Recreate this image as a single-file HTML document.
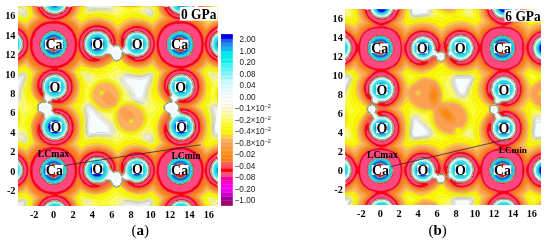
<!DOCTYPE html>
<html><head><meta charset="utf-8"><style>
html,body{margin:0;padding:0;background:#fff;}
svg{display:block;}
.al{font-family:"Liberation Serif",serif;font-weight:bold;font-size:14.6px;text-anchor:middle;fill:#000;}
.tk{font-family:"Liberation Serif",serif;font-weight:bold;font-size:10.3px;fill:#000;}
.cl{font-family:"Liberation Sans",sans-serif;font-size:8.8px;fill:#1a1a1a;}
.sup{font-size:6px;}
.ti{font-family:"Liberation Serif",serif;font-weight:bold;font-size:15.3px;fill:#000;}
.lc{font-family:"Liberation Serif",serif;font-weight:bold;font-size:9.8px;fill:#000;}
.pl{font-family:"Liberation Serif",serif;font-size:15px;fill:#000;}
</style></head><body>
<svg width="550" height="241" viewBox="0 0 550 241" xmlns="http://www.w3.org/2000/svg">
<rect width="550" height="241" fill="#fff"/>
<clipPath id="ca"><rect x="18" y="6.8" width="199.5" height="199.3"/></clipPath><g clip-path="url(#ca)"><rect x="18" y="6.8" width="199.5" height="199.3" fill="#fc4880"/><path fill="#fc0010" stroke="#707070" stroke-width="0.35" stroke-opacity="0.18" d="M15.3 210l24 0 .2-2.3 1.3-2.9 3.2-4.1 6-3.5 3.5-.4 5.8.4 4.6 2.2 4.7 4.8 2.3 5.8 94.8 0 1.2-4.6 3.5-4.7 3.4-2.3 5.9-1.6 6.2.5 3.1 1.1 3.2 2.3 3.7 4.7 1.4 4.6 24.1 0 0-54.3-4.7 1.5-3.6 3-2.6 3.5-1.5 5.8.2 3.5 2.4 5.7 2.8 3.3 4.8 3.7-1.4 0-4.7-2.3-3.4-3.5-2.3-4.6-.6-4.6.7-5.9 2.3-4.6 5-4.6 1.9-1.1 4.7-1.3 0-123.6-4.7 1.5-3.7 3.1-2.5 3.4-1.5 5.8.2 3.5 2.4 5.8 2.8 3.2 4.8 3.7-1.4 0-4.5-2.2-3.6-3.6-2.3-4.6-.6-4.6.7-5.9 2.3-4.6 5-4.6 1.9-1.1 4.7-1.3 0-24.2-23 0-2.4 7-3 3.4-2.9 2.3-2.5 1.2-5.3 1.2-6.1-.9-3.5-1.5-4.6-4.3-2.3-5.5 1.2.4.4 1.3 2 2.4 3.3 3.1 4.7 2.1 6.9.2 5.8-2.6 3-2.8 2.4-4.7.4-2.3-124.2 0-.8 3.8-3.5 5.7-4.6 3.5-6.9 2.1-2.4 0-4.6-1.1-4.2-2.4-4.1-4.6-1.1-2.4.1-2.4.3 1.3 4.1 4.6 3.7 2.9 3.5 1.3 4.6.3 2.3-.2 3.5-1.3 3.5-2.8 2.9-3.7 1.4-4.6-55.3 0 0 25.4 5.6 2.4 3.7 3.4 2.3 4.4 1 4.9-.8 5.8-2.5 4.8-3.4 3.3-5.9 2.4 0 94.7 5.6 2.4 3.7 3.4 2.3 4.4 1 4.9-.8 5.8-2.4 4.6-3.5 3.5-5.9 2.4 0 24.2zM48 191.5l-5.9-2.3-6-5.6-2.3-4.3-1.2-3.9 0-9.5 3.4-8 2.4-2.7 4-3.1 6.2-2.3 10 0 6.4 2.3 4.2 3.5 2.8 3.5 2.5 6.9.3 5.8-.4 4.6-2.4 5.9-2.6 3.4-4.3 3.5-5.8 2.3-4.7.4-5.7-.3zM174.7 191.5l-7.8-3.5-3.4-3.3-2.4-3.6-2.3-8.1.1-4.7 1.1-5.2 1.1-2.9 2.3-3.4 3.6-3.5 2-1.2 6-2.3 10.5 0 3.5 1.1 5.7 3.5 2.4 2.4 2.3 3.9 1.2 3 .9 5.8-.9 8.1-3.5 7-5.6 4.6-5.8 2.3-4.8.4-5.8-.4zM91.5 185.7l-3.3-1.2-2.9-2.3-2.9-3.4-1.2-2.4-1.1-4.4 0-3.7 1.2-4.6 1.1-2.3 2.9-3.5 5.2-3.5 3.5-1.1 4.6-.2 5.8 1.5 4.7 3.2 3.4 4.8 1.2 3.7 0 4.4-1.2-1.2-.7-3.5-1.8-3.4-4.6-4.7-3.3-1.8-5.8-.5-3.4.4-2.4 1-4.2 3.2-2.4 3.5-1.2 3.5.2 6.9 2.1 4.6 5.5 5.5 1.3.3.8 1.2-.9 0zM135.2 185.7l-.9-1.2 4.9-.3 3.4-1.3 3.5-2.4 3.2-4.1 1-2.3.4-4.6-.2-2.3-1.3-3.5-5.4-5.5-4.6-1.4-7 .4-3.5 2-5.7 6-.1-1.5 2.5-4.6 4.4-3.5 4.7-1.4 5.8.1 5.8 2.4 4.7 4.7 2.3 5.7 0 6.1-2.2 5.5-4.5 4.7-4.8 2.3-5.9 0zM53.4 144l-4.5-1-2.4-1.1-3.2-2.5-3.8-5.8.1-2.4.3 1.3 4.3 4.8 3.5 2.7 3.5 1.3 6.9.1 3.5-1.3 3.7-3 2.7-3.5 1.3-3.4-.1-7-2.1-4.6-3.3-3.5-5.7-3.1-2.5-.3-1.3-1.2 5 0 4.6 2 3.5 2.6 3.5 5.7 1 7.1-.9 4.6-1.3 2.8-2.1 3-2.5 2.3-4.2 2.3-5.1 1.2-2.3 0zM180.2 144l-5.1-1.1-3.9-2.3-3.3-3.5-2.1-5.2 1.2.4 1.4 2.5 4.3 4.3 4.7 2.1 2.3.4 5.8-.4 5.8-3.3 1.8-2 2.4-4.6.5-4.6-.5-4.6-1.1-2.3-3.1-3.9-3.5-2.6-2.3-1.1-3.5-.5-1.2-1.2 4.9 0 5.5 2.3 3.7 3.5 2.2 3.4 1.1 3.5.2 5.8-1.3 4.8-1.1 2.1-3 3.5-5.3 3.5-6.8 1.2zM60.4 101.2l-.2-1.1 4.4-3.5 2.4-3.5 1.4-4.6-.1-4.6-1.3-3.5-5.4-5.5-2.3-1.1-4.7-.7-4.6.7-2.3 1.2-5.2 5.4-1.5 3.5-.2 4.3-1.2.9-.3-6.4 1.5-4 1-1.7 3.6-3.6 4.6-2.3 8.1-.2 4.1 1.4 5.2 4.3 2.4 3.8 1.1 3.4.1 3.6-.1 2.3-1.2 3.5-3.2 4.6-3.3 2.3zM186.6 100.1l1.2-.4 3.5-3.3 2.8-4.4.8-5.8-.4-3.5-1-2.3-3.4-4.2-3.5-2.1-4.6-1-5.8.9-3.5 2.1-2.9 3.2-2.5 5.7-.4 4.7-1.1-1.1-.2-2.4.2-3.6 1.1-3.3 3.5-4.7 3.4-2.3 4.7-1.4 7.5.3 3 1.1 3.2 2.3 3.7 4.7 1.2 3.2.4 3.7-.4 4.9-1.2 2.9-2.3 3.2-3.4 2.9-3.6.9zM48.1 65.4l-5.9-2.3-3.1-2.3-3-3.3-2.3-4.3-1.2-3.9 0-9.5 3.4-8 4.6-4.6 4.2-2.3 3.7-1.2 10.2 0 6.4 2.4 4.6 3.9 2.3 3 2.5 6.9.3 5.8-.5 4.7-2.3 5.8-3.8 4.6-3.1 2.3-5.8 2.3-4.7.4-5.7-.3zM174.8 65.4l-3.6-1.2-4.3-2.3-3.4-3.3-2.4-3.6-2.3-8.1.1-4.7 1.1-5.2 1.1-2.8 2.3-3.5 3.6-3.5 2.3-1.3 5.7-2.2 10.5 0 3.5 1.1 5.7 3.5 2.4 2.4 2.3 3.9 1.2 3 .9 5.8-.9 8.1-3.5 7-5.6 4.6-5.8 2.3-4.8.4-5.8-.4zM91.6 59.6l-3.4-1.2-2.9-2.3-2.9-3.4-1.2-2.4-1.1-4.4 0-3.7 1.2-4.6 1.1-2.3 2.9-3.5 5.2-3.5 3.4-1.1 4.7-.2 5.6 1.4 3.7 2.2 3.5 4 2.3 5.6 0 4.4-1.2-1.2-.7-3.5-1.8-3.4-4.6-4.7-3.3-1.8-5.8-.5-3.4.4-2.4 1-2.3 1.4-2.3 2.3-2 3-1.2 3.5.2 6.9 2.1 4.7 5.5 5.4 1.3.3.8 1.2-.9 0zM135.3 59.6l-1-1.2 4.9-.3 3.4-1.3 3.5-2.4 3.2-4.1 1-2.3.4-4.6-.2-2.3-1.3-3.5-5.4-5.5-3.5-1.3-3.4-.2-4.7.5-2.3 1.1-6.9 6.9-.1-1.5 1.2-2.7 2.3-3.1 3.4-2.3 4.7-1.4 7 .3 4.6 2.2 4.7 4.7 2.3 5.7 0 6.1-2.2 5.6-4.5 4.6-4.8 2.3-5.9.1zM41.9 210l26.4 0-1.3-3.5-4.2-4.6-3.5-2-4.7-.7-4.6.7-3.5 2.1-4 4.5-1.5 3.5zM168.1 210l26.6 0-1.3-3.5-3.3-4.2-3.5-2.1-4.6-1-4.6.5-4.7 2.5-2.9 3.2-2.1 4.6zM50 184.2l7 .1 1-.9 1.3 0 1.1-1.2 1.2-.1 3.3-3.4.2-1.1 1.1-1.2 0-1.2 1-1.1 0-6.9-1-1.1 0-1.2-1.4-2.3-3.2-3.2-5.8-2.6-4.6 0-1.2 1.1-2.3.1-4.1 3.4-2.7 3.5-.1 2.3-1.1 1.1 0 4.7 1.1 1.1 0 2.3 3.4 4.4 3.5 2.5 1.4.1zM177.4 184.5l5.8 0 1.1-1.1 2.3-.5 5.7-5.3.1-1.3 1.1-1 .1-8.1-1.4-3.5-4.4-4.6-1.2 0-1.1-1.2-1.3 0-1-.9-5.8-.1-1.1 1-2.4.5-5.8 5.3 0 1.2-1.1 1.1 0 3.6-.6 1.1.6 1.1 0 3.5 1.1 1.1 0 1.2 5.8 5.6 2.3.2zM15.3 183.2l3.5-2.2 3.2-3.4 2-4.6.2-3.5-1.1-4.6-1.2-2.3-3.1-3.3-4.7-2.3 0 26.4zM50 58.1l7 .1 1-.9 1.3 0 1.1-1.2 1.2-.1 3.3-3.3.2-1.2 1.1-1.2 0-1.2 1-1.1 0-6.9-1-1.1 0-1.2-1.4-2.3-3.2-3.2-5.8-2.6-4.6 0-1.4 1.1-2.1.1-4.2 3.4-.4 1.2-2.2 2.3-.1 2.3-1.1 1.1 0 4.7 1.1 1.1 0 2.3 2.3 2.4.2 1.1.9.9 3.5 2.6 1.4 0zM177.4 58.4l5.8 0 1.1-1.1 1.2 0 2.3-1.2 4.5-4.6.1-1.2 1-1.1.2-8.1-1.4-3.5-4.4-4.6-1.2 0-1.1-1.1-1.3-.1-1-.9-5.8-.1-1.1 1-2.4.5-5.8 5.3 0 1.2-1.1 1.1 0 3.6-.6 1.1.6 1.1 0 3.5 1.1 1.1 0 1.2 5.8 5.6 2.3.2zM15.3 57.1l3.5-2.2 3.2-3.4 1.9-4.6.3-3.5-1.1-4.6-1.2-2.3-3.1-3.3-4.7-2.3 0 26.4z"/><path fill="#fc0010" stroke="#707070" stroke-width="0.35" stroke-opacity="0.18" d="M15.3 210l22.9 0 1.9-5.8 3-3.8 3.4-2.6 3.5-1.4 3.5-.6 3.5.1 3.4.8 4.7 2.5 4.4 5 2.2 5.8 93.1 0 1.9-5.8 3.7-4.5 5.8-3.2 4.7-.7 6.9 1.2 4.6 2.8 3.7 4.4 2.1 5.8 23.2 0 0-23.2-3.5-.3-3.5-1.4-4.9-4-2.6-4.7-1.2-5.7 1.2-7 2.9-4.9 5.8-4.7 5.8-1.8 0-91.6-3.5-.3-3.5-1.4-4.9-4-2.6-4.7-1.2-5.7 1.2-7 2.9-4.9 1.9-2 3.9-2.7 5.8-1.8 0-23.3-22.1 0-1.7 5.8-4 5.4-4.6 3.1-5.8 1.6-3.5 0-3.7-.8-3.3-1.4-2.9-2.1-3.6-4.6-1.2-3.5-.1-3.5-92.2 0-1.7 5.8-3.6 5-4.6 3.3-3.5 1.3-3.5.5-6.4-.8-2.9-1.2-3.2-2.3-3.6-4.6-1.3-3.9-.2-3.1-24.1 0 0 24.5 4.7 1.7 4.6 3.9 2.9 4.6 1.3 5.8-.2 3.5-1 3.4-3 5-4.6 3.7-4.7 1.5 0 93 4.7 1.7 4.6 3.9 2.9 4.6 1.3 5.8-.2 3.5-1 3.4-2.7 4.7-4.9 4-4.7 1.5 0 23.4zM48.2 192.6l-5.1-1.6-3.5-2.1-3.4-3.2-3-4.6-1.5-4.7-.6-4.6.9-8.1 1.3-3.5 2.8-4.4 3.5-3.3 3.5-2.1 3.4-1.3 7-1 8.1 1.3 4.6 2.2 3.5 2.7 4.2 5.9 2.2 8.1 0 4.7-1.2 5.7-2.2 4.7-1.7 2.3-5.9 4.8-3.5 1.5-5.8 1.2-6.9-.4zM174.8 192.6l-3.2-.8-5-2.6-3.1-2.7-3.1-4.3-2.4-6.9-.3-5.8.9-5.8 1.3-3.5 2.4-3.9 3.5-3.5 3.5-2.2 3.4-1.4 5.8-1 4.7.1 4.6 1 3.5 1.4 3.9 2.6 4.7 5.8 1.5 3.5 1.1 4.6.2 4.6-.9 5.8-1.8 4.6-2.4 3.5-2.9 2.8-3.4 2.2-8.1 2.4-3.5.2-4.6-.6zM89.1 185.7l-3.9-2.3-2.3-2.3-3-5.8-.7-3.5.2-4.6 2.1-5.8 4.4-5.3 3.5-2.2 4.6-1.5 7 .1 5.8 2.3 3.6 3.1 2.5 3.5 1.7 5.8-.1 3.5-.8.6-1.9-1.8-.5-2.3-2.2-4.7-3.5-3.5-3.5-2.1-4.6-.7-4.6.6-4.7 2.7-3.4 4.2-1.1 2.3-.5 4.7.4 3.4 1.7 3.5 4.1 4.6 7.2 3.5-1.4 1.1-5.8-1zM132.8 185.7l-1.7-1-.6-1.3 6.4.3 3.4-.6 4.7-2.4 2.9-3.1 1.3-2.3.9-3.5 0-3.5-1-3.4-1.8-2.8-2.3-2.3-4.7-2.4-3.4-.6-4.7 1.1-3.5 2-3.4 3.8-2.3 4.9-1.2.4-.3-3 .5-2.3 2.4-4.6 4.3-3.8 5.8-2 7 .3 5.8 2.9 4.4 4.9 2.2 5.8-.2 6.9-1.2 3.5-2.2 3.5-5.3 4.2-5.8 1.5-5.8-.8zM49.3 144l-5.1-2.6-3.1-3.1-2.6-5.8-.4-2.3.3-2.5 1.2.6 3.2 6.5 4.9 4.3 3.5 1.4 3.4.4 3.5-.3 3.5-1.4 3.5-2.9 2.5-3.8.9-2.3 0-7-2.3-4.6-3.4-3.4-4.7-2.3-3.5-.7-1.6-1.7.5-.7 3.5-.3 5.8 1.3 4.6 3.2 2.8 3.4 1.2 2.4 1.1 3.4.4 3.5-.3 3.5-1.1 3.4-3.7 5.8-5 3.7-5.8 1.7-7-.5zM175.9 144l-4.3-2-3.9-3.7-2.4-4.7-.4-4.6.9-1.6 2.1 5.1 2.5 3.5 2.3 2.1 4.7 2.4 3.5.4 4.6-.5 4.6-2.6 2.3-2.4 2.3-4.1.7-3.4-.7-5.8-3-4.7-2.7-2.4-3.5-1.8-4.6-1.4-1.3-1.3.1-.6 3.5-.4 4.6.7 5.8 3.4 3.2 3.8 1.2 2.4 1.1 3.4.3 3.1-.9 6.2-3.1 5.8-2.3 2.3-4.1 2.7-5.8 1.6-3.5 0-3.5-.8zM184.3 102.4l-1.1-.2-.9-1 5.5-2.6 3.5-3.1 2.3-3.5 1-3.5 0-3.5-1-3.4-2.3-3.4-2.3-2.2-3.5-1.7-3.5-.8-3.5.3-3.4 1.4-4.6 4.1-1.8 3.4-.8 4.7.2 5.9-1.1-.4-2-4.4.2-6.9 2.9-5.6 4.6-4 5.8-2.1 7 .3 5.8 2.6 4.1 4.2 2.6 5.7.2 7-2.2 5.8-1.7 2.3-3 2.5-3.5 1.6zM55.7 101.2l3.6-1.5 3.5-2.3 2.8-3.1 1.8-3.5.6-3.4-.6-4.7-1.9-3.4-2.7-2.9-2.4-1.6-3.4-1.2-3.5-.1-4.6 1.5-2.4 1.6-3.4 3.8-1.1 2.3-.7 4.7 0 5.7-.5.1-1.2-1.5-1.5-5.5.9-5.8 3.8-5.8 3.7-2.9 3.5-1.4 3.5-.6 3.5.1 3.4.8 4.7 2.5 2.8 2.7 2.3 3.5 1.6 5.7-.1 4.7-.8 2.7-3.2 5.4-2.6 2.2-3.5 1.8-4.6.6-1.2-1zM48.3 66.5l-5.2-1.6-3.1-1.8-2.7-2.3-2.8-3.5-1.9-3.9-1.3-5.4-.2-4.6.9-5.8 1.9-4.6 2.2-3.3 3.5-3.3 3.5-2.1 3.4-1.3 7-1 8.1 1.3 4.6 2.2 3.5 2.7 2.9 3.6 1.8 3.5 1.3 4.6.5 4.7-1.3 8.1-3.9 6.9-5.9 4.8-3.5 1.5-5.8 1.2-6.9-.4zM174.9 66.5l-3.3-.8-5-2.6-3.1-2.7-3.1-4.3-2.4-6.9-.3-5.8.9-5.8 1.9-4.6 2.3-3.5 3-2.8 3.5-2.2 4.6-1.7 5.8-.8 8.1 1.2 3.5 1.4 3.9 2.6 4.7 5.8 1.5 3.5 1.1 4.6.2 4.6-1 6-1.7 4.4-2.4 3.5-2.9 2.8-3.4 2.2-8.1 2.4-3.5.2-4.6-.6zM89.1 59.6l-3.9-2.3-2.3-2.3-3-5.8-.7-3.5.2-4.6 2.1-5.8 4.4-5.3 5.8-3.1 4.6-.8 3.5.1 7 2.5 3.6 3.1 2.5 3.5 1.7 5.8-.1 3.5-.8.6-1.9-1.8-.5-2.3-2.2-4.7-4.7-4.5-2.3-1.1-4.6-.7-4.6.6-4.7 2.7-3.4 4.2-1.1 2.3-.5 4.7.4 3.4 1.7 3.5 4.1 4.6 7.2 3.5-1.4 1.1-5.8-1zM132.8 59.6l-1.7-1-.6-1.3 6.4.3 3.4-.6 3.5-1.6 3.2-2.7 2.2-3.5.7-2.3.3-3.5-.6-3.5-1.9-3.4-2.7-2.8-2.4-1.6-4.6-1.3-4.6.6-4.7 2.4-3.4 3.8-2.3 4.9-1.2.4-.3-3 .8-3.4 3.1-4.7 4.5-3.2 3.5-1.2 3.5-.4 5.7.9 2.4 1 4 2.9 3.4 4.7 1.3 3.4.4 3.5-.7 5.8-3.1 5.8-5.3 4.2-5.8 1.5-5.8-.8zM43.1 210l24.4 0-1.3-3.5-3.4-4-2.4-1.6-4.6-1.3-3.5.2-3.4 1.3-2.4 1.6-3.4 3.8-1.2 3.5zM169.3 210l24.9 0-1.3-3.5-3.9-4.4-3.5-1.7-3.5-.8-4.6.7-3.5 1.7-3.4 3.4-2.2 4.6zM220.2 184.6l1.2.6 0-28.8-4.7 1.6-2.6 2.2-2.7 3.5-1.6 4.6.1 4.7 1.2 3.4 3.3 4.5 5.7 3.6zM50 183.6l1.2.9 4.6 0 1.8-1.1 1.7-.1 4.5-3.4 2.4-3.5 0-1.5 1.1-1.9 0-4.7-1.1-1.8 0-1.6-3.4-4.4-3.5-2.5-2.4-.1-1.1-1.1-4.6.1-1.2 1.1-2.3.2-5.7 5.5-.9 1.2-.3 2.5-.9.9-.2 3.5.2 1.2.9.9.2 2.5 2.7 3.5 4 3.4 2.1.1zM50 176.4l-2.3-2.7 0-5.5 1.1-1 .1-1.2 2.1-1.1 6 0 2.3 2.3 0 6.9-2.3 2.3zM177.4 184.4l5.8-.1 1.1-1 1.2 0 1.1-1.1 1.2 0 4.3-4.6 1.4-3.5 0-6.9-2.3-4.6-3.4-3.4-1.2-.1-1.1-1.1-1.7-.1-1.8-1.1-3.5 0-2 1.1-1.4.1-1.2 1.1-1.2 0-4.5 4.6 0 1.2-1.2 1.1 0 9.3 1.2 1.1 0 1.2 4.5 4.6 3.6 1.2zM177.4 176.4l-3.5-3.4 0-4.7 3.5-3.4 5.8 0 2.3 2.3.1 1.1 1 1.1 0 2.6-1.1 2.1-2.3 2.3zM15.3 182.5l3.5-2.1 3.3-4 1.1-2.3.3-4.6-.5-3.5-1.9-3.4-3.5-3.5-3.5-1.5 0 25.3zM220.2 58.5l1.2.6 0-28.8-4.7 1.6-2.3 1.9-3 3.8-1.6 4.6.1 4.7 1.2 3.4 3.3 4.5 5.7 3.6zM50 57.4l1.2 1 4.6 0 1.8-1.1 1.7-.1 4.5-3.4 2.4-3.5 0-1.5 1.1-1.9 0-4.7-1.1-1.8 0-1.6-2.5-3.5-4.4-3.4-2.3-.1-1.2-1-4.6 0-1.2 1.1-2.3.1-5.7 5.6-.9 1.2-.3 2.5-.9.9-.2 3.5.2 1.2.9.9.2 2.5 2.8 3.5 3.9 3.4 2.2.1zM50 50.3l-2.3-2.9 0-5.3 1-1 .2-1.2 1.9-1.1 6.2 0 2.3 2.3 0 6.9-2.3 2.3zM177.4 58.3l5.8-.1 1.1-1 1.2 0 1.1-1.1 1.2 0 4.3-4.6 1.4-3.5 0-6.9-2.3-4.6-3.4-3.4-5.8-2.3-3.5-.1-2 1.1-1.4.1-1.2 1.1-1.2.1-4.5 4.5 0 1.2-1.2 1.1 0 9.3 1.2 1.1 0 1.2 4.5 4.6 3.6 1.2zM177.4 50.3l-3.5-3.4 0-4.7 3.5-3.4 5.8 0 2.3 2.3.1 1.1 1 1.1 0 2.6-1.1 2.1-2.3 2.3zM15.3 56.4l3.5-2.1 3.3-4 1.1-2.3.3-4.6-.5-3.5-1.9-3.4-3.5-3.5-3.5-1.5 0 25.3zM52.3 14.5l5.8 0 3.5-1.4 4.7-4.4 1.8-3.5.5-2.3-28.8 0 2.1 4.4 2.3 2.9 3.5 2.7 4.4 1.6zM179.7 14.7l5.8-.4 4.6-2.6 3.5-4.2 1.6-4.6-28.9 0 1.6 3.5 2.5 3.5 2.3 2.1 4.7 2.4 1.3.1z"/><path fill="#fc5060" stroke="#707070" stroke-width="0.35" stroke-opacity="0.18" d="M15.3 210l22 0 1.1-4.5 4.3-5.9 3.8-2.7 6.7-2-9-2.2-6.1-3.5-3.4-3.5-2.2-3.5-2.2-6.7-.3-3.7.3-6 1.2-4.2 1.1-2.7 3.5-4.8 2.3-2.2 5.8-3.2 4.7-1.3 3.4-.3 7 .5 3.5 1 4.6 2.3 5.8 5.7 2.4 4.8 1.3 4.6.2 7-.4 3.4-2.4 6.4-3.4 4.7-3.5 3-4.6 2.3-6.5 2.1 5.3 1.3 3.5 1.9 2.3 2 3.5 4.8 1.6 5.1 91.4 0 .7-3.5 1.2-2.5 3.5-4.5 5.5-3.4 4.9-1.2-5.2-1.1-6.5-2.3-3.4-2.3-3.3-3.5-3.6-6.9-1.3-7 1.3-9.2 2.1-4.7 4.9-5.8 6.9-3.7 6.9-1.3 5.8.2 4.7 1.2 6.5 3.6 5.1 5.8 2.3 5.4.6 3.9.3 3.5-.9 7.4-3.5 7.1-2.3 2.8-4.8 3.5-9.4 3.4 5 1.2 5.6 3.5 3.6 4.5 2 5.9 22.3 0 0-22.3-5.8-1-5.2-3.3-4.1-5.9-1.9-6.8 1.6-7 2.6-4.9 4.7-4.4 4.7-2.3 3.4-.6 0-89.9-5.4-.8-2.6-1.2-3-2.3-4.1-5.9-1.9-6.8 1.6-7 2.6-4.9 3.1-3.2 3.5-2.3 6.2-1.8 0-22.5-21.3 0-1.5 5.8-1.5 2.7-2.7 3.1-5.1 3.5-6.1 1.6-7-.6-2.8-1-4.1-2.8-4.1-5.3-1.1-3.5-.2-3.5-90.3 0-1.6 5.8-2.1 3.5-2.5 2.7-4.6 3.1-3.5 1.2-4.7.5-3.4-.3-4.4-1.4-4.9-3.4-3.5-5.2-.9-3-.2-3.5-23.2 0 0 23.7 4.7 1.6 4.8 3.6 3.3 4.9 1.1 3.2.4 3.5-.4 4.7-1.1 3.4-2.1 3.5-5.3 4.6-5.4 1.9 0 91.2 4.7 1.6 4.8 3.6 3.3 4.9 1.1 3.2.4 3.5-.7 5.8-2.9 5.8-5.3 4.6-5.4 1.9 0 22.4zM89.3 186.8l-5.5-3.4-4-5.8-1.3-4.6-.1-4.7 1.7-6.2 2.3-3.7 2.8-2.8 6.2-3.5 6.1-.8 5.6.8 2.5 1.1 4.6 3.2 3.5 4.6 1.2 2.7.7 4.6-.2 2.4-1.7 1.1-2.3-2.3-1.2-4.6-1.1-1.2-.2-1.1-3.3-3.5-3.5-1.9-1.1-.4-8.1 0-1.2 1.1-1.2.1-5.6 5.7-.1 1.3-.9 1-.1 8.1 1 1.2 0 1.1 2.6 3.5 4.3 3.3 8.8 2.5-1.2 1.1-3 .8-4.6-.1-2.3-.6zM133.5 186.8l-4.8-2.8-1.4-1.8.1-1.1 7.1 2.2 4.7 0 3.4-1.2 3.5-2.8 3.4-5.2 0-8.1-1.1-1.4 0-.9-4.6-4.6-2.3-1.1-3.5-1.1-5.8 1.1-2.3 1.2-4.3 4.5-1.2 2.3-1.4 7-1.2 0-1-3.5.2-5.8 3.1-5.8 4.6-3.6 5.8-1.9 3.5-.2 3.5.6 5.8 2.6 4.7 4.8 2.5 5.8.4 3.5-.3 4.6-2.4 5.8-3 3.5-3.1 2.3-2.3 1.1-4.6 1-4.7-.5zM49.9 145.2l-5.7-2.7-4.3-4.2-2.4-5.8-.2-3.5 1-4.6 1.3-.3 1.3 6.1 1 2.3 1.4 2.3 3.2 3.3 5.8 2.4 5.8 0 4.7-2.3 3.4-3.4 2.3-4.6-.1-7-1-1.1-.1-1.2-1.1-1.1-.3-1.2-2-2.2-3.5-2.4-1.3 0-2.1-1.1-2.4-.1-2.2-2.3 1.1-1.7 1.1-.2 7 .7 5.8 3.4 3.8 4.7 2.2 5.8.3 3.5-.5 4.8-1.2 3.3-2.1 3.5-4.8 4.5-2.3 1.3-4.7 1.4-3.5.3-4.6-.6zM176.5 145.2l-5.2-2.3-3.2-2.7-2.3-3-1.9-5.9 0-3.4.7-2.8 1.2-1.5 2.7 8.9 2.6 3.4 4 3.5 1.2 0 2.2 1.1 5.8 0 3.5-1.2 5.7-5.7.1-1.1 1.1-1.2-.1-9.2-1-1.1-.2-1.2-4.4-4.6-4.7-2.1-2.3-.3-2.5-2.3.2-1.5 2.3-.5 6.1.8 5.9 3.5 3.1 3.4 1.3 2.4 1.3 3.5.6 4.6-.8 5.8-2.4 5-2.7 3.1-2.9 2.3-6 2.5-8.1 0zM52.7 102.4l-1-1.2 8.7-2.4 5.8-5.7 1.1-2.3 0-8.1-1.1-1.4 0-.9-5.8-5.5-4.6-1.3-3.5.2-2.3.9-2.3 1.2-4.5 4.5-.1 1.2-.9 1.1-.4 4.7.2 3.4 1.2 3.5-.1 2.4-2.3-1.8-2-2.9-1.5-4.6.1-4.7 1-3.3 2.2-3.6 3.6-3.6 4.1-2.2 4.8-1.1-11.2-3.3-3.8-2.5-3.4-3.5-3.2-5.8-1.2-4.4-.3-6 .3-3.7 2.3-6.9 2.2-3.3 3.6-3.7 3.5-2.2 6.4-2.2 7.5-.4 3.5.5 5.8 2 3.4 2.2 3.9 3.8 3.2 5.8 1.3 4.6.3 4.7-.5 5.7-1 3.5-2.5 4.9-5.8 5.7-4.6 2.3-6.3 2.2 5.1 1.2 3.5 1.9 4.6 4.7 2.3 4.9.7 4.6-.4 4.6-1.2 3.5-3.7 5-4.6 3-3.5.9-5.8-.5zM179.3 102.4l-1.1-1.2 8.4-2.3 4.6-3.4 2.3-3.5.1-1.8.9-1.7 0-3.5-.9-1.6-.1-1.8-2.4-3.5-4.5-3.4-4.6-1.1-5.8 1.1-3.5 2.3-3.4 4.6-1.1 3.4.1 4.7 1.4 4.6-.4 2.4-1.4-1.2-2.5-3.5-1.3-3.5-.3-3.5.8-4.6 2.6-4.6 3.2-3.3 4.4-2.5 4.8-1.1-9.2-2.4-5.8-3.4-2.4-2.3-2.4-3.5-2.1-4.6-1.3-9.3 2.2-9.2 2.8-4.7 3.2-3.4 3.6-2.4 3.4-1.4 4.6-1.1 5.8-.2 3.6.4 3.9 1.2 4.1 2 3.5 2.7 3.5 4.5 1.2 2.4 1.2 3.4.8 7-.9 7.4-2.3 5.3-2.4 3.4-5.8 4.6-9.3 3.6 4.8 1.1 3.4 1.8 3.3 2.8 2.5 3.4 1.1 2.4 1.2 5.8-1.2 6.9-1.1 2.4-2.4 3.1-4.6 3.4-5.8 1.3-4.6-.7zM89.4 60.8l-5.6-3.5-4-5.8-1.3-4.6-.1-4.7 1.7-6.2 3.8-5.3 3.2-2.6 3.4-1.7 4.7-1.1 3.4-.1 4.7.9 2.6 1.1 4.3 3.1 3.5 4.6 1.7 5 0 4.7-1.7 1.1-2.3-2.3-1.2-4.6-1.1-1.2-.1-1.1-3.4-3.5-3.5-2-8.1-.3-3.5 1.2-5.6 5.7-.1 1.3-.9 1-.1 8.1 1 1.2 0 1.1 2.6 3.5 4.3 3.3 8.8 2.5-1.3 1.2-2.9.7-4.6-.1zM133.5 60.8l-4.8-2.9-1.4-1.8.1-1.1 8.3 2.3 3.5-.1 2.2-1.1 1.2 0 4-3.4 2.9-4.7 0-8.1-1.1-1.4 0-.9-4.6-4.6-2.3-1.1-3.5-1.1-5.8 1.1-2.3 1.2-4.4 4.5-1.1 2.3-1.4 7-1.2 0-1-3.5.2-5.8 3.1-5.8 4.6-3.6 5.8-1.9 3.5-.2 3.5.6 6.1 2.8 2.5 2.3 2.6 3.5 2 5.8-.1 6.9-2.4 5.8-3 3.5-3.1 2.3-2.5 1.2-4.4.9-4.7-.5zM43.1 210l24.2 0 0-1.2-1.1-1.4 0-.9-5.8-5.5-2.3-.4-1.1-.8-3.5-.1-5.8 2.2-4.5 4.6-1.2 3.5zM169.3 210l24.5 0-.3-2.3-3.4-4.5-3.5-2.4-4.6-1.1-5.8 1.1-1.2 1.1-1.1.2-3.3 3.3-2.1 4.6zM51.2 184.4l4.6 0 1.4-1 2.1-.1 1.1-1.2 2.4-1.2 3.3-4.5.1-1.7 1.1-1.7 0-4.7-1.1-1.4-.1-2-3.3-4.2-1.2-.4-2.3-2.3-2.3 0-1.2-1.1-4.6.1-1.2 1-2.3.3-1.2.9-4.5 4.5-1.2 2.3 0 1.7-1.1 1.8 0 2.3 1.1 1.9.3 2.7 6.6 6.8 2.3.2zM52.3 177.6l-1.1-1.1-1.2 0-2.3-2.3-.9-3.5.9-3.6 2.3-2.3 4.1-1.1 1.7 1.1 1.2 0 2.3 2.3 0 1.2 1.2 1.2 0 2.3-1.1 1.2-.1 1.2-2.3 2.3-1.2 0-1.1 1.1zM177.4 184.4l5.8-.2.8-.8 1.5-.1 1.1-1.1 1.2-.1 3.4-3.4 2.3-4.6 0-6.9-2.3-4.6-3.4-3.4-1.2 0-1.1-1.2-2.1-.1-1.4-1-3.5 0-1.7 1-1.7.1-1.1 1.1-1.3.1-4.5 4.5 0 1.2-1.1 1.1 0 9.3 1.1 1.1 0 1.2 4.5 4.5 3.6 1.3zM179 177.6l-1.6-1.1-1.2-.1-2.3-3 0-5.2 1-1 .1-1.2 1.2-1 4.7-1.3 1.1 1.1 1.6.1 1.9 1.4 0 .9 1.2 1.1 0 4.7-1.2 1.1 0 1.2-1.5 1.1-2.7 1.2-1.6 0zM220.2 183.8l1.2.5 0-27.5-2.3.3-3.5 2-3.4 3.5-2.3 5.7.1 4.7 1 1.2 0 1.1 1.2 2.3 4.5 4.6 2.6 1.2zM14.8 182.2l1.6-.3 1.2-.9 4.4-4.6 1.3-3.4 0-5.8-3.4-5.8-2.3-2.2-3.5-1.3 0 24.6zM51.2 58.3l4.6 0 1.3-1 2.2-.1 1.1-1.2 2.4-1.2 3.3-4.5.1-1.7 1.1-1.7 0-4.7-1.1-1.4-.1-2-3.3-4.2-1.2-.4-2.3-2.2-2.3-.1-1.2-1.1-4.6 0-1.2 1.1-2.3.3-1.2.9-4.5 4.5-1.2 2.3 0 1.7-1.1 1.8 0 2.3 1.1 1.9.3 2.7 6.6 6.9 2.4.1zM52.3 51.5l-1.1-1.1-1.2 0-2.3-2.3-.9-3.5.9-3.5 2.3-2.4 4.3-1.1 1.5 1.1 1.2 0 2.3 2.4 0 1.1 1.2 1.2 0 2.3-1.2 1.2 0 1.2-2.3 2.3-1.2 0-1.1 1.1zM177.4 58.2l5.8-.1.8-.8 1.5-.1 1.1-1.1 1.2-.1 3.4-3.3 2.3-4.7 0-6.9-2.3-4.6-3.4-3.4-1.2 0-1.1-1.2-2-.1-1.5-1-3.5 0-5.8 2.3-4.5 4.5 0 1.2-1.1 1.1 0 9.3 1.1 1.1 0 1.2 4.5 4.5 3.7 1.3zM179.1 51.5l-1.7-1.1-1.2 0-2.3-3.1 0-5.3 2.3-3.2 4.7-1.2 1.1 1.1 1.7.1 1.8 1.4 0 .9 1.2 1.1 0 4.7-1.2 1.1 0 1.2-1.5 1.1-2.8 1.2-1.5 0zM220.2 57.7l1.2.5 0-27.5-2.3.2-1.2 1-1.2.2-3.4 3.2-2.3 3.5 0 1.2-1.1 2.2.2 4.7 2.1 4.6 4.5 4.6 2.7 1.2zM14.7 56.1l1.7-.3 3.5-3.1 2.1-2.4 1.3-3.4 0-5.8-1.6-3.5-4.1-4.5-1.2-.2-1.1-1-1.2 0 0 24.5zM50 13.4l1.2.9 6.9.1 4.7-2.3 3.4-3.4 1.3-3.5 1-1.1 0-1.2-27.9 0 1.3 3.5 2.4 3.5 2.2 2.1 2.4 1.3 1 0zM177.4 14.2l6.9.2 2.1-1.1 1.4-.1 5.7-5.7.1-1.1 1.1-1.2 0-2.3-27.5 0 1.4 3.5 2.5 3.5 4 3.4 1.2 0z"/><path fill="#fc6840" stroke="#707070" stroke-width="0.35" stroke-opacity="0.18" d="M15.3 210l21.3 0 .7-3.5 3.3-5.8 5.9-4.7 3.1-1.1-6.5-1.9-3.5-1.8-5.8-5.5-3.4-7-1.2-8-.6 4.6-2.9 5.8-4.6 4.5-2.3 1.3-4.7 1.4 0 21.7zM43.1 210l24.2 0-1.2-3.5-4.5-4.5-5.8-2.3-2.3.1-5.8 2.2-4.4 4.5-1.3 3.5zM73.2 209.6l0 .4 89.9 0 1.5-5.3 2.6-4 4.4-3.7 4.5-2.1-8-2.6-5.8-4.3-4-5.8-2.9-8.3-2.3 6-2.9 3.5-2.9 2.4-4.9 2.2-3.2.5-5.9-.5-4.6-2.6-3.7-4.3 4.6 0 4.9 2.2 4.7-.1 1.8-1 1.6-.1 3.5-3.1 3.4-4.9 0-8.1-2.2-3.4-3.5-3.4-2.3-1.2-4.6-1.1-2.3 1-2.4.2-1.1 1-1.2.1-3.4 3.4-2.3 4.6-.4 4.6-2 2.5-1.2-1.3-.7-2.3-.4-4.7 2.1-5.8 3.9-4.6 3.2-2.1 3.5-1.4 5.8-.5 5.8 1.2 4.9 2.8 4.4 5 2.3 6.1 3.6-8.8 3.3-4.5 2.3-2.1 5.8-3.2 3.5-1.1 4.6-.6-3.4-.8-5-2.7-4.3-4.3-2.4-5-.5-4.6.5-3.5 2.1-4.6 3.8-5.4 0 2-1.8 2.3-.4 3.4.2 4.7 2 5.7 5.8 5.7 1.4.1 2 1.1 5.8 0 1.8-1.1 1.7-.2 1.2-1 4.5-4.6 0-1.1 1.1-1.2-.2-9.2-2.1-3.5-3.3-3.4-1.2 0-1.2-1.1-1.5-.1-4.2-1.9-1.5-1.6.3-2.5 3.5-.3 3.4.4 3.5 1.2 3.5 2.2 3.5 3.5 1.5 2.4 2.1 5.8 0 7-2.5 6.9-2.8 3.5-3 2.5-4.6 2.4-3.7.9 6 1.7 6.6 4 4.7 5.8 2 4.7.6 2.8 4.6-7.7 3.5-3.3 4-2.3 5.3-1.4 0-88.1-4.7-.6-4.6-2.3-4.6-4.7-2.3-4.6-1.2-.5-2 6.2-3.8 5.6-4.6 3.7-6.9 3.5 2.3.8 4.2 2.6 4.7 5.8 1.5 3.7.6 4.4-.2 3.5-.9 3.4-3 5.2-4.6 4-2.9 1.3-6.4.5-5.4-1.7.7-1.2 2.3-1.1 3.6-.1 2-1.1 1.4-.1 4.5-3.3 2.3-3.5 1.2-5.8-1-2.2-.2-2.4-3.3-4.4-3.5-2.4-2.3-.2-2.3-1-5.8 1.2-3.5 2.3-2 2.2-2.5 5.7 0 3.5 2.2 5.6-.1 1.4-1 1.1 0 1.4-4.7-4.9-1.1-3.1-.4-2.6.4-5.8 2-4.6 2.6-3.4 4.6-3.4 3.3-1.3-7.9-2.7-5.8-4.3-4-5.8-2.9-8.3-2.3 6-2.9 3.5-2.9 2.4-5.8 2.4-5.8.2-4.9-1.5-3.2-2.5-2.6-3.3 4.6 0 4.9 2.2 4.7 0 1.7-1.1 1.7-.1 3.7-3.3 3.2-4.7 0-8.1-1.1-1.1-.1-1.2-3.3-3.4-3.5-2.2-4.6-1.2-7 2.3-4.1 4.5-1.6 3.5-.4 4.6-.8 1.4-1.2 1.1-1.2-1.3-1.2-5.8 1.2-5.1 3.5-5.3 5-3.5 3.1-1.2 3.5-.5 4.6.2 4.8 1.5 3.6 2.3 3.2 3.3 2.2 3.7 1.3 4.1 3.6-8.8 3.3-4.5 2.3-2.1 5.8-3.2 3.5-1.1 4.8-.6-3.6-.7-3.2-1.6-4.4-3.5-3.2-4.6-.9-2.4-.5-4.6-88.6 0-2.1 7-3.4 4.6-4.6 3.5-6.9 2.3 8.9 3 5.1 3.9 4.2 6 2.3 7.8.8-3.4 3.3-5.8 5.2-4.6 5.7-2.3 7-.3 7 2.3 5.8 4.9 2.3 3.8 1.1 3.2.3 5.8-1.4.1-1.2 1.1-2.4-2.4-.1-1.2-1-1.1-.1-2.3-2.3-3.5-2.2-2.2-4.6-2.3-8.1 0-1.2 1.1-1.2.1-4.6 4.6-.9 1-1.3 3.5 0 5.8 1.2 3.4 3.3 3.9 3.5 2.5 4.6 1.5 8.1-.3 3.4-2.9.9 1.1-5.4 3.8-4.3 2-3.8.7-4.7-.5-3.2-1.3-4.9-3.9-2.3-3.1-1.7-3.5-.6-2.9-1.8 7.6-3.6 5.8-5 4.4-7.3 3.7 5 2.2 4.8 4.7 2 3.5 1.5 5.7-.2 5-2.3 6.2-3.2 3.9-5.8 3.5-6.1.5-5.8-1.7 2.3-2.3 4.7-.2 1.5-1 1.9-.2 5.7-5.6.1-1.1 1-1.2 0-8.1-1-1.1-.1-1.2-5.7-5.3-5.8-1.5-6.9 2.3-4.4 4.5-1.3 3.5.1 6.9 1.8 3.5-.8 1.2 0 2.7-3.2-2.7-1.5-2-1.5-3.8-.4-3.5.5-4.6 1.3-3.5 2.3-3.5 2.3-2.3 3.6-2.4 3-1-5.3-1.5-4.6-2.3-4.8-4.3-2.2-3.1-2.2-5-1.2-8.1-.6 4.6-2.9 5.8-4.6 4.5-2.3 1.3-4.7 1.4 0 89.7 5.8 2.2 4.7 3.8 3.4 5.8 1.2 6.7.4-4.4 1.2-4.6 2.3-4.6 2.8-3.5 3.7-3.1 4.6-2.3 7.8-1.5-3.1-.6-5.4-2.9-3.9-3.8-2.4-4.3-1.1-6 1.1-4.4 2.3-4.6 1.3-1.5.9.3-.7 1.2-.4 3.4.2 5.8 1.1 1.9.1 1.6 4.5 5.5 4.7 2.3 6.9.1 1.1-1 3.6-1.3 3.3-3.3.1-1.2 1.1-1.1 0-1.2 1.1-1.1 0-5.8-1.1-2.3 0-1.2-3.4-4.4-3.5-2.4-2.3-.1-1.1-1-2.4-.1-2.3-2.4 1.1-1.2.1-1.4 6.9.3 4.7 2 4.6 3.8 3.5 5.8 1.1 4.6 0 4.7-1.1 4.7-2.3 4.4-5.8 5.4-3.5 1.7-4.2 1.1 8.8 3 5.1 3.9 4.2 6 2.3 7.8 1.3-4.5 3.3-5.3 4.8-4 2.2-1.2 4.6-1.3 7 .1 5.8 2.1 4.6 3.6 3.5 5.1 1.3 4.3.1 4.7-1.4 0-1.2 1.2-2.4-2.4-.1-1.2-1-1.1-.1-2.3-2.3-3.5-2.2-2.2-4.6-2.3-8.1 0-1.2 1.1-1.2 0-5.5 5.7-1.3 3.5.2 6.9.9 1 .1 1.3 5.6 5.8 5.8 2.2 8.1-.4 3.4-2.9.9 1.1-5.4 3.8-4.3 2-3.8.7-4.7-.5-4.6-2.2-3.5-3-2.3-3.1-1.7-3.5-.6-2.9-1.8 7.6-2.8 4.8-2.3 2.7-3.5 2.7-7.4 3.6 5.1 2.3 3.8 3.5 2 2.7 2.1 5.4zM41.6 117.4l1.5-2.5 0 1.8-1.2 1.7zM169.3 210l24.3 0-.2-2.3-3.3-4.4-3.5-2.4-2.3-.2-2.3-1-5.8 1.2-2.3 1.3-3.2 3.2-2 4.6zM200.5 210l20.9 0 0-21.3-4.7-.6-4.6-2.3-4.6-4.7-2.3-4.6-1.2-.5-2 6.2-3.8 5.6-4.6 3.7-6.9 3.4 4.6 2.2 4.2 3.6 2.4 3.5 1.9 5.8zM51.2 184.4l4.6 0 1.1-1 2.4-.2 2.5-2.1 1-.2 3.3-4.5.1-2 1-1.4 0-4.7-1-1.1-.1-2.3-3.3-4-3.5-2.8-2.3-.1-1.2-1-4.6.1-.9.8-2.6.5-1.2.8-4.5 4.5-1.1 2.3-.1 1.9-1 1.6 0 2.3 2.2 5.8 5.7 5.6 2.4.2zM52.3 177.6l-1.1-1.1-1.2 0-2.4-2.4-1.1-4 1.1-1.8 0-1.1 2.4-2.4 1.2 0 1.1-1.1 2.4 0 1.1 1.1 1.2 0 2.3 2.3.1 1.2 1.1 1.2 0 2.3-1 1.2-.2 1.2-2.3 2.3-1.2 0-1.1 1.1zM177.4 184.3l4.6.1 3.5-1.2 1.1-1.1 1.2 0 3.3-3.4 2.4-4.6 0-6.9-1.1-1.2-1.3-3.4-3.3-3.3-1.2-.1-1.1-1.1-2.4-.2-1.1-1-3.5 0-1.4 1-2 .2-1.2 1.1-1.2 0-4.4 4.5-.1 1.2-1.1 1.1 0 9.3 1.1 1.1.1 1.2 4.4 4.5 3.7 1.3zM178.5 177.6l-1.1-1.1-1.2 0-2.3-2.6-.1-5.6 2.4-3.5 1.2 0 1.8-1.1 1.7 0 1.1 1.1 2.1.1 1.4 1.1.1 1.2 1.1 1.1 0 4.7-2.4 3.5-1.1 0-1.2 1.1zM221.4 183.7l0-26.8-1.2 0-3.5 1.6-3.4 3-2.2 3.4-1.2 4.6.3 3.5.8.9 1.2 3.7 4.5 4.5 1.2.1 1.2 1.1 1.7.1zM15.3 182.1l2.3-1.1 4.3-4.6 1.3-3.4.1-4.7-2.4-5.7-3.3-3.4-3.5-1.2 0 24.2zM51.2 58.3l4.6 0 1.1-1 2.4-.2 2.3-2.1 1.2-.2 3.3-4.5.1-2 1-1.4 0-4.7-1-1.1-.1-2.3-3.3-4.1-1.3-.5-2.2-2.2-2.3-.1-1.2-1-4.6 0-1.2 1-2.3.4-1.2.8-4.5 4.5-1.1 2.3-.1 1.9-1 1.6 0 2.3 2.2 5.8 5.7 5.6 2.4.2zM52.3 51.5l-1.1-1.1-1.2 0-2.4-2.4-1.1-4 1.1-1.8 0-1.1 2.4-2.4 1.2 0 1.1-1.1 2.4 0 1.1 1.1 1.2 0 2.3 2.3.1 1.2 1.1 1.2 0 2.3-1.1 1.2-.1 1.2-2.3 2.3-1.2 0-1.2 1.2zM177.4 58.2l4.6.1 1.8-1 1.7-.1 1.1-1.2 1.2 0 3.3-3.3 2.4-4.7 0-6.9-1.1-1.2-1.3-3.4-3.3-3.3-1.2-.1-1.1-1.1-2.3-.2-1.2-1-3.5 0-1.5 1-1.9.2-1.2 1.1-1.2 0-4.4 4.5-.1 1.2-1.1 1.1 0 9.3 1.1 1.1.1 1.2 4.4 4.5 1.2.1 1.2 1.1 1.4.1zM178.5 51.5l-1.1-1.1-1.2 0-2.3-2.6-.1-5.6 2.4-3.5 1.2 0 1.6-1.1 1.9 0 1.1 1.1 2.2.1 1.3 1.1.1 1.2 1.1 1.1 0 4.7-2.4 3.5-1.1 0-1.3 1.1zM221.4 57.5l0-26.7-1.2 0-3.5 1.5-4.4 4.2-2.3 5.7-.1 3.5 2.3 5.8 1.1 1.2 3.4 3.3 1.2.1 1.2 1.1 1.8.1zM15.3 56l2.3-1.1 4.3-4.6 1.3-3.4.1-4.7-2.4-5.7-3.3-3.4-3.5-1.2 0 24.2zM29.2 44.3l.4-4.4 1.2-4.6 2.3-4.6 2.8-3.5 3.7-3.1 4.6-2.3 7.8-1.5-3.1-.6-3.6-1.7-4.5-3.5-2.4-3.2-1.2-2.6-1.1-5.8-22 0 0 22.9 5.8 2.2 4.7 3.8 3.4 5.8 1.2 5.8zM204 39.3l4.6-7.7 3.5-3.3 4.6-2.5 4.7-1.2 0-21.7-20.5 0-1.5 5.8-4 5.8-4.5 3.5-6.9 2.3 6.1 1.7 3.4 1.7 3.6 2.7 4.3 5.4 2.5 7zM51.2 14.2l6.9.1 1.1-1 3.6-1.2 3.3-3.4.1-1.2 1.1-1.1 0-1.2 1.1-1.1 0-1.2-27.6 0 1.1 1.9.1 1.6 2.4 3.5 2.1 2 3.6 1.4zM177.4 14l6.9.4 1.7-1.1 1.8-.2 5.7-5.6 0-1.1 1.1-1.2.1-2.3-26.9 0 .4 2.3 2.2 3.5 4.7 4.5 1.5.1z"/><path fill="#fc7c20" stroke="#707070" stroke-width="0.35" stroke-opacity="0.18" d="M15.3 210l20.6 0 1.2-4.6 1.9-3.5 7.2-7-4.3-1.4-6.2-4.3-3.7-4.7-2.2-4.6-.6-2.6-1.2.8-3.5 5.3-2.6 2.3-4.3 2.3-3.5.9 0 21.1zM43.1 210l24.1 0 0-1.2-1.1-1.1-.1-1.2-4.4-4.5-4.6-1.9-2.4-.3-4.6 1.1-1.1 1-1.2.2-4.3 4.4-1.3 3.5zM74.3 210l88.3 0 1.1-4.6 2.7-4.7 6.4-5.8-4.7-1.6-5.8-4.1-4.4-5.8-2.5-7.3-.3 1.5-2 3.3-3.5 3.9-4.6 2.9-4.7 1.3-6.9-.4-3.5-1.5-3.5-2.7-2.4-3.3 5.9-.1 1.2.9 2.3.3 1.1 1 4.7 0 1.4-1 2-.2 5.7-5.6.1-1.2 1-1.1 0-8.1-1.1-1.1 0-1.2-4.5-4.5-1.2-.1-1.1-1-2.3-.1-2.3-1-2.4 1-2.3.1-1.1 1.1-1.2.1-3.3 3.3-2.4 4.6 0 4.6-2.4 2.8-2.7-3.9-.2-4.7 2-5.8 3.2-4.2 6.3-3.9 6.5-1.2 5.7.8 5.8 3 4.7 4.8 2.3 4.9 2.6-6.5 4.3-5.7 5.8-4.1 5.1-1.7-.3-1.2-4.8-3.1-3.2-3.8-1.7-3.5-1-4.6.1-3.8 1.2-3.5 5.8-8.8 0 4.5-1.1 2.3-.7 5.8.7 4.6 1.1 1.1.1 1.2 5.7 5.6 3.4 1.2 5.8 0 4.7-2.3 4.4-4.5.1-1.1 1.1-1.2-.3-9.2-2-3.5-3.3-3.3-8.1-3.1-1.6-1.7.4-3.1 3.5-.3 3.4.4 3.5 1.2 3.1 1.8 4.6 4.6 2.1 3.5 1.2 3.5.4 6.9-.7 3.5-2 4.6-2.5 3.5-2.7 2.4-4.6 2.9-1.8.5 5.2 1.8 4.7 3.1 3.9 4.3 3 6.3 1.2.5 3.4-5.6 3.5-3.1 5.8-2.9 3.5-.7 0-86.7-4.7-.8-4.6-2.2-4.5-4.3-2.4-4.2-.9.8-2.6 5.8-3.6 4.6-4.5 3.3-5.2 2.5 1.7.5 4 2.9 4.5 5.8 1.8 5.8-.2 6.9-2.3 5.8-4.3 4.8-4.6 2.6-4.7 1-3.4-.2-4.7-2.5 2.9-2.2 4.1-.1 1.4-1.1 2-.1 4.4-3.3 2.4-3.5 1.1-5.8-1-2.3-.1-2.3-3.3-4.3-3.5-2.5-2.3-.1-2.3-1-5.8 1.1-3.5 2.3-3.3 4.5-.1 1.7-1 1.7 0 3.5 2.2 5.8 0 1.2-1.1 1.1-.1 2.4-3.5-3.1-2.7-5.1-.6-3.4.2-4.7 1.5-4.6 2.2-3.5 6.5-5.7-4.8-1.7-5.8-4.1-4.4-5.8-2.5-7.3-.3 1.5-2 3.3-3.5 3.9-4.6 2.9-4.7 1.3-6.9-.4-3.5-1.5-3.5-2.7-2.4-3.3 5.9-.1 1.2.9 2.3.3 1.1 1 4.7 0 1.2-1 2.2-.2 5.7-5.6.1-1.2 1-1.1 0-8.1-1.1-1.1 0-1.2-4.5-4.4-1.2-.2-1.1-1-4.6-1.1-2.4 1-2.3.1-1.1 1.1-1.2.1-3.3 3.3-2.4 4.6 0 4.6-1.2 1.6-1.2 1.2-2.3-2.8-.6-5.8 1.4-4.6 1.3-2.3 2.5-3.1 2.3-1.8 5.8-2.7 4.7-.6 3.4.3 6 2.1 5.6 4.6 3 4.7.5 1.8 2.6-6.5 4.3-5.7 5.8-4.1 5-1.7-.2-1.2-4.8-3.1-3.2-3.8-2.1-4.7-.7-4.6-87.2 0-1 4.6-3 5.6-4.7 4.4-3.4 2.1-2.2.7 4.5 1.4 5.8 3.8 4.3 5.2 2.6 6.4 4.6-6.8 3.7-3.1 3.3-1.8 4.6-1.3 4.6-.2 7 1.7 5.6 3.9 3.7 4.8 1.7 4.5.3 5.8-2 .1-1.2 1.1-2.5-2.4-.1-1.2-.9-1-.1-2.4-2.3-3.5-2.2-2.1-1.2-.2-3.4-2.2-8.1.1-1.2 1.1-1.2 0-3.4 3.4-2 2.2-1.3 3.5 0 5.8 1.1 3.4 5.6 5.7 2.4 1.2 4.6.9 5.5-.8 3.9-2.3 2 0 1.2 1.1-8.8 5.8-3.2 1.2-4.1.2-3.5-.6-4.6-2.1-3.5-2.8-3.4-5.1-1.2-.6-2.3 5.8-3.5 4.7-4.6 3.6-5.5 2.7 5.5 3.3 4 4.8 2.2 5.7.4 5.8-.8 3.9-2.3 4.9-3.5 3.8-5.8 3.2-5.8.7-3.5-.8-2.8-1.8 2.8-2.4 4.7-.2 1-.9 2.4-.4 5.7-5.4 0-1.1 1.1-1.2 0-8.1-1.1-1.1-.1-1.2-4.4-4.5-4.6-1.9-3.5-.3-5.8 2.3-4.3 4.4-1.4 4.6 0 4.7 1.2 3.4 1.1 1.2-1.1 1.2-.1 3.8-3.5-3-2.7-4.3-1-4.6 0-3.5 1.2-4.6 1.9-3.5 3.1-3.5 4.2-3.4-4.4-1.5-6.2-4.3-3.7-4.7-2.2-4.6-.6-2.6-1.2.8-3.5 5.3-2.6 2.3-4.3 2.3-3.5.9 0 88.5 4.7 1.5 4.6 3.1 2.8 3.2 3 5 2.2-6.2 4.4-5.8 6.1-4.2 4.7-1.5-.3-1.2-4.4-2.8-3.6-4.1-1.7-3.5-.9-3.5.4-6.5 2.3-4.6 4.4-6.2.3 4.1-1.5 2.8-.8 3.5.1 4.6 1 1.3.1 2.2 3.4 4.4 3.5 2.4 1.4.1.9.8 6.9.2 1.2-1.1 1.1 0 1.2-1.1 1.2-.1 3.3-3.3 1.2-3.5 1.1-1.1 0-5.8-1.2-3.5-3.3-4.3-1.2-.3-2.3-2.2-2.4-.1-1-1-2.4-.1-2.4-2.4 1.1-1.2.2-2 4.6-.1 7 2.3 4.6 3.7 1.6 1.9 2.5 4.7 1.2 5.7-.2 4.7-.9 3.4-3 5.6-4.7 4.4-3.4 2.1-2.2.7 4.5 1.4 5.8 3.8 4.9 6.3 2 5.3 4.6-6.8 3.7-3.1 5.6-2.6 4.6-.7 5.8.5 4.3 1.6 5 3.7 4 5.6 1.4 4.6.1 4.7-2 .1-1.2 1.1-2.5-2.4-.1-1.2-.9-1-.1-2.4-2.3-3.5-2.2-2.2-1.2-.1-3.4-2.2-8.1.1-1.2 1-1.2.1-5.4 5.6-1.3 3.5.2 6.9.8.9.1 1.4 5.6 5.7 2.4 1.2 2.3.1 2.3.9 5.8-1 3.6-2.2 1.8 0 1.4 1.1-8.8 5.8-3.2 1.2-4.1.2-3.5-.6-4.6-2.1-3.5-2.8-3.4-5.1-1.2-.6-2.3 5.8-3.5 4.7-4.6 3.6-5.6 2.6 4.4 2.5 3.5 3.3 2.8 4.7 1.3 4.6zM169.3 210l24.2 0-.1-2.3-2.1-2.3-.4-1.2-4.3-3.3-5.7-1.1-2.4 1-2.3.1-3.5 2.3-3.3 4.5-.5 2.3zM200.5 210l20.9 0 0-20.5-4.7-.8-4.6-2.2-4.5-4.3-2.4-4.2-.9.7-2.6 5.9-3.6 4.6-4.5 3.3-5.2 2.4 1.7.6 3.5 2.5 3.5 3.7 2.3 4.4 1 3.9zM51.2 184.3l4.6 0 1.2-1 2.3-.1 2.3-2.1 1.2-.3 3.2-4.4.2-2.3 1-1.1 0-4.7-1-1.1-.2-2.3-2.9-3.5-3.8-3.3-2.3 0-1.2-1.1-4.6.2-4.7 2.1-4.4 4.4-1.2 2.3-.1 2.1-1 1.4 0 2.3 1 1.5.1 2 1.2 2.3 5.6 5.6 2.4.2zM52.2 177.6l-1-1.1-1.2 0-2.4-2.4 0-1.1-1.1-1.2 0-2.3 1.1-1.2 0-1.1 2.4-2.4 1.2 0 1.1-1.1 2.4 0 1.1 1.1 1.2 0 2.4 2.4 0 1.1 1.1 1.2 0 2.3-1.1 2.3-2.4 2.4-1.2.1-1.2 1.1-2.3 0zM177.4 184.3l4.6 0 5.8-2.3 3.3-3.3 2.3-4.6 0-6.9-1-1.1-1.3-3.5-3.3-3.3-1.2-.1-1.1-1.1-2.3-.1-1.2-1-3.5 0-1.1.9-2.3.2-1.2 1.1-1.2.1-4.4 4.4 0 1.2-1.1 1.1 0 9.3 1.1 1.1 0 1.2 4.4 4.4 3.7 1.4zM178.5 177.6l-1.1-1.1-1.2 0-2.3-2.4-.1-5.8 2.4-3.5 1.2 0 1.3-1.1 2.2-.1 1.1 1.1 2.3.2 1.2 1.1.1 1.2 1.1 1.1 0 4.7-1.1 1.1 0 1.2-1.3 1.2-1.1 0-1.2 1.1zM219.1 183.2l2.3.1 0-26.4-1.2 0-4.6 2.3-2.2 2.2-2.3 3.5-.1 2.1-.9 1.3-.1 3.5 2.3 5.8 4.4 4.5 1.3.1zM15.3 182.1l2.3-1.2 3.3-3.3 2.3-4.6 0-5.8-1-1.1-1.3-3.5-3.3-3.3-1.2-.1-1.1-1.1-1.2 0 0 24zM51.2 58.2l4.6.1 1.2-1.1 2.3-.1 2.3-2.2 1.2-.2 3.2-4.4.2-2.3 1-1.1 0-4.7-1-1.1-.2-2.3-2.8-3.5-3.9-3.2-2.3-.1-1.2-1.1-4.6 0-1.2 1.1-2.3.4-1.2.8-4.4 4.4-1.2 2.3-.1 2.1-1 1.4 0 2.3 1 1.5.1 2 1.2 2.3 5.6 5.6 2.5.2zM52.2 51.5l-1-1-1.2-.1-2.4-2.4 0-1.1-1.1-1.2 0-2.3 1.1-1.2 0-1.1 2.4-2.4 1.2 0 1.1-1.1 2.4 0 1.1 1.1 1.2 0 2.4 2.4 0 1.1 1.1 1.2 0 2.3-1.1 1.2 0 1.1-2.4 2.4-1.2.1-1.2 1.1-2.3 0zM177.4 58.1l4.6.2 1.7-1 1.8-.2 1.1-1.1 1.2-.1 3.3-3.2 1.3-3.5 1-1.2 0-6.9-1-1.1-1.3-3.5-3.3-3.3-1.2-.1-1.1-1.1-2.3-.1-1.2-1-3.5 0-1.3.9-2.1.2-1.2 1.1-1.2.1-4.4 4.4 0 1.2-1.1 1.1 0 9.3 1.1 1.1 0 1.2 4.4 4.5 3.8 1.3zM178.5 51.5l-1.1-1-1.2-.1-2.3-2.4 0-6.5 2.3-2.8 1.2 0 1.1-1.1 2.4-.1 1.1 1.1 2.4.2 1.1 1.1.1 1.2 1.1 1.1 0 4.7-1.1 1.1 0 1.2-1.3 1.2-1.1.1-1.2 1-3.5.1zM219.1 57.2l2.3.1 0-26.5-1.2 0-4.6 2.4-2.2 2.1-2.3 3.5-.1 2.1-.9 1.3-.1 3.5 2.3 5.8 4.4 4.5 1.3.1zM15.3 56l2.3-1.2 4.2-4.5.4-1.9 1-1.5 0-5.8-3.4-5.8-2.2-2.1-1.2-.1-1.1-1.1-1.2 0 0 24.1zM29.2 38l2.2-6.2 3.3-4.6 4.9-4.1 2.3-1.3 4.7-1.5-.3-1.2-4.4-2.8-3.6-4.1-1.7-3.5-1.1-5.8-21.4 0 0 22.3 4.7 1.5 4.3 2.8 2.6 2.8 3.4 5.3zM204 35.8l1.2.5 2.5-4.5 4.4-4.2 5.8-2.9 3.5-.7 0-21.1-19.9 0-1.5 5.8-2.9 4.8-5.1 4.5-4.8 2.3 5.2 1.8 4.7 3.1 3.9 4.3 2.9 5.8zM51.2 14.1l6.9.2 1.2-1.1 1.1 0 1.2-1.1 1.2-.1 3.3-3.3 0-1.2 2.3-3.4 0-1.2-27.5 0 1 1.3.1 2.2 2.5 3.5 4.4 3.3 1.4.1zM177.4 13.8l1.1.5 5.8 0 1.2-1 2.3-.4 5.6-5.4.1-1.1 1.1-1.2 0-2.3-26.4 0 0 2.3 1.1 1.1.1 1.2 5.7 5.6 1.7.2z"/><path fill="#fc8810" stroke="#707070" stroke-width="0.35" stroke-opacity="0.18" d="M15.3 210l20 0 2.2-7 2.1-3 4.3-3.9-5.5-2.9-4.8-4-3.3-4.6-2.3-5-.6 1.5-2 2.3-4.3 3.6-3.5 1.7-3.5.9 0 20.4zM43.1 210l24.1 0-1.2-3.5-4.4-4.4-5.8-2.3-2.3.1-5.8 2.2-4.2 4.4-1.4 3.5zM74.3 209.3l.2.7 87.4 0 .7-3.5 2-4.3 2.4-3.1 3.6-3-4.8-2.4-4.5-3.4-3.6-4.4-2.3-4.7-1.2-1-2.3 3.2-3.5 3.1-3.4 1.9-5.8 1.4-3.5-.1-5.8-1.9-3.1-2.1-2.7-2.9-1.1-1.5 0-1.6 2.3 1.2 5 .2 3.1 1.1 1.1 1 4.7-.1 1.1-.9 2.3-.2 5.6-5.6.1-1.1 1.1-1.2-.1-8.1-2-3.3-3.5-3.4-1.2-.1-1.1-1.1-2.3-.1-2.3-1-7 2.3-3.3 3.3-1.2 2.3-.1 1.1-1 1.2-.1 4.6-2.4 3.1-3.3-4.2-.2-1.6-.3 1.6-3.1.2-1.2 1.1-2.5-2.5-1.1-2.3-.1-2.3-2.3-3.5-2.1-2.1-1.2-.1-3.4-2.2-8.1 0-1.2 1.1-1.2.1-5.3 5.5-.4 2-1 1.5 0 5.8 1.2 3.4 5.5 5.6 1.2.2 1.2 1 4.6.9 4.6-.8 3.7-2.2 2.1-.2 1.2.1 1.1.9 0 1.5-6.9 4.7-2.7 1.1-3.1.7-4.6 0-4.7-1.2-2.3-1.2-3.5-2.7-3.4-4.4-2.8 5.3-2.7 3.5-3.8 3.4-4.2 2.3 0 1.2 4.2 3.6 2.4 3.3 2.2 5.8zM169.3 210l24.2 0-.2-2.3-3.2-4.1-3.5-2.6-2.3-.1-2.3-1.1-5.8 1.2-3.5 2.3-3.2 4.4-.4 2.3zM201.7 210l19.7 0 0-19.9-5.1-.9-3-1.3-3.3-2.2-4.8-5-2.3 4.9-2.8 3.6-3 2.8-5 2.9 0 1.2 4.1 3.5 2.5 3.4 2.4 7zM51.2 184.3l4.6 0 1.2-1 2.3-.2 2.3-2.1 1.2-.2 3.2-4.4.2-2.3 1-1.1 0-4.7-1.1-1.1-.1-2.3-6.7-6.7-2.3-.1-1.2-1-3.5-.1-5.8 2.3-4.4 4.4-1.1 2.3-.2 2.3-1 1.2 0 2.3 1 1.3.2 2.2 1.1 2.3 5.6 5.5 2.5.3zM52.2 177.6l-1-1-1.2 0-2.3-2.3-.1-1.3-1.1-1.1 0-2.5 1.1-1.1.1-1.3 2.3-2.3 1.2 0 1.1-1.1 2.3 0 1.2 1.1 1.2 0 2.3 2.3.2 1.3 1.1 1.2 0 2.3-1.3 2.5-2.3 2.3-1.2 0-1.2 1.1-2.3 0zM177.4 184.2l4.6.1 5.8-2.3 3.3-3.3 1.3-3.5 1-1.1 0-6.9-1.1-1.2-1.3-3.4-3.2-3.2-1.2-.1-1.1-1.2-2.3-.1-1.2-1-3.5 0-1.1 1-2.3.1-1 1-1.4.2-4.3 4.4-.1 1.2-1.1 1.1 0 9.3 1.1 1.1.1 1.2 4.3 4.4 3.8 1.4zM178.4 177.6l-1-1-1.2 0-2.3-2.4 0-6.5 2.3-2.9 1.2-.1 1.1-1 2.4-.1 1.1 1.1 2.3.1 1.3 1.2 0 1.2 1.2 1.1 0 4.7-1.2 1.1 0 1.2-1.3 1.2-1.1.1-1.2 1.1-3.5 0zM219.1 183.2l2.3.1 0-26.3-1.2 0-5.6 3.2-3.4 4.7-.2 2.4-.9 1-.1 3.5 2.3 5.8 4.4 4.4 1.3.2zM15.3 182l2.3-1.1 4.1-4.5 1.4-3.4.1-4.7-2.4-5.7-3.2-3.3-3.5-1.2 0 24zM118.3 167l1.3-5.6 2-3.5 3.7-3.7 4.6-2.6 4.6-1.2 3.5-.1 7 1.6 5.6 3.7 3.6 4.6 1.2 0 2.2-4.6 3.8-4.6 4.4-3.3 5.5-2.5-3.2-2.3-4-4.6-1.6-3.5-1-4.6.3-4.7 1.6-4.6 4.7-6.9 1.2-.1.3 3.5.7 1.2-2.1 3.5-.4 4.6.5 4.6 1.1 1.2.1 1.1 5.6 5.6 1.9.2 1.5.9 5.8 0 4.7-2.2 4.4-4.5 0-1.1 1.1-1.2 0-8.1-2.3-4.6-3.2-3.3-1.2 0-1.2-1.1-2.3-.2-1.1-1-1.8-.2-2.2-2.3.5-3.9 5.8-.1 5.8 2.1 5.8 4.5 2.9 4.3 2.1 7 .2 2.3-.8 5.8-2.1 4.9-2.3 3.2-5.8 4.6.5 1.2 5.3 3 3 2.7 2.8 3.7 2.3 4.7 3.4-4.6 3.5-3 4.6-2.4 4.7-1.1 0-85.4-5.1-.9-3-1.3-3.3-2.2-4.8-5-2.3 4.9-2.8 3.6-3 2.8-5.1 3 .1 1.1 2.9 2.3 3 3.5 2.6 5.8.7 4.6-.2 3.5-1.7 5.5-3.4 4.9-4.6 3.5-5.9 1.9-5.8-.3-3.6-2.8 1.1-1.2 1.5-1.1 4.5-.2 1.1-1 2.3-.2 3.5-2.4 3.2-4.3 1.2-5.8-.9-1.8-.3-2.8-3.2-4.2-1.2-.4-2.3-2.1-2.3-.1-3.4-1.1-2.4 1-2.3.2-4.4 3.2-2.3 3.5-1.2 4.6 0 2.3 1 1.7.1 1.8 1.1 1.1 0 2.4-1 1.1-.1 1.2 1 1.3 0 1.8-3.8-3.1-2.6-3.5-1.8-4.6-.4-4.7.8-4.6 2-4.3 2.4-3.1 3.6-3-4.8-2.4-4.6-3.5-3.5-4.3-2.4-4.8-1.1-.9-3.5 4.4-4.6 3.3-6.9 1.9-3.5-.1-5.8-1.9-3.5-2.5-3.4-4 0-1.6 2.3 1.2 5 .2 3.2 1.1 1 1 4.7-.1 1.1-.9 2.3-.2 3.5-3.3 2.1-2.3.1-1.1 1.1-1.2-.1-8.1-1-1.1-.1-1.2-4.4-4.4-6.9-2.2-2.4 1-2.3.1-1.1 1-1.2.1-3.3 3.3-1.2 2.3-.1 1.1-1 1.2-.1 4.6-2.4 3.1-3.3-4.2-.2-1.6-.3 1.6-3.1.2-1.2 1.1-2.5-2.5-1.1-2.3-.1-2.3-2.3-3.5-2.1-2.1-1.2-.1-3.4-2.2-8.1 0-1.2 1.1-1.2.1-5.3 5.5-.4 2-1 1.5 0 5.8 1.2 3.4 5.5 5.6 1.2.2 1.2 1 4.6.8 4.6-.7 3.7-2.2 2.1-.2 1.6.2.7.7 0 1.6-4.9 3.5-4.7 2.3-3.1.7-4.6 0-4.7-1.2-3.2-1.8-3.9-3.5-2.1-3-2.8 5.3-2.7 3.5-3.8 3.4-4.3 2.4.1 1.1 5.4 5.1 2.8 5.3 1 7-.4 3.4-1.6 4.7-3 4.3-4.6 3.7-4.7 1.7-4.6.4-2.3-.3-3.5-2.8-1-.1 1-.1 2.3-2.4 4.7-.2 1.1-.9 2.3-.4 5.6-5.3.1-1.1 1-1.2 0-8.1-1-1.1-.1-1.2-2.2-2.3-2.2-2.1-2.3-1.2-4.7-1.1-6.9 2.3-3.3 3.3-2.3 4.6 0 5.8 1.2 3.4 1 1.2-1 1.2-.1 1.1 0 2.3 1.1 1.2-.1 1.1-4.2-3.4-1.9-2.3-1.8-3.5-1.1-4.6.2-4.7 1.5-4.6 2.7-4.2 4.3-3.9-5.5-2.9-4.7-4-3.4-4.6-2.3-5-.6 1.5-2 2.3-4.1 3.5-3.7 1.8-3.5.9 0 87.1 4.7 1.5 3.4 2 3.5 3.3 2.3 3.5 5.7-8.8 4.7-3.9 6.2-3-3.1-2.3-3.1-3.3-2.3-4.4-1-3.9 0-4.6 1-4.1 5.4-8.6 1.6-.1.2 4.7-2.4 5.8 0 4.6 1.1 1.2.1 2.3 3.3 4.3 3.5 2.4 1.5.2.8.7 6.9.2 3.5-2.2 1.2-.1 3.2-3.2.1-1.2 1.1-1.1 0-1.2 1.1-1.1 0-5.8-1.1-2.3 0-1.2-2.6-3.5-4.2-3.2-2.3-.1-1.1-1-2.4-.1-2.4-2.5 1.1-1.2.2-2.7 4.6-.2 4.7 1.3 4.9 2.8 3.2 3.1 3.1 5 1.6 6.9-.2 4.7-1.3 4.6-3.2 5.4-2.7 2.7-3.5 2.3.6 1.2 4.4 2.4 3.8 3.3 2 2.5 2.4 4.5 1.1 1 1.3-2.2 3.3-3.5 2.3-1.8 4.6-2.2 5.8-1.1 5.4.5 5.1 1.8 4.6 3.2 3.5 4.3 3.1 6.9zM51.2 58.2l4.6 0 1.2-1 2.3-.1 2.3-2.2 1.2-.2 3.2-4.4.2-2.3 1-1.1 0-4.7-1.1-1.1-.1-2.3-3-3.5-3.7-3.2-2.3-.1-1.2-1-4.6 0-1.2 1-1.1 0-2.4 1.2-4.4 4.4-1.1 2.3-.2 2.3-1 1.2 0 2.3 1 1.3.2 2.2 1.1 2.3 5.6 5.5 2.5.3zM52.2 51.5l-1-1-1.2 0-2.3-2.3-.1-1.3-1.1-1.1 0-2.4 1.1-1.2 0-1.1 2.4-2.5 1.2 0 1.1-1.1 2.3 0 1.2 1.1 1.2 0 2.3 2.3.2 1.3 1.1 1.2 0 2.3-1.1 1.2-.2 1.3-2.3 2.3-1.2 0-1.2 1.1-2.3 0zM177.4 58l4.6.2 5.8-2.3 3.3-3.2 1.3-3.6 1-1.1 0-6.9-1.1-1.2-1.3-3.4-3.2-3.2-1.2-.1-1.1-1.1-2.3-.2-1.2-1-3.5 0-1.1.9-2.3.2-1.2 1.2-1.2 0-4.3 4.4-.1 1.2-1.1 1.1 0 9.3 1.1 1.1.1 1.2 4.3 4.4 3.9 1.4zM178.5 51.5l-1.1-1-1.2 0-2.3-2.4 0-6.8 2.3-2.6 1.2-.1 1.1-1 2.4-.1 1.1 1.1 2.3.1 1.3 1.2 0 1.2 1.2 1.1 0 4.7-1.2 1.1 0 1.2-1.3 1.2-1.1.1-1.2 1.1-3.5 0zM219.1 57.1l2.3.1 0-26.3-1.2 0-4.6 2.3-3.2 3.3-.1 1.1-1.1 1.2-.2 2.4-.9 1-.1 3.5 2.3 5.8 4.4 4.4 1.3.2zM15.3 55.9l2.3-1.1 4.1-4.5.5-2.2.9-1.2.1-4.7-2.4-5.7-3.2-3.3-3.5-1.2 0 24zM118.3 40.9l1.3-5.6 4-5.8 5.1-3.5 4.7-1.5 6.9-.1 4.7 1.4 5.6 3.7 3.6 4.6 1.2 0 2.2-4.6 3.8-4.6 4.4-3.3 5.5-2.5-3.2-2.3-4-4.6-1.8-4.2-.8-5.1-86 0-.6 3.5-2.6 5.8-3.8 4.3-3.8 2.6.6 1.2 4.4 2.4 3.5 3 5.8 8.3 1.3-2.2 3.3-3.5 2.3-1.8 4.6-2.2 4.7-1 3.4-.1 5.8 1.3 4.7 2.4 3.1 2.6 2.7 3.5 3.2 6.9zM28 34.8l.8-.6 3-5.8 3.2-3.6 3.4-2.7 6.2-3-3.1-2.3-3.9-4.6-2-4.7-.6-4.6-20.9 0 0 21.6 4.7 1.5 3.4 2 3 2.7 2.5 3.5zM205.2 34.4l3.4-4.6 3.5-3 4.6-2.4 4.7-1.1 0-20.4-19.3 0-.6 3.5-2.6 5.8-4.2 4.6-3.4 2.3.6 1.2 4.2 2.3 3.3 2.7 3.5 4.4 2.1 4.5zM51.2 14l6.9.2 3.5-2.2 1.2-.1 3.2-3.2.1-1.2 1.1-1.1 0-1.2 1.1-1.1 0-1.2-27.4 0 1.1 1.2.1 2.3 2.5 3.5 4.3 3.2 1.5.2zM177.4 13.5l1.1.8 5.8 0 1.1-1 2.4-.5 5.6-5.3 0-1.1 1.1-1.2.1-2.3-26.4 0 .1 2.3 1.1 1.2.1 1.1 5.6 5.5 2 .3z"/><path fill="#fc9020" stroke="#707070" stroke-width="0.35" stroke-opacity="0.18" d="M15.3 210l19.3 0 .3-2.3 2.4-5.8 4.1-4.6-.6-1.3-3.9-2.2-4.3-3.7-4.6-7.2-1.1-.2-5.8 5.2-7 2.5 0 19.6zM43.1 210l24 0 0-1.2-1.1-1.1-.1-1.2-4.3-4.4-2.3-1.1-4.7-1.1-4.6 1.1-1.1 1.1-1.2.1-4.1 4.3-1.4 3.5zM75.5 210l85.6 0 2.2-7 1.3-2.2 3.3-3.5-.3-1.2-4.1-2.2-3.5-3-3.5-4.3-2.3-4.5-3.5 3.6-3.4 2.4-2.2 1.1-5.9 1.3-4.2-.2-4-1.1-4.6-2.9-3.4-3.8 0-3 2.3 1.4 4.6 0 3.5 1.2 1.1 1 4.7 0 1.1-1 2.3-.2 4.7-4.5 2-3.3 0-8.1-1.1-1.1-.1-1.2-4.3-4.3-1.2-.2-1.1-1-2.3-.1-2.3-1-2.4 1-2.3.1-1.1 1.1-1.2.1-3.2 3.2-1.2 2.3-.1 1.1-1 1.2-.1 4.6-2.5 3.4-.2-1.1-3.3-3.4-3.4.2-1.2 1.2-2.6-2.6-.9-1.9-.3-2.7-4.3-5.5-1.2-.2-3.4-2.2-8.1.1-1.2 1-1.2.1-5.2 5.5-.5 2.3-.9 1.2-.1 2.3.1 3.5.9 1.6.2 1.8 5.5 5.6 1.3.2 1.1.9 4.6.8 1.1-.5 3.5-.1 3.5-2.3 2.3-.1 2.3.5 1.2 2.2-4.6 3.4-4.2 2.2-2.8 1-5.8.5-6.4-1.5-4-2.4-3.5-3.4-1.1.1-4.6 6.8-2.4 2.3-5.3 3.5 2.8 2.3 3.4 4.6 2.3 7zM170.4 210l23 0-.1-2.3-2.7-3.5-4-3.2-5.7-1.1-2.4 1-2.3.1-3.5 2.3-3.1 4.4-.3 2.3zM201.7 209.4l.1.6 19.6 0 0-19.3-4.7-.6-4.6-2-3.2-2.4-2.6-3-3.4 5.4-2 2.2-3.9 3.5-3.6 2.3 3.7 3.4 2.4 3.5 2.1 5.8zM51.2 184.2l4.6.1 1.2-1.1 2.3-.1 2.3-2.1 1.2-.3.8-.8.2-1.2 2.2-2.3.1-2.3 1-1.1 0-4.7-1-1.1-.1-2.3-6.7-6.7-2.3-.1-1.2-1-3.5-.1-5.8 2.3-4.3 4.4-.2 1.2-1 1.1-.2 2.4-.9 1.1 0 2.3.9 1.2.2 2.3 1.2 2.3 5.5 5.5 2.5.3zM52.2 177.6l-1-1-1.2 0-2.5-2.5 0-1.1-1.1-1.2.1-2.4 1-1.1 0-1.1 2.5-2.5 1.2 0 1.1-1.1 2.3 0 1.2 1.1 1.2 0 2.3 2.3.2 1.3 1.1 1.2 0 2.3-1.3 2.5-2.3 2.3-1.2.1-1.2 1-2.3 0zM177.4 184.2l4.6.1 2.3-1.2 1.2 0 1.1-1.1 1.2-.1 3.2-3.2 2.3-4.6 0-6.9-2.2-3.5-.1-1.1-3.2-3.2-1.2-.1-1.1-1.1-2.3-.1-1.2-1-3.5-.1-1.1 1-2.3.2-1.2 1.1-1.2 0-4.3 4.4 0 1.2-1.1 1.1 0 9.3 1.1 1.1 0 1.2 4.3 4.4 3.9 1.4zM178.4 177.6l-1-1-1.2 0-2.4-2.5-.1-5.8 2.5-3.6 1.2 0 1.1-1 2.4-.1 1.1 1 2.3.2 1.3 1.2.1 1.2 1.1 1.1 0 4.7-2.5 3.6-1.1 0-1.2 1.1-3.5 0zM219.1 183.1l2.3.1 0-26.2-1.2 0-4.6 2.4-2.1 2-2.3 3.5-.1 2.3-.9 1.1-.1 3.5 2.3 5.8 4.3 4.4 1.4.2zM15.3 182l2.3-1.2 3.2-3.2 2.3-4.6 0-5.8-1.1-1.2 0-1.1-1.1-1.2-.1-1.1-3.2-3.2-1.2-.1-1.1-1.1-1.2 0 0 23.8zM118.3 162.6l2.3-4.6 4.6-4.7 4.4-2.3 4.9-1.3 6 .1 6.5 2.3 4.6 3.5 2.6 3.2 2.3-4 3.5-4.3 3.5-3 4.3-2.3.5-1.2-2.5-2.2-3.1-4.7-1.6-4.6-.3-3.5.3-3.5 1.2-3.9 4.7-7.7 2.3-.1.4 3.6.8 1.2-2.3 3.5.2 9.2 1 1.2.1 1.1 5.6 5.5 2.1.3 1.3.9 5.8 0 1.2-1 3.5-1.3 3.2-3.2 2.3-3.5 0-8.1-.5-1.1-1.8-3.5-3.2-3.2-8.1-2.9-1.8-2 .6-4.6-3.7-3.5 2.5-2.4 4.7-.2 1.1-1 2.3-.1 2.3-2.1 1.2-.4 3.2-4.2 1.1-5.8-1-2.3-.1-2.3-2.6-3.5-4.1-3.2-2.3-.1-2.3-1-5.8 1.1-4.3 3.2-2.3 3.5-.3 2.3-.9 1.1 0 3.5.9 1.4.2 2.1 1 1.1.1 2.4-1.1 1.1 0 1.2 1 1.1 0 1.2 1.2 1.1-2.4-.1-3.7-3.3-2.1-2.9-1.4-2.9-1.1-5.8 1.3-7.1 2.3-4.4 3.3-3.5-.3-1.2-4.1-2.2-3.5-3-3.5-4.3-2.3-4.5-3.5 3.6-3.4 2.4-2.3 1.1-5.8 1.3-3.5-.1-4.7-1.2-4.6-2.9-3.4-3.8 0-3 2.3 1.4 4.6 0 3.5 1.2 1.1 1 4.7 0 1.1-1 2.3-.2 3.4-3.1 2.2-2.4.1-1.1 1-1.2 0-8.1-1.1-1.1-.1-1.2-3.1-3.2-3.5-2.3-2.3-.1-2.3-1-2.4 1-2.3.1-1.1 1.1-1.2.1-3.2 3.2-1.2 2.3-1.1 2.3-.1 4.6-2.5 3.4-.2-1.1-3.3-3.4-3.4.2-1.2 1.2-2.6-2.6-.9-1.9-.3-2.7-4.3-5.5-1.2-.2-3.4-2.1-8.1 0-1.2 1.1-1.2 0-5.2 5.5-.5 2.2-.9 1.3-.1 2.3.1 3.5.9 1.6.2 1.8 5.5 5.6 1.3.2 1.1 1 4.6.6 4.6-.5 3.5-2.3 2.3-.1 2.2.2 1.3 2.5-4.4 3.3-4.4 2.3-2.8 1-5.8.5-6.4-1.5-3.9-2.3-3.6-3.5-1.1.1-4.6 6.8-7.7 5.8 3 2.5 3.5 5 2 6.4 0 5.8-2 6.3-2.8 4.1-4 3.5-5.5 2.3 6.5 3.4 4.6 4.5 3.6 7.1.7 7-.8 5.1-2.3 5.3-2.3 2.9-4.6 4 6.9 4.6 2.3 2.5 3.5 5.6 4.6-4.5 4.6-2.8 5.8-1.8 5.8-.1 4.7 1.1 4.6 2.3 4 3.5 1.9 2.3 2.2 4.3zM28 158.5l2.3-4.3 2.3-2.9 4.4-3.8 4.2-2.3.6-1.2-3.4-3.2-2.3-3.6-1.3-3.6-.5-3.4.8-7 2.1-4.6 3.6-5.1 2.3.3.6 4.8-1.6 2.3-.2 2.4-.9 1.1 0 4.6 1 1.2.2 2.3 2.4 3.4 4.3 3.2 3.4 1.2 5.8 0 1.2-1.1 1.1 0 1.2-1.1 1.2-.1 3.1-3.2.1-1.2 2.2-3.4.1-5.8-1.2-3.5-2.6-3.5-4.1-3.1-2.3-.2-1.1-.9-2.4-.1-2.5-2.6 1.1-1.2.3-3.4-3.5-3.3-1.2-.2 1.2-.2 2.3-2.3 3.5 0 4.6-1.6 5.5-5.2.1-1.1 1.1-1.2.1-2.3-.1-5.8-1.1-1.1-.1-1.2-4.3-4.3-5.8-2.3-2.3.1-5.8 2.2-4.1 4.3-1.4 3.5-.1 5.8 1 1.7.2 1.7 1.1 1.2-1.1 1.2-.1 3.4 1.2 1.2.2 1.1-1.7 0-3.3-2.8-2.4-2.9-2.1-4.7-.6-4.6.4-4.6 1.2-3.5 2.3-3.8 2.9-3.1-.4-1.2-6.9-4.6-3.7-4.3-2.3-4.3-1.1-.2-5.8 5.2-7 2.5 0 85.6 6.3 2.2 7 5.8zM205.2 157.2l1.1.4 3.5-3.8 4.2-2.8 2.6-1.2 4.8-1.1 0-84.1-4.7-.6-4.6-2-3.2-2.4-2.6-3-3.4 5.4-2 2.2-3.9 3.5-3.6 2.3 4.6 4.6 3.3 7 .6 6.9-1.3 5.8-1.2 2.5-3.5 4.5-4.6 3.2-3.8 1.4 6.1 3.2 3.5 3 2.4 3 2.3 4.7 1.1 4.6 0 4.8-1.2 4.9-3.6 6.5-5.3 4.6 6.9 4.6 3.2 3.5 2 3.5zM51.2 58.1l4.6.1 1.2-1.1 2.3-.1 2.3-2.1 1.2-.3 3.2-4.3.1-2.3 1-1.1 0-4.7-1-1.1-.1-2.3-6.7-6.7-2.3-.1-1.2-1-4.6 0-1.2 1.1-3.5 1.1-4.3 4.4-1.2 2.3-.2 2.4-.9 1.1 0 2.3.9 1.2.2 2.3 1.2 2.3 5.5 5.5 2.6.3zM52.2 51.5l-1-1-1.2 0-2.5-2.5 0-1.1-1.1-1.2.1-2.4 1-1.1 0-1.1 2.5-2.5 1.2 0 1.1-1.1 2.3 0 1.2 1.1 1.2 0 2.3 2.3.2 1.3 1.1 1.2 0 2.3-1.3 2.5-2.3 2.3-1.2.1-1.2 1.1-2.3-.1zM177.4 57.9l4.6.3 1.3-.9 2.2-.3 1.1-1.1 1.2 0 3.2-3.2 1.3-3.5 1-1.2 0-6.9-2.2-3.5-.1-1.1-3.2-3.2-1.2-.1-1.1-1.1-2.3-.1-1.2-1-3.5 0-1.1.9-2.3.2-1.2 1.1-1.2.1-4.3 4.3 0 1.2-1.1 1.1 0 9.3 1.1 1.1 0 1.2 4.3 4.4 4 1.4zM178.4 51.5l-1-1-1.2 0-2.4-2.5-.1-5.8.2-1.1 2.3-2.5 1.2 0 1.1-1.1 2.4 0 1.1 1 2.3.2 1.3 1.2.1 1.2 1.1 1.1 0 4.7-2.5 3.6-1.1 0-1.2 1.1-3.5 0zM219.1 57l2.3.1 0-26.2-1.2.1-4.6 2.3-2.1 2-2.3 3.5-.1 2.3-.9 1.1-.1 3.5 2.3 5.8 4.3 4.4 1.4.2zM15.3 55.9l2.3-1.2 3.2-3.2 2.3-4.6 0-5.8-.9-1-1.4-3.6-3.2-3.2-1.2-.1-1.1-1.1-1.2 0 0 23.8zM118.3 36.5l2.3-4.7 3.5-3.7 5.4-3.2 3.9-1.2 7.1 0 4.5 1.3 5.7 3.7 3.5 4 2.3-4 3.5-4.3 3.5-3 4.2-2.3.7-1.1-2.6-2.3-2.5-3.5-2.2-5.8-.3-3.5-84.6 0-.7 4-2.3 5.3-2.3 2.9-4.6 4 6.9 4.6 2.3 2.5 3.5 5.6 4.7-4.6 6.3-3.5 4-1 5.8-.1 4.7 1.1 4.6 2.3 4 3.5 1.9 2.3 2.2 4.3zM28 32.4l2.3-4.3 2.3-2.9 4.4-3.8 4.1-2.3.7-1.1-3.4-3.3-2.3-3.6-1.3-3.6-.5-4.6-20.2 0 0 20.9 3.9 1.1 4.2 2.2 5.2 4.7zM205.2 31.1l1.1.4 3.5-3.8 4.2-2.8 2.6-1.2 4.8-1.1 0-19.7-18.5 0-1.2 5.1-2 4.2-2.6 3.5-4.3 3.4 6.9 4.6 3.2 3.5 2 3.5zM51.2 13.9l6.9.2 3.5-2.1 1.2-.1 3.1-3.2.1-1.2 1.1-1.1 1.2-3.5-27.3 0 1 1.2.2 2.3 2.5 3.5 4.2 3.2 1.7.2zM178.5 14.2l5.8 0 1.2-1 3.5-1.3 4.3-4.4.1-1.1 1.1-1.2 0-2.3-26.2 0 .1 2.3 1 1.2.1 1.1 5.6 5.4 2.3.4z"/><path fill="#fc9838" stroke="#707070" stroke-width="0.35" stroke-opacity="0.18" d="M15.3 210l18.7 0 .6-3.5 1.4-3.5 4.4-5.7-7.8-6.1-5.7-7.5-5.8 4.9-7 2.4 0 19zM43.1 210l24 0-1.2-3.5-4.3-4.3-2.3-1.2-4.7-1.1-6.9 2.3-4 4.3-1.5 3.5zM76.6 210l83.9 0 1.1-4.6 1.6-3.5 3.8-4.7-7.5-5.7-3-3.5-2.3-4.1-1.1.2-3.5 3.2-3.5 2.1-3.5 1.2-4.6.6-3.5-.3-5.1-1.7-3-1.9-3.8-3.9.4-4.2 2.3 1.6 4.6 0 2.3 1.2 1.2 0 1.1 1 4.7 0 1.1-.9 2.3-.2 5.5-5.5.1-1.1 1-1.2 0-8.1-1-1.1-.1-1.2-4.3-4.3-6.9-2.2-2.4 1-2.3.1-1.1 1-1.2.1-3.1 3.2-2.4 4.6-.1 4.6-2.6 3.5-.2-1.2-3.2-3.3-3.4.2-1.2 1.1-1.5-1.4-2.2-3.5-.1-2.3-4.3-5.5-1.2-.1-3.4-2.2-8.1 0-1.2 1.1-1.2.1-4.3 4.3-2.3 4.6 0 5.8 1.2 3.4 5.4 5.5 1.2.2 1.2 1 4.6.6 4.6-.5 3.5-2.3 2.3-.1 2.3.3.2 1.1 1.1 1.2-.1 1.1-8.1 5.2-4.7 1.5-3.4.3-4.7-.6-4.4-1.7-3.7-2.6-2.3-2.4-.5.3-5.3 7-6.3 4.6 4.2 4.6 1.4 2.3 2.2 7zM170.4 210l22.9 0 0-1.2-.1-1.1-2.7-3.5-3.9-3.1-2.3-.1-3.4-1.1-2.4 1-2.3.2-3.5 2.3-3.1 4.3-.2 2.3zM202.9 210l18.5 0 0-18.5-4.7-.7-4-1.6-2.9-1.9-3.5-3.4-3.4 5.4-2 2.2-6.3 4.6 4.8 5.6 2.2 4.8.8 3.5zM51.2 184.2l4.6 0 1.2-1 2.3-.1 2.3-2.2 1.2-.2 1-2 2.1-2.3.2-2.3 1-1.1 0-4.7-1-1.1-.2-2.3-6.6-6.6-2.3-.1-1.2-1-3.5-.1-5.8 2.3-4.3 4.3-.2 1.2-1 1.1-.2 2.5-.9 1 0 2.3.9 1.1.2 2.4 1.2 2.3 5.5 5.4 2.6.4zM52.1 177.6l-.9-.9-1.2-.1-2.5-2.5 0-1.1-1.1-1.2 0-2.3 1.1-1.2 0-1.1 2.5-2.5 1.2 0 1.1-1.1 2.3-.1 1.2 1.1 1.2.1 2.5 2.5 0 1.1 1.1 1.2 0 2.3-1.3 2.6-2.3 2.2-1.2.1-1.2 1.1-2.3 0zM177.4 184.1l4.6.1 5.8-2.3 3.2-3.2 1.3-3.4 1-1.2 0-6.9-2.2-3.5-.1-1.1-3.2-3.1-1.2-.1-1.1-1.2-2.3-.1-1.2-1-3.5 0-1.1.9-2.3.2-1.2 1.1-1.2.1-4.2 4.3-.1 1.2-1.1 1.1 0 9.3 1.1 1.1.1 1.2 4.2 4.3 3.9 1.5zM178.4 177.6l-1-1-1.2 0-2.4-2.5-.1-5.8 2.5-3.6 1.2 0 1.1-1.1 2.4-.1 1.1 1.1 2.3.1 1.3 1.3.1 1.2 1.1 1.1 0 4.7-1.1 1.1 0 1.2-1.4 1.3-1.1 0-1.2 1.1-3.5 0zM219.1 183.1l2.3.1 0-26.1-1.2 0-4.6 2.3-2 2-2.3 3.5-.2 2.3-1 2.3.1 2.3 2.2 5.8 4.3 4.3 1.5.3zM15.3 181.9l3.2-2 2.9-3.5 1.6-3.4.1-4.7-1.2-3.4-2-3.2-2.3-2.2-3.5-1.3 0 23.8zM117.2 160.6l1.1.3 3.5-5.3 4.1-3.5 2.8-1.5 5.8-1.5 5.8.1 4.7 1.3 4.9 2.8 4.3 4.2 2.3-4.1 3.1-3.6 7.8-5.8-2.8-2.7-2.3-3.5-1.6-4.2-.6-4.6.5-4.6 1.2-3.5 5.2-8 1.1.9 1.4.2 0 2.3 1.1 2.3-2.3 3.5.1 9.2 1.1 1.2.1 1.1 4.3 4.4 1.2 1 2.3.4 1.1.8 5.8 0 1.2-.9 2.3-.6 3.5-3 3.1-4.4 0-8.1-2.3-4.6-3.1-3.1-1.2-.1-1.2-1.1-2.3-.2-1.1-1-2.1-.3-2.1-2.3.6-4.6-3.6-3.5 2.5-2.4 4.7-.2 1.1-1 2.3-.2 3.5-2.5 3.1-4.1.1-2.3 1.1-2.3 0-1.2-1.1-2.3-.1-2.3-2.6-3.5-4-3.1-2.3-.1-2.3-1-5.8 1.1-4.3 3.1-2.3 3.5-.2 2.3-.9 1.1-.1 3.5.9 1.2.2 2.3 1.1 1.1.1 1.2 0 1.2-1.1 1.1-.1 1.2 1.1 1.1 0 1.2 1.2 1.1-3.7-.1-3.5-3.3-2.3-3.6-1.6-4.5-.3-3.5.5-4.6 1.4-4 2.3-3.9 2.4-2.6-7.5-5.7-3-3.5-2.3-4.1-1.1.2-2.9 2.8-4.1 2.5-3.5 1.2-4.6.6-3.5-.3-5.8-2.1-2.3-1.5-3.7-3.9.3-4.2 2.3 1.6 4.6 0 3.7 1.4.9.9 3.5 0 1.2-.1 1.1-.9 2.3-.2 3.3-3.1 2.2-2.4.1-1.1 1-1.2.1-6.9-1.2-3.5-3.1-3.2-3.5-2.2-4.6-1.1-2.4 1-2.3.1-1.1 1-1.2.1-3.1 3.2-1.3 2.3-.1 1.1-1 1.2-.1 4.6-2.5 3.5-.3-1.2-3.2-3.3-3.4.2-1.2 1.1-2.6-2.6-1.1-2.3-.1-2.3-4.3-5.5-1.2-.1-3.4-2.2-8.1 0-1.2 1.1-1.2.1-4.3 4.3-2.3 4.6 0 5.8 1.2 3.4 5.4 5.5 1.2.2 1.2 1 4.6.5 4.6-.4 3.5-2.3 2.3-.1 2.4.3.1 1.1 1.1 1.2-.1 1.1-8.1 5.2-4.7 1.5-3.4.3-4.7-.6-4.3-1.7-3.5-2.3-2.6-2.7-5.8 7.3-6.3 4.6 4.2 4.6 2.4 4.7 1.2 4.6 0 5.8-1.2 4.6-2.6 4.8-4.5 4.5-4.4 2.3 6.6 4.6 3.9 4.6 2.5 5.8.9 7-.8 4.6-1.7 4.6-2.2 3.5-4.5 4.6 5.4 3.6 3.1 3.3 2.7 4.1 1.1-.1 4.2-4 5.1-2.7 4.6-1.2 5.8-.1 5.8 1.5 4.5 2.5 3.9 3.5 3 4.6zM26.9 156.8l1.1-.1 2.9-4.6 2.9-3.1 7-4.9-3.3-3.5-2.1-3.5-1.5-4.6-.4-3.5.3-3.5 1.4-4.6 5.2-8.1 1.5 1 1.4.2 0 3.4.7 1.2-1.7 2.3-.3 2.3-.9 1.2-.1 4.6 1.1 1.2.1 2.3 2.5 3.4 4.2 3.2 3.4 1.1 5.8 0 3.5-2.2 1.2-.1 3.1-3.1.1-1.2 1.1-1.1 0-1.2 1.1-1.1 0-5.8-1.2-3.5-2.7-3.5-3.9-3.1-2.3-.1-1.1-.9-2.4-.2-2.6-2.6 1.2-1.2.2-3.4-3.4-3.2-1.3-.3 1.3-.3 2.3-2.3 3.5 0 5.8-2.3 4.3-4.4 1.2-3.4-.1-7-1-1.1-.1-1.2-4.3-4.3-5.8-2.2-2.3 0-5.8 2.2-4 4.3-1.5 3.5 0 5.8 1.2 3.4 1 1.2-1 1.2-.1 3.4 1.7 2.3-3.3 0-3.7-3.4-1.9-2.8-1.7-4.2-.6-4.6.5-4.6 1.2-3.5 1.9-3.5 3-3.4-7.8-6.1-5.7-7.5-5.8 4.9-7 2.4 0 84.4 4.7 1.3 2.3 1.2 4.8 3.8zM206.3 156.5l3.1-3.2 3.9-2.7 4.6-1.8 3.5-.7 0-82.7-3.5-.4-4.6-1.6-3.5-2.2-3.5-3.4-4.6 6.7-3.5 3.2-3.6 2.3 4.8 5.6 2.2 4.8.8 3.5.1 4.6-1.3 5.8-1.7 3.5-2.4 3.1-3 2.7-4.4 2.3 5.3 3.4 3.6 3.5 2.3 3.5 2 5.1.6 6.5-1.4 6.9-2.4 4.6-5.3 5.8 6.4 4.6 4.4 5.8zM51.2 58.1l4.6 0 1.2-1 2.3-.1 2.3-2.2 1.2-.2 3.1-4.3.2-2.3 1-1.1 0-4.7-1-1.1-.2-2.3-6.6-6.6-2.3-.1-1.2-1-4.6 0-1.2 1-1.1 0-2.4 1.2-4.3 4.3-.2 1.2-1 1.1-.2 2.5-.9 1 0 2.3.9 1.1.2 2.4 1.2 2.3 5.5 5.4 2.6.4zM52.1 51.5l-.9-.9-1.2-.1-2.5-2.5 0-1.1-1.1-1.2 0-2.3 1.1-1.2 0-1.1 2.5-2.5 1.2 0 1.1-1.1 2.3 0 1.2 1.1 1.2 0 2.5 2.5 0 1.1 1.1 1.2 0 2.3-1 1.2-.3 1.4-2.3 2.2-1.2.1-1.2 1.1-2.3 0zM177.4 57.9l4.6.2 5.8-2.3 3.2-3.1 1.3-3.5 1-1.2 0-6.9-2.2-3.5-.1-1.1-3.2-3.1-1.2-.1-1.1-1.2-2.3-.1-1.2-1-3.5 0-1.1.9-2.3.2-1.2 1.1-1.2.1-4.2 4.3-.1 1.2-1.1 1.1 0 9.3 1.1 1.1.1 1.2 4.2 4.3 4.1 1.5zM178.4 51.5l-1-.9-1.2-.1-2.4-2.5.1-7 2.3-2.4 1.2 0 1.1-1.1 2.4-.1 1.1 1.1 2.3.1 1.4 1.3 0 1.2 1.1 1.1 0 4.7-1.1 1.1 0 1.2-1.4 1.3-1.1.1-1.2 1-3.5.1zM219.1 57l2.3.1 0-26.1-1.2 0-4.6 2.3-2 2-2.3 3.5-.2 2.3-1 2.3.1 2.3 2.2 5.8 4.3 4.3 1.5.3zM15.3 55.8l2.3-1.1 3.8-4.4 1.6-3.4.1-4.7-1.2-3.4-2-3.2-2.3-2.2-3.5-1.3 0 23.8zM117.2 34.5l1.1.3 3.5-5.3 4.6-3.8 2.3-1.2 5.8-1.5 5.8.1 4.7 1.3 4.9 2.8 4.3 4.2 2.3-4.1 3.1-3.6 7.8-5.7-2.8-2.8-2.3-3.5-1.6-4.2-.6-4.6-83.2 0-2.4 8.1-2.5 3.8-4.2 4.3 6.5 4.6 4.7 6.4 1.1-.1 4.7-4.3 4.6-2.4 4.6-1.2 5.8-.1 5.8 1.5 3.5 1.8 4.9 4.2 3 4.7zM26.9 30.6l1.1 0 2.3-3.8 3.5-3.9 7-5-3.3-3.4-2.1-3.5-1.5-4.6-.4-3.5-19.4 0 0 20.3 4.7 1.3 2.3 1.2 4.8 3.8zM206.3 30.4l3.1-3.2 3.9-2.7 4.6-1.8 3.5-.7 0-19.1-18 0-.5 3.3-1.8 4.8-2.3 3.5-4.4 4.6 3.8 2.3 2.6 2.3 4.4 5.8zM51.2 13.7l1.1.5 4.7 0 3.4-1.2 1.2-1.1 1.2-.1 3.1-3.1.1-1.2 1.1-1.1 0-1.2 1.1-1.1 0-1.2-27.2 0 1.1 1.2.1 2.3 2.6 3.5 4.1 3.1 1.8.3zM178.5 14.1l5.8 0 4.7-2.2 4.2-4.4.1-1.1 1.1-1.2.1-2.3-26.2 0 .1 2.3 1.1 1.2.1 1.1 5.5 5.4 2.4.4z"/><path fill="#fca050" stroke="#707070" stroke-width="0.35" stroke-opacity="0.18" d="M15.3 210l17.9 0 2.1-7 4.2-5.7-4.5-3-3.5-3.2-4.6-6.5-4.7 4.1-4.6 2.2-3.5.7 0 18.4zM43.1 210l23.9 0 0-1.2-1.1-1.1-.1-1.2-4.2-4.2-2.3-1.2-4.7-1.1-4.6 1.1-1.1 1.1-1.2.1-3.1 3.1-2.3 4.6zM76.6 210l83.3 0 .6-3.5 1.4-3.5 4.2-5.7-7.7-5.8-4.2-6-1.1-.4-3.5 3-3.5 2-5.8 1.6-3.4.2-4.7-.8-3.5-1.4-4.6-3.4-2.3-2.6 1-1.5.2-3.2 2.3 1.7 4.6.1 3.5 1.2 1.1 1 4.7 0 1.1-1 2.3-.2 4.7-4.5 1.9-3.2 0-8.1-1.1-1.1-.1-1.2-4.2-4.2-1.2-.2-1.1-1-2.3-.1-2.3-1-2.4 1-2.3.1-1.1 1.1-1.2.1-3.1 3.1-1.2 2.3-.1 1.1-1 1.2-.1 4.6-2.6 3.6-.3-1.3-3.2-3.3-3.4.2-1.2 1.2-2.7-2.7-1.1-2.3-.1-2.3-4.2-5.4-1.2-.2-3.4-2.1-8.1 0-1.2 1.1-1.2 0-3.4 3.4-1.6 2-.6 2.3-.9 1.2 0 5.8.8 1.3.3 2.1 5.4 5.5 1.2.1 1.2 1 4.6.5 4.6-.4 3.5-2.2 4.6.1 1.3 2.4-.1 2.2-8.1 5.1-5.8 1.5-3.5 0-4.6-.9-3.5-1.5-5.8-4.5-4.8 6.2-5.9 4.6 5.5 8.1 1.5 5.8zM170.4 210l22.9 0-.1-2.3-2.8-3.5-3.8-3.1-5.7-1.1-2.4 1-2.3.1-3.5 2.3-3 4.3-.3 2.3zM202.9 209.3l.1.7 18.4 0 0-17.8-7-1.4-3-1.6-5.1-4-4.4 6.3-5.9 4.6 4.9 6.9 1.9 5.8zM51.2 184.1l4.6.1 1.2-1 2.3-.2 2.3-2.1 1.2-.3.9-1.9 2.2-2.3.2-2.3.9-1.1 0-4.7-1-1.1-.1-2.3-6.6-6.6-2.3-.1-1.2-1-3.5-.1-5.8 2.3-4.3 4.3-.1 1.2-1 1.1-.2 2.3-.9 1.2 0 2.3.8 1 .3 2.5 1.1 2.3 5.5 5.4 2.6.4zM52.1 177.6l-.9-.9-1.2 0-2.3-2.3-.2-1.4-1.1-1.2 0-2.3 1.1-1.2.2-1.4 2.3-2.3 1.2 0 1.1-1.1 2.3 0 1.2 1.1 1.2 0 2.3 2.3.3 1.4 1.1 1.2 0 2.3-1.4 2.6-2.3 2.3-1.2 0-1.2 1.1-2.3 0zM177.4 184.1l4.6.1 1.2-.8 2.3-.3 1.1-1.2 1.2 0 3.1-3.2 2.4-4.6 0-6.9-1.1-1.2-1.3-3.4-3.1-3.1-1.2-.1-1.1-1.1-2.3-.2-1.2-.9-3.5-.1-1.1 1-2.3.1-1.2 1.2-1.2 0-4.1 4.3-.2 1.2-1 1.1-.1 9.3 1.1 1.1.1 1.2 4.2 4.3 4 1.5zM178.3 177.6l-.9-.9-1.2 0-2.5-2.6.2-6.9 2.3-2.5 1.2-.1 1.1-1 2.4-.1 1.1 1 2.3.2 1.4 1.3 0 1.2 1.2 1.1 0 4.7-1.1 1.1-.1 1.2-1.4 1.3-1.1.1-1.2 1.1-3.5 0zM219.1 183l2.3.1 0-26-3.5 1.2-3.5 2.3-3 4.3-.2 2.3-1 2.3 0 2.3 2.3 5.8 4.2 4.2 1.5.4zM15.3 181.9l2.3-1.2 3.1-3.1 2.3-4.6 0-5.8-1.1-1.2 0-1.1-1.1-1.2-.1-1.1-3.1-3.1-1.2-.1-1.1-1.1-1.2 0 0 23.6zM117.2 159.2l1.1.2 2.3-3.5 4.7-4.2 4.6-2.2 4.6-1.1 4.7 0 4.6.9 4.6 2.2 5.8 4.4 4.3-6.1 7.9-5.8-3.2-3.4-1.4-2.3-1.8-4.9-.6-4.4 1-6.9 2.2-4.7 3.3-4.6 1.1-.1 1.1 1.1 1.2-.1.3 2.6 1 2.3-1.1 1.2-1.2 3.4.2 8.1 1 1.2.1 1.1 5.5 5.4 2.3.3 1.1.9 5.8 0 1.2-1 3.5-1.3 4.2-4.3.1-1.1 1-1.2.1-8.1-2.3-4.6-3.1-3.1-1.2-.1-1.2-1.1-2.3-.1-1.1-1-2.3-.4-2-2.3.6-4.6-3.6-3.5 2.6-2.5 4.7-.2 1.1-1 2.3-.1 3.5-2.6 3.1-4 1.1-5.8-1-2.3-.1-2.3-3.1-3.8-3.5-2.7-2.3-.2-2.3-1-5.8 1.1-4.2 3.1-2.3 3.5-.3 2.3-.9 1.1 0 3.5.9 1.2.2 2.3 1.1 1.1 0 2.4-1.1 1.1 0 1.2 2.2 3.4-4.8.1-4.9-5.8-1.5-3.5-.9-4.6 1.2-8.1 2.3-4.7 2.8-3.4-7.6-5.8-4.2-6-1.1-.4-4.7 3.8-4.6 2.1-6.9.9-4.7-.8-3.5-1.4-4-2.8-2.9-3.2 1-1.5.2-3.3 2.3 1.8 4.6.1 3.5 1.2 1.1 1 4.7 0 1.1-1 2.3-.2 2.1-1.9 3.4-3.5.1-1.1 1-1.2.1-2.3-.1-5.8-1.1-1.1-.1-1.2-3-3.1-3.5-2.3-2.3-.1-2.3-1-2.4 1-2.3.1-1.1 1.1-1.2.1-3.1 3.1-1.2 2.3-.1 1.1-1 1.2-.1 4.6-2.6 3.6-.3-1.3-3.2-3.2-3.4.1-1.2 1.2-2.7-2.7-1.1-2.3-.1-2.3-4.2-5.4-1.2-.2-3.4-2.1-8.1 0-1.2 1.1-1.2 0-4.2 4.3-2.3 4.6 0 5.8.8 1.3.3 2.1 5.4 5.5 1.2.1 1.2 1 4.5.4 4.7-.3 3.5-2.2 4.6 0 1.3 2.5-.1 2.2-8.1 5.1-5.8 1.5-3.5 0-4.6-.9-3.5-1.5-5.8-4.5-4.6 5.9-6.1 4.9 4.3 5.8 2.4 5.8.5 4.6-.3 4.6-1.4 4.7-2.9 4.6-2 2.3-5.2 3.5 6.1 4.8 4.2 5.6 2.1 5.8.4 5.8-.4 3.4-1.4 4.6-1.9 3.5-4.1 4.6-.5 1.2 4.8 3.5 3.2 3.4 1.7 2.7 1.1.2 5.8-4.7 4.6-2 7-1 5.8.8 3.5 1.2 3.4 2 4.7 4.4 2.2 3.4zM26.9 155.8l1.1-.7 4.6-6 7.2-5.1-3.2-3.4-2-3.5-1.2-3.5-.6-4.6.4-4.6 1.1-3.5 2.4-4.6 2.6-3.5 1.5-.1 1.1 1 1.2 0 .3 3.7.9 1.2-1.9 2.3-.3 2.3-.9 1.2-.1 4.6 1 1.2.2 2.3 3.1 4 3.5 2.5 3.4 1.2 4.7 0 5.8-2.3 3-3.1.1-1.2 1.1-1.1 1.2-3.5 0-4.6-1.2-2.3 0-1.2-3.1-3.8-3.5-2.7-2.3-.1-1.1-.9-2.4-.2-2.6-2.7 1.1-1.2.2-3.4-3.3-3.2-1.3-.3 1.3-.3 2.3-2.3 3.5-.1 5.8-2.3 4.2-4.3.1-1.1 1.1-1.2.1-2.3-.1-5.8-1.1-1.1-.1-1.2-4.2-4.2-5.8-2.3-2.3.1-5.8 2.2-3.9 4.2-1.5 3.5 0 5.8 1.2 3.4 1 1.2-1.1 1.2-.1 3.4 2.1 2.3-4.6.4-2.4-2.1-2.9-4-1.5-3.5-.9-4.6.1-3.5 1.1-4.6 2.3-4.7 2.9-3.4-6.9-5-5.7-7.7-4.7 4.1-4.6 2.2-3.5.7 0 83.2 5.8 1.7 3.5 2.1 3.3 3.1zM206.3 155.6l2.3-2.5 3.5-2.6 5.8-2.5 3.5-.5 0-81.4-7-1.4-3-1.6-5.1-4-4.4 6.3-5.9 4.6 3.5 4.6 2.4 4.7 1.3 5.7 0 3.5-.9 4.6-2 4.7-3.7 4.6-5.2 3.5 5.7 4.4 3.2 3.7 3.2 6.9.7 5.8-.6 5.8-2.4 5.8-5.4 6.9 4.9 3.5 4.7 5.8zM51.2 58l4.6.1 1.2-1 2.3-.2 2.3-2.1 1.2-.3 3.1-4.2.1-2.3 1-1.1 0-4.7-1-1.1-.1-2.3-6.6-6.6-2.3-.1-1.2-1-4.6.1-4.7 2.1-4.3 4.3-1.1 2.3-.2 2.3-.9 1.2 0 2.3.9 1.2.2 2.3 1.1 2.3 5.5 5.4 2.7.4zM52.1 51.5l-.9-.9-1.2 0-2.3-2.3-.2-1.4-1.1-1.2 0-2.3 1.1-1.2 0-1.1 2.5-2.6 1.2 0 1.1-1.1 2.3 0 1.2 1.1 1.2 0 2.3 2.3.3 1.4 1.1 1.2 0 2.3-1.4 2.6-2.3 2.3-1.2 0-1.2 1.1-2.3 0zM177.4 57.8l4.6.3 1.2-.9 2.3-.2 1.1-1.2 1.2 0 3.1-3.1.2-1.2 2.2-3.5 0-6.9-1.1-1.2-1.3-3.4-3.1-3.1-1.2-.1-1.1-1.1-2.3-.1-1.2-1-3.5-.1-1.1 1-2.3.2-1.2 1.1-1.2 0-4.2 4.3-.1 1.2-1 1.1 0 9.3 1 1.1.1 1.2 4.2 4.3 4.2 1.5zM178.3 51.5l-.9-.9-1.2 0-2.5-2.6.1-6.9 2.4-2.5 1.2-.1 1.1-1 2.4-.1 1.1 1 2.3.2 1.4 1.3 0 1.2 1.2 1.1 0 4.7-1.1 1.1-.1 1.2-1.4 1.3-1.1.1-1.2 1.1-3.5 0zM219.1 56.9l2.3.1 0-26-3.5 1.2-3.5 2.3-3 4.3-.2 2.3-1 2.3 0 2.3 2.3 5.8 4.2 4.3 1.5.3zM15.3 55.8l2.3-1.2 3.1-3.1 2.3-4.6 0-5.8-1.1-1.2 0-1.1-1.1-1.2-.1-1.1-3.1-3.1-1.2-.1-1.1-1.1-1.2 0 0 23.6zM117.2 33.1l1.1.2 2.3-3.5 4.7-4.2 4.6-2.2 4.6-1.1 4.7 0 4.6.9 4.6 2.2 5.8 4.4 4.3-6.1 5-4.1 2.9-1.6-2.9-3.2-2.8-4.9-1.3-7-81.9 0-1.7 7-2.6 4.4-3.9 4.8 4.8 3.5 4.9 6.1 1.1.2 5.8-4.7 4.6-2 7-1 5.8.8 3.5 1.2 3.4 2 4.7 4.4 2.2 3.4zM26.9 29.7l1.1-.7 4.6-6 7.2-5-3.2-3.5-2-3.5-1.2-3.5-.6-4.6-18.7 0 0 19.7 5.8 1.7 3.5 2.1 3.3 3.1zM206.3 29.5l2.3-2.5 3.5-2.6 5.8-2.5 3.5-.5 0-18.5-17.4 0-.4 3.5-1.2 3.5-3 4.9-3.5 4.3 6 4.6 3.5 4.7zM51.2 13.6l1.1.5 5.8-.1 3.5-2.1 1.2-.1 3-3.1.1-1.2 1.1-1.1 1.2-3.5-27.1 0 1 1.2.2 2.3 2.6 3.5 4 3 1.9.4zM178.5 14.1l5.8 0 1.2-1 3.5-1.3 4.2-4.3.1-1.1 1-1.2.1-2.3-26 0 .1 2.3 1.1 1.2 0 1.1 5.5 5.3 2.4.5z"/><path fill="#fcb060" stroke="#707070" stroke-width="0.35" stroke-opacity="0.18" d="M15.3 210l17.2 0 1.3-5.8 3.3-5.8-.1-1.1-6.9-5.8-3.2-4.4-1.2.1-2.3 2-4.6 2.3-4.7 1.2 0 17.3zM43.1 210l23.9 0-1.2-3.5-3.4-3.5-3.1-1.8-3.5-1.1-5.8 1.1-1.1 1-1.2.1-3 3.1-2.4 4.6zM77.8 210l81.2 0 1-4.7 3.6-6.9-.1-.8-7-6.1-3.4-4.8-3.3 2.5-4.8 2.4-4.7 1.1-4.6 0-4.9-1.2-4.4-2.2-4.6-4.2-.1-1.7 1-1.2.2-3.5 2.4 2 4.6 0 2.3 1.2 1.2 0 1.1 1 4.7 0 1.1-.9 2.3-.2 5.4-5.4.1-1.1 1-1.2 0-8.1-1-1.1-.1-1.2-4.2-4.2-6.9-2.2-2.4 1-2.3.1-1.1 1-1.2.1-3 3.1-2.4 4.6 0 4.6-2.7 3.7-.4-1.4-3.1-3.2-3.4.2-1.2 1.1-1.2-1.1-2.3-3.1-.4-3.1-4.2-5.4-1.2-.1-3.4-2.2-8.1 0-1.2 1.1-1.2.1-4.2 4.2-2.3 4.6 0 5.8.8 1.2.4 2.2 5.3 5.4 1.2.2 1.2 1 9.2.1 3.5-2.3 4.6.1.3 1.3 1.1 1.2-.1 1.1 1.1 1.2-2.4 2.3-6.3 3.5-4.1 1.2-3.5.3-4.6-.3-4.6-1.2-7-4.1-1.1 1.8-7.7 8.1 4 5.7 1.4 3.5.6 3.5zM170.4 210l22.8 0 0-1.2-.1-1.1-2.9-3.5-3.6-3-5.7-1.1-2.4 1-2.3.1-3.5 2.3-3 4.2-.2 2.3zM204 209.8l17.4.2 0-17-3.5-.3-3.9-1.2-4.4-2.3-2.1-1.9-1.1.7-8 8.1-.3 1.2 3.8 5.7 1.9 5.8zM51.2 184.1l4.6 0 1.2-1 2.3-.1 2.3-2.2 1.2-.2.9-1.9 2.1-2.3.2-2.3 1-1.1 0-4.7-1-1.1-.2-2.3-6.5-6.5-2.3-.2-1.2-.9-3.5-.1-5.8 2.2-4.2 4.3-.2 1.2-1 1.1-.3 2.6-.8.9 0 2.3.9 1.2.2 2.3 1.2 2.3 5.4 5.3 2.7.5zM52 177.6l-.8-.9-1.2 0-2.6-2.6 0-1.1-1.1-1.2.1-2.3 1-1.2 0-1.1 2.6-2.6 1.2 0 1.1-1.1 2.3 0 1.2 1.1 1.2 0 2.3 2.3.3 1.4 1.1 1.2 0 2.3-1.4 2.6-2.3 2.3-1.2.1-1.2 1-2.3 0zM177.4 184l4.6.1 5.8-2.3 3.1-3.1 1.3-3.4 1-1.2 0-6.9-2.2-3.5-.1-1.1-3.1-3.1-1.2-.1-1.1-1.1-2.3-.1-1.2-1-3.5 0-1.1.9-2.3.2-1.2 1.1-1.2.1-4.1 4.2-.1 1.2-1.1 1.1 0 9.3 1.1 1.1 0 1.2 4.2 4.2 4 1.6zM178.3 177.6l-.9-.9-1.2 0-2.5-2.6-.1-5.8.3-1.2 2.3-2.5 1.2 0 1.1-1.1 2.4 0 1.1 1 2.3.2 1.4 1.3.1 1.2 1.1 1.1 0 4.7-2.6 3.7-1.1 0-1.2 1.1-3.5 0zM219.1 183l2.3.1 0-25.9-1.2 0-4.6 2.3-1.9 1.9-2.3 3.5-1.1 4.6 0 2.3 2.3 5.8 4.1 4.2 1.6.4zM15.3 181.8l3.5-2.3 1.8-1.9 1.2-2.3 1.1-2.3 0-5.8-3-5.4-2.3-2.2-3.5-1.3 0 23.6zM117.2 157.1l1.1.4 4.6-5.4 3.5-2.3 6.8-2.3 7.3 0 4.5 1.2 4.6 2.3 3.5 2.9.9-.6 2.5-3.4 7-5.9.4-1.1-1.8-2.3-2.1-4.3-1.2-5-.1-5.8 1.3-5.1 1.4-3 2.1-3.4 2.3-2.4 2.3 2.1 1.5.3.1 2.3 1 2.3-2.3 3.5-.1 4.6.2 4.6 1.9 3.1 4.7 4.5 2.3.4 1.1.8 5.8 0 1.2-1 3.5-1.3 4.1-4.2.1-1.1 1.1-1.2 0-8.1-2.3-4.6-3-3-1.2-.1-1.2-1.1-2.3-.2-1.1-.9-2.4-.5-.4-1.1-1.6-1.2.7-4.6-3.7-3.5 2.7-2.6 4.7-.1 1.1-1 2.3-.2 3.5-2.6 3-3.9.1-2.3 1.1-2.3 0-1.2-1.1-2.3-.1-2.3-2.8-3.5-3.7-3-2.3-.1-2.3-1-5.8 1.1-4.1 3-2.4 3.5-.2 2.3-.9 1.1 0 3.5.8 1.2.3 2.3 1 1.1.1 2.4-1.1 1.1 0 1.2 2.2 3.4-5.1 1.2-3.3-3.3-2.4-3.6-1.1-2.3-1.1-4.7-.1-3.5 1.2-5.8 3.6-6.9-.1-.8-7-6.1-3.4-4.8-3.3 2.5-4.8 2.4-4.7 1.1-4.6 0-4.9-1.2-4.4-2.2-4.6-4.2-.1-1.7 1-1.2.3-3.5 2.3 2 4.6 0 5.8 2.3 3.5-.1 1.1-1 2.3-.1 3.2-3 2.2-2.4.1-1.1 1-1.2.1-6.9-1.2-3.5-3-3.1-3.5-2.2-4.6-1.1-2.4 1-2.3.1-1.1 1.1-1.2.1-3 3-2.4 4.6 0 4.6-2.7 3.7-.4-1.4-3.1-3.2-3.4.2-1.2 1.1-1.2-1.1-2.3-3.1-.4-3.1-4.2-5.4-1.2-.1-3.4-2.2-8.1 0-1.2 1.1-1.2.1-4.2 4.2-2.3 4.6 0 5.8.8 1.2.4 2.2 5.3 5.4 1.2.2 1.2 1 9.2.1 3.5-2.3 4.6.1.3 1.3 1.1 1.2-.1 1.1 1.1 1.2-2.4 2.3-6.4 3.5-4 1.2-3.5.3-4.6-.3-4.5-1.2-7.1-4.1-1.1 1.8-7 6.9-.6 1.2 2.6 3.4 2.7 5.8.9 5.8-.3 3.5-.6 3.4-2.4 5.8-4.2 4.7-3.2 2.3 5.3 4.6 3.4 4.6 2.3 5.8.5 7-.5 4.6-1.6 4.6-1.9 3.5-3.1 3.4 8.8 9.5 4.5-3.7 4.9-2.3 5.7-1.2 4.6.1 8.1 2.3 5 3.4 4.1 4.7zM124.1 119.8l-2.3-3-1.2-2.4-.1-1.6.1-2.4 1-1.1 2.5-.9 3.7.9 3.3 2.3 2.3 2.6 1.3 3.2-3.6.3-4.7 3.1zM109.1 104.7l-2.2-1.1-2.5-2.2-1.2-1.3-.8-2.3 2.7-3.5.5-2 1.2-1.6 1 .1 4.7 3.5 2.4 3.4.4 2.4-.4 3.6-1.2 1zM26.9 154.1l3.4-4.5 6.8-5.6.1-1.1-2.4-3.5-2.2-5.7-.5-7 .4-3.5 1.3-3.7 2.3-4.4 2.3-2.8 2.4.3 1.1 1.1 1.5.3 0 3.4.9 1.2-1.8 2.3-.4 2.3-.8 1.2-.1 4.6 1 1.2.1 2.3 2.6 3.4 4 3.1 3.4 1.1 5.8 0 3.5-2.2 1.2-.1 3-3 .1-1.2 1.1-1.1 0-1.2 1.1-1.1 0-5.8-1.2-3.5-2.8-3.5-3.7-3-2.3-.1-1.1-.8-2.4-.3-2.7-2.7 1.2-1.2.2-3.4-3.3-3.1-1.4-.4 1.4-.4 2.3-2.3 3.5 0 5.8-2.3 4.2-4.3 1.2-3.4-.1-7-1-1.1-.1-1.2-4.2-4.2-5.8-2.2-2.3 0-5.8 2.2-3.8 4.2-1.6 3.5 0 5.8.8 1.1.4 2.3 1.1 1.2-1.1 1.2-.1 3.4 2.1 2.3-3.6.2-1.6 1-5.1-5.8-1.3-2.3-1.4-4.6.1-7.4 1.2-4.2 3.3-5.8-.1-1.1-3.2-2.2-3.7-3.6-3.2-4.4-1.2.1-2.3 2-4.6 2.3-4.7 1.2 0 80.9 7 2.3 5 3.5zM206.3 153.2l7-4.5 8.1-2.4 0-79.4-3.5-.3-3.9-1.2-4.2-2.2-2.3-2-9.3 9.4-.1.6 2.5 3.4 2.3 4.6 1.2 4.7-.1 5.9-1.1 4.8-2.1 4.3-3.7 4.4-3.5 2.6 7.1 6.9 2.2 3.5 1.5 4.6.8 6-1.3 7.9-2.1 4.6-3.8 4.6.6 1.2 4.3 3.5 2.6 3.4zM51.2 58l4.6 0 1.2-1 2.3-.1 2.3-2.2 1.2-.2 3-4.2.2-2.3 1-1.1 0-4.7-1-1.1-.2-2.3-6.5-6.5-2.3-.1-1.2-1-4.6 0-1.2 1-1.1 0-2.4 1.2-4.2 4.2-.2 1.2-1 1.1-.3 2.6-.8.9 0 2.3.9 1.2.2 2.3 1.2 2.3 5.4 5.3 2.7.5zM52.1 51.5l-.9-.9-1.2 0-2.6-2.6 0-1.1-1.1-1.2 0-2.3 1.1-1.2 0-1.1 2.6-2.6 1.2 0 1.1-1.1 2.3 0 1.2 1.1 1.2 0 2.3 2.3.3 1.4 1.1 1.2 0 2.3-1.4 2.6-2.3 2.3-1.2.1-1.2 1.1-2.3-.1zM177.4 57.7l4.6.4 1.2-.9 2.3-.3 1.1-1.1 1.2-.1 3.1-3 1.3-3.5 1-1.2 0-6.9-2.2-3.5-.1-1.1-3.1-3-1.2-.2-1.1-1.1-2.3-.1-1.2-1-3.5 0-1.1.9-2.3.2-1.2 1.1-1.2.1-4.1 4.2-.1 1.2-1.1 1.1 0 9.3 1.1 1.1.1 1.2 4.1 4.3 4.2 1.5zM178.3 51.5l-.9-.9-1.2 0-2.5-2.6.1-6.9 2.4-2.6 1.2 0 1.1-1.1 2.4 0 1.1 1 2.3.2 1.4 1.3.1 1.2 1.1 1.1 0 4.7-2.6 3.7-1.1 0-1.2 1.1-3.5 0zM219.1 56.9l2.3.1 0-25.9-1.2 0-4.6 2.3-1.9 1.9-2.3 3.5-.2 2.3-.8 1.1-.1 3.5 2.3 5.8 4.1 4.2 1.6.4zM15.3 55.7l3.5-2.3 1.8-1.9 1.2-2.3 1.1-2.3 0-5.8-3.4-5.8-1.9-1.8-3.5-1.3 0 23.6zM117.2 31l1.1.4 2.3-3.2 5.8-4.5 6.7-2.3 7.4 0 4.5 1.2 4.6 2.3 3.5 2.9.9-.6 4.9-5.8 4.6-3.4.4-1.2-1.8-2.3-2.1-4.3-1.3-7.3-80.4 0-.4 3.5-1.6 4.6-1.9 3.5-3.1 3.5 4.8 4.6 4 4.8 4.5-3.7 4.8-2.3 5.8-1.2 4.7.1 8 2.3 5.8 4.2 3.3 3.9zM26.9 28l3.4-4.5 3.5-3.3 3.3-2.2.1-1.2-3.5-5.8-1.1-3.4-.5-4.7-18 0 0 18.5 7 2.3 5 3.5zM206.3 27.1l6.9-4.5 8.2-2.3 0-17.4-16.4 0-2 8.1-1.2 2.3-3.8 4.7.6 1.1 4.3 3.5 2.6 3.5zM51.2 13.5l2.3.6 4.6-.2 3.5-2.1 1.2-.1 3-3 .1-1.2 1.1-1.1 0-1.2 1.1-1.1 0-1.2-26.9 0 1 1.2.1 2.3 2.7 3.5 3.9 3 2.1.4zM178.5 14l5.8 0 1.2-1 3.5-1.3 4.1-4.2.1-1.1 1.1-1.2.1-2.3-26 0 .1 2.3 1.9 3.1 4.7 4.4 2.5.6z"/><path fill="#fcd040" stroke="#707070" stroke-width="0.35" stroke-opacity="0.27" d="M15.3 210l16.4 0 1.3-5.8 2.7-5.8-5.4-4.6-4.6-5-5.8 3.2-5.8 1.5 0 16.5zM43.1 210l23.8 0 0-1.2-1.1-1.1-.1-1.2-4.1-4.1-2.3-1.2-4.7-1.1-4.6 1.1-1.1 1.1-1.2.1-3 3-2.3 4.6zM79 210l23.1 0 3.5-.5 3.5.5 49.1 0 1.4-5.8 2.8-5.8-5.9-4.9-4.1-4.3-6.3 3-3.5 1-6.9.3-8.1-2.7-3.5-2.4-2.7-2.7.2-2.3 1-1.2.4-3.6 2.3 2 5.8.4 3.4 1.9 4.7 0 1.1-1 2.3-.2 4.7-4.6 1.8-3 0-8.1-1.1-1.1-.1-1.2-4.1-4.1-1.2-.2-1.1-1-2.3-.1-2.3-1-2.4 1-2.3.1-1.1 1.1-1.2.1-3 3-1.2 2.3-.1 1.1-1 1.2-.1 4.6-2.7 3.8-.5-1.5-3-3.1-3.4.2-1.2 1.1-2.8-2.8-1.1-2.3-.1-2.3-4.1-5.3-1.2-.1-3.4-2.2-8.1 0-1.2 1.1-1.2 0-4.1 4.2-2.3 4.6 0 5.8 1.2 3.4 5.2 5.4 1.2.1 1.2 1 9.2.1 3.5-2.3 4.6.1.4 1.4 1.1 1.2-.1 1.1 1.1 1.2-.2 1.1-3.4 2.7-4.7 2.5-3.4 1.2-4.7.5-4.6-.3-4.6-1.1-5.8-3.3-.4.2-8.1 8.1 3.5 5.7 2.1 7zM170.4 210l22.8 0-.1-2.3-3-3.5-3.5-2.9-5.7-1.2-2.4 1-2.3.1-3.5 2.4-2.9 4.1-.3 2.3zM205.2 210l16.2 0 0-16.3-4.7-.5-3.4-1.1-5.8-3-5.9 5.8-2.3 2.4 4.1 6.9 1.6 5.8zM51.2 184.1l4.6 0 1.2-1 2.3-.2 2.3-2.1 1.2-.3 3-4.1.2-2.3 1-1.1-.1-4.7-1-1.1-.1-2.3-6.5-6.5-2.3-.1-1.2-1-3.5-.1-5.8 2.3-4.2 4.2-.2 1.2-1 1.1-.1 2.3-.9 1.2 0 2.3 2.2 5.8 5.4 5.3 2.7.5zM52 177.6l-.8-.8-1.2-.1-2.6-2.6 0-1.1-1.1-1.2 0-2.3 1.1-1.2 0-1.1 2.6-2.6 1.2-.1 1.1-1 2.3-.1 1.2 1.1 1.2.1 2.6 2.6.1 1.1 1 1.2 0 2.3-1.4 2.7-2.3 2.2-1.2.1-1.2 1.1-2.3 0zM177.4 184l4.6.1 5.8-2.3 3.1-3.1 1.3-3.4 1-1.2 0-6.9-1.1-1.2-1.3-3.4-3-3-1.2-.1-1.1-1.2-2.3-.1-1.2-1-3.5 0-1.1 1-2.3.1-1.2 1.1-1.2.1-4 4.2-.2 1.2-1 1.1-.1 9.3 1.1 1.1.1 1.2 4.1 4.2 4.1 1.6zM178.3 177.6l-.9-.9-1.2 0-2.5-2.6.1-6.9 2.4-2.6 1.2 0 1.1-1.1 2.4-.1 1.1 1.1 2.3.1 1.5 1.4 0 1.2 1.1 1.1 0 4.7-1.1 1.1 0 1.2-1.5 1.4-1.1 0-1.2 1.1-3.5.1zM219.1 182.9l2.3.1 0-25.8-3.5 1.2-3.5 2.3-2.9 4.2-.2 2.3-1 2.3 0 2.3.9 1.2.3 2.3 1 1.1.1 1.2 4.1 4.1 1.6.5zM15.3 181.8l1.1-1 1.2-.2 3-3 1.3-3.5 1-1.1 0-5.8-1.1-1.2-1.2-3.4-3-3-1.2-.1-1.1-1.1-1.2 0 0 23.4zM118.3 155.7l3.5-4.1 4.6-3.2 3.5-1.5 4.6-.9 9.3 1.2 4.6 1.9 4.7 2.8 3.9-4.4 5.4-4.6-2.9-5.8-1.3-5.8-.2-4.6.4-3.5 1.2-3.4 2.4-4.7 2.6-3.4 1.2-.2 2.3 2.1 1.6.4 0 2.3 1.1 2.3-2.3 3.5-.1 5.8.2 3.4 1.8 3 4.7 4.5 2.3.4 1.1.9 5.8 0 1.2-1 3.5-1.3 4.1-4.2 0-1.1 1.1-1.2.1-8.1-2.4-4.6-2.9-3-8.3-2.8-1-1.8-1-.5.7-4.6-3.6-3.5 2.7-2.6 4.7-.2 1.1-1 2.3-.2 3.5-2.6 3-3.8 1.1-5.8-1-2.3-.1-2.3-3-3.6-3.5-2.8-2.3-.2-2.3-1-5.8 1.2-4.1 2.9-2.3 3.5-.3 2.3-.9 1.1 0 3.5.9 1.2.2 2.3 1.1 1.1.1 2.4-1.1 1.1-.1 1.2 1.1 1.1 0 1.2 1.2 1.1-6.1 1.2-5-5.8-1.7-3.5-1.1-4.6.1-4.6 1-4.6 1.2-3.5 2-3.5-4.3-3.4-5.7-5.8-6.3 3-3.5 1-6.9.3-8.1-2.7-3.5-2.4-2.7-2.7.2-2.3 1-1.2.4-3.6 2.3 2 4.6.1 3.5 1.2 1.1 1 4.7 0 1.1-1 2.3-.2 4.7-4.5 1.8-3.1 0-8.1-1.1-1.1-.1-1.2-2.9-3-3.5-2.3-2.3-.1-2.3-1-2.4 1-2.3.1-1.1 1.1-1.2.1-3 3-1.2 2.3-.1 1.1-1 1.2-.1 4.6-2.7 3.8-.5-1.5-3-3.1-3.4.2-1.2 1.1-2.8-2.8-1.1-2.3-.1-2.3-4.1-5.3-1.2-.1-3.4-2.2-8.1 0-1.2 1.1-1.2.1-4.1 4.1-2.3 4.6 0 5.8 1.2 3.4 5.2 5.4 1.2.1 1.2 1 9.2.1 3.5-2.3 4.6.1.4 1.4 1.1 1.2-.1 1.1 1.1 1.2-.2 1.2-3.4 2.6-4.7 2.5-3.4 1.2-4.7.5-4.6-.3-4.6-1.1-5.8-3.3-8.5 8.3 2.3 3.4 2.2 4.7 1.3 5.7-.1 3.5-1 5.8-1.2 3.5-3.1 4.4-4.5 3.7 4.1 3.4 3.4 4.7 2.1 4.6 1.1 6.9-1 9.3-2.5 5.8-2.6 3.4 4.1 3.5 2.7 3.3 1.2-.1 6.9-4 4.7-1.3 5.7-.3 4.7.7 3.5 1.1 4.6 2.4 6.7 6.3zM127.5 130.2l-4.6-2.3-2.3-2.4-2.3-4.7-.4-5.7 1-4.6 1.7-2.6 5.8-2.1 3.5-.1 4.7 1.3 5.5 3.5 2.6 4.6.2 4.7-1.4 4.2-3.3 3.9-4.8 2.3-5.8 0zM102.6 107l-3.9-2.3-4-4.6-1.3-4.6.6-4 2.3-4 3.1-2.5 3.9-1.4 5.8.3 4.3 2.3 3.6 4.6 1.1 3.5-.3 5.8-1.7 4.6-2.4 1.7-5.8 1.3-4.6-.5zM25.7 151.5l1.2-.1 3.4-3.8 5.6-4.7-2.5-4.6-1.1-3.5-.9-8.1.7-4.6 1.4-3.5 4.5-6.9 5.5 2.3 0 3.4.9 1.2-1.7 2.3-.5 2.3-.9 1.2-.1 4.6 1 1.2.2 2.3 2.6 3.4 3.9 3 3.4 1.2 4.7 0 5.8-2.4 2.9-2.9.1-1.2 2.2-3.4.1-2.3-.1-3.5-1.1-2.3 0-1.2-2.9-3.5-3.6-2.9-2.3-.1-1.1-.8-2.4-.3-2.3-2.3-.4-.5 1.1-1.2.2-3.4-3.2-3.1-1.5-.4 1.5-.4 2.3-2.4 3.5 0 5.8-2.3 4.1-4.2.1-1.1 1.1-1.2.1-3.4-.1-4.7-1.1-1.1-.1-1.2-4.1-4.1-5.8-2.3-2.3.1-5.8 2.2-3 3-2.3 4.6 0 5.8.8 1.1.4 2.3 1 1.2-1 1.2-.1 3.4 2.1 2.3-3.7.3-1.1 1-1.5-.1-5-5.8-2.4-5.8-.3-5.8.4-3.4 1.4-4.6 2.3-4.7-5.4-4.6-4.6-5-6.9 3.7-4.7 1 0 43.8 1.2 1.8 1.1 4.4-.7 4.7-1.6 3.1 0 21.3 4.7 1.2 6.1 3.3zM207.5 151.1l6.9-4.3 7-1.6 0-44.9-1.2-2.8-.2-2 .2-2.6 1.2-3.2 0-22.1-4.7-.5-3.4-1.1-5.8-3-8.2 8.2 3 4.6 2.2 5.8.6 3.4-.3 5.8-1 4.7-2.3 4.6-3.3 3.6-2.9 2.2 4 3.4 2.4 2.9 3.2 6.4 1.1 5.8-.2 5.8-.8 4.6-2.1 5.1-3 4.1 7.4 7zM129.9 124l2.3 0 1-.8.8-2.3-.6-1.1-2.3-.9-1.9.9-.8 1.1-.1 1.2.6 1.1zM101 95.8l2.3-.8 1-1.9-.5-2.3-1.7-1-2.3.6-1.1 1.6.2 2.3 1.3 1.2zM51.2 58l4.6 0 1.2-1 2.3-.1 4-3.1.3-1.1 2.2-2.4.2-2.3 1-1.1-.1-4.7-1-1.1-.1-2.3-6.5-6.5-2.3-.1-1.2-1-4.6.1-4.7 2.1-4.2 4.2-.2 1.2-1 1.1-.1 2.3-.9 1.2 0 2.3 2.2 5.8 5.4 5.3 2.8.5zM52 51.5l-.8-.8-1.2-.1-2.6-2.6 0-1.1-1.1-1.2 0-2.3 1.1-1.2 0-1.1 2.6-2.6 1.2 0 1.1-1.1 2.3 0 1.2 1 1.2.1 2.6 2.6.1 1.1 1 1.2 0 2.3-1.4 2.7-2.3 2.2-1.2.1-1.2 1.1-2.3 0zM177.4 57.6l4.6.4 1.2-.9 2.3-.2 1.1-1.1 1.2-.1 3.1-3 .1-1.2 2.2-3.5 0-6.9-1.1-1.2-1.3-3.4-3-3-1.2-.1-1.1-1.2-2.3-.1-1.2-1-3.5 0-1.1 1-2.3.1-1.2 1.1-1.2.1-4.1 4.2-.1 1.2-1 1.1-.1 9.3 1.1 1.1.1 1.2 4.1 4.2 4.3 1.6zM178.3 51.5l-.9-.8-1.2-.1-2.5-2.6 0-6.9 2.5-2.6 1.2 0 1.1-1.1 2.4-.1 1.1 1 2.3.2 1.5 1.4 0 1.2 1.1 1.1 0 4.7-1.1 1.1 0 1.2-1.5 1.4-1.1.1-1.2 1-3.5.1zM219.1 56.8l2.3.1 0-25.8-3.5 1.2-3.5 2.3-2.9 4.2-.2 2.3-1 2.3 0 2.3.9 1.2.3 2.3 1 1.1.1 1.2 4.1 4.1 1.7.5zM15.3 55.7l3.5-2.3 1.8-1.9 1.2-2.3.1-1.2 1-1.1 0-5.8-1.1-1.2-1.2-3.4-1.8-1.9-1.2-1.1-3.5-1.2 0 23.4zM118.3 29.6l3.5-4.1 4.6-3.2 3.5-1.5 4.6-.9 9.3 1.2 4.6 1.9 4.7 2.8 3.9-4.4 5.4-4.6-2.9-5.8-1.4-8.1-21.7 0-5.3 1.5-3.5-.3-2.9-1.2-45.4 0-.6 4.6-1.1 3.5-1.7 3.5-2.6 3.5 4.1 3.4 2.7 3.3 1.2-.1 4.6-3 4.6-1.7 5.8-.9 4.7.2 8.1 2.6 4.4 3.1 4.7 4.6zM25.7 25.4l1.2-.1 5.7-5.9 3.3-2.6-2.9-5.8-1.5-8.1-17.4 0 0 17.5 4.7 1.2 6.1 3.3zM207.5 25l6.9-4.3 7-1.6 0-16.2-15.5 0-1.7 8.1-1.7 3.5-2.6 3.5 3 2.3 4.4 4.6zM51.2 13.4l1.1.6 4.7 0 5.8-2.3 2.9-3 .1-1.2 2.2-3.4 0-1.2-26.8 0 1.1 1.2.1 2.3 2.7 3.5 3.8 2.9 2.2.5zM178.5 14l5.8 0 1.2-1 3.5-1.3 4.1-4.2 0-1.1 1.1-1.2.1-2.3-25.8 0 .1 2.3 1.8 3 4.7 4.4 2.6.7z"/><path fill="#fcf400" stroke="#707070" stroke-width="0.35" stroke-opacity="0.27" d="M15.3 210l15.2 0 2.5-10.4-.4-1.2-6.9-6.2-1.2-.1-6.9 2.5-3.5.5 0 14.9zM43.1 210l23.8 0-1.2-3.5-4.1-4.1-5.8-2.2-5.8 1.1-1.1 1-1.2.1-2.9 3-2.3 4.6zM80.1 209.9l17.8.1 4.2-1.9 3.5-.4 4.6.8 3 1.5 43.8 0 2.6-10.4-.4-1.2-7.3-6.6-6.9 2.6-3.5.7-7-.5-8.1-3.4-5.8-5.3 1-1.4-.1-1.1 1.1-1.2-.1-2.3.5-1.3 2.3 1.9 4.6.1 3.5 1.2 1.1 1 4.7 0 1.1-1 3-.7 4.6-4.7.1-1.1 1-1.2 0-8.1-1-1.1-.1-1.2-4.1-4.1-1.2-.1-1.1-1-4.6-1.1-2.4 1-2.3.1-1.1 1.1-1.2.1-2.9 2.9-1.3 3.4-1.1 1.2 0 4.6-2.8 3.8-.5-1.5-3-3-3.4.1-1.2 1.1-1.2-1.1-2.3-3-.5-3.3-4.1-5.3-1.2-.1-3.4-2.2-8.1.1-1.2 1-1.2.1-4.1 4.1-2.2 4.6 0 5.8 1.1 3.4 5.2 5.3 1.2.1 1.2 1.1 9.2 0 3.5-2.2 4.6 0 1.6 2.7-.1 1.1 1.9 2.3-6.8 4.8-3.5 1.7-4.7 1.3-6.9-.2-10.4-2.6-6.1 5.5 4.7 11.5zM170.4 210l22.7 0 0-1.2-.1-1.1-2.9-3.4-3.5-3-5.7-1.1-2.4 1-2.3.1-3.5 2.3-2.9 4.1-.2 2.3zM207.5 210l13.9 0 0-15.3-7-.9-5.8-2.2-4.7 3.3-2.1 2.4.1 1.1 3.3 6.5 1.5 5.1zM51.2 184l4.6 0 1.2-1 2.3-.1 2.3-2.2 1.2-.2.8-1.8 2.2-2.3.1-2.3 1-1.1 0-4.7-1-1.1-.2-2.3-6.4-6.4-2.3-.2-1.2-.9-3.5-.2-5.8 2.3-4.2 4.2-.1 1.2-1 1.1-.2 2.3-.9 1.2 0 2.3.9 1.2.2 2.3 1.1 2.3 5.4 5.2 2.8.6zM52 177.6l-.8-.8-1.2 0-2.6-2.7-.1-1.1-1-1.2 0-2.3 1.1-1.2 0-1.1 2.6-2.7 1.2 0 1.1-1.1 2.3 0 1.2 1.1 1.2 0 2.6 2.7.1 1.1 1.1 1.2 0 2.3-.3 1.2-3.5 3.8-1.2.1-1.2 1-2.3 0zM177.4 183.9l4.6.2 1.2-.9 2.3-.3 1.1-1.1 1.2-.1 3-3 1.3-3.4 1.1-1.2-.1-6.9-2.2-3.5-.1-1.1-3-3-1.2-.1-1.1-1.1-2.3-.1-1.2-1-3.5 0-1.1.9-2.3.2-1.2 1.1-1.2.1-4 4.1-.2 1.2-1 1.1 0 9.3 1 1.1.1 1.2 4.1 4.2 4.1 1.6zM178.2 177.6l-.8-.8-1.2 0-2.6-2.7.2-6.9 2.4-2.6 1.2-.1 1.1-1 2.4-.1 1.1 1 2.3.2 1.5 1.4.1 1.2 1.1 1.1 0 4.7-1.1 1.1-.1 1.2-1.5 1.4-1.1.1-1.2 1.1-3.5 0zM219.1 182.8l2.3.1 0-25.6-1.2 0-4.6 2.3-1.8 1.8-2.3 3.5-.1 2.3-1 2.3 0 2.3 2.3 5.8 4 4.1 1.7.5zM15.3 181.7l3.5-2.3 2.9-4.1 1.1-2.3 0-5.8-3.4-5.8-1.8-1.7-3.5-1.3 0 23.4zM117.2 151.1l1.1.5 3-2.9 4-2.7 6.9-2.5 3.5 0 7.4 1.7 8.8 3.6 1.2-.3 2.6-2.1 4.1-4.7-1.8-6.9-.8-5.8 0-3.5.7-3.4 2.6-5.8 4.1-5.7 3.5 2.9 1.2 0 .4.5.1 2.3 1 2.3-2.2 3.5-.2 4.6.2 4.6 1.8 3 4.7 4.5 2.3.3 1.1.9 5.8 0 1.2-1 3.5-1.3 4-4.1.1-1.1 1.1-1.2 0-8.1-2.3-4.6-2.9-2.9-1.2-.1-1.2-1.1-2.3-.2-1.1-.9-2.6-.6-.3-1.1-1.7-1.2.6-1.2.1-3.4-3.6-3.5 2.8-2.7 4.7-.2 1.1-1 2.3-.1 3.5-2.7 2.9-3.7.1-2.3 1.1-2.3 0-1.2-1.1-2.3-.1-2.3-2.9-3.5-3.5-2.9-2.3-.1-2.3-1-5.8 1.1-4 2.9-2.4 3.5-.2 2.3-.9 1.1 0 3.5.9 1.2.2 2.3 1 1.1.1 2.4-1.1 1.1 0 1.2 2.2 3.4-.4.5-2.3-.1-3.5 1.7-5.4-5.5-2.1-3.5-1.3-3.5-.3-4.6 2.9-12.7-.4-1.2-7.3-6.6-6.9 2.6-3.5.7-3.5.1-4.6-.9-7-3.1-5.8-5.3 1-1.4-.1-1.1 1.1-1.2.4-3.7 2.3 2.1 4.6 0 2.3 1.2 1.2 0 1.1 1 4.7 0 1.1-1 2.3-.1 4.7-4.6 1.7-3 0-8.1-1-1.1-.1-1.2-4.1-4.1-6.9-2.2-2.4 1-2.3.1-1.1 1.1-1.2.1-2.9 2.9-1.3 3.4-1.1 1.2 0 4.6-2.8 3.8-.5-1.5-3-3-3.4.1-1.2 1.2-2.9-2.9-1-2.3-.1-2.3-2.3-3.5-1.8-1.7-1.2-.2-3.4-2.2-8.1.1-1.2 1-1.2.1-4.1 4.1-2.2 4.6 0 5.8 1.1 3.4 5.2 5.3 1.2.1 1.2 1.1 9.2 0 3.5-2.2 4.6 0 1.6 2.7-.1 1.1 1.9 2.4-6.8 4.7-3.5 1.7-4.7 1.3-6.9-.2-10.4-2.6-6.1 5.5.1 1.1 3.7 7.5 1.3 5.2-1.3 12.7-2.7 4.7-3.5 3.5 3.1 3.4 2.1 3.5 1.9 4.6.7 3.5.2 5.8-.6 9.2-1 3.5-1.9 3.5.2 1.1 3.8 3.7 4.6-2.6 5.8-1.7 5.8-.6 5.8.6 6.9 2.4 2.9 1.7 4 3.5zM125.2 131.3l-3.8-2.3-3.5-4.6-1.8-5.8.6-5.8 1.8-4.6 1-1.2 2.3-1.3 4.6-1.6 3.5-.2 3.5.7 5.4 2.4 3.8 3.5 2.2 5.8-.4 5.8-3.5 5.8-4 2.9-5.8 1.6-5.8-1zM104.6 109.3l-3.8-1.1-5.9-4.6-2.8-4.7-.7-4.6 1.3-4.6 3.6-4.7 3.7-2.3 5.6-1.1 5.5 1.1 3.7 2.3 3.6 4.7 1.5 5.8-.5 4.6-2.5 5.8-3.2 1.9-3.5 1.2-4.6.5zM25.7 149l3.4-2.6 4.1-4.7-2.3-10.4-.2-6.9 2.6-7 4-5.8 1.1-.1 1.2 1 1.2 0 2.7 1.5 0 3.4 1 1.2-1.7 2.3-.5 2.3-.9 1.2-.1 4.6 1 1.2.2 2.3 2.6 3.4 3.8 3 3.4 1.1 4.7 0 5.8-2.3 2.9-2.9 1.2-3.5 1.1-1.1 0-5.8-1.2-3.5-2.9-3.5-3.5-2.9-2.3-.1-1.1-.8-2.4-.3-2.8-2.8 1.1-1.2.2-3.4-3.1-3-1.5-.5 1.5-.5 2.3-2.3 3.5 0 5.8-2.3 4.1-4.2 1.2-3.4-.1-7-1-1.1-.1-1.2-4.1-4.1-5.8-2.2-2.3.1-5.8 2.2-3.6 4-1.7 4.6 0 4.7.8 1.1.5 2.3 1 1.2-1.1 1.2-.1 3.4 2.1 2.3-3.7.4-1.1 1-2.4.1-5.3-6.1-2.4-4.6-.4-1.9 0-5.1 2.7-11.5-.4-1.2-6.9-6.2-1.2-.1-6.9 2.5-3.5.5 0 39.5 2.6 3.2 1.6 5.7 0 2.4-.9 3.4-3.3 4.8 0 16.6 5.8 1.7 5.1 2.4zM207.5 147.6l8.1-3.6 5.8-1 0-39.6-2.3-3.5-1.1-4.4.8-4.7 2.6-4.2 0-18-7-.9-5.8-2.2-3.3 2.2-3.5 3.5 4 9.2 1.1 5.8-1.3 11.6-2.7 4.6-3.5 3.5 3.9 4.6 3.5 8.1.6 4.6-.5 11.6-.7 3.5-2.4 4.6.3 1.1 3.4 3.5zM131.1 123.2l1.8-1.1.1-1.2-.8-1.1-1.1-.3-1.8 1.4 0 1.2zM101 94.8l1.9-.5.7-1.2-.3-1.5-1.2-.8-1.1.1-1.2 1.1-.2 1.1.6 1.2zM51.2 57.9l4.6.1 1.2-1.1 2.3-.1 2.3-2.2 1.2-.2.8-1.7 2.2-2.4.1-2.3 1-1.1 0-4.7-1-1.1-.2-2.3-6.4-6.4-2.3-.2-1.2-.9-4.6 0-1.2 1-3.5 1.1-4.2 4.2-.1 1.2-1 1.1-.2 2.3-.9 1.2 0 2.3.9 1.2.2 2.3 1.1 2.3 5.4 5.2 2.8.6zM52 51.5l-.8-.8-1.2 0-2.6-2.7-.1-1.1-1-1.2 0-2.3 1-1.2.1-1.1 2.6-2.7 1.2 0 1.1-1.1 2.3 0 1.2 1.1 1.2 0 2.6 2.7.1 1.1 1.1 1.2 0 2.3-1.5 2.7-2.3 2.3-1.2.1-1.2 1-2.3 0zM177.4 57.5l1.1.5 3.5 0 1.2-.9 2.3-.2 1.1-1.2 1.2-.1 3-2.9 1.3-3.5 1.1-1.2-.1-6.9-2.2-3.5-.1-1.1-3-3-1.2-.1-1.1-1.1-2.3-.1-1.2-1-3.5 0-1.1.9-2.3.2-1.2 1.1-1.2.1-4 4.1-.2 1.2-1 1.1 0 9.3 1 1.1.1 1.2 4.1 4.2 4.4 1.6zM178.2 51.5l-.8-.8-1.2 0-2.6-2.7.1-6.9 2.5-2.6 1.2-.1 1.1-1 2.4-.1 1.1 1 2.3.2 1.5 1.4.1 1.2 1.1 1.1 0 4.7-1.1 1.1-.1 1.2-1.5 1.4-1.1.1-1.2 1.1-3.5 0zM219.1 56.8l2.3.1 0-25.7-1.2 0-4.6 2.4-1.8 1.7-2.3 3.5-.1 2.3-1 2.3 0 2.3 2.3 5.8 4 4.1 1.7.5zM15.3 55.6l3.5-2.3 2.9-4.1 1.1-2.3 0-5.8-3.4-5.8-1.8-1.7-3.5-1.3 0 23.4zM117.2 25l1.1.5 4.5-4.1 3.6-2.1 7-2 9.7 1.8 8.8 3.6 1.2-.3 5-4.4 1.7-2.4-1.8-6.9-.8-5.8-17.6 0-5.1 2.8-3.4.6-4.7-.6-4.9-2.8-40.8 0-.5 7-1.2 3.8-1.8 3.1.3 1.2 3.8 3.6 3.5-2.1 4.6-1.7 5.8-1 4.6 0 5.8 1.1 4.6 1.8 2.9 1.7 4 3.5zM25.7 22.9l5.8-4.9 1.7-2.4-1.3-4.6-1.2-8.1-16.6 0 0 15.6 5.8 1.7 5.1 2.4zM207.5 21.5l6.9-3.2 7-1.4 0-14-14.1 0-.8 8.1-2.7 5.8.3 1.2 3.4 3.4zM52.3 13.9l5.8-.1 3.5-2.1 1.2-.1 2.9-2.9 1.2-3.5 1.1-1.1 0-1.2-26.7 0 1 1.2.2 2.3 2.7 3.5 3.7 2.9 2.3.5zM178.5 13.9l5.8 0 1.2-1 3.5-1.3 4-4.1.1-1.1 1.1-1.2 0-2.3-25.6 0 0 2.3 1.8 3 4.7 4.4 2.7.7z"/><path fill="#fcfc10" stroke="#707070" stroke-width="0.35" stroke-opacity="0.27" d="M15.3 210l13.3 0 2-10.4-1.4-1.6-4.7-3.3-8.6 2.6-1.8.1 0 12.6zM43.1 210l23.7 0 0-1.2-1.1-1.1-.1-1.2-4-4-2.3-1.2-4.7-1.1-4.6 1.1-1.1 1.1-1.2.1-2.9 2.9-2.3 4.6zM83.6 210l12.3 0 3.9-2.5 3.5-1.1 4.6.1 3.5 1.1 3.8 2.4 39.9 0 2.2-10.4-5.4-4.6-2.3.1-6.9 2.2-7.1 0-6.9-2.2-4.6-2.3-2.3-1.9-2.9-4.1.6 0 2-2.3 0-1.1 1-1.2-.1-2.3.6-1.4 2.3 2 4.6 0 3.5 1.3 1.1 1 4.7-.1 1.1-.9 2.3-.2 4.7-4.6 1.7-2.9 0-8.1-1.1-1.1-.1-1.2-4-4-1.2-.1-1.1-1.1-2.3-.1-2.3-1-1.2.8-3.5.3-1.1 1.1-1.2.1-2.9 2.9-1.3 3.4-1 1.2-.1 4.6-2.8 3.9-.6-1.6-2.9-3-3.4.2-1.2 1.1-2.9-2.9-1.1-2.3-.1-2.3-4-5.2-1.2-.1-1.1-1.1-3.5-1.2-6.9.1-1.2 1.1-1.2.1-4 4-2.3 4.6 0 5.8 1.7 4 4.6 4.6 1.2.2 1.2 1 9.2.1 3.5-2.3 4.6.1 1.6 2.7 0 1.1 1.9 2.2 1.2.1 0 .9-11.6 8.5-2.3 1.1-4.7.1-10.4-2-3.5-1.4-2.3 1.3-2.2 2-.2 1.1 5 11.6zM170.4 210l22.7 0-.2-2.3-3-3.5-3.3-2.8-3.4-.4-1.2-.8-5.8 1.2-3.5 2.3-2.8 4-.2 2.3zM209.8 210l11.6 0 0-13.1-8.1-1.3-4.7-1.5-4.2 3.2-.2 1.1 5.1 11.6zM51.2 184l4.6 0 1.2-1 2.3-.1 3.9-3 .4-1.2 2.1-2.3.2-2.3 1-1.1 0-4.7-1.1-1.1-.1-2.3-6.4-6.4-2.3-.1-1.2-1-3.5-.1-5.8 2.3-4.1 4.1-.2 1.2-1 1.1-.1 2.3-.9 1.2 0 2.3 2.2 5.8 5.3 5.2 2.8.6zM51.9 177.6l-.7-.7-1.2-.1-2.7-2.7 0-1.1-1.1-1.2 0-2.3 1.1-1.2 0-1.1 2.7-2.7 1.2 0 1.1-1.1 2.3 0 1.2 1.1 1.2 0 2.6 2.7 1.2 2.3 0 2.3-.3 1.2-3.5 3.8-1.2.1-1.2 1-2.3 0zM177.4 183.9l4.6.1 5.8-2.3 3-3 1.3-3.4 1-1.2 0-6.9-1.1-1.2 0-1.1-1.1-1.2-.1-1.1-3-2.9-1.2-.2-1.1-1.1-2.3-.1-1.2-1-3.5 0-1.1 1-2.3.1-1.2 1.1-1.2.1-3.9 4.1-.2 1.2-1 1.1-.1 9.3 1.1 1.1.1 1.2 4 4.1 1.2.1 1.2 1.1 1.8.5zM178.2 177.6l-.8-.8-1.2 0-2.6-2.7.1-6.9 2.5-2.7 1.2 0 1.1-1.1 2.4 0 1.1 1 2.3.2 1.5 1.4.1 1.2 1.1 1.1 0 4.7-1.1 1.1-.1 1.2-1.5 1.5-1.1 0-1.2 1.1-3.5 0zM219.1 182.8l2.3.1 0-25.6-3.5 1.2-3.5 2.3-2.8 4.1-.2 2.3-1 2.3 0 2.3.9 1.2.3 2.3 1 1.1.1 1.2 4 4 1.8.6zM15.3 181.6l2.3-1.1 2.9-2.9 1.3-3.5 1-1.1 0-4.7-.1-1.1-2.8-5.2-2.3-2.2-1.2-.2-1.1-1.1-1.2 0 0 23.2zM25.7 146.5l3.5-2.6 1.9-2.2-1.4-10.4-1.7-5.5 0-2.8 2.3-4.5 6.9-9.2.1 1.2 2.3 2 1.2-.1 1.1 1.1 1.2-.1.5.6 0 3.4 1 1.2-1.7 2.3-1.4 3.5-.2 4.6 1.1 1.2.1 2.3 2.9 3.6 3.5 2.7 3.4 1.2 5.8-.1 3.5-2.2 1.2-.1 2.8-2.8.1-1.2 2.2-3.4 0-5.8-1.1-2.3 0-1.2-3-3.5-3.4-2.8-2.3-.1-1.1-.8-2.4-.3-2.9-2.9 1.2-1.2.1-3.4-3-2.9-1.6-.6 1.6-.6 2.3-2.3 3.5 0 5.8-2.3 4-4.1.1-1.1 1.1-1.2 0-8.1-1.1-1.1-.1-1.2-2.2-2.3-4.1-2.9-2.3-.3-1.2-.8-2.3.1-5.8 2.2-2.9 2.9-2.3 4.6 0 5.8.8 1.1.4 2.3 1 1.2-1 1.2-.1 3.4 2.1 2.3-.3.4-3.5 0-1.1 1.1-1.2-.1-2.3 1.9-5.9-4.4-3.5-5.8-.4-5.8 2.3-9.2.8-5.8-1.4-1.6-4.7-3.3-10.4 2.7 0 35.6 3.5 3.6 1.2 2.4 1 4.5-1 6.2-2.8 4.3-1.9 1.8 0 12.8 11.3 3.9zM117.2 147.3l1.1-.2 2.3-2 6.2-3.4 6.6-1.4 5.9 1.4 12.4 4.7 1.4-.3 4.5-4.4-1.3-10.4-1.8-6.9.8-3.5 8.2-11.1 4.6 3.7 1.2-.1.5.6 0 2.3 1.1 2.3-2.3 3.5-.1 4.6.2 4.6 1.7 2.9 4.7 4.5 2.3.4 1.1.9 5.8-.1 4.7-2.2 4-4.1 0-1.1 1.1-1.2.1-8.1-2.4-4.6-2.8-2.8-1.2-.1-1.2-1.1-2.3-.2-1.1-1-2.3-.3-1.2-2-1.3-.6.7-1.2.1-3.4-3.5-3.5 2.8-2.8 4.7-.1 1.1-1 2.3-.2 3.7-2.8 2.7-3.5.3-3.5.8-1.1 0-1.2-.8-1.2-.4-3.4-2.9-3.5-3.4-2.8-2.3-.1-2.3-1.1-5.8 1.2-4 2.8-2.3 3.5-.2 2.3-1 1.1 0 3.5.9 1.2.2 2.3 1.1 1.1.1 2.4-1.1 1.1-.1 1.2 2.3 3.4-5.1 1.5-2.8 2-6.1-4.6-2.6-3.5-1.3-3.3 0-6.3 1.9-6.6 1.2-6.9-1.1-1.2-4.3-3.4-2.3.1-8.1 2.3-5.8-.1-3.5-1-3.9-1.3-4.5-2.4-2-1.7-2.9-4 2.6-2.4 0-1.1 1-1.2-.1-2.3.6-1.4 2.3 2 5.8.3 3.4 2 4.7 0 1.1-1 2.3-.2 2.4-2.2 2.8-3 .1-1.1 1.1-1.2.1-2.3-.1-5.8-1.1-1.1-.1-1.2-2.2-2.3-4.1-2.9-2.3-.1-2.3-1-7 2.3-2.9 2.9-1.2 2.3-.1 1.1-1 1.2-.1 4.6-2.8 3.9-.6-1.6-2.9-3-3.4.2-1.2 1.1-2.9-2.9-1.1-2.3-.1-2.3-4-5.2-1.2-.1-3.4-2.2-8.1 0-1.2 1.1-1.2.1-4 4-2.3 4.6 0 5.8.8 1.1.4 2.3 4.5 4.7 3 1.7 9.2.1 3.5-2.3 4.6 0 .5 1.6 1.1 1.2 0 1.1 1.9 2.3 1.2 0 0 .8-11.6 8.6-2.3 1.1-4.7.1-10.4-2-3.5-1.4-4.5 3.3.2 2.3 4.4 9.2.4 2.3-.7 5.8 0 7-.8 2.3-4.3 5.8 4.2 9.7 1.2 5.3-.2 15-.9 4.7-1 2.3 2 1 6.5-2.2 7.4-1.1 3.5.1 5.8.9 4.6 1.4 5.9 3.4zM127.9 133.6l-3.4-1.1-3.7-2.3-2.1-2.3-2.7-4.6-1.2-4.7 0-3.5 1.2-5.9-1.1-.5-5.8 1.9-5.8-.3-4.7-2-2.3-1.8-4.6-5.3-1.6-4.6.4-5.3 1.2-2.8 1.8-2.3 3.8-3.5 6-2.4 4.7.1 5.8 2.3 4.5 4.5 2.4 4.8.4 4.6-1.3 7 .8.9 7-1.8 5.8.7 5.8 2.4 4.9 4.7 1.9 4.6.3 2.3-.1 3.5-1.2 3.6-3.5 4.6-4.9 3.4-3.2 1.2-4.7.1zM208.6 144.1l6.8-2.4 6-.9 0-35.8-2.4-2.6-2.4-5.8.1-3.8 1.2-3.4 3.5-4.6 0-14-8.1-1.3-4.7-1.5-3 2-1.2 1.2-.2 1.1 4.4 9.3.9 3.4-.7 5.8 0 7-1.3 3.1-3.7 5 4.9 12.7.1 18.5-1.8 5.8 1.6 1.1zM131.1 122.5l.8-.4.3-1.2-1.1-.7-1 .7.2 1.2zM101 94l1.1.1.9-1-.3-1.1-.6-.5-1.1.2-.7 1.4zM51.2 57.9l4.6 0 1.2-1 2.3-.1 3.9-3 2.5-3.5.2-2.3 1-1.1 0-4.7-1.1-1.1-.1-2.3-6.4-6.4-2.3-.1-1.2-1-4.6.1-4.7 2.1-4.1 4.1-.2 1.2-1 1.1-.1 2.3-.9 1.2 0 2.3 2.2 5.8 5.3 5.2 2.9.6zM51.9 51.5l-.7-.7-1.2-.1-2.7-2.7 0-1.1-1.1-1.2 0-2.3 1.1-1.2 0-1.1 2.7-2.7 1.2 0 1.1-1.1 2.3 0 1.2 1.1 1.2 0 2.6 2.7 1.2 2.3 0 2.3-1.5 2.8-2.3 2.2-1.2.1-1.2 1.1-2.3 0zM177.4 57.5l4.6.4 1.2-.9 2.3-.2 1.1-1.1 1.2-.1 3-2.9 1.3-3.5 1-1.2 0-6.9-2.2-3.5-.1-1.1-3-2.9-1.2-.1-1.1-1.2-2.3-.1-1.2-1-3.5 0-1.1 1-2.3.1-1.2 1.1-1.2.1-4 4.1-.1 1.2-1 1.1-.1 9.3 1.1 1.1.1 1.2 4 4.1 4.5 1.7zM178.2 51.5l-.8-.8-1.2 0-2.6-2.7.1-6.9 2.5-2.7 1.2 0 1.1-1.1 2.4 0 1.1.9 2.3.3 1.5 1.4.1 1.2 1.1 1.1 0 4.7-1.1 1.1-.1 1.2-1.5 1.5-1.1 0-1.2 1.1-3.5 0zM219.1 56.7l2.3.1 0-25.5-1.2 0-4.6 2.3-1.7 1.7-2.3 3.5-.2 2.3-1 2.3 0 2.3.9 1.2.3 2.3 1 1.1.1 1.2 4 4 1.8.6zM15.3 55.6l1.1-1 1.2-.2 2.9-2.9 1.3-3.5 1-1.1 0-4.7-.1-1.1-2.8-5.2-2.3-2.3-3.5-1.2 0 23.2zM25.7 20.4l3.3-2.4 2.1-2.4-2-12.7-14.2 0-.8.6 0 12.9 11.3 3.9zM117.2 21.2l1.1-.2 5.9-4.2 2.6-1.2 6.6-1.4 5.9 1.4 11.4 4.4 2.4 0 4.5-4.4-1.9-12.7-14.1 0-5.1 3.5-3.1 1.2-2.3.2-2.4-.1-4.6-1.5-4.5-3.3-37.2 0-.1 7-.9 4.6-1 2.3.9.8 1.1.2 6.4-2.2 10.1-1.1 7.2 1.1 4.1 1.3 5.9 3.4zM207.5 17.2l1.1.8 6.8-2.4 6-.9 0-11.8-12.6 0-.1 9.3-1.7 4.6zM52.3 13.9l5.8-.2 3.5-2.1 1.2-.1 2.8-2.8.1-1.2 1.1-1.1 0-1.2 1.1-1.1 0-1.2-26.5 0 1 1.2.1 2.3 2.8 3.5 3.6 2.8 2.4.6zM178.5 13.9l5.8 0 1.2-1 3.5-1.3 4-4.1 0-1.1 1.1-1.2.1-2.3-25.6 0 .1 2.3 1.7 2.9 4.7 4.4 2.7.8z"/><path fill="#fcfc30" stroke="#707070" stroke-width="0.35" stroke-opacity="0.27" d="M15.3 210l11.9 0 1.4-4.6.6-5.8-4.7-3.7-10.4 2.8 0 11.3zM43.1 210l23.7 0-.1-1.2-1.1-1.1 0-1.2-4-4-5.8-2.2-5.8 1.1-1.1 1-1.2.2-2.8 2.8-2.3 4.6zM84.8 210l9.8 0 4-3 5.8-1.6 4.7.5 2.3.8 5 3.3 37.4 0 1.4-4.6.5-5.8-4.8-3.5-10.6 2.7-5.8-.5-11.5-3.4-3.5-2.2-2.3-2.7-1.2.3-10.4 8-4.6 1.8-2.4 0-5.7-2.2-10.5-2.3-1.1.6-2.1 2.2 5.2 11.6zM170.4 210l22.6 0 0-1.2-.1-1.1-3-3.5-3.3-2.8-5.7-1.1-2.4 1-2.3.1-3.5 2.3-2.8 4-.2 2.3zM211 210l10.4-.2 0-11.1-11.6-3-1.2.1-2.2 1.5-.6 1.1 4.7 10.4zM116 187.9l1.2 0 1.1-1.2 1.2 0 1.9-2.2 0-1.1 1-1.2 0-2.3.6-1.5 2.3 2 4.6.1 3.5 1.2 1.1 1 4.7 0 1.1-1 2.3-.2 4.7-4.5 1.6-2.9 0-8.1-1.1-1.1 0-1.2-4-4-1.2-.1-1.1-1-2.3-.1-2.3-1-2.4 1-2.3.1-1.1 1.1-1.2.1-2.8 2.8-1.3 3.4-1 1.2-.1 4.6-2.9 4-.6-1.7-2.9-2.9-3.4.1-1.2 1.2-3-3-1-2.3-.2-2.3-3.9-5.1-1.2-.2-3.4-2.2-8.1.1-1.2 1-1.2.1-3.9 4-2.3 4.6 0 5.8 1.1 3.4 5.1 5.2 1.2.1 1.2 1 9.2.1 3.5-2.3 4.6.1 2.3 4.7 1.2 1.3 1.3.2zM51.2 183.9l4.6.1 1.2-1.1 2.3-.1 3.9-2.9.3-1.2 2.2-2.3.1-2.3 1-1.1 0-4.7-1-1.1-.1-2.3-6.4-6.3-2.3-.2-1.2-.9-3.5-.2-5.8 2.3-4.1 4.1-.1 1.2-1 1.1-.2 2.3-.9 1.2 0 2.3.9 1.2.2 2.3 1.1 2.3 5.3 5.1 2.9.7zM51.9 177.6l-.7-.7-1.2-.1-2.7-2.7 0-1.1-1.1-1.2 0-2.3 1.1-1.2 0-1.1 2.7-2.7 1.2-.1 1.1-1.1 2.3 0 1.2 1.1 1.2.1 2.7 2.7.1 1.1 1 1.2 0 2.3-.2 1.2-3.6 3.8-1.2.2-1.2 1-2.3 0zM177.4 183.8l4.6.2 1.2-.9 2.3-.2 1.1-1.2 1.2 0 2.9-3 2.4-4.6 0-6.9-1.1-1.2-1.3-3.4-2.9-2.9-1.2-.1-1.1-1.1-2.3-.1-1.2-1-3.5-.1-1.1 1-2.3.1-1.2 1.2-1.2 0-3.9 4.1-.2 1.2-1 1.1 0 9.3 1 1.1.1 1.2 4 4.1 1.2.1 1.2 1.1 1.8.5zM178.2 177.6l-.8-.7-1.2-.1-2.6-2.7.1-6.9 2.5-2.7 1.2 0 1.1-1.1 2.4-.1 1.1 1 2.3.2 1.6 1.5 0 1.2 1.1 1.1 0 4.7-1.1 1.1 0 1.2-1.6 1.5-1.1 0-1.2 1.1-3.5.1zM219.1 182.7l2.3.1 0-25.4-1.2 0-1.1 1-3.5 1.4-1.7 1.6-2.3 3.5-.1 2.3-1 2.3 0 2.3.9 1.2.2 2.3 1.1 1.1.1 1.2 3.9 4 1.2 0 .6.6zM15.3 181.6l3.5-2.3 2.8-4 .1-1.2 1-1.1 0-5.8-2.2-3.5-.1-1.1-1.6-1.7-3.5-2.3-1.2-.1 0 23.2zM151.9 145.3l3.5-2.6 1-2.1-1.6-9.3-3.2-6.9.3-2.9 2.7-5.2 7.2-9.3-5.3-4.5-2.3-3.6-1.3-3.4-.6-5.8 2.9-10.4.5-3.5-.3-2.7-4.5-3.1-10.6 2.7-5.8-.5-11.3-3.3-3.7-2.3-2.3-2.7-1.2.3-10.4 8-4.6 1.8-2.4 0-5.7-2.2-10.5-2.3-2.3 1.4-.9 1.4 5.5 12.7-.7 7 .1 5.8-1 2.3-4.1 5.8 0 1.1 3.6 9.3.7 3.5-.1 21.9 10.8-2 8.1 0 8.8 2 6.3 3.4 9.2-5.4 3.5-1.2 3.5-.3 18.2 7zM128.6 134.8l-6.8-2.9-2.1-1.7-2.7-3.5-2.8-6.9.1-9.3-6.4 1-3.5-.2-2.8-.8-4.1-2.2-2.3-1.9-4.9-6.3-1.4-4.6 1.2-5.8 3.3-4.7 5.2-4.1 3.5-1.3 3.5-.3 3.5.5 4.6 2 3.5 2.8 3.9 6.2 1 4.7-.7 6.9.4.4 6.9-1 5.8 1.3 4.7 2 2.9 1.9 3 3.5 1.5 3.5.8 4.6-.7 4.6-2 3.5-3.4 3.5-4.4 3.2-4.7 1.7-3.5-.2zM23.4 144.6l2.3.6 3.5-2.9.7-1.7-1.7-9.3-3.2-6.9.5-3.5 3.4-5.8 6.3-8.1-4.9-4.1-2.3-3.3-1.3-3-1-6.9 2.9-10.4.6-5.8-4.7-3.7-10.4 2.8 0 33.4 2.7 2.2 1.7 2.3 2.3 6.9-.3 4.7-1 2.3-2.4 3.5-3 2.8 0 10.4 8.2 2.9zM209.8 141.9l11.6-2.3 0-33.6-3.9-4.8-1.6-3.4-.4-2.3.4-3.5 1.3-3.5 4.2-4.8 0-11.1-11.6-3-2.3.8-1.7 1.9 5.5 12.7-.7 7 .1 5.8-1 2.3-4.1 5.8 0 1.1 3.6 9.3.7 3.5.1 18.5-.5 3.4zM52.3 139.9l5.8-.1 3.5-2.1 1.2-.1 2.7-2.8.1-1.2 1.1-1.1 1.2-3.5 0-4.6-.8-1.2-.4-2.3-3-3.5-3.3-2.7-5.8-1.2-2.9-3 1.1-1.2.2-3.4-3-2.9-1.7-.6 1.7-.6 2.3-2.3 3.5-.1 5.8-2.3 4-4 .1-1.1 1-1.2 0-8.1-1.1-1.1 0-1.2-4-4-5.8-2.2-2.3.1-5.8 2.2-3.5 4-1.6 3.4-.1 5.8.9 1.1.4 2.3 1 1.2-1.1 1.2 0 3.4 2.1 2.3-.4.5-3.5 0-1.1 1.1-1.2-.1-2.2 2-.1 2.6-1 .9 1 .7.1 1.6 2.2 1.9 1.2-.1 1.1 1.1 1.2 0 .6.6 0 3.4.9 1.2-2.2 3.5-1 3.4 0 3.5 1 1.2.2 2.3 2.8 3.6 3.5 2.6 2.5.7zM178.5 139.9l5.8 0 1.2-1 3.5-1.3 3.9-4 .1-1.1 1.1-1.2 0-8.1-2.1-3.4-.2-1.2-2.8-2.8-8.6-3-.2-1.1-1.9-1.2.7-1.2.2-3.4-3.6-3.5 2.9-2.9 4.7-.1 1.1-1 2.3-.1 3.6-2.8 2.7-3.5.1-2.3 1-2.3-1.1-5.8-2.8-3.3-3.5-3-2.3-.1-2.3-1-5.8 1.1-3.5 2.3-2.8 4-.2 2.3-.9 1.1 0 3.5.9 1.2.2 2.3 1.1 1.1 0 2.4-1.1 1.1 0 1.2 1.1 1.1 0 1.2 1.2 1.1-.6.6-2.3 0-2.3 1-3.4 3.1-.1 1.1.1 2.3 4.5 4.1 1.2 0 .6.6 0 2.3 1.1 2.3-2.3 3.5.1 9.2 1 1.2.1 1.1 4 4 1.2 1 2.8.8zM101 93.2l1.1.3.3-.4-.3-.7-1.2.7zM116 61.8l1.2.1 1.1-1.2 1.2-.1 1.9-2.2 0-1.1 1-1.2 0-2.3.6-1.5 2.3 2 5.8.3 3.4 2 4.7 0 1.1-1 2.3-.2 4.7-4.5 1.6-2.9 0-8.1-1.1-1.1 0-1.2-4-3.9-1.2-.2-1.1-1-2.3-.1-2.3-1-2.4 1-2.3.1-1.1 1.1-1.2.1-2.8 2.8-1.3 3.4-1 1.2-.1 4.6-2.9 4-.6-1.7-2.9-2.9-3.4.1-1.2 1.2-3-3-1-2.3-.2-2.3-3.9-5.1-1.2-.2-3.4-2.2-8.1.1-1.2 1-1.2.1-3.9 4-2.3 4.6 0 5.8 1.1 3.4 5.1 5.2 1.2.1 1.2 1.1 9.2 0 3.5-2.3 4.6.1 2.3 4.7 1.2 1.4 1.3.2zM51.2 57.8l4.6.1 1.2-1 2.3-.2 2.3-2.1 1.2-.3.7-1.6 2.2-2.4.1-2.3 1-1.1 0-4.7-1-1.1-.1-2.3-6.4-6.3-2.3-.2-1.2-.9-4.6 0-4.7 2.1-4.1 4.1-.1 1.2-1 1.1-.2 2.3-.9 1.2 0 2.3.9 1.2.2 2.3 1.1 2.3 5.3 5.1 2.9.7zM51.9 51.5l-.7-.7-1.2-.1-2.7-2.7 0-1.1-1.1-1.2 0-2.3 1.1-1.2 0-1.1 2.7-2.7 1.2 0 1.1-1.1 2.3-.1 1.2 1.1 1.2.1 2.7 2.7.1 1.1 1 1.2 0 2.3-1.1 2.3-2.7 2.8-1.2 0-1.2 1.1-2.3 0zM177.4 57.4l1.1.5 3.5 0 1.2-.9 2.3-.2 1.1-1.1 1.2-.1 2.9-2.9 1.3-3.5 1.1-1.2 0-6.9-1.1-1.2-1.3-3.4-2.9-2.9-1.2-.1-1.1-1.1-2.3-.1-1.2-1-3.5-.1-1.1 1-2.3.2-1.2 1.1-1.2 0-3.9 4.1-.2 1.2-1 1.1 0 9.3 1 1.1.1 1.2 4 4.1 4.6 1.7zM178.2 51.5l-.8-.7-1.2-.1-2.6-2.7 0-6.9 2.6-2.7 1.2 0 1.1-1.1 2.4-.1 1.1.9 2.3.3 1.6 1.5 0 1.2 1.1 1.1 0 4.7-1.1 1.1 0 1.2-1.6 1.5-1.1.1-1.2 1.1-3.5 0zM219.1 56.6l2.3.1 0-25.4-1.2 0-1.1 1-3.5 1.4-1.7 1.6-2.3 3.5-.1 2.3-1 2.3 0 2.3.9 1.2.2 2.3 1.1 1.1.1 1.2 3.9 4 1.2 0 .6.6zM15.3 55.5l3.5-2.3 2.8-4 .1-1.2 1-1.1 0-5.8-2.2-3.5-.1-1.1-1.6-1.7-3.5-2.3-1.2-.1 0 23.2zM151.9 19.2l3.5-2.6 1-2.1-1.3-8.1-1.4-3.5-11.1 0-5.7 4.4-5.8 1.8-3.5-.6-3.5-1.4-3.5-2.2-1.9-2-35.5 0 .3 7-.5 4.6.6 1.2 10.4-2.1 8.1 0 8.8 2 6.3 3.4 9.2-5.4 3.5-1.2 3.5-.3 18.2 7zM23.4 18.5l2.3.6 3.5-2.9.7-1.7-1.4-8.1-1.3-3.5-11.2 0-1.9 1.7 0 10.4 8.2 3zM209.8 15.8l11.6-2.3 0-10.6-11.6 0 .2 9.3-.5 3.4zM52.3 13.8l5.8-.2 1.2-.9 1.1 0 1.2-1.1 1.2-.1 2.7-2.8.1-1.2 1.1-1.1 1.2-3.5-26.5 0 1 1.2.2 2.3 2.8 3.5 3.5 2.8 2.5.6zM178.5 13.8l5.8 0 1.2-1 3.5-1.3 3.9-4 .1-1.1 1.1-1.2 0-2.3-25.4 0 .1 2.3 1.6 2.9 4.4 4.1 3.1 1.1z"/><path fill="#fcfc60" stroke="#707070" stroke-width="0.35" stroke-opacity="0.27" d="M15.3 210l10.7 0 1.7-5.8 0-4.6-3.2-2.4-10.4 2.6 0 10.2zM43.1 210l23.6 0-1.2-3.5-3.4-3.5-2.8-1.6-2.3-.3-1.2-.8-5.8 1.1-1.1 1.1-1.2.1-2.8 2.8-2.3 4.6zM85.9 209.3l.5.7 6.9 0 5.4-4.6.5-1.2-6.3-4.7-10.5-2.4-1.6 1.3 2.8 6.8 2.1 3.6zM117.2 209.6l.3.4 35.1 0 1.7-5.8.3-3.5-.4-1.2-3.5-2.4-8.7 2.5-4 .3-16.2-3.3-4.6-2.1-1.2.1-10.1 8.4 1.7 1.2 4.9 1.9 3.8 2.7zM170.4 210l22.6 0-.2-2.3-3-3.5-3.2-2.7-2.3-.1-2.3-1.1-5.8 1.2-3.5 2.3-2.7 3.9-.2 2.3zM213.3 210l6.6 0 1.5-1.4 0-7.7-3.5-2-8.1-2-2.5 1.5 2.4 5.8 3.3 5.8zM116 187.8l1.2 0 1.1-1.2 1.2 0 1.8-2.1 0-1.1 1.1-1.2-.1-2.3.7-1.6 2.3 2.1 4.6 0 2.3 1.2 1.2 0 1.1 1 4.7 0 1.1-.9 2.3-.2 4.7-4.6.5-1.6 1.1-1.2-.1-8.1-1-1.1-.1-1.2-3.4-3.5-1.7-.5-1.1-1.1-2.3-.1-2.3-1-1.2.8-3.5.3-1.1 1.1-1.2.1-2.7 2.8-2.4 4.6 0 4.6-3 4.1-.7-1.8-2.8-2.8-3.4.1-1.2 1.1-3-3-1.1-2.3-.1-2.3-2.3-3.5-1.6-1.6-1.2-.1-3.4-2.2-8.1 0-1.2 1.1-1.2.1-3.9 3.9-1.3 3.4-1 1.2 0 5.8.8 1.1.4 2.3 5 5.1 1.2.2 1.2 1 4.6.3 4.6-.3 3.5-2.2 4.6 0 1.8 2.9-.1 1.1 1.8 2 1.4.3zM51.2 183.9l4.6 0 1.2-1 2.3-.1 2.3-2.2 1.2-.3.7-1.6 2.1-2.3.2-2.3 1-1.1 0-4.7-1-1.1-.2-2.3-6.3-6.3-2.3-.2-1.2-.9-3.5-.1-5.8 2.2-4 4.1-.2 1.2-1 1.1-.1 2.3-.9 1.2-.1 2.3.9 1.2.2 2.3 1.2 2.3 5.2 5.1 2.9.7zM51.9 177.6l-.7-.7-1.2 0-2.7-2.8-.1-1.1-1-1.2 0-2.3 1-1.2.1-1.1 2.7-2.8 1.2 0 1.1-1.1 2.3 0 1.2 1.1 1.2 0 2.7 2.8.1 1.1 1.1 1.2 0 2.3-.3 1.2-3.6 3.9-1.2.1-1.2 1-2.3 0zM177.4 183.8l4.6.1 5.8-2.3 2.9-2.9 1.3-3.4 1-1.2 0-6.9-2.2-3.5-.1-1.1-2.9-2.8-1.2-.2-1.1-1.1-2.3-.1-1.2-1-3.5 0-1.1 1-2.3.1-1.2 1.1-1.2.1-3.8 4-.2 1.2-1 1.1-.1 9.3 1.1 1.1.1 1.2 3.9 4.1 1.2 0 1.2 1.1 1.9.6zM178.1 177.6l-.7-.7-1.2 0-2.7-2.8.2-6.9 2.5-2.7 1.2-.1 1.1-1 2.4-.1 1.1 1 2.3.2 1.6 1.5.1 1.2 1.1 1.1 0 4.7-1.1 1.1-.1 1.2-1.6 1.5-1.1.1-1.2 1.1-3.5 0zM219.1 182.7l2.3.1 0-25.4-1.2.1-4.6 2.3-1.6 1.6-2.3 3.5-.2 2.3-1 2.3.1 2.3 2.2 5.8 3.9 3.9 1.9.7zM15.3 181.5l2.3-1.1 2.8-2.8 2.2-4.6.1-4.7-.1-1.1-2.7-5.1-2.3-2.2-3.5-1.3 0 23zM24.5 144.1l2.4-.9 2-2.6-2-8.6-1.2-1.8-4.6-4.2-1.2.5-5.8 5.2 0 8.1 10.4 4.2zM151.9 144.2l1.9-1.3 1.7-2.3-1.5-7-2.1-3.8-4.6-3.8-10.3 8.8-.4 1.1 1.9 2.4 1.8 1.3 11 4.4zM116 141.8l1.2.6 8.3-6.5-4.9-3.7-4.4-5.5-2.5-5.8-1.5-8.1-7.8-.6-5.8-2.4-4.6-3.8-5.7-7.1-1.2-.5-5.8 6.9-.6 1.7 3.6 12.8-.3 10.4.9 9.2 1 .3 13.9-1.4 9.3 1.4 6.8 2zM52.3 139.8l5.8 0 3.5-2.2 1.2-.1 2.7-2.7.1-1.2 1.1-1.1 0-1.2 1.1-1.1 0-5.8-.8-1.2-.3-2.3-6.3-6.2-2.3-.1-2.3-1.1-1.2 0-.7-.7-2.3-2.3 1.2-1.2.1-3.4-2.9-2.8-1.8-.7 1.8-.7 2.3-2.3 3.5 0 5.8-2.3 3.5-3.5.5-1.6 1.1-1.2-.1-8.1-1-1.1-.1-1.2-3.9-3.9-5.8-2.3-5.8 1.2-1.1 1-1.2.1-2.8 2.8-2.3 4.6 0 5.8.9 1.1.4 2.3 1 1.2-1.1 1.2-.1 3.4 2.2 2.3-.5.6-3.5 0-1.1 1.1-1.2-.1-2.1 1.9 0 2.3-.6 1.2.7 2.3 2 1.8 1.2-.1 1.1 1.1 1.2 0 .6.7 0 3.4 1 1.2-2.2 3.5-1.1 3.4.1 3.5 1 1.2.1 2.3 2.8 3.5 3.5 2.7 2.6.7zM178.5 139.8l5.8 0 1.2-1 3.5-1.3 3.8-3.9 1.3-3.4-.1-7-2.3-4.6-2.7-2.7-8.6-3.1-.7-1.6-1.5-.7.8-1.2.1-3.4-3.6-3.5 3-2.9 4.7-.1 1.1-1 2.3-.2 3.5-2.7 2.7-3.5.4-3.5.8-1.1-1.2-5.8-2.7-3.2-3.5-3-2.3-.1-2.3-1.1-5.8 1.2-3.5 2.3-2.7 3.9-.2 2.3-.9 1.1-.1 3.5 1 1.2.2 2.3 1 1.1.1 2.4-1.1 1.1 0 1.2 2.2 3.4-.6.7-2.3-.1-2.3 1.1-3.3 3 0 3.4 4.4 4 1.2 0 .6.7.1 2.3.8 1.1.2 1.2-2.2 3.5 0 9.2 1.1 1.2.5 1.6 3.5 3.5 1.2 1 2.9.8zM212.1 139.8l9.3-1.3 0-31.8-7-8.2-1.2.4-5.7 6.9-.3 1.2 3.7 12.8-.3 10.4.9 9.2zM22.2 115.8l1.2-.1 6.5-7.5.4-1.2-2.3-2.4-1.9-3.4-1.5-5.7 0-7 2.9-9.2.5-4.7-.3-1.1-3.2-2.4-10.4 2.6 0 31.6 2.6 1.7 2.1 2.3 3.2 5.8zM149.6 116l6.9-7.8.4-1.2-2.7-2.9-1.5-2.9-1.3-4.6-.5-4.6.3-3.5 3.1-10.4.3-3.5-.4-1.2-3.5-2.4-9.2 2.6-4.6.1-15.1-3.2-4.6-2.1-1.2.1-10.1 8.5 7.8 3.7 4.8 4.3 2.4 3.5 1.5 3.5 1.1 8.1.6.5 8.1 1.1 9.3 4 4 3.6 3 5.8zM88.2 88.5l10.4-9.2.7-1.2-6.4-4.7-10.5-2.4-1.6 1.3 2.8 6.8 4.1 7.1zM215.6 87.9l5.8-5.4 0-7.7-3.5-2-8.1-2-2.5 1.5 2.4 5.8 4.9 9.3zM116 61.7l1.2 0 1.1-1.2 1.2 0 1.8-2.1 0-1.1 1.1-1.2-.1-2.3.7-1.6 2.3 2.1 5.8.3 1.1.9 1.2 0 1.1 1.1 4.7-.1 1.1-.9 2.3-.2 4.7-4.6.5-1.6 1.1-1.2-.1-8.1-1-1.1-.1-1.2-3.9-3.9-1.2-.1-1.1-1.1-2.3-.1-2.3-1-2.4 1.1-2.3.1-1.1 1-1.2.1-2.8 2.8-.1 1.1-2.2 3.5 0 4.6-3 4.1-.7-1.8-2.8-2.8-3.4.1-1.2 1.1-3-3-1.1-2.3-.1-2.3-2.3-3.5-1.6-1.6-1.2-.1-3.4-2.2-8.1 0-1.2 1.1-1.2.1-3.9 3.9-1.3 3.4-1 1.2 0 5.8.8 1.1.4 2.3 5 5.1 1.2.2 1.2 1 4.6.3 4.6-.3 3.5-2.2 4.6 0 1.8 2.9-.1 1.1 1.8 2 1.4.4zM51.2 57.8l4.6 0 1.2-1 2.3-.1 2.3-2.2 1.2-.3 2.8-3.9.2-2.3 1-1.1 0-4.7-1-1.1-.2-2.3-6.3-6.3-2.3-.2-1.2-.9-4.6.1-1.2.9-3.5 1.1-4 4.1-.2 1.2-1 1.1-.1 2.3-.9 1.2-.1 2.3.9 1.2.2 2.3 1.2 2.3 5.2 5.1 3 .7zM51.9 51.5l-.7-.7-1.2 0-2.7-2.8-.1-1.1-1-1.2 0-2.3 1-1.2.1-1.1 2.7-2.8 1.2 0 1.1-1.1 2.3 0 1.2 1.1 1.2 0 2.7 2.8 1.2 2.3 0 2.3-1.2 2.3-2.7 2.8-1.2.1-1.2 1-2.3 0zM177.4 57.3l1.1.6 3.5 0 1.2-1 2.3-.2 1.1-1.1 1.2-.1 2.9-2.8 1.3-3.5 1-1.2 0-6.9-2.2-3.5-.1-1.1-2.9-2.8-1.2-.2-1.1-1.1-2.3-.1-1.2-1-3.5 0-1.1.9-2.3.2-1.2 1.1-1.2.1-3.9 4-.1 1.2-1 1.1-.1 9.3 1.1 1.1.1 1.2 3.9 4.1 4.6 1.7zM178.1 51.5l-.7-.7-1.2 0-2.7-2.8.1-6.9 2.6-2.7 1.2-.1 1.1-1 2.4-.1 1.1.9 2.3.3 1.6 1.5.1 1.2 1.1 1.1 0 4.7-1.1 1.1-.1 1.2-1.6 1.6-1.1 0-1.2 1.1-3.5 0zM219.1 56.6l2.3.1 0-25.3-1.2 0-4.6 2.3-1.6 1.6-2.3 3.5-.2 2.3-1 2.3.1 2.3 2.2 5.8 3.9 3.9 1.9.7zM15.3 55.4l2.3-1.1 2.8-2.8 2.2-4.6.1-4.7-.1-1.1-2.7-5.1-2.3-2.2-3.5-1.3 0 23zM151.9 18.1l1.9-1.3 1.7-2.3-1.9-8.1-2.6-3.5-7.1 0-6.9 5.8-.4 1.2 3.7 3.6 11.1 4.5zM22.2 16.9l2.3 1.1 1.2-.1 2.3-1.9.9-1.5-2-8.6-2.5-3-7.1 0-3.2 2.7 0 8.1 7.8 3.1zM116 15.7l1.2.6 8.3-6.4-.9-1.2-4-2.6-2.9-3.2-33.7 0 .9 10.4 1 .3 13.9-1.4 9.3 1.4 6.8 2zM52.3 13.8l4.7 0 3.4-1.2 1.2-1.1 1.2-.1 2.7-2.7.1-1.2 1.1-1.1 0-1.2 1.1-1.1 0-1.2-26.3 0 1 1.2.1 2.3 2.8 3.4 3.5 2.8 2.6.7zM178.5 13.7l5.8 0 1.2-1 3.5-1.2 3.8-4 .1-1.1 1.1-1.2.1-2.3-25.4 0 .1 2.3 1.1 1.2.5 1.6 4.5 4.2 3.1 1.1zM212.1 13.7l9.3-1.3 0-9.5-10.8 0 1 10.4z"/><path fill="#fcfc88" stroke="#707070" stroke-width="0.35" stroke-opacity="0.27" d="M15.3 210l9.7 0 1.6-4.6.4-4.7-.7-1.1-1.8-1.2-1.1-.1-9.3 2.5 0 9.2zM43.1 210l23.5 0 0-1.2-1.1-1.1-.4-1.6-3.5-3.5-5.8-2.2-1.2 0-4.6 1.1-1.1 1.1-1.6.4-2.3 2.4-2.3 4.6zM118.3 209.3l.5.7 32.8 0 1.2-3.5.9-5.8-3-2.6-10.4 2.7-3.4 0-9.3-2-7 0-3.4 1-1.1.9-1 2.3.3 2.4 2.5 3.4zM170.4 210l22.5 0 0-1.2-.1-1.1-6.2-6.2-5.7-1.1-2.4 1-2.3.1-2.3 2-1.2.3-2.6 3.9-.2 2.3zM88.2 207.8l3.5.7 1.2-.4.9-2.7-.4-2.4-2.9-2.9-6.9-1.7-.8 1.2 1.1 3.4 2 3.3 2.2 1.4zM215.6 208.2l3.5.2.7-.7.2-4.7-.9-1.3-2.4-1.7-6.9-1.8-.5 1.4 1.8 4.6 1 1.7 2.5 1.8zM116 187.7l1.2 0 1.1-1.2 1.2 0 1.7-2 0-1.1 1.1-1.2.1-3.5.6-.5 2.3 2.1 4.6 0 3.5 1.3 1.1 1 4.7 0 1.1-1 2.7-.5 4.7-4.7.1-1.1 1-1.2 0-8.1-1.1-1.1-.4-1.6-3.1-3.1-2.7-1.5-2.3-.1-2.3-1-1.2.8-3.5.3-1.1 1.1-1.6.4-2.3 2.4-1.3 3.4-1 1.2-.1 4.6-1.1 1.2-.1 1.1-1.8 1.8-.7-.6-.1-1.2-2.7-2.8-3.4.2-1.2 1.1-3.1-3.1-1.1-2.3-.1-2.3-3.8-5-1.2-.2-3.4-2.2-8.1.1-1.2 1-1.2.1-3.8 3.9-2.3 4.6 0 5.8.8 1.1.3 2.3 5 5.1 1.2.1 1.2 1 9.2.1 3.5-2.3 4.6 0 .7.7 0 1.1 1.2 1.2-.1 1.1 1.7 1.9 1.5.4zM51.2 183.8l4.6.1 1.2-1 2.3-.2 3.8-2.8.3-1.2 2.2-2.3.1-2.3 1.1-1.1-.1-4.7-1-1.1-.1-2.3-6.3-6.2-2.3-.2-1.2-.9-3.5-.2-5.8 2.3-4 4-.1 1.2-1.1 1.1-.1 2.3-.9 1.2 0 2.3.9 1.2.1 2.3 1 1.1.2 1.2 5.2 5 2.3.2.7.6zM51.8 177.6l-1.8-.7-2.8-2.8 0-1.1-1.1-1.2 0-2.3 1.1-1.2 0-1.1 2.8-2.8 1.2 0 1.1-1.1 2.3 0 1.2 1 1.2.1 2.7 2.8 1.2 2.3 0 2.3-.3 1.2-3.6 3.9-1.2.1-1.2 1-2.3 0zM177.4 183.7l4.6.2 1.2-.9 2.3-.2 1.1-1.1 1.2-.1 2.9-2.9.1-1.1 2.2-3.5 0-6.9-1.1-1.2 0-1.1-1.1-1.2-.2-1.1-2.8-2.8-1.2-.1-1.1-1.2-2.3-.1-1.2-.9-3.5-.1-1.1 1-2.3.1-1.2 1.1-1.2.1-3.8 4-.2 1.2-1 1.1-.2 8.1 1.3 3.5 3.9 4 1.2.1 1.2 1.1 1.9.6zM178.1 177.6l-.7-.7-1.2 0-2.7-2.8.1-6.9 2.6-2.8 1.2 0 1.1-1.1 2.4 0 1.1.9 2.3.3 1.6 1.5.1 1.2 1.1 1.1 0 4.7-1.1 1.1-.1 1.2-1.6 1.6-1.1 0-1.2 1.1-3.5 0zM219.1 182.6l2.3.1 0-25.2-1.2 0-5.8 3.5-2.7 3.9-.1 2.3-1 2.3 0 2.3.9 1.2.2 2.3 1.1 1.1.1 1.2 3.8 3.8 1.2.1.8.7zM15.3 181.5l3.5-2.3 2.7-3.9.1-1.2 1-1.1 0-5.8-1.1-1.2 0-1.1-1.1-1.2-.1-1.1-1.5-1.6-3.5-2.3-1.2-.1 0 22.9zM24.5 143.2l2.4-1.2 1-1.4-2.1-7-1.3-1.6-3.4-1.5-2.3-.1-2.3.9-2.4 2.6 0 3.4.6 1 9.2 4.6zM150.7 142.9l1.2.2 1.2-.7 1.4-1.8-2-7-1.8-1.9-3.4-1.3-2.3.1-2.4 1.1-1.9 2-.2 3.5 3.3 2.9 6.8 2.9zM52.3 139.8l5.8-.1 3.5-2.1 1.2-.1 2.6-2.7.1-1.2 1.1-1.1 1.2-3.5 0-4.6-.8-1.2-.4-2.3-6.2-6.1-5.8-1.2-2.3-2.3-.7-.8 1.1-1.2.1-3.4-2.8-2.8-1.1 0-.7-.7.7-.7 1.1-.1 2.3-2.3 3.5 0 5.8-2.3 3.5-3.4.4-1.6 1.1-1.2 0-8.1-1.1-1.1-.1-1.2-3.8-3.8-5.8-2.3-2.3.1-5.8 2.2-3.5 4.1-1.5 3.2 0 5.8 2.2 4.6-1.1 1.2 0 3.4 2.2 2.3-.6.6-3.5.1-1.1 1.1-1.2-.1-2 1.8-.3 3.5.4 2.3 1.3 1.2 1.8.5 1.1 1.1 1.2-.1.7.8 0 3.4 1 1.2-1.1 1.2-2.2 5.7 0 3.5 1 1.2.2 2.3 2.7 3.3 3.1 2.5 3.1 1.1zM178.5 139.8l5.8 0 1.2-1 3.5-1.3 3.8-3.9 1.2-3.4 0-7-2.1-3.4-.2-1.2-2.7-2.7-1.2-.1-1.2-1.1-2.3-.1-1.1-1-2.3-.2-.8-1.7-2-1.2.8-1.2.1-3.4-3.5-3.5 3-3 4.7-.1 1.1-1 2.3-.2 3.3-2.6 2.9-3.5.3-3.5.8-1.1-1.1-5.8-2.7-3.1-3.5-3-3.4-.4-1.2-.8-5.8 1.1-3.8 2.7-2.3 3.5-.2 2.3-1 1.1 0 3.5.9 1.2.2 2.3 1.1 1.1.1 2.4-1.1 1.1-.1 1.2 2.3 3.4-.7.7-2.3 0-2.3 1.1-3.2 2.9 0 3.4 4.3 4 1.2-.1.7.8 0 2.3.9 1.1.2 1.2-2.3 3.5.1 9.2 1.1 1.2 0 1.1 3.9 3.9 1.2 1 2.9.9zM110.2 138.4l7-.1 2-2.4.1-1.1-1.3-3.5-6.6-12.3-5.8-4.9-7-3.6-4.6-3.8-4.6-4.8-1.2-.4-1.1.5-3.3 2.7-1.5 2.3 2.7 11.6-.2 11.6 1.3 6.9 1 1.2 11.4-1.2 10.7 1.2zM213.3 138.3l8.1-.7 0-30.2-4.7-4.8-1.1-.9-1.2-.1-3.4 2.5-2.2 2.9 2.7 11.6-.2 11.6 1.9 8.1zM19.9 107.2l1.7-.2 1-2.3.6-15 3.4-10.4.4-4.7-2.5-2.3-3.4.4-7 2 0 29.8 5.5 2.5zM146.1 107l2.3 0 .6-1.1.5-15.1 3.8-12.7.4-3.5-.6-.9-2.4-1.7-9.2 2.5-4.6.2-9.3-2-4.6-.2-3.5.5-3.4 1.6-1 2.4.3 2.3 9.9 13.8 2.7 5.8 3.1 1.8zM88.2 81.7l3.5.7 1.2-.4.9-2.7-.4-2.3-2.9-3-6.9-1.7-.8 1.2 1.1 3.5 2 3.2 2.2 1.4zM215.6 82.1l3.5.2.7-.7.2-4.6-.9-1.4-2.4-1.7-6.9-1.8-.5 1.4 1.2 3.5 1.6 2.8 2.6 1.8zM116 61.6l1.2 0 1.1-1.2 1.2 0 1.7-2 0-1.1 1.1-1.2-.1-2.3.8-1.7 2.3 2.1 5.8.3 3.4 2 4.7 0 1.1-1 2.7-.5 4.3-4.2 1.5-2.8 0-8.1-1.1-1.1-.4-1.6-3.5-3.4-1.2-.2-1.1-1-2.3-.1-2.3-1-2.4 1-2.3.1-1.1 1.1-1.2.1-2.7 2.7-1.3 3.4-1 1.2-.1 4.6-1.1 1.2-.1 1.1-1.8 1.8-.8-1.8-2.7-2.7-3.4.1-1.2 1.1-3.1-3.1-1.1-2.3-.1-2.3-3.8-5-1.2-.2-3.4-2.1-1.2-.1-6.9.1-1.2 1.1-1.2 0-3.8 3.9-2.3 4.6 0 5.8.8 1.1.3 2.3 5 5.1 1.2.1 1.2 1 9.2.1 3.5-2.3 4.6 0 .7.7 0 1.1 1.2 1.2-.1 1.1 1.7 1.9 1.5.5zM51.2 57.7l4.6.1 1.2-1 2.3-.2 3.8-2.8.3-1.1 2.2-2.4.1-2.3 1-1.1 0-4.7-1-1.1-.1-2.3-6.3-6.2-2.3-.2-1.2-.9-4.6 0-4.7 2.1-4 4-.1 1.2-1.1 1.1-.1 2.3-.9 1.2 0 2.3.9 1.2.1 2.3 1 1.1.2 1.2 5.2 5 2.3.2.7.6zM51.8 51.5l-1.8-.7-2.8-2.8 0-1.1-1.1-1.2 0-2.3 1.1-1.2 0-1.1 2.8-2.8 1.2 0 1.1-1.1 2.3 0 1.2 1 1.2.1 2.7 2.8 1.2 2.3 0 2.3-1.6 2.9-2.3 2.2-1.2.1-1.2 1.1-2.3 0zM178.5 57.8l3.5 0 1.2-.9 2.3-.2 1.1-1.1 1.2-.1 2.9-2.8.1-1.2 2.2-3.5 0-6.9-1.1-1.2 0-1.1-1.1-1.2-.2-1.1-2.8-2.8-1.2-.1-1.1-1.2-2.3-.1-1.2-.9-3.5-.1-1.1 1-2.3.1-1.2 1.1-1.2.1-3.8 4-.2 1.2-1 1.1-.2 8.1 1.3 3.5 3.9 4 4.7 1.8zM178.1 51.5l-.7-.7-1.2 0-2.7-2.8 0-6.9 2.7-2.8 1.2 0 1.1-1.1 2.4 0 1.1.8 2.3.4 1.6 1.5.1 1.2 1.1 1.1 0 4.7-1.1 1.1-.1 1.2-1.6 1.6-1.1 0-1.2 1.1-3.5 0zM219.1 56.5l2.3.1 0-25.2-3.5 1.2-3.5 2.3-2.7 3.9-.1 2.3-1 2.3 0 2.3.9 1.2.2 2.3 1.1 1.1.1 1.2 3.8 3.8 1.2.1.8.7zM15.3 55.4l3.5-2.3 2.7-3.9.1-1.2 1-1.1 0-5.8-1.1-1.2 0-1.1-1.1-1.2-.1-1.1-1.5-1.6-3.5-2.3-1.2 0 0 22.9zM24.5 17.1l2.4-1.2 1-1.4-2.1-7-1.3-1.6-3.4-1.5-2.3-.1-2.3.9-2.4 2.6 0 3.4.6 1 9.3 4.6zM150.7 16.8l1.2.2 1.2-.7 1.4-1.8-2-7-1.8-1.9-2.3-1-3.4-.2-2.4 1.1-1.9 2-.2 3.5 3.3 2.9zM52.3 13.7l5.8-.2 1.2-.9 1.1 0 1.2-1.1 1.2-.1 2.6-2.7.1-1.2 1.1-1.1 1.2-3.5-26.3 0 1 1.2.2 2.3 2.9 3.5 3.3 2.6 2.7.8zM178.5 13.7l5.8 0 1.2-1 3.5-1.3 3.8-3.9.1-1.1 1-1.2.1-2.3-25.2 0 .1 2.3 1.1 1.2 0 1.1 5.1 4.8 3 1zM110.2 12.3l7-.1 2-2.3-.2-2.4-2.3-4.6-31.9 0 .6 5.8.7 2.3 1 1.2 10.4-1.2 11.9 1.2zM213.3 12.2l8.1-.7 0-8.6-10.1 0 .2 3.5z"/><path fill="#fcfca8" stroke="#707070" stroke-width="0.35" stroke-opacity="0.27" d="M15.3 210l9 0 2-7 0-2.3-.6-.7-2.3-1.1-9.3 2.4 0 8.7zM43.1 210l23.5 0-1.2-3.5-3.8-3.8-1.2-.2-1.1-1-4.7-1.1-6.9 2.3-2.7 2.7-1.3 3.4-1 1.2zM119.5 209l.6 1 30.8 0 1.6-4.6.4-4.7-2.2-1.8-10.4 2.5-4.6-.2-7-1.5-5.7.1-2.4.8-2.6 2.4-.1 2.4 1.4 3.4zM170.4 210l22.5 0-.2-2.3-5.7-5.8-3.8-.6-1.2-.9-3.5 1.1-2.3.1-3.5 2.3-2.6 3.8-.2 2.3zM87.1 205.6l3.4.9 1.2-1.1-.1-2.4-.7-1.1-1.9-1.2-4.2-1-.5 1 .3 1.2 2.2 3.5zM214.4 206l3.5.3.3-3.3-2.6-2.3-4.6-1.2.6 3.5 1.7 2.4zM116 187.5l1.2.1 1.1-1.2 1.2 0 1.6-1.9 0-1.1 1.1-1.2.1-3.5.7-.6 2.3 2.1 5.8.3 3.4 2 4.7 0 1.1-1 2.7-.4 4.3-4.3.4-1.5 1.1-1.2-.1-8.1-1-1.1-.1-1.2-3.8-3.8-1.2-.1-1.1-1.1-2.3-.1-2.3-1-1.2.9-3.5.3-1.1 1-1.2.1-2.6 2.7-1.3 3.4-1.1 1.2 0 4.6-1.1 1.2-.1 1.1-1.9 1.9-.7-.7-.1-1.2-2.7-2.7-3.4.1-1.2 1.1-3.2-3.1-1-2.3-.1-2.3-2-2.3-.3-1.2-1.5-1.5-1.2-.1-3.4-2.2-8.1 0-1.2 1.1-1.2.1-3.8 3.8-1.3 3.4-1 1.2 0 5.8.9 1.1.3 2.3 4.9 5 1.2.1 1.2 1.1 9.2 0 3.5-2.3 4.6.1 1.9 3 .4 1.6 1.2 1.3 1.7.5zM51.2 183.8l4.6 0 1.2-1 2.3-.1 2.3-2.2 1.2-.3.6-1.5 2.2-2.3.1-2.3 1-1.1 0-4.7-1-1.1-.2-2.3-6.2-6.2-2.3-.2-1.2-.9-3.5-.2-5.8 2.3-4 4-.1 1.2-1 1.1-.2 2.3-.9 1.2 0 2.3.9 1.2.2 2.3 1.1 2.3 5.2 5 2.3.2.7.6zM51.8 177.6l-1.8-.7-2.8-2.8 0-1.1-1.1-1.2 0-2.3 1.1-1.2 0-1.1 2.8-2.8 1.2-.1 1.1-1.1 2.3 0 1.2 1.1 1.2.1 2.8 2.8.1 1.1 1 1.2 0 2.3-.2 1.2-3.7 3.9-1.2.2-1.2 1-2.3 0zM177.4 183.7l4.6.2 1.2-.9 2.3-.3 1.1-1.1 1.2-.1 2.8-2.8 1.3-3.4 1.1-1.2 0-6.9-1.1-1.2-1.3-3.4-2.8-2.7-1.2-.2-1.1-1.1-2.3-.1-1.2-1-3.5 0-1.1.9-2.3.2-1.2 1.1-1.2.1-3.7 3.9-1.2 2.3-.1 9.3 1 1.1.2 1.2 3.8 4 1.2.1 1.2 1.1 2 .6zM178 177.6l-1.8-.7-2.7-2.8.1-6.9 2.6-2.8 1.2 0 1.1-1.1 2.4-.1 1.1 1 2.3.2 1.7 1.6 0 1.2 1.1 1.1 0 4.7-1 1.1-.1 1.2-1.7 1.6-1.1 0-1.2 1.2-3.5 0zM219.1 182.5l2.3.2 0-25.1-1.2 0-1.1 1-1.2.1-1.2 1.1-1.1.1-1.5 1.5-2.3 3.5-.1 2.3-1 2.3 0 2.3.9 1.2.2 2.3 1.1 1.1.1 1.2 3.7 3.8 1.2.1.8.7zM15.3 181.4l1.1-1 1.2-.2 2.7-2.6 2.2-4.6.1-4.7-.1-1.1-2.6-5-2.3-2.2-3.5-1.3 0 22.8zM23.4 142.1l1.1.4 1.2-.4 1.5-1.5-1.8-5.8-.9-1.2-2.3-1.2-5 .1-1.5 2.3 0 2.3 2.4 2.3 4.7 2.3zM149.6 141.9l2.3.4 1.9-1.7-1.8-5.8-1.3-1.5-2.3-1-4.8.2-1.3 2.3.3 2.9 2.1 1.7 4.6 2.3zM52.3 139.7l5.8-.1 3.5-2.1 1.2-.1 2.6-2.6.1-1.2 1.1-1.1 0-1.2 1.1-1.1 0-5.8-.8-1.2-.4-2.3-6.1-6.1-2.3-.1-2.3-1.1-1.2 0-3.1-3.1 1.2-1.2 0-3.4-2.7-2.7-1.1 0-.8-.8.8-.8 1.1 0 2.3-2.3 3.5 0 5.8-2.3 3.5-3.5 1.4-2.7 0-8.1-1-1.1-.1-1.2-3.8-3.8-1.2-.2-1.1-1-4.7-1.1-6.9 2.3-2.7 2.7-1.2 2.3-.1 1.1-1 1.2 0 5.8.9 1.1.4 2.3 1 1.2-1.1 1.2 0 3.4 2.2 2.3-.7.7-3.5.1-1.1 1.1-1.2-.1-1.8 1.7-.3 3.5.3 2.3 1.3 1.2 1.7.4 1.1 1.1 1.2 0 .8.8 0 3.4 1 1.2-2.3 3.5-1 3.4 0 3.5 1 1.2.2 2.3 2.6 3.2 3.1 2.6 3.2 1.1zM178.5 139.7l5.8 0 1.2-1 3.5-1.3 3.7-3.8.1-1.1 1.1-1.2 0-8.1-2.1-3.4-.2-1.2-2.6-2.6-1.2-.1-1.2-1.1-2.3-.1-1.1-1-2.3-.2-.7-.7-.2-1.1-2-1.2.9-1.2.1-3.4-3.6-3.5 3.1-3.1 4.7-.1 1.1-1 2.7-.4 3.1-2.6 2.6-3.2.3-3.5.9-1.1 0-1.2-.9-1.2-.3-3.4-2.6-3-3.5-3.1-2.3-.1-2.3-1-5.8 1.1-2.3 2-1.2.3-2.6 3.8-.2 2.3-.9 1.1 0 3.5.9 1.2.2 2.3 1 1.1.1 2.4-1.1 1.1 0 1.2 1.1 1.1 0 1.2 1.2 1.1-.8.8-2.3 0-2.3 1.1-3.1 2.8.1 3.4 4.1 3.9 1.2 0 .8.8 0 2.3.9 1.1.2 1.2-2.3 3.5 0 9.2 1.1 1.2.4 1.5 3.5 3.5 4.2 1.9zM87.1 137.2l1.1.4 9.3-1.1 10.4.9 4.9-.3 2.9-1.2.7-3.4-.7-3.5-4.3-7.8-8.1-6.9-7-5-6.9-6.3-1.2-.1-2.9 1.8-2 2.3 2.3 11.6-.2 12.7 1.6 5.8zM214.4 137.6l7-.8 0-28.9-5.8-5-1.2.1-2.3 1.5-2.2 2.5.3 3.5 2.1 9.3-.5 10.4 1.9 6.9zM16.4 104.8l2.4-.1 1.1-.6 1.2-2.3 1-11 4.2-13.8 0-2.4-1.8-1.6-1.1-.2-9.3 2.4 0 28.8 2.2.7zM143.8 104.9l2.3-.5 1.4-2 1.4-12.7 3.6-10.4.4-4.7-2.2-1.8-10.4 2.5-4.6-.2-9.3-1.7-4.6.6-2.3 1.3-1.8 2.8 1 3.5 3.1 4.7 4.9 5.7 3.3 6.9 4.5 2.6 8.4 3.2zM87.1 79.5l3.4.9 1.2-1.1-.1-2.3-.7-1.2-1.8-1.2-4.3-1-.5 1 .7 2.4 1.8 2.3zM214.4 79.9l3.5.3.3-3.2-.7-1.2-1.8-1.2-4.7-1.2.6 3.6 1.7 2.3zM116 61.5l1.2 0 1.1-1.2 1.2 0 1.6-1.9 0-1.1 1.1-1.2.1-3.4.7-.7 2.3 2.2 5.8.2 3.4 2 4.7 0 1.1-1 2.7-.4 4.3-4.3.4-1.5 1.1-1.2-.1-8.1-1-1.1-.1-1.2-3.8-3.8-1.2-.1-1.1-1-4.6-1.1-2.4 1-2.3.1-1.1 1-1.2.2-2.6 2.6-1.3 3.4-1.1 1.2 0 4.6-1.1 1.2-.1 1.1-1.9 1.9-.7-.7-.1-1.2-2.7-2.7-3.4.1-1.2 1.1-3.2-3.1-1-2.3-.1-2.3-2.3-3.5-1.5-1.5-1.2-.1-3.4-2.2-8.1 0-1.2 1.1-1.2.1-3.8 3.8-1.3 3.4-1 1.2 0 5.8.9 1.1.3 2.3 4.9 5 1.2.1 1.2 1.1 8.1.1 1.1-.1 3.5-2.3 4.6 0 1.9 3.1 0 1.1 1.6 1.8 1.7.6zM51.2 57.7l4.6 0 1.2-1 2.3-.1 2.3-2.2 1.2-.3 2.8-3.8.1-2.3 1-1.1 0-4.7-1-1.1-.2-2.3-6.2-6.2-2.3-.2-1.2-.9-4.6.1-4.7 2-4 4-.1 1.2-1 1.1-.2 2.3-.9 1.2 0 2.3.9 1.2.2 2.3 1.1 2.3 5.2 5 2.3.2.8.6zM51.8 51.5l-1.8-.7-2.8-2.8 0-1.1-1.1-1.2 0-2.3 1.1-1.2 0-1.1 2.8-2.8 1.2-.1 1.1-1 2.3-.1 1.2 1.1 1.2.1 2.8 2.8.1 1.1 1 1.2 0 2.3-1.1 2.3-2.8 2.9-1.2.1-1.2 1-2.3 0zM178.5 57.8l3.5 0 1.2-.9 2.3-.2 1.1-1.2 1.2-.1 2.8-2.7 1.3-3.5 1.1-1.2 0-6.9-1.1-1.2-1.3-3.4-2.8-2.7-1.2-.2-1.1-1.1-2.3-.1-1.2-1-3.5 0-1.1.9-2.3.2-1.2 1.1-1.2.1-3.8 3.9-1.1 2.3-.1 9.3 1 1.1.2 1.2 3.8 4 4.8 1.8zM178.1 51.5l-1.9-.7-2.7-2.8 0-6.9 2.7-2.8 1.2 0 1.1-1.1 2.4-.1 1.1.9 2.3.3 1.7 1.6 0 1.2 1.1 1.1 0 4.7-1 1.1-.1 1.2-1.7 1.6-1.1.1-1.2 1.1-3.5 0zM219.1 56.5l2.3.1 0-25.1-1.2 0-1.1 1-1.2.1-1.2 1.1-1.1.1-1.5 1.5-2.3 3.5-.1 2.3-1 2.3 0 2.3.9 1.2.2 2.3 1.1 1.1.1 1.2 3.7 3.8 1.2.1.8.7zM15.3 55.3l1.1-1 1.2-.1 2.6-2.7 2.3-4.6.1-4.7-2.4-5.7-2.6-2.6-3.5-1.3 0 22.8zM23.4 16l1.1.4 1.2-.4 1.6-1.5-1.9-5.8-.9-1.2-2.3-1.2-5 .1-1.5 2.3 0 2.3.8 1.2 6.3 3.4zM149.6 15.8l2.3.4 1.9-1.7-1.8-5.8-1.3-1.5-2.3-1-4.8.2-1.3 2.3.3 2.9 6.8 4zM52.3 13.6l4.7.1 3.4-1.2 1.2-1.1 1.2-.1 2.6-2.6.1-1.2 1.1-1.1 0-1.2 1.1-1.1 0-1.2-26.1 0 1 1.2.2 2.3 2.9 3.5 3.2 2.6 2.9.8zM178.5 13.6l5.8 0 1.2-1 3.5-1.3 3.7-3.8.1-1.1 1.1-1.2.1-2.3-25.2 0 .1 2.3 1.1 1.2.4 1.5 3.5 3.5 4.2 1.9zM87.1 11.1l1.1.4 9.3-1.1 10.4.9 5.8-.5 2-.9.7-4.7-.7-2.3-30.5 0 .4 3.5 1.4 4.6zM214.4 11.5l7-.8 0-7.8-9.6 0 .4 3.5 1.5 4.6z"/><path fill="#fcfcc8" stroke="#707070" stroke-width="0.35" stroke-opacity="0.60" d="M15.3 210l8.3 0 1.7-4.6.3-4.7-2.2-1.2-9.3 2.4 0 8.1zM43.1 210l23.4 0 0-1.2-1.1-1.1-.3-1.5-3.2-3.2-1.5-.4-1.1-1-4.7-1.1-4.6 1.1-1.1 1.1-1.5.3-2.3 2.4-2.3 4.6zM121.8 210l28.4 0 1.7-4.6.2-4.7-1.4-1.1-1.1 0-7 2-4.6.4-8.1-1.5-5.8 0-2.7 1.4-1.7 2.3.2 2.3 1.6 3.5zM170.4 210l22.4 0 0-1.2-.1-1.1-5.8-5.8-6-1.4-1.2.8-3.5.3-3.5 2.4-2.5 3.7-.2 2.3zM88.2 204.6l1.2.3.7-.7-.3-1.2-1.6-1.4-2.3-.3 0 .9 1.6 2zM214.4 204.5l1.2.3 1.1-.6-.3-1.2-1.1-1.1-2-.8-.9.8 1.6 2.3zM116 187.4l1.2 0 1.1-1.1 1.2-.1 1.5-1.7 0-1.1 1.1-1.2.1-3.5.8-.7 2.3 2.2 5.8.2 3.4 2.1 4.7 0 1.1-1 2.6-.4 4.7-4.7 0-1.1 1.1-1.2 0-8.1-1.1-1.1-.3-1.5-3.2-3.2-1.5-.3-1.1-1.1-2.3-.1-2.3-1-1.2.8-3.5.3-1.1 1.1-1.2.1-2.6 2.6-.1 1.1-2.2 3.5-.1 4.6-1.2 2.3-1.9 2-.8-.8-.1-1.2-2.6-2.6-3.4.1-1.2 1.1-4-4.4-.4-3.4-2-2.3-.5-1.5-5.8-3.4-8.1 0-1.2 1.1-1.2 0-3.7 3.8-1.3 3.4-1 1.2 0 5.8.9 1.1.5 2.6 4.6 4.7 1.2.1 1.2 1 8.1.1 3.4-1.2 1.2-1.1 4.6 0 2 3.1.3 1.5 1.2 1.3 1.2 0 .6.6zM51.2 183.7l4.6.1 1.2-1 2.3-.1 2.3-2.2 1.4-.6.3-1.2 2.2-2.3.2-2.3 1-1.1 0-4.7-1.1-1.1-.1-2.3-6.2-6.1-2.3-.2-1.2-.9-3.5-.2-5.8 2.2-3.9 4-.1 1.2-1.1 1.1-.1 2.3-.9 1.2 0 2.3.9 1.2.1 2.3 1 1.1.2 1.2 5.1 4.9 2.3.3.8.6zM51.7 177.6l-.5-.6-1.2 0-2.8-2.9-.1-1.1-1.1-1.2.1-2.3 1-1.2.1-1.1 2.8-2.9 1.2 0 1.1-1.1 2.3 0 1.2 1.1 1.2 0 2.8 2.9 1.2 2.3 0 2.3-.3 1.2-3.7 4-1.2.1-1.2 1-2.3 0zM177.4 183.6l4.6.2 1.2-.9 2.3-.2 1.1-1.1 1.2-.1 2.8-2.8.1-1.1 2.2-3.5 0-6.9-1.1-1.2 0-1.1-1.1-1.2-.1-1.1-2.8-2.7-1.2-.2-1.1-1.1-2.3-.1-1.2-.9-3.5-.1-1.1 1-2.3.1-1.2 1.1-1.2.1-3.7 3.9-.2 1.2-1 1.1-.2 8.1 1.3 3.5 3.8 3.9 1.2.1 1.2 1.1 1.1 0 .9.7zM178 177.6l-.6-.6-1.2 0-2.8-2.9.1-6.9 2.7-2.8 1.2-.1 1.1-1.1 2.4 0 1.1.9 2.3.3 1.7 1.6.1 1.2 1.1 1.1 0 4.7-1.1 1.1-.1 1.2-1.7 1.6-1.1.1-1.2 1.1-3.5 0zM219.1 182.5l2.3.1 0-25-1.2 0-5.8 3.5-2.5 3.8-.2 2.3-1 2.3 0 2.3.9 1.2.2 2.3 1.1 1.1.1 1.2 3.7 3.7 1.2.1.9.8zM15.3 181.4l1.1-1 1.2-.2 2.6-2.6 1.3-3.5 1-1.1 0-5.8-1.1-1.2 0-1.1-2.6-3.8-3.5-2.3-1.2 0 0 22.6zM24.5 141.9l2-1.3-1.5-4.7-2.8-2.2-3.6-.1-1.2 2.3.2 1.4 2.3 2.1 4.3 2.3zM150.7 141.7l1.2-.1 1.2-.9-1.5-4.8-.8-1.1-2.3-1.2-3.6 0-1 2.3.1 1.2 2.5 2.3zM52.3 139.7l5.8-.1 1.2-1 3.5-1.3 2.5-2.5.1-1.2 1.1-1.1 1.2-3.5 0-4.6-.9-1.2-.3-2.3-5.8-5.8-6.1-1.4-2.3-2.3-.9-.9 1.2-1.2.1-3.4-2.7-2.6-1.1-.1-.9-.8.9-.8 1.1-.1 2.3-2.3 3.5 0 5.8-2.3 3.5-3.5.3-1.4 1.1-1.2 0-8.1-1.1-1.1-.1-1.2-3.7-3.7-1.2-.2-1.1-1-2.3-.2-1.2-.9-5.8 1.1-1.1 1.1-1.2.1-2.6 2.6-2.3 4.6-.1 4.6 1.4 4.6 1 1.2-1.1 1.2-.1 3.4 2.3 2.3-.8.8-3.5 0-1.1 1.1-1.2 0-1.7 1.6 0 5.8 1.7 1.5 1.2 0 3.1 2 0 3.4 1 1.2-2.2 3.5-1.1 3.4.1 3.5 1 1.2.1 2.3 2.6 3.1 3.2 2.7 3.2 1.1zM178.5 139.7l5.8 0 1.2-1 3.5-1.3 3.7-3.8 1.2-3.4 0-7-2.6-4.9-2.3-2.3-1.2-.1-1.2-1-2.3-.2-1.1-1-2.3-.1-1.2-2.2-1.8-.9.9-1.2.1-3.4-3.6-3.5 3.2-3.1 4.7-.1 1.1-1 2.3-.2 3.1-2.5 3-3.5.3-3.5.8-1.1-1.1-5.8-5.8-5.8-3.7-.6-1.2-.8-1.7.2-.6.6-3.5.3-3.7 2.6-2.3 3.5-.2 2.3-1 1.1 0 3.5 1 1.2.1 2.3 1.1 1.1.1 2.4-1.1 1.1 0 1.2 2.2 3.4-.8.9-2.3 0-2.3 1-2.9 2.8 0 3.4 4 3.8 1.2 0 .8.9 0 2.3 1 1.1.1 1.2-2.2 3.5 0 9.2 1.1 1.2.3 1.4 3.5 3.5 1.2 1 2.3.3.8.7zM88.2 136.8l9.1-.9 9.5.7 4.6-.4 2.6-1.4.8-3.5-1.1-4.7-2.1-3.4-22.2-19.3-1.2.1-2.3 1.3-1.6 1.7-.1 1.2.3 3.5 1.7 6.9-.5 11.6 1.7 5.7zM214.4 136.7l7-.4 0-27.8-5.8-4.6-3.5 1.8-1.2 1.3-.1 1.2 2 11.6-.5 10.4 1.7 5.7zM15.3 103.7l1.7-.1 1.8-1 1.4-2.5 1.1-9.3 3.7-10.4.7-3.4-.1-2.4-1.1-.9-1.1-.3-9.3 2.4 0 27.6.8.2zM141.5 103.6l2.1 0 1.4-.7 1.8-2.8 1.1-9.3 4-11.5.2-4.7-1.3-1.1-1.2 0-7 2-4.6.4-11.6-1.8-2.3.3-2.3 1.1-2.1 2.6.9 4.3 2.4 3.4 4.7 5 3.7 8.1 3.1 2.1 6.8 2.6zM88.2 78.5l1.2.3.7-.7-.7-1.7-2.3-1.3-1.2.1 0 .9 1.6 2zM214.4 78.4l1.2.3 1.1-.6-.3-1.1-1.1-1.2-3.2-1.2.8 2.4 1.2 1.1zM116 61.3l1.2 0 1.1-1.1 1.2-.1 1.5-1.7 0-1.1 1.1-1.2.1-3.4.8-.8 2.3 2.2 5.8.2 3.4 2.1 4.7 0 1.1-1 2.6-.4 4.7-4.7 0-1.1 1.1-1.2 0-8.1-1.1-1.1-.1-1.2-3.7-3.7-1.2-.1-1.1-1.1-2.3-.1-2.3-1-1.2.8-3.5.3-1.1 1.1-1.2.1-2.6 2.6-.1 1.1-2.2 3.5-.1 4.6-1.2 2.3-1.9 2-.8-.8-.1-1.2-2.6-2.6-3.4.1-1.2 1.1-4-4.4-.4-3.4-2.3-3.5-1.4-1.4-1.2-.1-3.4-2.2-8.1 0-1.2 1.1-1.2.1-3.7 3.7-1.3 3.4-1 1.2 0 5.8.9 1.1.5 2.6 4.6 4.7 1.2.1 1.2 1 8.1.1 3.4-1.2 1.2-1.1 4.6 0 2 3.1.3 1.6 1.2 1.2 1.2 0 .6.7zM51.2 57.6l4.6.1 1.2-1 2.3-.1 2.3-2.2 1.4-.6.3-1.1 2.2-2.4.2-2.3 1-1.1 0-4.7-1.1-1.1-.1-2.3-6.2-6.1-2.3-.2-1.2-.9-3.5-.2-5.8 2.3-3.9 3.9-.2 1.2-1 1.1-.1 2.3-.9 1.2 0 2.3.9 1.2.1 2.3 1 1.1.2 1.2 5.1 4.9 2.3.3.8.6zM51.7 51.5l-1.7-.6-2.8-2.9-.1-1.1-1-1.2 0-2.3 1-1.2.1-1.1 2.8-2.9 1.2 0 1.1-1.1 2.3 0 1.2 1.1 1.2 0 2.8 2.9 1.2 2.3 0 2.3-1.2 2.3-2.8 2.9-1.2.1-1.2 1-2.3 0zM178.5 57.7l3.5 0 1.2-.9 2.3-.2 1.1-1.1 1.2-.1 2.8-2.7.1-1.2 2.2-3.5 0-6.9-1.1-1.2 0-1.1-1.1-1.2-.1-1.1-2.8-2.7-1.2-.2-1.1-1.1-2.3-.1-1.2-.9-3.5-.1-1.1 1-2.3.1-1.2 1.1-1.2.1-3.7 3.9-.2 1.2-1 1.1-.2 8.1 1.3 3.5 3.8 3.9 4.9 1.9zM178 51.5l-.6-.6-1.2 0-2.8-2.9.1-6.9 2.7-2.8 1.2-.1 1.1-1.1 2.4 0 1.1.8 2.3.4 1.7 1.6.1 1.2 1.1 1.1 0 4.7-1.1 1.1-.1 1.2-1.7 1.7-1.1 0-1.2 1.1-3.5 0zM219.1 56.4l2.3.1 0-25-3.5 1.2-3.5 2.3-2.5 3.8-.2 2.3-1 2.3 0 2.3 1 1.2.1 2.3 1.1 1.1.1 1.2 3.7 3.7 1.2.1.9.8zM15.3 55.3l1.1-1 1.2-.2 2.6-2.6 1.3-3.5 1-1.1 0-5.8-1.1-1.2 0-1.1-2.6-3.8-3.5-2.3-1.2 0 0 22.6zM24.5 15.8l2-1.3-.8-3.3-1.2-2.1-2.6-1.6-3.4 0-1.1 2.4.9 2.3 5.9 3.4zM150.7 15.6l1.2-.1 1.2-.9-.9-3.6-1.4-2.3-2.3-1.2-3.6 0-1 2.4.1 1.1 2.5 2.3zM52.3 13.6l4.7 0 5.8-2.3 2.5-2.6.1-1.2 1.1-1.1 1.2-3.5-26 0 1 1.2.1 2.3 3 3.5 3.1 2.5 3 .9zM178.5 13.6l5.8 0 1.2-1 3.5-1.3 3.7-3.8.1-1.1 1-1.2.1-2.3-25 0 .1 2.3 1.1 1.2.3 1.4 3.5 3.5 4.3 2zM88.2 10.7l9.3-.9 9.3.7 5.5-.6 1.7-1.2.4-1.2.2-4.6-28.9 0 .4 3.5 1.3 3.5zM214.4 10.6l7-.4 0-7.3-9.1 0 .4 3.5 1.3 3.5z"/><path fill="#fcfce0" stroke="#707070" stroke-width="0.35" stroke-opacity="0.60" d="M15.3 210l7.6 0 1.8-4.6 0-4.7-2.5-.3-8.1 2.1 0 7.5zM43.1 210l23.4 0-1.2-3.5-3.7-3.7-1.2-.2-1.1-1-4.7-1.1-6.9 2.3-2.3 2.3-2.6 4.9zM123 210l26.5 0 1.8-4.6.3-2.4-.4-2.3-.5-.4-2.3.2-8.1 2.1-4.6-.2-7-1.4-3.4.2-2.3 1.1-1.6 1.9-.2 2.3 1.7 3.5zM170.4 210l22.3 0 0-1.2-.1-1.1-6-6-5.7-1.1-1.2.8-3.5.3-2.3 2-1.2.3-.5 1.4-2 2.3-.1 2.3zM116 187.3l1.2 0 1.1-1.2 1.2 0 1.5-1.6 0-1.1 1.1-1.2 0-3.5.9-.8 2.3 2.2 5.8.3 3.4 2 4.7 0 1.1-1 2.3-.1 4.7-4.6.3-1.4 1-1.2 0-8.1-1-1.1-.1-1.2-3.7-3.7-1.2-.1-1.1-1.1-2.3-.1-2.3-.9-1.2.8-3.5.3-1.1 1-1.4.3-2.3 2.4-1.3 3.4-1 1.2-.1 4.6-1.1 1.2-.1 1.1-2 2.1-.9-.9 0-1.2-2.6-2.5-3.4 0-1.2 1.2-4.1-4.5-.3-3.4-2.1-2.3-.4-1.4-1.2-1.2-1.2-.1-3.4-2.2-8.1.1-1.2 1-1.2.1-3.7 3.7-2.2 4.6-.1 5.8.9 1.1.3 2.3 4.8 4.9 1.2.1 1.2 1.1 9.2 0 3.5-2.3 4.6 0 2.1 3.2.2 1.5 1.2 1.2 1.2 0 .7.7zM51.2 183.7l4.6.1 1.2-1.1 2.3-.1 2.3-2.2 1.2-.3.5-1.4 2.2-2.3.1-2.3 1-1.1 0-4.7-1-1.1-.2-2.3-6.1-6.1-2.3-.2-1.2-.9-3.5-.2-5.8 2.3-3.9 3.9-.1 1.2-1 1.1-.2 2.3-.9 1.2 0 2.3.9 1.2.1 2.3 1 1.1.2 1.2 5.1 4.9 2.3.2.8.7zM51.7 177.6l-1.7-.6-2.9-2.9 0-1.1-1.1-1.2 0-2.3 1.1-1.2 0-1.1 2.9-2.9 1.2 0 1.1-1.1 2.3 0 1.2 1 1.2.1 2.8 2.9 1.2 2.3 0 2.3-.2 1.2-3.8 4-1.2.2-1.2 1-2.3-.1zM177.4 183.5l4.6.3 1.2-.9 2.3-.2 1.1-1.2 1.2-.1 2.7-2.7 1.3-3.4 1.1-1.2 0-6.9-1.1-1.2-1.3-3.4-2.7-2.6-1.2-.2-1.1-1.1-2.3-.1-1.2-1-3.5 0-1.1.9-2.3.1-1.2 1.2-1.2 0-3.6 3.9-1.2 2.3-.1 9.3 1 1.1.2 1.2 3.7 3.9 1.2.1 1.2 1.1 2.1.7zM178 177.6l-.6-.6-1.2 0-2.8-2.9.1-6.9 2.7-2.9 1.2 0 1.1-1.1 2.4 0 1.1.9 2.3.2 1.7 1.7.1 1.2 1.1 1.1 0 4.7-1.1 1.1-.1 1.2-1.7 1.7-1.1 0-1.2 1.1-3.5 0zM219.1 182.4l2.3.1 0-24.8-1.2 0-1.1 1-1.2.1-3.7 2.6-2.3 3.5-.1 2.3-1 2.3 0 2.3.9 1.2.2 2.3 1.1 1.1.1 1.2 3.6 3.7 1.2.1.9.8zM15.3 181.3l1.1-1 1.2-.2 2.5-2.5 1.3-3.5 1-1.1.1-4.7-2.4-5.7-2.5-2.5-3.5-1.3 0 22.6zM23.4 140.6l1.1.5 1-.5.1-1.2-1.1-2.5-2.3-1.9-2.4-.2-.5 2.3.8 1.2 3.2 2.3zM150.7 141l1.4-.4-.2-2.1-1.2-2.1-2.3-1.5-2.3.2-.2 2 .8 1.2 3.2 2.3zM52.3 139.6l5.8-.1 3.5-2.1 1.2-.1 2.3-2.3.3-1.4 1.1-1.1 0-1.2 1.1-1.1 0-5.8-.9-1.2-.3-2.3-6-6-5.8-1.1-3.2-3.3 1.1-1.2.1-3.4-2.6-2.6-1.1 0-.9-.9.9-.9 1.1 0 2.3-2.4 3.5 0 5.8-2.2 3.5-3.5.3-1.4 1-1.2 0-8.1-1-1.1-.1-1.2-3.7-3.7-2.3-1.1-2.3-.2-1.2-.9-5.8 1.1-1.1 1-1.2.1-2.5 2.6-2.4 4.6 0 5.8 1 1.1.4 2.4.9 1.1-1.1 1.2 0 3.4 2.2 2.3-.8.9-3.5 0-1.1 1.1-1.2 0-1.6 1.5 0 5.8 1.6 1.5 1.2-.1 1.1 1.2 1.2-.1.9 1 0 3.4 1 1.2-1.1 1.2-2.2 5.7 0 3.5 1 1.2.2 2.3 5.7 5.8 3.3 1.1zM178.5 139.6l5.8 0 1.2-1 3.5-1.3 3.6-3.7.1-1.1 1.1-1.2 0-8.1-2.1-3.4-.2-1.2-2.5-2.5-1.2-.1-1.2-1.1-2.3-.1-1.1-1-2.3-.2-.9-.8-.1-1.1-2.1-1.2.9-1.2.1-3.4-3.5-3.5 3.2-3.2 4.7-.1 1.1-1 2.6-.3 5.7-5.8.3-3.5.9-1.1 0-1.2-.9-1.2-.3-3.4-3.1-3.5-2.9-2.5-3.4-.3-1.2-.8-5.8 1.1-2.3 2-1.2.3-.5 1.4-2 2.3-.1 2.3-1 1.1 0 3.5.9 1.2.2 2.3 1.1 1.1.1 2.4-1.2 1.1 0 1.2 2.3 3.4-.9 1-2.3-.1-1.2 1.1-1.1 0-2.8 2.7 0 3.4 3.9 3.8 1.2-.1.9 1 0 2.3 1 1.1.1 1.2-2.3 3.5.1 9.2 1 1.2.3 1.4 4.6 4.4 2.4.3.9.8zM89.4 136.3l9.2-1.1 10.5.5 2.3-.7 1.1-1 1-3.8-.9-3.5-2.4-3.3-8.1-6.8-9.2-9.3-3.5-2.3-1.2.1-2.3 1.4-.9 2.8 1.8 10.5-.6 10.4.9 3.4 1.3 2.3zM215.6 136.3l5.8-.6 0-26.6-3.5-3-2.3-1.2-3.6 2.1-.4 2.3 1.8 10.5-.6 10.4.9 3.4 1.3 2.3zM15.3 102.7l2.8-1.5 1.2-2.3 1.8-10.4 3.8-10.4-.2-3.5-1.3-.5-9.3 2.3 0 26.3zM140.3 102.6l2.6-.2 2.6-2.3 2.2-11.6 3.6-9.2-.1-4.7-.5-.4-2.3.2-8.1 2.1-4.6-.2-7-1.4-4.6.6-2.7 2.6-.3 1.2 1.1 3.4 7 8.1 3.5 8.1 1.8 1.5 4.8 2zM116 61.2l1.2 0 1.1-1.2 1.2 0 1.5-1.6 0-1.1 1.1-1.2 0-3.4.9-.9 2.3 2.2 5.8.3 3.4 2 4.7 0 1.1-1 2.3-.1 4.7-4.6.3-1.4 1-1.2 0-8.1-1-1.1-.1-1.2-3.7-3.7-1.2-.1-1.1-1-4.6-1.1-1.2.8-3.5.3-1.1 1.1-1.2.1-2.5 2.5-1.3 3.4-1 1.2-.1 4.6-1.1 1.2-.1 1.1-2 2.1-.9-.9 0-1.2-2.6-2.5-3.4 0-1.2 1.2-4.1-4.5-.3-3.4-2-2.3-.3-1.2-1.4-1.3-1.2-.2-3.4-2.2-8.1.1-1.2 1-1.2.1-3.7 3.7-2.2 4.6-.1 5.8.9 1.1.3 2.3 4.8 4.9 1.2.1 1.2 1.1 9.2 0 3.5-2.3 4.6 0 2.1 3.2.2 1.5 1.2 1.2 1.2 0 .7.8zM51.2 57.6l4.6.1 1.2-1.1 2.3-.1 2.3-2.2 1.2-.3.5-1.3 2.2-2.4.1-2.3 1-1.1 0-4.7-1-1.1-.1-2.3-6.2-6.1-2.3-.2-1.2-.9-3.5-.2-5.8 2.3-3.9 3.9-.1 1.2-1 1.1-.2 2.3-.9 1.2 0 2.3.9 1.2.1 2.3 1 1.1.2 1.2 5.1 4.9 2.3.2.9.7zM51.7 51.5l-1.7-.6-2.9-2.9 0-1.1-1.1-1.2 0-2.3 1.1-1.2 0-1.1 2.9-2.9 1.2 0 1.1-1.1 2.3 0 1.2 1 1.2.1 2.8 2.9 1.2 2.3 0 2.3-1.1 2.3-2.9 2.9-1.2.1-1.2 1.1-2.3 0zM178.5 57.7l3.5 0 1.2-.9 2.3-.2 1.1-1.1 1.2-.1 2.7-2.7 1.3-3.5 1.1-1.2 0-6.9-1.1-1.2-1.3-3.4-2.7-2.6-1.2-.2-1.1-1.1-2.3-.1-1.2-1-3.5 0-1.1.9-2.3.1-1.2 1.2-1.2 0-3.7 3.9-1.3 3.5.1 8.1 1 1.1.2 1.2 3.7 3.9 5 1.9zM178 51.5l-.6-.6-1.2 0-2.8-2.9 0-6.9 2.8-2.9 1.2 0 1.1-1.1 2.4 0 1.1.8 2.3.4 1.7 1.6.1 1.2 1.1 1.1 0 4.7-1.1 1.1-.1 1.2-1.7 1.7-1.1 0-1.2 1.1-3.5 0zM219.1 56.3l2.3.1 0-24.8-1.2 0-1.1 1-1.2.1-3.7 2.6-2.3 3.5-.1 2.3-1 2.3 0 2.3.9 1.2.2 2.3 1.1 1.1.1 1.2 3.6 3.7 1.2.1.9.8zM15.3 55.2l1.1-1 1.2-.2 2.5-2.5 1.3-3.5 1-1.1.1-4.7-2.4-5.7-2.5-2.5-3.5-1.3 0 22.6zM23.4 14.5l1.1.5 1-.5.1-1.2-.9-2.3-2.5-2.1-2.4-.2-.5 2.3.8 1.2 3.2 2.3zM150.7 14.9l1.4-.4-.2-2.1-1.2-2.1-2.3-1.5-2.3.2-.2 2 .8 1.2 3.3 2.3zM52.3 13.5l4.7 0 5.8-2.3 2.3-2.3.3-1.4 1.1-1.1 0-1.2 1.1-1.1 0-1.2-25.9 0 1 1.2.2 2.3 3 3.5 3 2.5 2.3.3.8.6zM178.5 13.5l5.8 0 1.2-1 3.5-1.3 3.6-3.7.1-1.1 1.1-1.2.1-2.3-24.9 0 .1 2.3 1 1.2.3 1.4 3.5 3.5 1.5.9 2 .3.9.8zM89.4 10.2l9.2-1.1 7 .6 4.6-.4 1.6-.6 1-1.2.6-4.6-27.3 0 .6 3.5 1.7 3.5zM215.6 10.2l5.8-.6 0-6.7-8.7 0 .6 3.5 1.7 3.5z"/><path fill="#fcfcf0" stroke="#707070" stroke-width="0.35" stroke-opacity="0.60" d="M15.3 210l6.9 0 2-5.8-.2-2.3-.6-.9-9.3 2.2 0 6.8zM43.1 210l23.3 0 0-1.2-1.1-1.1-.2-1.4-3.3-3.3-1.4-.3-1.1-1-4.7-1.1-2.3 1-2.3.1-1.1 1.1-1.4.2-2.3 2.4-1.3 3.4-1 1.2zM124.1 209.7l24.6.3 1.9-4.6 0-3.5-1-.9-10.4 2.3-9.2-1.4-3.6 0-2.3 1-1.1 1.3-.5 2.3 1 2.3zM170.4 210l22.3 0-.1-2.3-5.8-5.8-3.6-.4-1.2-.9-1.1 0-1.2.9-3.5.2-2.3 2.1-1.2.3-.4 1.3-2 2.3-.2 2.3zM116 187.2l1.2 0 1.1-1.2 1.2 0 1.4-1.5 0-1.1 1.1-1.2 0-3.5 1-.9 2.3 2.3 5.8.2 1.1 1 1.2 0 1.1 1.1 4.7 0 1.1-1 2.5-.3 4.5-4.5.2-1.3 1.1-1.2 0-8.1-1.1-1.1-.1-1.2-3.4-3.5-1.4-.2-1.1-1.1-2.3-.1-2.3-1-1.2.9-3.5.2-1.1 1.1-1.2.1-2.5 2.5-.1 1.1-2.2 3.5 0 4.6-1 1-.2 1.3-2.1 2.1-1-.9 0-1.2-2.5-2.5-3.4.1-1.2 1.1-4.2-4.5-.3-3.4-2-2.3-.3-1.2-1.3-1.3-1.2-.1-3.4-2.2-8.1 0-1.2 1.1-1.2.1-3.6 3.6-1.3 3.4-1 1.2 0 5.8.9 1.1.4 2.5 4.6 4.6 1.2.1 1.2 1.1 8.1.1 3.6-1.4 1-1 4.6 0 1 1 0 1.1 1.1 1.2.2 1.4 1.2 1.2 1.2 0 .8.8zM51.2 183.6l4.6.1 1.2-1 2.3-.1 2.3-2.2 1.3-.5.4-1.2 2.1-2.3.2-2.3 1-1.1 0-4.7-1-1.1-.2-2.3-6.1-6-2.3-.3-1.2-.8-3.5-.2-5.8 2.2-3.9 3.9-.1 1.2-1 1.1-.1 2.3-.9 1.2 0 2.3.9 1.2.1 2.3 1 1.1.1 1.2 5.1 4.8 2.3.3.9.7zM51.7 177.6l-1.7-.6-2.9-2.9 0-1.1-1.1-1.2 0-2.3 1.1-1.2 0-1.1 2.9-2.9 1.2-.1 1.1-1.1 2.3 0 1.2 1.1 1.2.1 2.9 2.9 1.1 2.3 0 2.3-.2 1.2-3.8 4-1.2.2-1.2 1-2.3 0zM177.4 183.5l4.6.2 1.2-.9 2.3-.2 1.1-1.1 1.2-.1 2.7-2.7.1-1.1 2.2-3.5 0-6.9-2.2-3.5-.1-1.1-2.7-2.6-1.2-.2-1.1-1.1-2.3-.1-2.3-1.1-2.4.1-1.1 1-2.3.1-1.2 1.1-1.2.1-3.6 3.8-1.4 3.5.1 8.1 1 1.1.2 1.2 3.7 3.9 1.2 0 1.2 1.1 2.2.8zM177.9 177.6l-1.7-.6-2.9-2.9.1-6.9 2.8-2.9 1.2 0 1.1-1.1 2.4-.1 1.1.9 2.3.3 1.8 1.7 0 1.2 1.1 1.1 0 4.7-1 1.1-.1 1.2-1.8 1.7-1.1.1-1.2 1.1-3.5 0zM219.1 182.4l2.3.1 0-24.8-3.5 1.2-3.5 2.3-2.4 3.7-.2 2.3-1 2.3 0 2.3 1 1.2.2 2.3 1 1.1.1 1.2 3.6 3.6 1.2.1 1 .9zM15.3 181.3l1.1-1.1 1.2-.1 2.5-2.5 1.3-3.5 1-1.1 0-5.8-1.1-1.2 0-1.1-2.5-3.7-3.5-2.3-1.2 0 0 22.4zM23.4 139.6l1.2-.2-1.2-2.1-1.2-.8-1.1.6 2 2.3zM52.3 139.6l5.8-.1 3.5-2.2 1.2-.1 2.4-2.4.1-1.2 2.2-3.4.1-1.2-.1-4.6-.9-1.2-.2-2.3-5.8-5.8-6-1.3-1-1-2.3-2.3 1.2-1.2 0-3.4-2.5-2.5-1.1 0-1-1 1-1 1.1 0 2.3-2.3 3.5 0 1.2-.9 2.3-.2 1.1-1 1.2-.2 3.5-3.5.2-1.3 1.1-1.2 0-8.1-1.1-1.1-.1-1.2-3.6-3.6-1.2-.2-1.1-1-2.3-.2-1.2-.9-5.8 1.1-1.1 1.1-1.2.1-2.5 2.5-1.3 3.4-1 1.2-.1 4.6 1.4 4.6 1 1.2-1.1 1.2 0 3.4 2.2 2.3-.9 1-3.5 0-3.8 2.5 0 5.8 1.5 1.4 1.2 0 3.2 2.1.1 3.4 1 1.2-2.3 3.5-1.1 3.4.1 3.5 1 1.2.1 2.3 5.8 5.8 2.5.4.8.7zM150.7 139.8l.4-.4-.5-1.1-2.2-1.9-.7.7 2 2.3zM178.5 139.6l5.8-.1 1.2-1 1.1 0 1.2-1 1.2-.2 3.6-3.7 1.2-3.4 0-7-2.2-3.4-.3-1.4-2.3-2.2-1.2-.1-1.2-1.1-2.3-.2-1.1-1-2.3-.1-1-.9-.2-1.3-1.2-.1-.8-.9 1-1.2 0-3.4-3.5-3.5 3.3-3.3 4.7-.1 1.1-.9 2.5-.3 5.8-5.8.2-3.5.9-1.1 0-1.2-.9-1.2-.2-3.4-5.8-5.8-3.6-.4-1.2-.9-5.8 1.2-2.3 2-1.2.3-.4 1.3-1.9 2.1-.3 2.5-1 1.1 0 3.5 1 1.2.2 2.3 1 1.1.1 2.4-1.1 1.1 0 1.2 1.1 1.1 0 1.2 1.2 1.1-1 1-2.3 0-1.2 1.1-1.1 0-2.7 2.6 0 3.4 3.8 3.7 1.2 0 1 1 0 2.3 1 1.1.1 1.2-2.3 3.5 0 9.2 1.1 1.2.2 1.3 3.5 3.5 4.4 2.1zM89.4 135.5l9.2-1 10.5.3 2.1-1.2 1-3.4-.8-3.5-2.3-2.9-7-5.7-9.2-10-3.5-1.9-1.2 0-1.4.8-.9 2.3 0 2.4 1.4 6.9-.6 11.6 1.8 4.6zM215.6 135.4l2.3.2 3.5-.6 0-25-3.5-3.1-2.3-.8-2.3 1-.8 2.2 1.4 9.3-.6 11.6 1.8 4.6zM15.3 101.5l2.1-1.4 1.4-2.9 1.5-8.7 3.7-9.2.2-2.3-.8-2.1-9.3 2.2 0 24.6zM138 101.3l3.5.3 2.3-1.4 1.2-1.7 1.9-10 3.7-9.2 0-3.5-1-.9-10.4 2.3-11.6-1.6-3.5 1.2-1.1 1.3-.5 2.3 1 2.3 6.4 7 4.1 9.2 3.7 2.3zM116 61.1l1.2 0 1.1-1.2 1.2 0 1.4-1.5 0-1.1 1.1-1.2 0-3.4 1-1 2.3 2.3 5.8.2 3.4 2.1 4.7 0 1.1-1 2.5-.3 4.5-4.5.2-1.3 1.1-1.2 0-8.1-1.1-1.1-.1-1.2-3.6-3.6-1.2-.1-1.1-1.1-2.3-.1-2.3-1-1.2.9-3.5.2-1.1 1.1-1.2.1-2.5 2.5-.1 1.1-2.2 3.5 0 4.6-1 1-.2 1.3-2.1 2.2-1-1 0-1.2-2.5-2.5-3.4.1-1.2 1.1-4.2-4.5-.3-3.4-2-2.3-.3-1.2-1.3-1.3-1.2-.1-3.4-2.2-8.1 0-1.2 1.1-1.2.1-3.6 3.6-1.3 3.4-1 1.2 0 5.8.9 1.1.4 2.5 4.6 4.6 1.2.2 1.2 1 8.1.1 3.6-1.4 1-1 4.6 0 1 1 0 1.1 1.1 1.2.2 1.4 3.2 2.1zM51.2 57.5l4.6.1 1.2-1 2.3-.1 2.3-2.2 1.3-.5.3-1.1 2.2-2.4.2-2.3 1-1.1 0-4.7-1-1.1-.2-2.3-6.1-6.1-2.3-.2-1.2-.8-3.5-.2-5.8 2.2-3.9 3.9-.1 1.2-1 1.1-.1 2.3-.9 1.2 0 2.3.9 1.2.1 2.3 1 1.1.1 1.2 5.1 4.8 2.3.3.9.7zM51.7 51.5l-1.7-.5-2.9-3 0-1.1-1.1-1.2 0-2.3 1.1-1.2 0-1.1 2.9-2.9 1.2-.1 1.1-1.1 2.3 0 1.2 1.1 1.2.1 2.9 2.9 1.1 2.3 0 2.3-1.1 2.3-2.9 3-1.2.1-1.2 1-2.3 0zM178.5 57.7l3.5 0 1.2-1 2.3-.2 1.1-1.1 1.2-.1 2.7-2.6.1-1.2 2.2-3.5 0-6.9-2.2-3.5-.1-1.1-2.7-2.6-1.2-.2-1.1-1.1-2.3-.1-1.2-1-3.5 0-1.1 1-2.3.1-1.2 1.1-1.2.1-3.6 3.8-1.4 3.5 0 6.9 1.3 3.5 3.7 3.9 1.2 0 1.2 1.2 2.7.7zM177.9 51.5l-1.7-.6-2.9-2.9.1-6.9 2.8-2.9 1.2 0 1.1-1.1 2.4-.1 1.1.8 2.3.4 1.8 1.7 0 1.2 1.1 1.1 0 4.7-1 1.1-.1 1.2-1.8 1.7-1.1.1-1.2 1.1-3.5 0zM219.1 56.3l2.3.1 0-24.8-3.5 1.2-3.6 2.5-2.3 3.5-.2 2.3-1 2.3 0 2.3 1 1.2.2 2.3 1 1.1.1 1.2 3.6 3.6 1.2.1 1 .9zM15.3 55.2l1.1-1.1 1.2-.1 2.5-2.5 1.3-3.5 1-1.1 0-5.8-1.1-1.2 0-1.1-1.1-1.2-.3-1.3-2.3-2.3-1.2-.1-1.1-1.1-1.2 0 0 22.4zM23.4 13.5l1.2-.2-1.2-2.1-1.2-.8-1.1.6 2 2.3zM52.3 13.5l4.7 0 5.8-2.4 2.4-2.4.1-1.2 1.1-1.1 1.2-3.5-25.8 0 1 1.2.1 2.3 2.5 2.8 3.3 3 2.5.4.9.7zM150.7 13.7l.4-.4-.4-1.1-2.3-1.9-.7.7 2.1 2.3zM178.5 13.5l5.8 0 1.2-1.1 1.1 0 1.2-1 1.2-.2 3.6-3.7.1-1.1 1-1.2.1-2.3-24.8 0 .1 2.3 1.1 1.2.2 1.3 3.5 3.5 4.5 2.1zM89.4 9.4l9.2-1 10.5.3 2.3-1.5.8-4.3-25.6 0 .3 2.3 1.6 3.5zM215.6 9.3l2.3.2 3.5-.6 0-6-8.2 0 .3 2.3 1.6 3.5z"/><path fill="#fcfcfc" stroke="#707070" stroke-width="0.35" stroke-opacity="0.60" d="M15.3 210l6 0 2-5.8-.1-1.2-1-1.1-8.1 2 0 6.1zM43.1 210l23.3 0-1.2-3.5-3.6-3.6-1.2-.1-1.1-1-2.3-.2-1.1-.9-5.9 1.1-1.1 1-1.2.1-2.3 2.3-2.5 4.8zM125.3 209.4l.4.6 22.2 0 1.7-4.2.2-2.8-.2-.6-1.2-.4-4.6 1.4-5.8.5-10.4-1.3-2.3.9-1.2 1.4-.3 1.6 1 2.3zM170.4 210l22.2 0 0-1.2-.1-1.1-5.9-5.9-3.4-.2-1.1-.9-1.4 0-1 .8-3.5.3-2.3 2.1-1.2.2-.3 1.3-2.1 2.3-.1 2.3zM116 187l1.2 0 1.1-1.1 1.2 0 1.3-1.4 0-1.1 1.1-1.2.1-3.5 1-1 2.3 2.3 5.8.2 3.4 2.1 4.7 0 1.1-1 2.4-.2 4.6-4.5.2-1.3 1-1.2 0-8.1-1-1.1-.1-1.2-3.6-3.6-1.2-.1-1.1-1-2.3-.1-2.2-1-1.3.9-3.5.2-1.1 1-1.3.2-2.3 2.4-.1 1.1-2.2 3.5-.1 4.6-1.1 1.2 0 1.1-2.2 2.2-1-1-.1-1.2-2.4-2.4-3.4 0-1.2 1.2-4.2-4.6-.4-3.5-2-2.2-.3-1.3-3.5-2.4-1.2 0-1.1-1.1-8.2.1-1.1 1-1.2.1-3.4 3.4-1.4 3.6-1 1.2 0 5.8.9 1.1.2 2.3 4.7 4.8 1.2.1 1.2 1 8.1.1 3.4-1.2 1.2-1.2 4.6 0 1.1 1.1 1.2 3.6 1.2 1.2 1.2 0 .9.9zM51.2 183.6l4.6.1 1.2-1 2.3-.2 2.3-2.1 1.2-.4.4-1.3 2.2-2.3.1-2.3 1-1.1 0-4.7-1-1.1-.1-2.3-6.1-6-2.3-.2-1.2-.9-3.5-.2-5.8 2.3-3.8 3.8-.1 1.2-1.1 1.1-.1 2.3-.9 1.2 0 2.3.9 1.2.1 2.3 1 1.1.2 1.2 5 4.8 2.3.2.9.8zM51.6 177.6l-1.6-.5-2.9-3-.1-1.1-1.1-1.2 0-2.3 1.1-1.2.1-1.1 2.9-3 1.2 0 1.1-1.1 2.3 0 1.2 1.1 1.2 0 2.9 3 1.2 2.3 0 2.3-.2 1.2-3.9 4.1-2.4 1.1-2.3 0zM177.4 183.4l4.6.3 1.2-.9 2.3-.2 1.1-1.1 1.2-.1 2.7-2.7.1-1.1 1.1-1.2 0-1.1 1.1-1.2 0-6.9-1.1-1.2 0-1.1-1.1-1.2-.2-1.1-2.4-2.4-1.4-.4-1.1-1.1-2.3-.1-1.2-.9-3.5-.1-1.1 1-2.3.1-1.2 1.1-1.2.1-3.5 3.8-1.5 3.5 0 6.9 1.3 3.5 3.7 3.8 1.2.1 1.2 1.1 1.1 0 1.1.8zM177.9 177.6l-1.7-.5-2.9-3 .1-6.9 2.8-3 1.2 0 1.1-1.1 2.4 0 1.1.9 2.3.3 1.8 1.7.1 1.2 1.1 1.1 0 4.7-1.1 1.1-.1 1.2-1.8 1.7-1.1.1-1.2 1.1-3.5 0zM219.1 182.3l2.3.1 0-24.6-1.2 0-1.1 1-1.2.1-3.6 2.5-.3 1.2-2 2.3-.1 2.3-1 2.3 0 2.3 1 1.2.1 2.3 1.1 1.1.1 1.2 3.5 3.5 1.2.1 1.1 1zM15.3 181.2l3.5-2.3 2.4-3.6.1-1.2 1-1.1 0-5.8-3.4-5.8-3.6-2.4-1.2-.1 0 22.4zM52.3 139.5l5.6-.1 1.4-1 1.3-.1 1-1 1.2-.1 2.3-2.3.1-1.3 1.1-1.1 1.2-3.5 0-4.6-.9-1.2-.3-2.3-5.8-5.8-5.9-1.2-3.3-3.4 1.1-1.2 0-3.4-2.4-2.4-1.1-.1-1.1-1 1.1-1 1.1-.1 2.3-2.3 3.5 0 1.2-.9 2.3-.2 1.1-1 1.2-.1 3.5-3.5.2-1.3 1-1.2 0-8.1-1-1.1-.1-1.2-3.6-3.6-1.2-.1-1.1-1-2.3-.2-1.1-.9-5.9 1.1-1.1 1.1-1.2.1-2.3 2.2-2.5 4.8 0 5.8 1 1.1.3 2 1 1.5-1.1 1.2 0 3.4 2.3 2.3-1 1.1-3.5 0-3.7 2.4.1 5.8 1.1 1.2 1.4.1 1.1 1.1 1.2 0 1 1.1 0 3.4 1.1 1.2-2.3 3.5-1.1 3.4 0 3.5 1 1.2.2 2.3 5.9 5.9 2.3.2.9.8zM178.5 139.5l5.8 0 1.2-1 3.5-1.3 3.5-3.6.1-1.1 1.1-1.2 0-8.1-2.2-3.4-.1-1.2-2.4-2.4-1.2-.1-1.2-1.1-2.3-.1-1.1-1-2.3-.1-1.1-1 0-1.1-1.3-.2-.9-1 1-1.2.1-3.4-3.6-3.5 3.4-3.4 4.7 0 1.1-1 2.3-.1 5.9-5.9.2-3.5 1-1.1 0-1.2-1-1.2-.2-3.4-1.2-1.4-4.7-4.5-3.4-.2-1.1-.9-5.9 1.1-2.3 2.1-1.2.2-.3 1.3-2.1 2.3-.1 2.3-1 1.1 0 3.5 1 1.2.1 2.3 1.1 1.1.1 2.4-1.1 1-.1 1.3 1.2 1.1 0 1.2 1.1 1.1-1 1.1-2.3 0-1.2 1.1-1.1 0-2.6 2.5.2 3.6 3.5 3.4 1.2 0 1 1.1 0 2.3 1.1 1.1 0 1.2-2.2 3.5 0 9.2 1 1.2.1 1.1 3.6 3.6 1.6 1.1 1.9.2 1 .9zM90.5 135l9.3-1.3 8.1.3 1.2-.3 1.2-1.2.7-2.3-.4-2.3-1.4-2.4-10.6-9.4-5.5-6.8-3.7-1.8-1.8.7-.8 2.3 1.1 6.9-.9 10.5.9 4.6 1.9 2.3zM216.7 135l4.7-.6 0-23.1-3.5-3.3-2.3-.5-1.2.4-1 2.6 1.2 8.1-.9 9.3.7 4.4 1.9 2.5zM15.3 100.1l2.3-2.4 1.5-8 3.7-9.3.4-3.4-.9-1.2-8.2 2 0 22.8zM138 100.4l2.3.3 1.2-.4 2.6-2.5 1.9-9.3 3.6-8.8 0-3.4-1.2-.4-8.1 1.9-12.7-1.3-2.3.9-1.2 1.4 0 2.8 7 7.9 3.4 8.4 2.5 2.2zM116 61l1.2 0 1.1-1.2 1.2 0 1.3-1.4 0-1.1 1.1-1.2 0-3.4 1.1-1.1 2.3 2.3 5.8.2 3.4 2.1 4.7 0 1.1-1 2.4-.2 4.6-4.5.2-1.3 1-1.2 0-8.1-1-1.1-.1-1.2-3.6-3.6-1.2-.1-1.1-1-2.3-.1-2.1-1-1.4.8-3.5.3-1.1 1.1-1.2.1-2.4 2.4-1.3 3.4-1 1.2-.1 4.6-1.1 1.2 0 1.1-2.2 2.2-1-1-.1-1.2-2.4-2.4-3.5.1-1.1 1.1-4.2-4.6-.4-3.5-2-2.2-.3-1.3-3.5-2.3-1.2-.1-1.1-1.1-8.2.1-1.1 1-1.2.1-3.5 3.6-1.3 3.4-1 1.2 0 5.8.9 1.1.2 2.3 4.7 4.8 1.2.1 1.2 1 8.1.1 3.4-1.2 1.2-1.1 4.6-.1 1.1 1.1 1.2 3.6 3.3 2.2zM51.2 57.5l4.6.1 1.2-1 2.3-.2 2.3-2.1 1.2-.4.4-1.2 2.2-2.4.1-2.3 1-1.1 0-4.7-1-1.1-.1-2.3-6.1-6-2.3-.2-2.4-1.1-3.4.3-4.7 2-3.8 3.8-.1 1.2-1.1 1.1-.1 2.3-.9 1.2 0 2.3.9 1.2.1 2.3 1 1.1.2 1.2 5 4.8 2.3.2 1 .8zM51.6 51.5l-1.6-.5-2.9-3-.1-1.1-1.1-1.2 0-2.3 1.1-1.2.1-1.1 2.9-3 1.2 0 1.1-1.1 2.3 0 1.2 1.1 1.2 0 2.9 3 1.2 2.3 0 2.3-1.8 3.1-2.3 2.2-1.2.1-1.2 1-2.3 0zM178.5 57.6l3.5 0 1.2-.9 2.3-.2 1.1-1.1 1.2-.1 2.7-2.6.1-1.2 1.1-1.2 0-1.1 1.1-1.2 0-6.9-1.1-1.2 0-1.1-1.1-1.2-.2-1.1-4.9-3.9-2.3 0-1.2-1-3.5-.1-1.1 1-2.3.1-1.2 1.1-1.2.1-3.6 3.8-1.4 3.5 0 6.9 1.4 3.5 3.6 3.8 5.1 2zM177.9 51.5l-1.7-.5-2.9-3 .1-6.9 2.8-2.9 1.2-.1 1.1-1.1 2.4 0 1.1.8 2.3.4 1.8 1.7.1 1.2 1.1 1.1 0 4.7-1.1 1.1-.1 1.2-1.8 1.8-1.1 0-1.2 1.1-3.5 0zM219.1 56.2l2.3.1 0-24.6-1.2 0-5.9 3.6-2.3 3.5-.1 2.3-1 2.3 0 2.3 1 1.2.1 2.3 1.1 1.1.1 1.2 3.5 3.6 1.2.1 1.1.9zM15.3 55.1l3.5-2.3 2.3-3.4.2-1.4 1-1.1 0-5.8-3.4-5.8-3.6-2.4-1.2-.1 0 22.4zM52.3 13.4l4.7 0 5.8-2.3 2.3-2.3.1-1.3 1.1-1.1 1.2-3.5-25.7 0 1 1.2.2 2.3 2.4 2.7 3.5 3.2 2.3.2 1 .8zM178.5 13.4l5.8 0 1.2-1 3.5-1.3 3.5-3.6.1-1.1 1.1-1.2.1-2.3-24.7 0 .1 2.3 1 1.2.2 1.3 3.5 3.4 1.9 1.1 1.6.2 1 .9zM90.5 8.9l9.3-1.3 5.8.5 3.5-.5 1.7-2.4.1-2.3-23.8 0 .8 3.5 1.9 2.3zM216.7 8.9l4.7-.6 0-5.4-7.6 0 .6 3.3 1.9 2.5z"/><path fill="#f6fcfc" stroke="#707070" stroke-width="0.35" stroke-opacity="0.60" d="M15.3 210l4.6 0 .1-1.2 1.1-1.1 0-3.9-3.5.4-1.2 1-2.3.1 0 4.7zM43.1 210l23.2 0 0-1.2-1.1-1.1-.1-1.2-3.4-3.5-1.3-.1-1.1-1.1-2.3-.1-1.2-.9-1.2-.1-1.1.8-3.5.3-1.1 1.1-1.2.1-2.4 2.4-1.3 3.4-1 1.2zM126.4 208.8l1.2 1.2 18.6 0 1.1-1.2 1.1-4.7-4.6.1-1.2 1-1.1.1-5.8 0-2.3-1.1-6.1 0-2 2.3 1 1.2zM170.4 210l22.2 0-.2-2.3-5.7-5.8-3.5-.2-1.2-1-1.2 0-1.1.9-3.5.3-2.3 2.1-1.2.2-.2 1.2-2.1 2.2-.2 2.4zM116 186.9l1.2 0 1.1-1.1 1.2 0 1.2-1.3 0-1.1 1.1-1.1.1-3.6 1.1-1.1 2.2 2.3 5.9.2 1.1 1.1 1.2 0 1.1 1 4.7.1 1.1-1.1 2.4-.1 4.6-4.6.1-1.2 1.1-1.2 0-8.1-1.1-1.1-.1-1.2-3.4-3.5-1.3-.1-1.1-1.1-3.5-.3-1.1-.8-1.2.9-3.5.2-1.1 1.1-1.2.1-2.4 2.4-.1 1.1-1.1 1.2 0 1.1-1.1 1.2 0 4.6-1.1 1.1 0 1.2-2.3 2.3-1.1-1.1 0-1.2-2.3-2.3-3.5 0-1.2 1.1-4.3-4.6-.3-3.5-2.1-2.2-.2-1.2-1.2-1.2-1.2-.1-3.4-2.2-8.1 0-1.2 1.1-1.2.1-3.5 3.5-1.3 3.4-1 1.2 0 5.8 1 1.1.2 2.4 4.6 4.6 1.2.1 1.2 1.1 9.2 0 3.5-2.3 4.6 0 2.3 3.4 0 1.2 3.4 2.2zM51.2 183.6l4.6 0 1.2-1 2.3-.1 2.3-2.2 1.2-.4.4-1.2 2.2-2.3.1-2.3 1-1.1 0-4.7-1-1.1-.4-2.6-5.8-5.6-2.3-.3-2.4-1.1-2.3.1-1.1.8-2.3.2-1.2 1.1-1.2.1-3.8 3.8-.1 1.2-1 1.1-.1 2.3-.9 1.2 0 2.3.9 1.2.1 2.3 1 1.1.1 1.2 5 4.7 2.3.3 1 .8zM51.6 177.6l-1.6-.5-3-3 0-1.1-1.1-1.2 0-2.3 1.1-1.2 0-1.1 3-3 1.2 0 1.1-1.1 2.3 0 1.2 1 1.2.1 2.9 3 1.2 2.3 0 2.3-.2 1.2-3.9 4.1-1.2.2-1.2 1-2.3-.1zM177.4 183.4l4.6.3 1.2-1 2.3-.1 1.1-1.2 1.2-.1 2.6-2.6 1.3-3.4 1.1-1.2 0-6.9-1.1-1.2-1.3-3.4-2.6-2.5-1.2-.2-1.1-1.1-2.3-.1-1.2-1-3.5 0-1.1 1-2.3 0-1.2 1.2-1.2.1-3.5 3.7-1.2 2.3-.1 9.3 1 1.1.2 1.2 3.6 3.8 1.2.1 1.2 1.1 1.1 0zM177.9 177.6l-1.7-.5-2.9-3 .1-6.9 2.8-3 1.2 0 1.1-1.1 2.4 0 1.1.8 2.3.3 1.8 1.8.1 1.2 1.1 1.1 0 4.7-1.1 1.1-.1 1.2-1.8 1.8-1.1 0-1.2 1.1-3.5 0zM219.1 182.3l2.3.1 0-24.6-3.5 1.2-3.5 2.4-.3 1.2-2 2.2-.1 2.4-1.1 2.3.1 2.3.9 1.2.2 2.3 1 1.1.1 1.2 3.5 3.5 1.2.1 1.1 1zM15.3 181.2l1.1-1.1 1.2-.1 2.4-2.4.1-1.2 1.1-1.1 0-1.2 1.1-1.1-.1-5.8-1-1.2-.1-1.2-1-1.1-.2-1.2-4.6-3.5-1.2 0 0 22.2zM52.3 139.5l4.7 0 3.5-1.2 1.1-1.1 1.2-.1 2.3-2.3.1-1.2 2.2-3.4 0-5.9-.9-1.1-.2-2.3-5.9-5.8-2.3-.1-2.3-1.1-1.2 0-3.4-3.4 1.2-1.2 0-3.4-2.4-2.4-1.1 0-1.2-1.1 1.2-1.1 1.1 0 2.3-2.3 3.5 0 1.2-.9 2.3-.2 1.1-1 1.2-.2 3.5-3.5.1-1.2 1.1-1.2 0-8.1-1.1-1.1-.1-1.2-3.5-3.5-1.2-.1-1.1-1.1-2.3-.1-1.2-1-5.8 1.1-1.1 1.1-1.2.1-2.4 2.4-1.3 3.4-1 1.2 0 5.8 1 1.1.2 1.8 1.1 1.7-1.1 1.1 0 3.6 2.3 2.2-1.1 1.1-3.5.1-3.5 2.3 0 5.9 1.1 1.1 1.3 0 1.1 1.2 1.2 0 1.1 1.1 0 3.5 1 1.1-1.1 1.2-2.2 5.6 0 3.6 1 1.2.1 2.3 5.8 5.8 2.4.2 1.1.9zM178.5 139.4l5.9 0 1.1-1 3.5-1.2 3.4-3.5 1.3-3.5 0-7-1-1.1-1.4-3.5-2.3-2.3-1.2-.1-1.1-1.1-2.4-.1-1.1-1-2.3-.1-1.1-1.1-.1-1.2-1.2 0-1-1.1 1.1-1.2 0-3.4-3.5-3.5 3.4-3.4 4.7-.1 1.1-1 2.4-.1 5.8-5.8.2-3.5.9-1.1 0-1.2-.9-1.2-.3-3.4-5.7-5.8-3.5-.2-1.2-1-1.2 0-1.1.9-3.5.3-2.3 2.1-1.2.2-.2 1.2-2.1 2.2-.2 2.4-1 1.1 0 3.5 1 1.2.2 2.4 1 1 .2 1.2 0 1.2-1.2 1.1 0 1.2 1.2 1.1 0 1.2 1.1 1.1-1.1 1.2-2.4 0-1.1 1.1-1.1 0-2.4 2.3 0 3.6 3.5 3.4 1.2.1 1.1 1.1 0 2.4 1.1 1 0 1.2-2.3 3.5 0 9.2 1.1 1.2.1 1.2 3.5 3.5 1.9 1.1 1.6.1zM90.5 133.7l4.7-.1 1.1-1 1.2-.1 10.4 0 1.2-1.2 0-3.5-8.1-8-4.5-3.5-1.3-2.3-4.6-4.7-1.3 0-1.1 1.2 0 3.5 1 1.1.1 1.2 0 4.6-1.1 2 0 8.4 2.2 2.3zM216.7 133.7l4.7-.1 0-19.7-2.3-3.4-1.2-.2-1.1-1-1.2 0-.2 1.2-1 1.2.9 1.1.3 2.3-.1 8.1-1.1 1.2 0 5.8 2.3 3.4zM14.1 98.9l2.3-2.3.2-2.3 1-1.1.2-4.7 1-1.1 1.2-4.7 1.1-1.1 0-4.2-1.2.7-2.3 0-1.2 1-2.3.1zM138 98.9l2.4 0 1.5-1.1 1.9-3.3.3-4.8.9-1.1.2-2.4.9-1.1.1-1.2 1.1-1.1 1.1-4.8-4.6.1-1.2 1-1.1.1-5.8 0-2.2-1.1-6.3 0-1.9 2.3 1 1.2.1 1.1 6.9 7 .1 1.3.9 1 .2 2.5 1.2 2.2zM116 60.8l1.2 0 1.1-1.1 1.2 0 1.2-1.3 0-1.1 1.1-1.1.1-3.5 1.1-1.2 2.2 2.3 5.9.2 1.1 1.1 1.2 0 1.1 1 4.7.1 1.1-1.1 2.4-.1 4.6-4.6.1-1.2 1.1-1.2 0-8.1-1.1-1.1-.1-1.2-3.5-3.5-1.2-.1-1.1-1.1-3.5-.3-1.1-.8-1.2.9-3.5.2-1.1 1.1-1.2.1-2.4 2.4-.1 1.1-1.1 1.2 0 1.1-1.1 1.2 0 4.6-1.1 1.1 0 1.2-2.3 2.3-1.1-1.1 0-1.2-2.3-2.3-3.6 0-1.1 1.1-4.3-4.6-.3-3.4-2.1-2.3-.2-1.2-1.2-1.2-1.2-.1-3.4-2.2-8.2 0-1.1 1.1-1.2.1-3.5 3.5-1.3 3.4-1 1.2 0 5.8 1 1.1.2 2.4 4.6 4.6 1.2.1 1.2 1.1 9.2 0 3.5-2.3 4.6 0 2.3 3.4 0 1.2 1.2 1.2 1.2 0 1 1.1zM51.2 57.4l4.6.1 1.2-1 2.3-.1 2.3-2.2 1.2-.4 2.5-3.5.2-2.3 1-1.1 0-4.7-1-1.1-.4-2.6-5.8-5.7-2.3-.2-2.4-1.1-3.3.3-4.8 2-3.8 3.8-.1 1.2-1 1.1-.1 2.3-.9 1.2 0 2.3.9 1.2.1 2.3 1 1.1.1 1.2 5 4.7 2.3.3 1 .8zM51.6 51.5l-1.6-.5-3-3 0-1.1-1.1-1.2 0-2.3 1.1-1.2 0-1.1 3-3 1.2 0 1.1-1.1 2.3 0 1.2 1 1.2.1 2.9 3 1.2 2.3 0 2.3-1.1 2.3-3 3-1.2.2-1.2 1-2.3 0zM178.5 57.6l3.5 0 1.2-1 2.3-.1 1.1-1.2 1.5-.3 2.3-2.3 1.3-3.5 1.1-1.2 0-6.9-1.1-1.2-1.3-3.4-2.6-2.5-1.2-.2-1.1-1.1-2.3-.1-1.2-1-3.5 0-1.1 1-2.3.1-1.2 1.1-1.2.1-3.5 3.7-1.4 3.5.1 8.1 1 1.1.2 1.2 3.6 3.8 5.2 2zM177.9 51.5l-1.7-.5-2.9-3 0-6.9 2.9-3 1.2 0 1.1-1.1 2.4 0 3.4 1.1 1.8 1.8.1 1.2 1.1 1.1 0 4.7-1.1 1.1-.1 1.2-1.8 1.8-1.1 0-1.2 1.1-3.5 0zM219.1 56.2l2.3.1 0-24.6-3.5 1.2-3.5 2.4-2.3 3.4-.1 2.4-1.1 2.3.1 2.3.9 1.2.2 2.3 1 1.1.1 1.2 3.5 3.5 1.2.1 1.1 1zM15.3 55.1l1.1-1.1 1.2-.1 2.4-2.4.1-1.2 1.1-1.1 0-1.2 1.1-1.1-.1-5.8-1-1.2-.1-1.2-1-1.1-.2-1.2-2.3-2.3-1.2-.1-1.1-1.1-1.2 0 0 22.2zM52.3 13.4l4.7 0 3.5-1.2 1.1-1.1 1.2-.1 2.3-2.3.1-1.2 2.2-3.4 0-1.2-25.5 0 1 1.2.1 2.3 2.4 2.6 3.4 3.2 2.4.2 1.1.9zM178.5 13.4l5.8-.1 3.5-2.1 1.2-.1 3.4-3.5.1-1.2 1.1-1.2.1-2.3-24.6 0 .1 2.3 1.1 1.2.1 1.2 3.5 3.5 2 1.1 1.5.1 1.1 1zM90.5 7.6l4.7-.1 1.1-1 1.2-.1 10.4 0 1.2-1.1 0-2.4-20.9 0 0 2.3 2.2 2.3zM216.7 7.6l4.7 0 0-4.7-7 0 0 1.2 2.3 3.4z"/><path fill="#ecfcfc" stroke="#707070" stroke-width="0.35" stroke-opacity="0.18" d="M43.1 210l23.2 0-.2-1.2-1-1.1 0-1.1-3.5-3.6-1.2-.1-1.1-1-4.7-.8-4.6.8-1.1 1.1-1 0-2.5 2.3-1.3 3.5zM170.4 210l22.1 0 0-1.2-1.2-2.3-3.4-3.5-1.9-1.1-5.1-.8-4.7 1-3.5 2.5-.1.8-2.2 2.3-.1 2.3zM51.2 183.5l4.6.1 1.2-1 2.3-.2 3.5-2.6.3-1.1 2.2-2.3.1-2.3 1.1-1.1 0-4.7-1.1-1.1-.3-2.6-5.8-5.6-2.3-.2-2.4-1.1-2.3 0-1.1.8-2.3.3-1.2 1-1.2.1-3.7 3.8-.1 1.2-1.1 1.1-.1 2.3-.9 1.2 0 2.3.9 1.2.1 2.3 1 1.1.2 1.2 4.9 4.7 2.3.3 1 .8zM51.5 177.6l-1.5-.5-3-3 0-1.1-1.1-1.2 0-2.3 1.1-1.2 0-1.1 3-3 1.2-.1 1.1-1.1 2.3 0 1.2 1.1 1.2.1 3 3 1.1 2.3-.1 3.5-4 4.1-1.2.2-1.2 1-2.3 0zM178.5 183.6l3.5 0 1.2-.9 2.3-.2 1.1-1.1 1.2-.1 2.6-2.6.1-1.1 2.2-3.5 0-6.9-1.1-1.2 0-1.1-1.1-1.2-.2-1.1-2.4-2.4-1.3-.3-1.1-1.1-2.3-.1-1.2-.9-3.5-.1-1.1 1-2.3.1-1.2 1.1-1.2.1-3.4 3.7-1.5 3.5 0 6.9 1.3 3.5 3.6 3.7 1.2.1 1.2 1.1 1.1 0 1.3.9zM177.8 177.6l-1.6-.5-3-3 .1-6.9 2.9-3 1.2-.1 1.1-1 2.4-.1 1.1.9 2.3.3 1.9 1.8.1 1.2 1 1.1 0 4.7-1 1.1-.1 1.2-1.9 1.8-1.1.1-1.2 1.1-3.5 0zM92.9 182.2l8.8 0 4.2-2.3 2-2 2.3-.1 1.5-1.4-.2-2.3-1.3-1.7-.1-2.9-.8-1.2-.2-2.9-2.6-4-5.5-3.5-7.3 0-2.7 1.2-3.9 3.5-2.1 4.6-.3 4.6 1.1 2.3.1 1.8 4.6 5.2 1.2.1zM135.7 182.2l3.5-.1 1.1-.9 1.9-.1 5.1-4.7 1.2-3.4 0-5.8-1.4-3.5-3.3-3.5-1.2-.1-1.1-1-4.6-.8-1.2.6-3.5.2-3.5 2.3-2.3 3.4-1.2 3.5.3 7 1.3 2.3 2.6 2.3 1.7.2 1 1 3.4 1.1zM220.2 182.3l1.2 0 0-24.4-1.2 0-1.1 1.1-1.2.1-3.5 2.5-.2 1-2.1 2.7-.2 3-.7 1.2.9 5.6 1.2 2.2 3.4 3.5 2.7 1.4zM15.3 181.1l1.1-1.1 1.2-.1 2.3-2.3 2.2-4.6.2-3.5-1.2-4.7-1.2-1.9-3-2.7-2.8-1.2 0 22.2zM116 181.4l1.2.1 1.2-1.6 0-1.2-1.2-1.7-1.2.1-1.1 1.6.7 2.4zM53.5 139.4l2.9 0 4-1.1 3.5-2.6 2.3-3.2 1.2-3.4 0-4.5-1-1.4-.3-2.3-4.5-4.7-1.8-1.1-2.8-.2-1.2-.7-4.1-.2-1.7-1.3-2.3 0-1.2 1.2-.2 2.4-3.3 5.8-.3 2.3-.7 1.1.2 3.5.8 1.2.3 2.3 3.2 3.6 2.7 2.2 2 .1 1.9 1zM179.7 139.4l3.5 0 3.5-1.1 1.1-1.1 1.2-.1 2.3-2.3 2.3-4.3 0-7.3-1-1.1-1.3-3.3-4.7-3.6-4.6-1.1-3.6-.1-1.7-1.2-1.6-.3-1.2.4-.7 1.1-.3 2.3-3.6 6.3 0 8.5 1.1 1.4 0 1 3.5 3.6 5.7 2.3zM45.4 109.4l1.9-1.2-.1-1.2-1.8-1.1-1.2.1-1.3 1-.1 1.2 1.5 1.1zM171.6 109.4l2.3-1.2 0-1.2-1.2-.9-2.3.1-1 .8 0 1.2 1.7 1.1zM50 98.5l4.6.3 4.7-1 1.1-1 1.2-.2 3.5-3.5.1-1.1 1-1.2 0-7.8-1.1-1.4 0-1.1-3.5-3.6-1.2-.1-1.1-1-4.7-.8-4.6.8-1.1 1.1-1.2.2-2.3 2.2-1.3 3.4-1 1.2 0 5.8 1 1.1.1 1.5 1.6 3.2 3.4 2.3zM177.4 98.7l4.6.1 2.3-.9 2-.1 3.8-3.3 2.3-2.9.2-3.1.7-1.1-.9-5.3-3.4-4.1-2.9-2.2-2.9-.2-1.2-.6-5.4.8-2.7 2.2-.8.1-2.7 3.5-.1 2.3-1 2.1.1 2.5.9 1.2.1 2.3 1.1 1.1.3 1.2 3.3 3.4 1.2.1zM51.2 57.4l4.6.1 1.2-1 2.3-.1 3.5-2.7.3-1 2.2-2.4.1-2.3 1.1-1.1 0-4.7-1.1-1.1-.1-2.3-6-5.9-2.3-.2-2.4-1.1-3.2.2-3.7 1.9-1.2.1-3.7 3.8-.1 1.2-1.1 1.1-.1 2.3-.9 1.2 0 2.3.9 1.2.1 2.3 1 1.1.2 1.2 4.9 4.7 2.3.3 1.1.8zM51.5 51.5l-1.5-.4-3-3.1 0-1.1-1.1-1.2 0-2.3 1.1-1.2 0-1.1 3-3 1.2-.1 1.1-1.1 2.3 0 1.2 1.1 1.2.1 3 3 1.1 2.3 0 2.3-1.1 2.3-3 3.1-1.2.1-1.2 1-2.3 0zM178.5 57.5l3.5 0 1.2-.9 2.3-.2 1.1-1.1 1.2-.1 2.6-2.5.1-1.2 2.2-3.5 0-6.9-1.1-1.2 0-1.1-1.1-1.2-.1-1.1-4.9-3.8-2.3-.1-1.2-.9-3.5-.1-1.1 1-2.3.1-1.2 1.1-1.2.1-3.5 3.7-1.4 3.5 0 6.9 1.3 3.5 3.6 3.8 1.2 0 1.2 1.1 2.9.9zM177.8 51.5l-1.6-.5-3-3 .1-6.9 2.9-3 1.2 0 1.1-1.1 2.4-.1 1.1.8 2.3.4 1.9 1.8.1 1.2 1 1.1 0 4.7-1 1.1-.1 1.2-1.9 1.8-1.1.1-1.2 1.1-3.5 0zM92.9 56.1l8.8 0 4.1-2.3 2.1-2 2.3-.1 1.5-1.4-.2-2.3-1.3-1.7-.1-2.9-.8-1.2-.2-2.9-2.6-4-5.5-3.5-7.3 0-2.7 1.2-3.9 3.5-2.1 4.6-.3 4.6 1.1 2.3.1 1.8 4.6 5.2 1.2.1zM135.7 56.1l3.5-.2 1.1-.8 1.9-.1 1.6-1.1 3.5-3.5 1.2-3.5-.1-6.5-1.3-2.8-3.3-3.5-1.2 0-1.1-1.1-4.6-.8-1.2.6-3.5.2-3.5 2.3-2.3 3.4-1.2 3.5.3 7 1.3 2.3 1.9 1.9 6.8 2.7zM220.2 56.2l1.2 0 0-24.4-1.2 0-1.1 1.1-1.2.1-3.5 2.5-.2 1-2.1 2.7-.9 4.2.9 5.6 1.2 2.2 3.4 3.5 2.8 1.4zM15.3 55l1.1-1.1 1.2-.1 2.3-2.3 2.2-4.6.2-3.5-1.2-4.6-1.4-2.3-2.1-2-2.4-1.5-1.1-.1 0 22.2zM116 55.3l1.2.1 1.2-1.6-.1-1.4-1.1-1.5-1.2.1-1.1 1.7.7 2.3zM53.5 13.3l3.5-.1 1.1-.7 2.2-.3 2.5-1.6 3.4-4.2 1.2-3.5-25.2 0 .8 1.2.3 2.3 3.2 3.6 2.7 2.2 2 .1 2 1zM180.9 13.3l3.4-.3 4.7-2 3.4-3.9 1.3-4.2-24.5 0 .1 2.1 1.1 1.4 0 1 2.3 2.5 3.4 2.3 3.6 1.1z"/><path fill="#e4fcfc" stroke="#707070" stroke-width="0.35" stroke-opacity="0.18" d="M44.2 210l22 0-2.3-4.4-2.3-2.1-3.1-1.6-3.9-.4-3.6.4-2.4 1.1-3.2 3-1.2 1.7-.7 2.3zM170.4 210l22.1 0-1.2-3.4-3.7-3.6-2.5-1.1-3.1-.4-4.4.4-2.5 1.1-3.5 3.5-1.2 2.1zM51.2 183.5l4.6 0 1.2-1 2.3-.1 2.3-2.2 1-.3 2.7-3.5.1-2.3 1-1.1 0-4.7-1-1.1-.3-2.5-5.8-5.6-2.3-.3-2.4-1.1-2.3 0-1.1.9-2.3.2-1.2 1.1-1.2.1-3.7 3.7-.1 1.2-1.1 1.1 0 2.3-.9 1.2-.1 2.3.9 1.2.1 2.3 1.1 1.1.1 1.2 4.9 4.6 2.3.3 1.1.9zM51.5 177.6l-1.5-.4-3-3.1-.1-1.1-1.1-1.2 0-2.3 1.1-1.2.1-1.1 3-3.1 1.2 0 1.1-1.1 2.3 0 1.2 1 1.2.1 3 3.1 1.2 2.3 0 2.3-.2 1.2-4 4.2-2.4 1.1-2.3 0zM178.5 183.6l3.5 0 1.2-1 2.3-.1 1.1-1.1 1.4-.3 2.1-2.1 1.5-3.7 1.1-1.2 0-6.9-1.1-1.2-1.3-3.4-4.8-3.8-2.3 0-1.2-1-3.5 0-1.1.9-2.3.1-1.2 1.1-1.2.1-3.4 3.8-1.5 3.4 0 6.9 1.4 3.5 3.5 3.7 1.2.1 1.2 1.1 1.1 0 1.4.9zM177.8 177.6l-1.6-.4-3-3.1.1-6.9 2.9-3.1 1.2 0 1.1-1.1 2.4 0 1.1.9 2.3.3 1.9 1.8.1 1.2 1.1 1.1 0 4.7-1.1 1.1-.1 1.2-1.9 1.9-1.1 0-1.2 1.1-3.5 0zM94 182.2l5.8.1 3.6-1.2 3.9-3.5 2.3-4.6-.5-6.6-1.2-2.6-3.2-3.6-5.3-2.3-4.3 0-4.6 1.9-3.4 3.5-1.7 3.9-.4 3.5 1 4.6 3.5 4.6 4.4 2.3zM221.4 182.2l0-24.2-3.1 1.1-3.9 3.1-2.3 4.2-.5 4.3.5 3.4 2.3 4.1 3.4 2.9 2.7 1.1zM15 181.1l3.8-2.7 1.1-1.4 1.2-2 .9-5.5-.9-4-1.2-2.1-1.8-2-3.8-2.3-.2 22zM133.4 181.1l3.5.8 4.7-.8 4.5-3.5 2.2-4.6.1-5.1-1.1-3.2-2.6-3.3-3.9-2.3-3.9-.5-3.8.5-4.4 2.8-2.3 3.3-1.1 4.3 1 5.8 2.4 3.3 3.6 2.5zM51.2 138.3l3.4.8 4.9-.8 4.4-3.1 1.2-1.4 1.6-3.6.5-3.5-1-4.8-1.1-2.1-2.3-2.4-4-2.3-5.3-.6-4.6 1.2-3.5 2.9-2.3 4-.7 4.1.7 4.4 1.1 2.3 2.3 2.6 3.5 2.3zM177.4 138.3l3.5.8 5.1-.8 4.8-3.5 2.5-4.6.3-5.8-1.3-3.5-2.9-3.5-3.9-2.3-5.8-.6-4.6 1.4-3 2.7-2.2 3.5-.6 1.6-.1 5.3 1.2 3.8 2.3 2.9 4 2.6zM51.2 98.1l4.6.2 3.1-.5 2.3-1.2 2.7-2.3 2.3-4.6 0-5.8-1.1-2.7-2.5-3.1-4.1-2.3-2.7-.4-4.8.4-4 2.3-2.8 3.5-1.1 3.4 0 3.5 1.1 3.5 2.3 3.2 4.1 2.6zM177.4 98l4.6.3 3.5-.5 3.5-2.3 2.3-2.3 1.1-2.3.5-3.5-.5-4.7-1.1-2.2-2.3-2.4-3.5-2.2-3.5-.5-4.5.4-3.9 2.3-3.2 4.4-.7 3.7.7 5 3 4.3 3.8 2.3zM51.2 57.3l4.6.1 1.2-1 2.3-.1 3.5-2.7 2.3-3 .3-2.6 1-1.1 0-4.7-1-1.1-.3-2.5-5.8-5.7-2.3-.2-2.4-1.1-2.3 0-5.8 2.3-3.7 3.7-.1 1.2-1.1 1.1 0 2.3-.9 1.2-.1 2.3.9 1.2.1 2.3 1.1 1.1.1 1.2 4.9 4.6 2.3.3 1.1.9zM51.5 51.5l-1.5-.4-3-3.1-.1-1.1-1.1-1.2 0-2.3 1.1-1.2.1-1.1 3-3.1 1.2 0 1.1-1.1 2.3 0 1.2 1 1.2.1 3 3.1 1.2 2.3 0 2.3-1.2 2.3-3 3.1-1.2.1-1.2 1-2.3 0zM178.5 57.5l3.5 0 1.2-1 2.3-.1 1.1-1.1 1.4-.3 2.3-2.3 1.3-3.5 1.1-1.2 0-6.9-1.1-1.2-1.3-3.4-2.5-2.4-1.2-.2-1.1-1.1-2.3-.1-1.2-1-3.5 0-1.1 1-2.3 0-1.2 1.2-1.2 0-3.4 3.7-1.5 3.5 0 6.9 1.4 3.5 3.5 3.7 5.4 2.1zM177.8 51.5l-1.6-.4-3-3.1 0-6.9 3-3 1.2-.1 1.1-1.1 2.4 0 3.4 1.2 1.9 1.8.1 1.2 1.1 1.1 0 4.7-1.1 1.1-.1 1.2-1.9 1.9-1.1 0-1.2 1.1-3.5 0zM94 56.1l5.8.1 3.6-1.2 3.9-3.5 2.3-4.6-.5-6.6-1.2-2.6-3.2-3.5-5.2-2.4-4.4 0-4.6 1.9-3.4 3.5-1.7 3.9-.4 3.5 1 4.6 3.4 4.5zM221.4 56.2l0-24.3-3.5 1.3-3.5 2.9-2.3 4.2-.5 4.3.5 3.4 2.3 4.1 3.4 2.9 2.8 1.1zM14.9 55l3.5-2.3 1.5-1.8 1.2-2 .9-5.5-.9-4-1.2-2.1-1.8-2-3.8-2.3-.2 22zM133.4 55l3.5.8 4.7-.8 4.5-3.5 2.2-4.6.1-5.1-1.1-3.2-2.6-3.3-3.8-2.3-4-.5-3.8.5-4.4 2.8-2.3 3.2-1.1 4.4 1 5.8 2.6 3.5 3.5 2.3zM51.2 12.2l2.3.7 3.5-.1 4.7-1.8 3.4-3.3 1.8-4.8-24.3 0 1.6 4.4 3.5 3.6 2.4 1.3zM177.4 12.2l4.6.8 4-.8 2.2-1.2 3.1-2.9 2.3-5.2-24.4 0 1.2 3.8 1.2 1.7 1.4 1.5 3.7 2.3z"/><path fill="#d8fcfc" stroke="#707070" stroke-width="0.35" stroke-opacity="0.18" d="M44.2 210l21.3 0-1.6-3.6-2.2-2.2-2-1.2-3.9-1.1-3.5.2-4.6 2.2-2.3 2.5-1.4 3.2zM171.6 210l20.6 0-.9-2.4-3.1-3.4-1.8-1.2-4.4-1.1-3.5.3-4 2-2.9 3.2-1.2 2.6zM51.2 183.4l4.6.1 1.2-1 2.3-.1 3.5-2.8.2-.9 2.1-2.1.3-2.5 1-1.1 0-4.7-1.1-1.1-.2-2.5-5.8-5.6-2.3-.3-1.6-.9-3.1-.1-1.1.9-2.3.1-1.2 1.1-1.2.1-3.7 3.7 0 1.2-1.1 1.1-.1 2.3-.9 1.2 0 2.3.9 1.2.1 2.3 1 1.1.1 1.2 3.7 3.7 1.4.9 2.1.3 1.1.9zM51.5 177.6l-1.5-.4-3.1-3.1 0-1.1-1.1-1.2 0-2.3 1.1-1.2 0-1.1 3.1-3.1 1.2 0 1.1-1.1 2.3 0 1.2 1 1.2.1 3.1 3.1 1.1 2.3-.1 3.5-4.1 4.2-1.2.2-1.2 1-2.3 0zM178.5 183.6l3.5-.1 1.2-.9 2.3-.2 1.1-1.1 1.2-.1 2.5-2.5.1-1.1 2.3-3.5-.1-6.9-2.2-3.5-.1-1.1-4.8-3.7-2.3-.1-2.3-1.1-2.4.1-1.1 1-2.3.1-1.2 1.1-1.2.1-3.4 3.8-1.4 3.3 0 6.9 1.3 3.5 3.5 3.7 1.2 0 1.2 1.1 2.7 1zM177.8 177.6l-1.6-.4-3-3.1 0-6.9 3-3.1 1.2 0 1.1-1.1 2.4-.1 1.1.9 2.3.3 1.9 1.9.1 1.2 1.1 1.1 0 4.7-1 1.1-.2 1.2-1.9 1.9-1.1 0-1.2 1.1-3.5 0zM96.3 182.2l4.7-.6 3.4-1.7 2.4-2.3 1.1-1.9 1.3-5-.1-2.4-1.1-3.4-2.4-3.3-3.5-2.4-4.6-1-4.7.9-2.3 1.2-2.3 2.2-2.4 4.7-.3 3.5.6 3.4 2.1 3.8 4 3.2zM134.5 181.2l5.7-.1 2.5-1.2 3.4-3.3 1.8-4.8-.6-5.8-1.2-2.3-2.3-2.4-4.6-2.2-4.7 0-2.7 1.1-3.1 2.3-2.3 4.1-.3 5.2.3 2.2 1.2 2.4 3.5 3.5 2.6 1.2zM219.1 181.2l2.3.7 0-23.3-2.3.6-3.5 2.4-2.4 3.3-1.1 3.4 0 3.5 1.2 3.8 2.3 3.2 3.2 2.3zM15.3 180.2l2.3-1.4 2.1-2.4 1.4-3.2.2-3.7-.6-3.5-1.9-3.2-3.2-2.6-1.5-.5 0 21.2zM52.3 138.4l5.7-.1 2.7-1.2 3.2-2.6 2.4-4.3.2-5.8-1.4-3.7-3-3.3-5-2.3-4.8 0-3.4 1.3-2.4 1.8-2.3 2.8-1.2 3.4 0 4.6 1.2 3.5 2.3 2.9 5.1 2.9zM178.5 138.3l6 0 3.3-1.5 3.5-3.3 1.8-4.5.2-3.5-2-5.4-2.5-2.7-5.1-2.3-4.8 0-5 2.3-2.3 2.4-2 4.6 0 4.6 1.9 4.6 2.4 2.5 4.3 2.2zM52.3 97.8l4.8 0 4.8-2.3 2.9-3.5 1.1-3.5-.1-3.5-1.8-4.6-2.3-2.3-4.7-2.2-3.5-.1-3.7 1.2-3.3 2.3-2.3 3.4-.6 3.5.6 4.8 1.2 2.2 2.2 2.3zM179.7 97.8l3.9 0 4.9-2.3 2.8-3.3 1.1-3.1 0-4.5-1.1-3.1-3.1-3.4-1.6-1.1-3.4-1.1-3.5 0-3.5 1.1-3.5 2.8-2.3 4.1 0 6 1.2 2.5 2.3 2.9 5.1 2.5zM51.2 57.3l4.6.1 1.2-1 2.3-.1 3.5-2.8 2.3-3 .3-2.5 1-1.1 0-4.7-1.1-1.1-.2-2.5-5.8-5.6-2.3-.3-1.5-.9-3.8 0-2.8 1-1.2 1-1.2.1-3.7 3.7 0 1.2-1.1 1.1-.1 2.3-.9 1.2 0 2.3.9 1.2.1 2.3 1 1.1.1 1.2 3.7 3.7zM51.5 51.5l-1.5-.4-3.1-3.1 0-1.1-1.1-1.2 0-2.3 1.1-1.2 0-1.1 3.1-3.1 1.2 0 1.1-1.1 2.3 0 1.2 1 1.2.1 3.1 3.1 1.1 2.3 0 2.3-1.1 2.3-3.1 3.1-1.2.2-1.2 1-2.3 0zM178.5 57.5l3.5 0 1.2-1 2.3-.1 1.1-1.2 1.2-.1 2.5-2.4.1-1.2 2.3-3.5-.1-6.9-2.2-3.5-.1-1.1-4.8-3.7-2.3-.1-2.3-1.1-2.4.1-1.1 1-2.3.1-1.2 1.1-1.2.1-3.4 3.8-1.4 3.3 0 6.9 1.3 3.5 3.5 3.7 1.2 0 1.2 1.2 2.3.2.8.7zM177.8 51.5l-1.6-.4-3-3.1 0-6.9 3-3.1 1.2 0 1.1-1.1 2.4 0 3.4 1.1 1.9 1.9.1 1.2 1.1 1.1 0 4.7-1 1.1-.2 1.2-1.9 1.9-1.1 0-1.2 1.1-3.5.1zM97.5 56.1l4.9-1.1 3.2-2.2 2.5-3.6 1.1-4.6-.1-2.4-1.1-3.4-2.4-3.3-3.5-2.4-4.6-1-4.8.9-3.5 2.3-3 4.6-.7 4.7 1.1 4.6 2.4 3.5 3.2 2.3 4.4 1.1zM134.5 55.1l5.6-.1 2.6-1.2 3.4-3.3 1.8-4.8-.6-5.8-1.2-2.3-2.3-2.4-4.6-2.2-4.7 0-2.8 1.2-3 2.2-2.3 4.1-.3 5.2.3 2.2 1.2 2.4 3.5 3.5 2.7 1.2zM219.1 55.1l2.3.7 0-23.3-2.3.6-3.5 2.4-2.4 3.3-1.1 3.4 0 3.5 1.2 3.8 2.2 3.2 3.3 2.3zM15.3 54.1l2.3-1.4 2.3-2.8 1.2-2.8.2-3.7-.6-3.5-1.9-3.2-4.7-3.1 0 21.1zM52.3 12.3l5.6-.1 4.5-2.3 2.7-3.1 1.4-3.9-23.5 0 1.2 3.5 2.3 2.9 2.3 1.7 2.9 1.2zM178.5 12.2l6 0 3.3-1.5 3.5-3.3 1.8-4.5-23.5 0 .8 2.7 2.1 3.1 2.9 2.3 2.9 1.2z"/><path fill="#c8fcfc" stroke="#707070" stroke-width="0.35" stroke-opacity="0.18" d="M45.4 210l19.5 0-.3-1.2-3-3.8-2.3-1.6-4.7-1.1-4.6 1.2-1.1.8-3.3 3.4-1.1 2.3zM171.6 210l19.8 0-1.6-3.5-2-1.9-2.3-1.3-3.5-1-4.6.9-2.3 1.3-3 3.2-.9 2.3zM52.3 183.5l3.5 0 1.2-1 2.3-.2 3-2.4 2.8-3.3.2-2.5 1-1.1 0-4.7-1-1.1-.1-2.3-4.8-4.9-5.8-2.2-2.3 0-1.1.9-2.3.2-1.2 1.1-1.2 0-3.6 3.7-.1 1.2-1.1 1.1 0 2.3-1.1 2.4 1 2.3.1 2.3 1.1 1.1.1 1.2 3.6 3.7 1.5.9 2 .2 1.2 1zM51.4 177.6l-1.4-.4-3.1-3.1 0-1.1-1.1-1.2 0-2.3 1.1-1.2 0-1.1 3.1-3.1 1.2-.1 1.1-1.1 2.3 0 1.2 1.1 1.2.1 3.1 3.1 1.1 2.3-.1 3.5-4.1 4.2-2.4 1.2-2.3 0zM178.5 183.5l3.5 0 1.2-1 2.3-.1 1.1-1.1 1.2-.1 2.5-2.5.1-1.1 1.1-1.2 0-1.1 1.1-1.2 0-6.9-2.3-3.5-.2-1.3-4.6-3.5-2.3-.1-1.2-.9-3.5 0-1.1.9-2.3.1-1.2 1.1-1.2.1-2.5 2.5-2.3 4.6 0 6.9 1.4 3.5 3.4 3.6 1.2.1 1.2 1.1 1.1 0 1.8 1zM177.7 177.6l-1.5-.4-3.1-3.1.1-6.9 3-3.1 1.2-.1 1.1-1.1 2.4 0 1.1.9 2.3.3 2 1.9.1 1.2 1 1.1 0 4.7-1 1.1-.1 1.2-2 1.9-1.1.1-1.2 1.1-3.5 0zM94 181.1l3.5.6 4.6-1.1 3.5-2.6 1.9-2.7.8-2.3.4-3.5-1.4-4.6-4-4.5-2.3-1.1-5.8-.3-3.5 1.3-2.8 2.3-2.6 4.6-.1 5.8 1.6 3.4 2.7 3 3.4 1.7zM221.4 181.3l0-22.2-3.5 1.3-3.3 3.3-2.1 5.8 1.1 5.8 3.1 3.7 3.8 2.1zM14.3 179.9l1-.2 2.3-1.9 2.1-2.5 1-2.3.2-3.5-1.3-4.6-2-2.3-3.5-2.3 0 19.7zM133.4 180.1l1.1.6 3.5.2 3.5-1.1 3.5-2.7 1.9-3 .4-4.7-.6-3.4-1.7-2.5-3.5-3-3.5-1-3.5.4-3.4 1.6-3.3 3.4-1.2 3.4.1 4.7 2.8 4.6 3.5 2.3zM51.2 137.6l5.8.4 3.4-1.3 3.5-3.2 1.9-3.3.2-5.8-1.4-3.5-1.8-2.2-3.5-2.3-3.5-1-2.3 0-3.5 1-3.5 2.5-2.2 3.2-1 3.4 0 2.4 1 3.4 2.4 3.5 3.5 2.3zM177.4 137.4l4.6.7 4.6-1.2 2.8-2.1 2.5-3.5.8-3.4-.4-4.7-2.2-3.6-3.5-2.9-3.4-1.2-4.7.3-2.3.8-2.3 1.6-3 3.9-1 4.6.9 4.6 2.4 3.5 3.6 2.3zM52.3 97.1l3.5.3 3.5-1 3.5-2.7 1.9-2.9.6-4.6-.7-3.5-1.5-2.3-3.8-3.1-4.7-1.1-4.6 1.2-3.5 3.1-2 3.4-.1 5.8 1.1 2.3 2.2 2.6 2.3 1.7 1.3.3zM178.5 96.9l1.2.5 3.5-.1 4.6-2.1 2.8-3.2 1.3-3.5 0-3.5-2.1-4.6-2-1.9-4.6-2.1-3.5 0-3.5 1.2-4.1 4-1.3 3.4-.1 3.5 1.3 3.5 3.1 3.3 2.8 1.3zM52.3 57.5l3.5-.1 1.2-1 2.3-.2 3-2.4 2.8-3.3.2-2.5 1-1.1 0-4.7-1-1.1-.1-2.3-5.9-5.7-2.3-.3-1.7-1-3-.1-5.8 2.3-3.6 3.6-.1 1.2-1.1 1.1 0 2.3-1 1.2 0 2.3.9 1.2.1 2.3 1.1 1.1.1 1.2 3.6 3.7 4.8 2.1zM51.4 51.5l-1.4-.3-3.1-3.2 0-1.1-1.1-1.2 0-2.3 1.1-1.2 0-1.1 3.1-3.1 1.2-.1 1.1-1.1 2.3 0 1.2 1.1 1.2.1 3.1 3.1 1.1 2.3 0 2.3-1.1 2.3-3.1 3.2-1.2.1-1.2 1-2.3 0zM178.5 57.4l3.5 0 1.2-1 2.3-.1 1.1-1.1 1.2-.1 2.5-2.4.1-1.2 1.1-1.2 0-1.1 1.1-1.2 0-6.9-1.1-1.2 0-1.1-1.2-1.2-.1-1.1-4.7-3.7-2.3 0-1.1-1-3.7 0-1 .9-2.3.1-1.2 1.1-1.2.1-2.5 2.5-2.3 4.6 0 6.9 1.4 3.5 3.4 3.6 1.2.1 1.2 1.1 2.3.2.8.8zM177.7 51.5l-1.5-.4-3.1-3.1.1-6.9 3-3.1 1.2 0 1.1-1.1 2.4-.1 2.3 1.2 1.1 0 2 1.9.1 1.2 1 1.1 0 4.7-1 1.1-.1 1.2-2 1.9-1.1.1-1.2 1.1-3.5 0zM94 55l3.5.6 4.6-1.1 3.5-2.6 1.9-2.7.8-2.3.4-3.5-1.4-4.6-4-4.5-2.3-1.1-5.8-.3-3.5 1.3-2.8 2.3-2.6 4.6-.1 5.8 1.6 3.4 2.7 3zM221.4 55.2l0-22.2-3.5 1.3-3.3 3.3-2.1 5.8.4 3.5 1.5 3.4 2 2.4 4.1 2.3zM14.3 53.8l1-.2 2.3-1.9 2.1-2.5 1-2.3.2-3.5-1.3-4.6-3.2-3.3-2.3-1.2 0 19.6zM133.4 54l1.1.6 3.5.2 3.5-1.1 3-2.2 2.4-3.5.4-4.7-.6-3.4-1.7-2.5-3.5-3-4.6-1-4.7 1.1-4.4 4.3-1.2 3.4.1 4.7 2.8 4.6 3.5 2.3zM51.2 11.5l5.8.4 3.4-1.3 4.3-4.2 1.3-3.5-22.5 0 2.1 4.6 2.1 2.1 2.5 1.4zM177.4 11.3l4.6.7 4.6-1.2 3.8-3.3 1.5-2.3.6-2.3-22.3 0 .6 2.3 1.4 2.3 1.7 1.8 2.9 1.7z"/><path fill="#a0f8f8" stroke="#707070" stroke-width="0.35" stroke-opacity="0.18" d="M45.4 210l19.2 0-1.1-2.3-3.1-3.2-2.3-1.1-3.5-.7-3.4.7-2.3 1.3-2.4 2.3-1.6 3zM172.7 210l18.4 0-1.8-3.5-1.5-1.4-2.3-1.5-3.5-.9-4.6.9-2.3 1.3-1.7 1.6-1.7 3.5zM52.3 183.5l3.6-.1 1.1-1 2.3-.1 2.9-2.4 3-3.5.1-2.3 1-1.1 0-4.7-1-1.1-.2-2.4-4.5-4.6-1.7-1.1-1.9-.2-2.4-1.1-2.4.1-1 .9-2.3.1-1.2 1.1-1.2.1-3.6 3.6 0 1.2-1.1 1.1-.1 2.3-1 2.4 2.2 6.9 3.6 3.6 4.9 2.2zM51.4 177.6l-1.4-.3-3.1-3.2-.1-1.1-1.1-1.2 0-2.3 1.1-1.2.1-1.1 3.1-3.2 1.2 0 1.1-1.1 2.3 0 1.2 1 1.2.1 3.1 3.2 1.2 2.3-.1 3.5-4.2 4.3-2.4 1.1-2.3 0zM178.5 183.5l3.5 0 1.2-1 2.3-.1 1.1-1.2 1.3-.1 2.2-2.2.2-1.3 2.3-3.5 0-6.9-1.1-1.2-1.3-3.4-4.7-3.6-2.3-.1-1.5-1-3.2 0-1.1 1-2.3 0-1.2 1.2-1.2.1-2.3 2.2-2.4 4.8.1 7.9 1.3 2.5 3.3 3.6 1.2 0 1.2 1.2 3 1zM177.7 177.6l-1.5-.3-3.1-3.2.1-6.9 3-3.2 1.2 0 1.1-1.1 2.4 0 1.1.8 2.3.4 2 1.9.1 1.2 1.1 1.1 0 4.7-1.1 1.1-.1 1.2-2 2-1.1 0-1.2 1.1-3.5 0zM96.3 181.1l4.7-.5 3.4-2.1 2.6-3.2 1.3-4.6-.9-4.7-1.8-2.9-2.3-2.1-2.3-1.2-3.5-.6-3.5.5-2.3 1-2.3 2-2.7 4.5-.4 3.5.3 2.3 2.7 4.6 3.6 2.8zM134.5 180.1l4.7.2 2.3-.9 2.4-1.8 2.5-3.5.7-3.4-.4-3.5-2-3.5-3.2-2.7-4.6-1-3.5.7-2.3 1.2-1.9 1.8-2 3.5-.3 4.6 1.3 3.5 4 4 2 .6zM219.1 180l2.3.9 0-21.4-3.5 1.4-2.9 2.8-2.1 5.8.1 2.3 1.1 3.5 2.6 3.2 2.2 1.4zM15.3 179.2l4-3.9 1-2.3.3-3.5-1.8-5.1-2.4-2.4-2.3-1.3 0 19zM52.3 137.6l4.7 0 3.4-1.4 3-2.6 1.8-3.4.6-3.5-1.1-4.6-1.9-2.8-3.5-2.5-4.7-1-4.6 1.1-3.5 2.8-1.7 2.4-1.1 3.4 0 2.4 1 3.4 3 4 3.6 1.8zM178.5 137.5l4.7.2 3.4-1.2 3.3-2.9 2-3.4.4-3.5-.5-3.5-1.1-2.3-1.7-1.9-3.5-2.3-4.6-.9-4.7 1.3-3.5 3-1.8 3.1-.4 4.7.8 3.4 2.7 3.5 3.8 2.3zM53.5 97l2.3 0 4.6-1.8 3.1-3.2 1.3-3.5-.2-4.6-1.1-2.3-4.2-3.9-3.5-1-4.6.6-2.3 1.3-2.9 3-1.3 3.4.2 4.7 1.1 2.3 4 3.9 2.6.7zM179.7 96.9l3.5-.1 4.6-2.1 3-3.9.8-3.4-.5-3.5-1.8-3.5-3.8-2.9-3.5-.9-4.6.9-2.3 1.3-1.7 1.6-2.2 4.6 0 3.5 2.1 4.6 2.9 2.4 3 1.1zM52.3 57.4l3.5-.1 1.2-1 2.3-.1 3.5-3 2.3-2.8.2-2.4 1-1.1 0-4.7-1-1.1-.2-2.4-6.2-5.7-1.9-.2-2.4-1.1-2.6.1-.8.7-2.3.3-1.2 1.1-1.2.1-3.6 3.6 0 1.2-1.1 1.1-.1 2.3-1 2.4 2.2 6.9 3.6 3.6 5.1 2.2zM51.4 51.5l-1.4-.3-3.1-3.2-.1-1.1-1.1-1.2 0-2.3 1.1-1.2.1-1.1 3.1-3.2 1.2 0 1.1-1.1 2.3 0 1.2 1 1.2.1 3.1 3.2 1.2 2.3 0 2.3-1.2 2.3-3.1 3.2-2.4 1.1-2.3 0zM178.5 57.4l3.5 0 1.2-1 2.3-.1 1.1-1.2 1.2-.1 2.4-2.3.1-1.2 2.3-3.5 0-6.9-1.1-1.2-1.3-3.4-4.7-3.6-2.3-.1-1.2-1-3.5 0-1.1 1-2.3 0-1.2 1.2-1.2.1-2.3 2.2-2.3 4.1 0 8.5 1.2 2.3 3.4 3.9 1.2.1 1.2 1.1 2.3.2.9.8zM177.7 51.5l-1.5-.3-3.1-3.2 0-6.9 3.1-3.1 1.2-.1 1.1-1.1 2.4 0 3.4 1.2 2 1.9.1 1.2 1.1 1.1 0 4.7-1.1 1.1-.1 1.2-2 2-1.1 0-1.2 1.1-3.5 0zM97.5 55l3.5-.5 3.1-1.8 2.9-3.5 1.3-4.6-.9-4.7-1.8-2.9-2.3-2.2-4.7-1.6-3.4.1-3.5 1.3-3.2 3-2 4.6.1 4.7 1.6 3.2 4.7 4.2 3.6.7zM134.5 54l3.5.4 3.5-1.1 2.3-1.8 2.6-3.5.7-3.4-.4-3.5-2-3.5-3.2-2.7-4.6-1-3.5.7-2.3 1.2-1.9 1.8-2 3.5-.3 4.6 1.3 3.5 4 4 2 .6zM219.1 53.9l2.3.9 0-21.4-3.5 1.4-2.9 2.8-1.3 2.3-.8 3.5.1 2.3 1.1 3.5 2.6 3.2 2.2 1.4zM15.3 53.1l4-3.9 1-2.3.3-3.5-1.8-5.1-2.4-2.4-2.3-1.3 0 19zM52.3 11.5l4.7 0 3.4-1.4 3.8-3.7 1.4-3.5-21.6 0 .7 2.3 1.8 2.8 1.2 1.2 3.7 1.8zM178.5 11.4l4.7.2 3.4-1.2 4.2-4 1.3-3.5-21.5 0 2.1 4.5 2.7 2.5 2.5 1.1z"/><path fill="#80f8f8" stroke="#707070" stroke-width="0.35" stroke-opacity="0.18" d="M45.4 210l18.8 0-1.4-2.8-2.4-2.3-2.3-1.3-3.5-.5-3.4.6-2.3 1.4-2.4 2.4-1.2 2.5zM172.7 210l18.1 0-1.1-2.3-1.9-2.2-3.5-2-2.3-.4-3.5.4-3.4 1.8-2.4 2.9-.7 1.8zM52.3 183.5l3.5-.1 1.2-1 2.3-.2 5.8-5.7.1-2.4 1.1-1.1-.1-4.7-1-1.1-.1-2.3-4.5-4.7-5.7-2.3-2.6 0-1.1.9-2.3.2-1.2 1.1-1.2 0-3.5 3.6-.1 1.2-1.1 1.1-.1 2.3-1 2.4 1 2.3.1 2.3 1.1 1.1 0 1.2 3.6 3.6 5.2 2.2zM51.3 177.6l-1.3-.3-3.2-3.2 0-1.1-1.1-1.2 0-2.3 1.1-1.2 0-1.1 3.2-3.2 1.2-.1 1.1-1 2.3-.1 1.2 1.1 1.2.1 3.2 3.2 1.1 2.3-.1 3.5-4.2 4.3-2.4 1.2-2.3 0zM178.5 183.4l3.6 0 1.1-1 2.3-.1 1.1-1.1 1.2-.1 2.4-2.4.1-1.1 1.1-1.2 0-1.1 1.1-1.2 0-6.9-1.1-1.2 0-1.1-1.1-1.2-.2-1.2-4.6-3.5-2.3-.1-1.8-1-2.6 0-1.4 1-2.3.1-1.2 1.1-1.2.1-2.3 2.2-2.4 4.8 0 6.9 1.3 3.1 3.4 4 1.2 0 1 1 2.5.5.9.7zM177.6 177.6l-1.4-.3-3.1-3.2 0-6.9 3.1-3.2 1.2 0 1.1-1.1 2.4-.1 1.2.9 2.2.3 2 2 .1 1.2 1.1 1.1 0 4.7-1 1.1-.1 1.2-2.1 2-1.1 0-1.2 1.1-3.5 0zM92.9 179.9l3.4.9 4.7-.6 3.9-2.6 2.2-3.5.8-3.4-.9-4.7-2.6-3.6-3.4-2.2-3.5-.7-4.6 1-2.4 1.5-3 4-.8 3.5.7 4.6 2 3.2zM135.7 180l3.5-.2 3.4-1.5 2.9-3 1.3-3.5-.1-3.5-1.4-3.4-2.7-2.8-3.4-1.5-4.7 0-2.3 1-3.5 3.2-1.4 3.5.2 4.7 1.2 2.5 2.4 2.6 4.3 1.8zM220.2 180.2l1.2.4 0-20.7-3.5 1.5-2.4 2.3-1.4 2.3-.8 3.4.3 3.6.8 2 2.3 3 3 1.9zM15.3 178.8l3.6-3.5 1-2.3.4-3.5-1.5-4.5-2.4-2.6-2.3-1.3 0 18.3zM52.3 137.2l4.7 0 3.4-1.4 2.4-2 2.4-4.8-.1-4.7-1.5-3.4-2-2.2-2.3-1.5-2.3-.7-3.5-.2-3.5 1-3.5 2.9-2.1 4.2-.2 3.7 1.6 4.4 1.9 2.3 4.5 2.3zM179.7 137.3l3.5 0 3.6-1.4 3.3-3.1 1.7-3.8-.1-4.6-1.5-3.5-2.4-2.5-3.5-1.8-3.4-.4-4.4 1.2-2.6 1.9-2.6 3.9-.6 3.5 1 4.6 3.4 4.1 3.7 1.7zM54.6 96.7l3.5-.6 2.3-1.2 2.8-2.9 1.4-3.5-.4-4.6-2.6-4.2-3.5-2.2-3.5-.5-3.4.6-3.5 2.4-1.9 2.7-1 3.5.5 3.5 1.9 3.4 2.8 2.4 4.2 1.1zM180.9 96.7l3.4-.5 3.5-1.9 2.6-3.5.8-3.4-.4-3.5-1.8-3.3-3.5-2.7-3.5-.9-3.5.4-3.4 1.8-2.8 3.5-.8 3.5.4 3.5 2 3.6 3.5 2.5 3.3.8zM52.3 57.4l3.4-.1 1.3-1 2.3-.2 5.8-5.7.1-2.4 1.1-1.1 0-4.7-1.1-1.1-.1-2.3-4.7-4.8-5.5-2.2-2.7 0-1 .8-2.3.3-1.2 1.1-1.2 0-3.6 3.6 0 1.2-1.1 1.1-.1 2.3-1 2.4 1 2.3.1 2.3 1.1 1.1 0 1.2 3.6 3.6 5.3 2.2zM51.4 51.5l-1.4-.3-3.2-3.2 0-1.1-1.1-1.2 0-2.3 1.1-1.2 0-1.1 3.2-3.2 1.2 0 1.1-1.1 2.3 0 1.2 1 1.2.1 3.2 3.2 1.1 2.3 0 2.3-1.1 2.3-3.2 3.2-1.2.2-1.2 1-2.3 0zM178.5 57.4l3.6-.1 1.1-1 2.3-.1 1.1-1.1 1.2-.1 2.4-2.3.1-1.2 1.1-1.2 0-1.1 1.1-1.2 0-6.9-1.1-1.2 0-1.1-1.1-1.2-.2-1.2-4.6-3.5-2.3-.1-1.6-1-3.1 0-1.1 1-2.3.1-1.2 1.1-1.2.1-2.4 2.4-2.3 4.6.1 7.6 2.2 4 2.4 2.4 1.2 0 1.2 1.1 2.3.2 1 .9zM177.6 51.5l-1.4-.3-3.1-3.2 0-6.9 3.1-3.2 1.2 0 1.1-1.1 2.4 0 3.4 1.1 2 2 .1 1.2 1.1 1.1 0 4.7-1 1.1-.1 1.2-2.1 2-1.1 0-1.2 1.2-3.5 0zM94 54.2l4.6.5 3.5-1.1 3.5-3 1.9-3.7.2-4.7-.9-2.7-2.4-3.2-3.4-2.2-3.5-.7-4.6 1-2.4 1.5-3 4-.8 3.5.7 4.6 2 3.2 3.5 2.6zM135.7 53.9l3.5-.2 3.4-1.5 2.9-3 1.3-3.5-.1-3.5-1.4-3.4-2.7-2.8-3.4-1.5-3.5-.1-3.5 1.1-3.5 3.2-1.4 3.5.2 4.7 1.2 2.5 3.4 3.3 3.3 1.1zM220.2 54.1l1.2.4 0-20.7-3.5 1.5-2.4 2.3-1.4 2.3-.8 3.4.3 3.6.8 2 2.3 3 3 1.9zM15.3 52.7l3.6-3.5 1-2.3.4-3.5-1.5-4.5-2.4-2.6-2.3-1.4 0 18.4zM52.3 11.1l3.5.2 4.3-1.4 2.7-2.2 2.4-4.8-20.8 0 2.1 4.6 3 2.4 2.7 1.1zM179.7 11.2l3.5 0 3.5-1.3 3.4-3.2 1.7-3.8-20.9 0 2.3 4.6 2.8 2.4 2.9 1.1z"/><path fill="#60f4f4" stroke="#707070" stroke-width="0.35" stroke-opacity="0.18" d="M46.5 210l17.3 0-1-2.3-2.1-2.3-2.6-1.5-3.5-.5-3.4.6-2.3 1.4-2.4 2.6-.8 2zM172.7 210l17.9 0-1.6-3-1.7-1.6-3-1.7-2.3-.3-3.5.3-2.3 1.1-2 1.7-2 3.5zM52.3 183.4l3.1 0 1.6-1.1 2.3-.2 5.8-5.7.1-2.3 1-1.1 0-4.5-1-1.3-.1-2-1.1-1.5-3.5-3.5-5.8-2.3-2.1 0-1.4 1-2.3.1-1.2 1.1-1.2.1-3.5 3.5-.1 1.2-1.1 1.1 0 2.3-.9 2.4.9 2.3 0 2.3 1.1 1.1.1 1.2 3.5 3.5 5.4 2.3zM51.3 177.6l-1.3-.3-3.2-3.2-.1-1.1-1-1.2 0-2.3 1.1-1.2 0-1.1 3.2-3.2 1.2-.1 1.1-1.1 2.3 0 1.2 1.1 1.2.1 3.2 3.2 1.1 2.3-.1 3.5-4.2 4.3-2.4 1.2-2.3 0zM178.5 183.4l3.5 0 1.2-1 2.3-.1 1.1-1.1.9-.1 2.7-2.4 0-1.1 2.3-3.5 0-6.9-1.1-1.2 0-1.1-1.2-1.2-.1-1-4.6-3.7-2.3 0-2.1-1.1-1.8 0-1.9 1.1-2.3 0-1.2 1.1-1.1.1-2.4 2.3-2.4 4.7.1 7.4 2.3 4.2 2.3 2.3 1.2.1 1.2 1.1 2.3.3 1 .8zM177.6 177.6l-1.4-.3-3.2-3.2.1-6.9 3.1-3.2 1.2-.1 1.1-1.1 2.4 0 1.3.9 2.1.3 2.1 2 .1 1.2 1 1.1 0 4.7-1 1.1-.1 1.2-2.1 2-1.1.1-1.2 1.1-3.5 0zM94 180l4.6.5 3.5-1.1 3.5-3.2 1.7-3.2.1-4.7-1.3-3.4-2.8-3.1-2.3-1.2-3.5-.8-4.6 1-2.4 1.6-2.7 3.6-.8 3.5.7 4.6 2.8 4 3.3 1.8zM221.4 180.3l0-20-3 1.1-2.8 2.6-1.7 3.2-.3 2.3.3 3.5 1 2.3 1.8 2.3 3.7 2.3zM14.9 178.7l3.9-3.7 1.2-5.5-1.2-4.1-2.6-2.8-2.1-1.2 0 17.7zM133.4 179.2l3.5.5 3.4-.4 3.5-2.3 2.4-4 .3-4.7-.9-2.3-1.8-2.6-3-2-2.8-.7-3.5.2-3.2 1.7-3 3.4-.9 3.5.8 4.6 1.7 2.6 2.7 2zM51.2 136.5l3.4.6 4.7-1 3.5-2.7 1.7-3.2.5-2.3-.5-4.7-1.7-2.9-3.9-2.9-3.1-.8-5.2.8-2.9 1.9-2.6 3.9-.6 2.3.4 4.7 1.6 2.9 3.5 2.8zM177.4 136.4l4.6.7 3.5-.8 3.5-2.6 1.7-2.4 1.1-4.6-.8-3.5-2-3.3-2.4-1.9-3.4-1.3-4.7.2-3.3 1.7-2.5 2.6-1.7 4.3.2 3.5 2.7 5 2.6 1.9zM51.2 95.7l4.6.6 3.1-.8 2.7-1.9 2.3-4 .5-3.4-1-3.5-1.8-2.6-3.5-2.3-3.5-.5-3.9.8-3.1 2.3-1.6 2.3-.9 3.5.9 4.6 1.7 2.5 2.9 2.2zM177.4 95.5l3.5.8 3.4-.3 3.1-1.7 2.1-2.3 1.1-2.3 0-5.8-2.1-3.5-4.2-2.8-5.8 0-3.1 1.7-2.7 3.3-.8 3.6.3 3.5 1.7 3.1 3.4 2.7zM52.3 57.3l3 0 1.7-1.1 2-.1 1.4-1 4.7-4.8.1-2.3 1-1.1 0-4.5-1-1.3-.1-2-1.1-1.5-3.6-3.5-5.7-2.3-2.4 0-1.1.9-2.3.2-1.2 1.1-1.2.1-3.5 3.5-.1 1.2-1.1 1.1 0 2.3-.9 2.4.9 2.3 0 2.3 1.1 1.1.1 1.2 3.5 3.6 4.7 1.5.8.7zM51.3 51.5l-1.3-.2-3.2-3.3-.1-1.1-1-1.2 0-2.3 1.1-1.2 0-1.1 3.2-3.2 1.2-.1 1.1-1.1 2.3 0 1.2 1.1 1.2.1 3.2 3.2 1.1 2.3 0 2.3-1.1 2.3-3.2 3.3-2.4 1.1-2.3 0zM178.5 57.3l3.5 0 1.2-1 2.3-.1 1.1-1.1.9-.1 2.6-2.3.1-1.2 2.3-3.5 0-6.9-1.1-1.2 0-1.1-1.2-1.2-.1-1-4.6-3.7-2.3 0-2-1.1-2.1 0-1.7 1.1-2.3 0-1.2 1.2-1.2.1-2.3 2.2-2.4 4.7.1 7.4 2.3 4.2 2.3 2.3 1.2.1 1.2 1.1 2.3.1zM177.6 51.5l-1.4-.3-3.2-3.2 0-6.9 3.2-3.2 1.2 0 1.1-1.2 2.4 0 2.3 1.2 1.1 0 2.1 2 .1 1.2 1 1.1 0 4.7-1 1.1-.1 1.2-2.1 2-1.1.1-1.2 1.1-3.5 0zM94 53.9l4.6.5 3.5-1.1 3.5-3.2 1.7-3.2.1-4.7-1.3-3.4-2.8-3.1-2.3-1.2-3.5-.8-4.6 1-2.4 1.6-2.7 3.6-.8 3.5.7 4.6 2.8 4 3.4 1.8zM221.4 54.2l0-20-3 1.1-2.8 2.6-1.7 3.2-.3 2.3.3 3.5 1 2.3 3.2 3.5 2.3 1.1zM14.8 52.7l4-3.8 1.2-5.5-1.2-4.1-2.6-2.8-2.1-1.2 0 17.7zM133.4 53.1l3.5.5 3.4-.4 3.5-2.3 2.4-4 .3-4.7-.9-2.3-1.8-2.6-2.9-2-4-.7-2.4.2-3.2 1.7-3 3.4-.9 3.5.8 4.6 1.5 2.3 2.9 2.4zM51.2 10.4l3.4.6 4.9-1.1 3.3-2.6 2-4.4-20.1 0 1.8 4.1 3.6 2.9zM177.4 10.3l4.6.7 4.2-1.1 3.9-3.7 1.3-3.3-20.2 0 2.7 5 2.6 2z"/><path fill="#40f4f4" stroke="#707070" stroke-width="0.35" stroke-opacity="0.18" d="M46.5 210l16.9 0-1.8-3.5-3.5-2.4-2.3-.3-3.5.1-2.3 1.1-3.5 3.4-.4 1.6zM172.7 210l17.6 0-1.3-2.6-2.4-2.3-2.3-1.1-2.3-.2-3.5.2-2.3 1.1-2.3 2.1-1.4 2.8zM52.3 183.4l2.7 0 5.5-2.3 4.6-5.1 0-1.9 1.2-2.3-.1-2.8-2.2-5.3-3.5-3.5-1.2-.2-1.2-1-4.6-1.1-2.3 1.1-2.3 0-1.2 1.2-1.2 0-3.5 3.5 0 1.2-1.1 1.1-.6 4.7.6 4.6 1.1 1.1 0 1.2 3.5 3.5 1.2.2 1.2 1 2.3.3 1 .8zM51.3 177.6l-1.3-.2-3.2-3.3-.1-1.1-1.1-1.2 0-2.3 1.1-1.2.1-1.1 3.2-3.3 1.2 0 1.1-1.1 2.3 0 1.2 1 1.2.1 3.2 3.3 1.2 2.3-.1 3.5-4.3 4.4-2.4 1.1-2.3 0zM179.7 183.4l1.9 0 1.6-1.1 2.3 0 1.1-1.2 2.4-1.2 2.3-3.4 0-1.2 1.2-1.2 0-6.9-1.2-1.2 0-1.2-2.3-3.2-3.5-2.5-5.8-1.1-2.3 1-2.3 0-3.5 2.4-1.2 1.1-.2 1.2-2.1 3.3 0 7.4 2.3 4.4 2.3 2.3 1.2 0 1.2 1.2 2.3.1 1.3 1zM177.6 177.6l-1.4-.2-3.2-3.3 0-6.9 3.2-3.3 1.2 0 1.1-1.1 2.4 0 1.5.9 1.9.2 2.1 2.1.1 1.2 1.1 1.1 0 4.7-1 1-.2 1.3-2.1 2.1-1.1 0-1.2 1.1-3.5 0zM95.2 180.1l3.4.1 3.5-1.1 3.5-3.3 1.4-2.8.1-4.7-1.5-3.8-3.6-3.1-3.6-1.2-2.3 0-3.7 1.2-3 2.8-1.6 3-.4 3.5.5 3.4 2.6 3.6 4.1 2.2zM221.4 180l0-19.3-3.5 1.4-2.3 2.3-1.4 2.8-.3 2.3.3 3.5 1 2.3 2.7 2.9 3.2 1.7zM14.4 178.7l4.4-4.2.8-3.8-.8-4.8-3.5-3.7-1.2-.3 0 17zM133.4 178.9l2.3.4 4.6-.3 3.8-2.6 2-4 .3-2.9-1.4-4.1-1.3-1.7-3.6-2.3-5.6-.3-2.3 1.1-3.5 3.5-.9 5 .7 3.4 1.4 2.1 3.2 2.5zM51.2 136.2l3.4.5 3.5-.4 2.8-1.5 2.2-2.3 1.1-2.3.4-2.3-.4-4.7-2.6-3.8-3.5-2.1-3.5-.4-3.3.5-3.6 2.3-2.3 3.5-.5 2.3.3 4.7 2.1 3.4 3.3 2.3zM177.4 136.1l3.5.6 4.6-.7 3.1-2.4 1.8-2.3 1.1-4.6-1.3-4.6-2.4-2.9-2.9-1.8-2.9-.5-4.1.5-2.2 1.2-3.3 3.5-1.1 3.4.2 3.5 2.4 4.5 3.1 2.4zM52.3 95.8l6.1-.3 3.2-2.2 2.3-4.4.3-2.7-1.4-4.1-1.1-1.7-3.6-2.4-4.6-.3-2.2.4-3.2 2.3-1.8 2.3-.9 4.7.9 3.4 1.8 2.3 3.1 2.4zM178.5 95.7l6.4-.2 4.1-3.2 1.3-2.6 0-5.8-1.1-2.3-2.2-2.3-2.7-1.4-6.3.2-3.4 2.3-1.9 2.8-.5 3 .5 4.2 3.1 3.9 2.1 1.2zM52.3 57.3l2.6 0 5.6-2.3 4.6-5.2 0-1.8 1.2-2.3-.1-2.8-2.2-5.3-3.6-3.5-2-1.1-2.6-.3-2-.9-2.6 1-2.4.2-1.1 1.1-1.2 0-3.5 3.5 0 1.2-1.1 1.1-.6 4.7.6 4.7 1.1 1 0 1.2 3.5 3.5zM51.3 51.5l-1.3-.2-3.2-3.3-.1-1.1-1.1-1.2 0-2.3 1.1-1.2.1-1.1 3.2-3.3 1.2 0 1.1-1.1 2.3 0 1.2 1 1.2.1 3.2 3.3 1.2 2.3 0 2.3-.3 1.2-4.1 4.4-2.4 1.1-2.3 0zM179.7 57.3l1.7 0 1.8-1.1 2.3 0 1.1-1.2 2.4-1.2 2.3-3.4 0-1.2 1.2-1.2 0-6.9-1.2-1.2 0-1.2-2.3-3.3-3.5-2.4-2.3-.1-3.2-1.1-2.6 1.1-2.4.1-3.4 2.3-1.2 1.1-.2 1.2-2.1 3.3 0 7.4 2.3 4.4 2.3 2.3 1.2 0 1.2 1.2 2.3.1 1.5 1zM177.6 51.5l-1.4-.2-3.2-3.3 0-6.9 3.2-3.3 1.2 0 1.1-1.1 2.4 0 3.4 1.2 2.1 2 .1 1.2 1.1 1.1 0 4.7-1.1 1.1-.1 1.2-2.1 2.1-1.1 0-1.2 1.1-3.5 0zM95.2 54l4.6-.1 2.8-1.2 3-3 1.4-2.8.1-4.7-1.2-3.4-2.6-2.7-2.3-1.3-3.5-.8-4.6 1-2.4 1.8-2.4 3.1-.7 4.7.8 3.9 2.3 3.1 4.1 2.2zM221.4 53.9l0-19.3-2.3.6-3.5 3.1-1.4 2.8-.3 2.3.3 3.5 1 2.3 3.4 3.5 2.6 1.1zM14.3 52.7l4.5-4.3.8-3.8-.8-4.8-1.8-2.2-2.9-1.8 0 17zM133.4 52.8l4.6.4 2.8-.5 3.3-2.4 2-4 .3-2.9-1.4-4.1-1.3-1.7-3.5-2.3-2.2-.4-4.1.4-2.2 1.2-3 3.1-.9 5 .7 3.4 1.4 2.1 3.2 2.6zM51.2 10.2l3.4.4 4.3-.7 3.9-3 1.6-4-19.4 0 1.5 3.7 2 2.1 2.1 1.2zM177.4 10l3.5.6 4.7-.7 4.5-4.2.9-2.8-19.5 0 2.4 4.5 3.1 2.5z"/><path fill="#30e4ec" stroke="#707070" stroke-width="0.35" stroke-opacity="0.18" d="M46.5 210l16.5 0-.2-1.3-3.3-3.3-2.3-1.2-1.4-.1-3.6.1-2.2 1.1-3.5 3.5-.1 1.2zM172.7 210l17.2 0-2.1-3.5-4.6-2.4-4.7.1-2.3 1.1-2.3 2.3-.2 1.2zM53.5 183.4l4.8-1.2 2.1-1.1 3.5-3.5 2.3-5.8 0-2.3-.8-1.2-.3-2.4-2.3-3.4-2.4-2.3-1.1-.1-1.1-1-4.7-.6-4.7.6-1.1 1.1-1.2 0-2.3 2.3-2.3 3.5-.3 4.7.3 4.6 2.3 3.5 2.3 2.3 6.9 2.3zM51.2 177.6l-1.2-.2-3.3-3.3 0-1.1-1.1-1.2 0-2.3 1.1-1.2 0-1.1 3.3-3.3 1.2-.1 1.1-1.1 2.3 0 1.2 1.1 1.2.1 3.3 3.3 1.1 2.3-.1 3.5-4.3 4.4-2.4 1.2-2.3 0zM179.7 183.4l1.2 0 2.3-1.1 2.3-.1 2.3-2.1 1.2-.4 2.3-3.3 0-1.1 1.1-1.7 0-5.6-1.1-2 0-1.1-4.6-4.7-2.1-1.1-3.7-.5-5.8.5-2.4 2-1.1.3-1.2 1.3-1.2 3.3-1.1 1.2 0 7 2.2 3.4.1 1.2 4.7 3.4 2.3.1zM177.5 177.6l-1.3-.2-3.3-3.3.1-6.9 3.2-3.3 1.2 0 1.1-1.1 2.4-.1 1.6 1 1.8.2 2.2 2.1 0 1.2 1.1 1.1 0 4.7-1 1.1-.1 1.2-2.2 2.1-1.1 0-1.2 1.2-3.5 0zM96.3 179.9l2.5 0 3.3-1.1 3.5-3.5 1.2-2.4 0-4.9-1.2-2.9-2.3-2.6-2.3-1.2-3.5-.7-4.7.8-3.4 3.3-1.3 2.5.1 6.9 2.9 3.5 4.6 2.3zM134.5 178.8l5.8 0 3.5-2.5 2.3-5.4-1.1-5-3.5-3.4-2.3-1.1-4.7 0-2.3 1.1-3.5 4.2 0 7.4 3.3 3.5 2.1 1.1zM219.1 178.8l2.3.6 0-18.3-3.5 1.4-2.3 2.3-1.2 2.5 0 5.7 1.1 2.3 3.5 3.4zM15.3 177.7l3.5-3.6.3-3.4-.3-3.8-1.1-2-2.4-2.4-1.2-.2 0 15.9zM51.2 136l6.9 0 2.4-1.2 2.3-2.3 1.2-2.3-.1-7-2.3-3.5-4.4-2.3-5 0-2.4 1.2-3.3 3.3-1.2 2.5 0 4.6 1.2 2.9 1.2 1.8 3.4 2.2zM178.5 136.1l6.2-.2 2.1-1.1 3.3-3.5 1-4.6-.8-3.5-2.5-3.6-3.5-2.2-5.8 0-2.3 1.1-3.5 3.5-1.1 3.5 0 2.5 1.1 3.4 3.3 3.4 1.9 1.1zM52.3 95.5l5 0 2.2-1.2 3.3-3.4 1.1-3.5-1.1-4.8-3.3-3.3-2.3-1.2-5 0-2.2 1.1-3.5 3.5-.4 3.5.4 4.6 3.5 3.6 2.2 1.1zM178.5 95.5l5.8 0 3.5-2.3 2.2-3.5.2-4.7-1.2-3.1-2.5-2.6-2.2-1.2-5.8 0-3.5 2.3-2.3 3.4 0 5.9 2.3 3.4zM53.5 57.3l6.9-2.3 3.5-3.5 2.3-5.8 0-2.3-.8-1.2-.3-2.4-2.3-3.4-2.4-2.3-1.1-.1-1.1-1-4.7-.6-4.7.6-1.1 1.1-1.2 0-3.4 3.5-.1 1.2-1.1 1.1-.3 4.7.3 4.6 2.3 3.5 2.3 2.3zM51.2 51.5l-1.2-.2-3.3-3.3 0-1.1-1.1-1.2 0-2.3 1.1-1.2 0-1.1 3.3-3.3 1.2-.1 1.1-1 2.3 0 1.2 1 1.2.1 3.3 3.3 1.1 2.3 0 2.3-1.1 2.3-3.3 3.3-2.4 1.2-2.3 0zM175.1 56.1l2.3.1 2.3 1.1 3.5-1.1 2.3-.1 3.5-2.6 2.3-3.1 0-1.2 1.1-1.7 0-5.6-1.1-2 0-1.1-2.3-2.8-4.3-3-3.8-.6-5.8.6-4.7 3.5-1.2 3.4-1.1 1.2 0 7 2.2 3.4.1 1.2zM177.5 51.5l-1.3-.2-3.3-3.3.1-6.9 3.2-3.3 1.2 0 1.1-1.1 2.4 0 3.4 1.1 2.2 2.1.1 1.3 1 1 0 4.7-1 1.1-.1 1.2-2.2 2.1-1.1 0-1.2 1.2-3.5 0zM96.3 53.9l2.4-.1 3.4-1.1 3.5-3.5 1.2-2.5 0-4.8-1.3-3.1-2.2-2.4-2.3-1.2-3.5-.7-4.7.8-2.3 2.1-2.3 3.2-.3 2.8.3 4.7 4.5 4.6 3.2 1.1zM134.5 52.7l5.8 0 3.5-2.5 2.3-5.4-1.1-4.9-2-2.3-3.7-2.3-4.8 0-2.3 1.1-3.5 4.2 0 7.4 3.5 3.6 2 1.1zM219.1 52.7l2.3.6 0-18.3-3.5 1.4-2.3 2.4-1.2 2.3 0 5.8 1.1 2.3 3.5 3.5zM15.3 51.6l3.5-3.7.3-3.3-.3-3.8-1.1-2-2.4-2.4-1.2-.2 0 15.9zM51.2 9.9l7 0 2.3-1.2 2.3-2.3 1.3-3.5-18.8 0 2.4 4.7 3.4 2.3zM178.5 10l6.1-.1 2.2-1.2 3.3-3.4.4-2.4-18.4 0 .6 2.4 3.5 3.6 1.8 1z"/><path fill="#20dce8" stroke="#707070" stroke-width="0.35" stroke-opacity="0.18" d="M47.7 210l14.3 0-2.7-3.5-2.3-1.1-2.4-.3-2.3.4-2.3 1.2-2.5 3.3zM175.1 210l13.5 0-2.8-3.5-3.8-1.4-3.5.5-1.6.9-2.8 3.5zM52.3 182.2l4.7-.3 4.6-2.7 2.7-3.9.9-3.5-.5-4.6-1.9-3.7-3.5-3-4.7-1.4-4.6.5-3.5 1.8-3 3.5-1.5 4.6.4 4.6 1.8 3.5 3.5 3.2 4.4 1.4zM51.2 177.6l-1.2-.2-3.3-3.3-.1-1.1-1.1-1.2 0-2.3 1.2-1.2 0-1.1 3.3-3.3 1.2-.1 1.1-1.1 2.3 0 1.2 1 1.2.2 3.3 3.3 1.1 2.3 0 3.5-4.4 4.4-2.4 1.2-2.3 0zM179.7 182.3l3.5-.3 4.6-2.5 3.1-4.2.9-3.5-.5-4.6-2.3-4.2-3.5-2.7-3.5-1.1-5.8.5-3.5 2-3.2 4.3-.9 3.5.1 3.5 2.1 4.6 1.9 2.1 2.2 1.4 3.7 1.1zM177.5 177.6l-1.3-.2-3.3-3.3 0-6.9 3.3-3.3 1.2-.1 1.1-1.1 2.4 0 1.7 1 1.7.2 2.2 2.1.1 1.2 1 1.1 0 4.7-1 1.1-.1 1.2-2.2 2.1-1.3.2-1 1-3.5 0zM95.2 178.8l3.4.2 3.5-1.4 2.4-2.3 1.5-3.5-.1-3.5-1.6-3.4-2.2-2.1-3.5-1.3-3.4.1-3.5 1.7-2.2 2.7-.9 2.3 0 3.5 1.4 3.5 2.4 2.3 2.6 1.1zM134.5 177.6l3.5.4 2.3-.7 2.7-2 1.7-3.5-.1-3.5-1-2.3-2.1-2.2-2.3-1.1-3.5-.2-2.3.8-3 2.7-1 2.3-.2 2.4 1 3.4 2 2.3 2.2 1.2zM219.1 177.7l2.3 1 0-17-2.3 1.1-2.4 2.2-1.7 4.5.9 4.6 3.1 3.5zM15.2 176.4l2.4-3.1.6-3.8-1.2-3.5-2.9-2.7 0 13.8zM51.2 134.9l3.4.8 3.5-.7 3.5-2.5 1.4-2.3.6-3.5-.8-3.6-1.5-2.2-3.4-2.3-3.3-.6-2.3.3-4.1 2.6-1.7 2.7-.6 3.1.6 3.4 1.5 2.4 2.9 2.3zM178.5 135.2l3.5.5 3.5-1 2.7-2.2 1.3-2.3.7-3.5-.8-3.5-1.6-2.4-3.5-2.3-3.4-.5-2.7.6-3.1 2-1.8 2.6-.7 2.3.1 3.4 1.8 3.6 3 2.3zM53.5 94.5l2.3.1 3.5-1.4 2.2-2.4.9-2.3.2-2.3-1.1-3.5-2.2-2.3-2.3-1.1-3.5-.2-3.2 1.3-2.2 2.3-1 2.3-.2 2.4 1.2 3.4 1.9 2.2 2.7 1.3zM179.7 94.4l3.5 0 2.3-1 2.3-2.2 1.2-2.6 0-3.6-1-2.3-2.2-2.3-2.6-1.2-3.5 0-2.8 1.2-2.2 2.3-1 2.3-.2 2.4 1.1 3.4 1.6 1.9 3.1 1.6zM52.3 56.1l4.7-.3 4.6-2.7 2.7-3.9.9-3.5-.5-4.6-1.9-3.7-3.5-3-4.7-1.4-4.6.5-3.4 1.8-3.1 3.5-1.5 4.6.2 3.5 2 4.6 3.5 3.2 4.5 1.4zM51.2 51.5l-1.2-.1-3.3-3.4-.1-1.1-1.1-1.2 0-2.3 1.2-1.2 0-1.1 3.3-3.3 1.2-.1 1.1-1.1 2.3 0 1.2 1 1.2.2 3.3 3.3 1.1 2.3 0 2.3-.2 1.2-4.2 4.5-2.4 1.1-2.3 0zM179.7 56.2l3.5-.3 4.6-2.5 3.1-4.2.9-3.5-.5-4.6-2.3-4.2-3.5-2.7-3.5-1.1-5.8.5-3.5 2-3.2 4.3-.9 3.5.1 3.5 2.9 5.6 3.3 2.5 3.9 1.1zM177.5 51.5l-1.3-.2-3.3-3.3 0-6.9 3.3-3.3 1.2 0 1.1-1.2 2.4 0 2.3 1.2 1.1 0 2.2 2.1.1 1.2 1 1.1 0 4.7-1 1.1-.1 1.2-2.2 2.1-1.3.2-1 1-3.5 0zM95.2 52.7l3.4.2 3.5-1.4 2.4-2.3 1.5-3.5-.1-3.5-1.6-3.4-2.2-2.1-3.5-1.3-3.4.1-3.5 1.7-2.2 2.7-.9 2.3 0 3.5 1.4 3.5 2.4 2.3 2.6 1.2zM134.5 51.5l3.5.4 2.3-.7 2.7-2 1.7-3.5-.1-3.5-1-2.3-2.2-2.3-2.2-1-3.5-.2-2.3.8-3 2.7-1 2.3-.2 2.4 1 3.4 2 2.3zM219.1 51.6l2.3 1 0-17-3.6 2-1.1 1.3-1.7 4.5.9 4.6 3.1 3.5zM15.1 50.3l2.1-2.3 1.1-3.4-.3-2.4-1-2.3-2.9-2.7 0 13.8zM51.2 8.8l3.4.8 4-.9 3-2.3 1.7-3.5-17.1 0 1.8 3.5 2.9 2.3zM178.5 9.1l3.5.5 3.5-1 2.7-2.2 1.7-3.5-17.1 0 1.7 3.5 3 2.3z"/><path fill="#18d4e4" stroke="#707070" stroke-width="0.35" stroke-opacity="0.18" d="M48.9 210l12.1 0-2.9-3.1-3.5-.9-3.4 1-2.6 3zM176.2 210l11.4 0-2.1-2.5-3.5-1.5-3.5.7-2.3 1.7-1 1.6zM51.2 181.1l2.3.4 4.6-1 3.7-2.9 2-3.5.6-3.4-1.1-4.7-2.9-3.5-3.4-2.1-4.7-.4-2.3.5-3.5 2.1-2 2.3-1.1 2.3-.5 4.6 1.3 4.1 3.5 3.8 3.3 1.4zM51 177.6l-1-.1-3.3-3.4-.1-1.1-1.1-1.2 0-2.3 1.1-1.2.1-1.1 3.3-3.4 1.2 0 1.1-1.1 2.3 0 1.2 1 1.2.1 4.1 4.5.3 4.7-3.3 3.7-2.3 1.5-3.5.4-1.1-.8zM178.5 181.3l3.5 0 2.3-.6 2.3-1.4 2.7-2.9 1.4-3.4.2-3.5-1-3.5-2.1-2.9-4.6-2.8-4.7-.2-3.6 1.3-2.9 2.3-2.4 4.6 0 4.7 1.5 3.4 2.8 3 3.6 1.7zM177.5 177.6l-1.3-.1-3.3-3.4 0-6.9 3.3-3.4 1.2 0 1.1-1.1 2.4 0 1.9 1 1.5.1 2.2 2.2.1 1.2 1.1 1.1 0 4.7-1.1 1.3-.1 1-2.2 2.2-1.1 0-1.2 1.1-3.5 0zM95.2 177.8l3.4.2 2.4-.8 2.3-1.9 1.7-3.5.2-2.3-1.2-3.5-1.9-2-2.3-1.3-2.3-.4-3.5.7-2.5 1.9-1.6 2.3-.5 2.3.4 3.5 1.9 2.8 2.9 1.8zM221.4 177.7l0-15-2.3 1.2-2 2.1-1.2 3.5 1.1 4.6 2.1 2.3 2.1 1.2zM134.5 176.5l2.4.7 2.3-.5 2.3-1.4 1.9-2.3.2-4.7-1.2-2.3-2.1-1.8-3.4-.8-2.4.4-2.3 1.5-1.9 3-.2 2.4.7 2.3 1.6 2.3 1.9 1.1zM15 175.3l2.2-3.5.1-2.3-1.4-3.5-1.8-1.6 0 11.6zM51.2 133.9l2.3.8 3.5-.2 2.3-1.2 2-2 1.1-2.3.2-3.5-1-2.5-2.3-2.6-2.3-1.2-3.5-.2-2.3.8-2.7 2.3-1.6 3.4.2 3.5 1.1 2.3 2.6 2.3zM178.5 134.3l3.5.4 2.3-.5 2.3-1.5 2-2.5.6-2.3-.3-3.5-1.3-2.3-2.1-2-2.3-1-3.5 0-3.5 1.8-1.9 2.3-.9 3.5.4 2.3 2 3.5 1.6 1.1zM53.5 93.5l2.3.1 2.3-.8 2.2-2 1.1-2.3 0-3.5-1.1-2.3-2.2-1.9-2.3-.8-4.6.9-2 1.8-1.1 2.3-.2 2.4.7 2.3 1.7 2.3 2.1 1.1zM179.7 93.4l2.3.3 2.3-.7 3.3-3.3.6-2.3-.6-3.5-3.3-3.3-2.3-.7-3.5.7-2.3 1.7-1.5 2.7-.3 2.4.8 2.3 2.2 2.7 1.6.7zM51.2 55l2.3.4 4.6-1 3.7-2.9 2-3.5.6-3.4-1.1-4.7-2.7-3.4-3.6-2.2-4.7-.4-2.3.5-3.5 2.1-2 2.3-1.1 2.3-.5 4.6 1.3 4.1 3.5 3.8 3.3 1.4zM51.1 51.5l-1.1-.1-3.3-3.4-.1-1.1-1.1-1.2 0-2.3 1.1-1.2.1-1.1 3.3-3.4 1.2 0 1.1-1.1 2.3 0 1.3 1 1.1.1 4.1 4.5.2 4.7-2 2.5-3.5 2.6-3.5.5-1.1-.9zM178.5 55.2l3.5 0 2.3-.6 3-1.9 2.6-3.5 1-3.5-.2-3.5-2.3-4.6-4.1-3-2.3-.6-4.6.2-3.5 1.7-1.9 1.7-2.4 4.6 0 4.7 1.5 3.4 2.8 3 3.7 1.7zM177.5 51.5l-1.3-.1-3.3-3.4 0-6.9 3.3-3.4 1.2 0 1.1-1.1 3.5.2.9.8 1.4.1 2.2 2.2.1 1.2 1.1 1.1 0 4.7-1.1 1.3-.1 1-2.2 2.2-1.1 0-1.2 1.1-3.5 0zM95.2 51.7l3.4.2 2.4-.8 2.3-2 1.7-3.4.2-2.3-1.2-3.5-1.9-2-2.3-1.3-2.3-.4-3.5.7-2.5 1.9-1.6 2.3-.5 2.3.4 3.5 1.9 2.8 2.9 1.8zM221.4 51.6l0-15-2.3 1.2-2 2.1-1.2 3.5 1.1 4.6 2.1 2.3 2.1 1.2zM134.5 50.4l2.4.7 2.3-.5 2.3-1.4 1.9-2.3.2-4.7-1.2-2.3-2.1-1.8-3.4-.9-2.4.5-2.3 1.5-1.9 3-.2 2.4.7 2.3 1.4 2.1 2.2 1.3zM15 49.2l2.2-3.5.1-2.3-1.4-3.5-1.8-1.6 0 11.6zM51.2 7.7l2.3.9 3.5-.2 3.3-2 2.1-3.5-15.3 0 1.8 3.1 1.9 1.5zM178.5 8.2l4.7.3 2.3-1 2.3-2.3 1.1-2.3-15.1 0 1.3 2.6 2.3 2z"/><path fill="#10b0e8" stroke="#707070" stroke-width="0.35" stroke-opacity="0.18" d="M50 210l10.3 0-2.2-2.4-2.3-.9-3.5.4-3.1 2.9zM176.2 210l10.8 0-2.7-2.7-2.3-.6-3.5.5-2.8 2.8zM50 180.3l3.5.6 3.5-.5 3.4-2.1 2.9-4.2.4-4.6-.5-2.3-2.8-4.1-3.4-2-2.4-.6-3.4.2-4.7 2.7-2 2.6-1.1 3.5.2 3.5 2.5 4.6 3.3 2.3zM50.7 177.6l-.7-.1-3.4-3.4 0-1.1-1.1-1.2 0-2.3 1.1-1.2 0-1.1 3.4-3.4 1.2-.1 1.1-1.1 2.3 0 2.4 1.2 4.2 4.5.3 4.7-2.2 2.8-3.5 2.6-3.5.3-1.1-.6zM176.2 180l2.3.8 4.7-.3 3.2-1.8 2.9-3.4 1.1-4.6-.6-3.5-1.2-2.3-3.1-3-3.5-1.3-4.6.2-3.5 1.9-2.8 3.3-1.2 4.7 1.1 4.6 1.8 2.3 3.2 2.3zM177.4 177.6l-1.2-.1-3.4-3.4.1-6.9 3.3-3.4 1.2 0 1.1-1.2 2.4 0 2 1.1 1.4.1 2.3 2.2 0 1 1.1 1.3 0 4.7-1.1 2.3-2.3 2.2-1.1 0-1.2 1.2-3.5 0zM94 176.7l2.3.7 3.5-.3 2.3-1.5 2-2.6.3-3.5-.4-2.3-3-3.3-2.4-.9-3.4.1-3.9 2.9-1.4 3.5.2 2.3.9 2.3 2.6 2.3zM136.9 176.5l2.3-.4 2.3-1.5 1.7-2.8.1-1.1-.2-2.4-1.4-2.3-3.7-2-2.3.1-2.3 1-1.9 2.1-.8 2.3.2 2.3 1.3 2.5 2.3 1.7 2.1.4zM221.4 177.2l0-13.9-3.5 2.8-1.2 3.1.3 3.8 1.6 2.3 1.7 1.1zM15.3 174.2l1.2-2.4.2-2.3-.8-2.3-1.8-2 0 10.1zM53.5 134.1l4.6-.7 3.2-3.2.7-2.3 0-2.4-.8-2.3-3.1-2.9-3.5-.6-2.3.3-2.3 1.3-1.6 1.9-.9 3.5.7 3.5 2 2.3 2.2 1.1zM179.7 134l2.3.2 2.3-.7 2.8-2.2 1.3-2.3.3-2.3-.5-2.3-1.5-2.3-2.4-2-2.3-.4-3.5.4-2.3 1.6-1.8 2.7-.1 4.6 1.9 3 2.8 1.6zM52.3 92.6l2.3.4 2.4-.3 2.3-1.5 1-1.5.8-2.3-.2-2.4-1.3-2.3-1.5-1.2-2.3-.9-3.5.4-3.1 2.9-.8 3.5.8 2.3 2.1 2.3zM178.5 92.5l4.7.3 2.3-1.3 1.5-1.8.6-2.3-.2-2.4-1.3-2.3-1.8-1.5-2.3-.6-3.5.5-2.8 2.8-.6 2.3.2 2.3.9 1.9 1.7 1.6zM50 54.2l3.5.6 3.5-.5 3.4-2.1 2.9-4.2.4-4.6-.5-2.3-2.8-4.1-3.4-2.1-2.4-.5-3.4.2-4.7 2.7-2 2.6-1.1 3.5.2 3.5 2.5 4.6 3.3 2.3zM50.8 51.5l-.8-.1-3.4-3.4 0-1.1-1.1-1.2 0-2.3 1.1-1.2 0-1.1 3.4-3.4 1.2-.1 1.1-1 2.3 0 2.4 1.1 4.3 4.5.1 4.7-2.1 2.8-3.5 2.5-3.5.4-1.1-.7zM176.2 53.9l3.5.9 3.5-.4 3.1-1.7 3-3.5 1.1-4.6-.6-3.5-1.2-2.3-3.1-3-3.5-1.3-4.6.2-3.5 1.9-2.8 3.3-1.2 4.7 1.1 4.6 3.1 3.5 2 1.1zM177.4 51.5l-1.2-.1-3.4-3.4 0-6.9 3.4-3.4 1.2 0 1.1-1.1 3.5.1 1.2 1 1.1 0 2.3 2.2 0 1 1.1 1.3 0 4.7-1.1 2.3-2.3 2.2-1.1 0-1.2 1.2-3.5 0zM94 50.6l3.5.8 2.3-.4 2.3-1.5 2-2.6.3-3.5-.4-2.3-3-3.3-2.4-.9-3.4.1-3.9 2.9-1.4 3.5.2 2.3 1.9 3.5 1.6 1.1zM136.9 50.4l2.3-.4 2.3-1.5 1.7-2.8.1-1.1-.2-2.4-1.4-2.3-3.7-2-2.3.1-2.3 1-1.9 2.1-.8 2.3.2 2.3 1.3 2.5 2.3 1.7 2.2.4zM221.4 51.1l0-13.9-3.5 2.8-1.2 3.1.3 3.8 1.6 2.3 1.7 1.1zM15.3 48.1l1.2-2.4.2-2.3-.7-2.3-1.9-2 0 10.1zM53.5 8l4.6-.7 3.2-3.2.3-1.2-13.7 0 .3 1.2 1.8 2.1 2.5 1.3zM179.7 7.8l2.3.3 2.3-.7 2.8-2.2 1.3-2.3-14.1 0 1.9 3 2.8 1.6z"/><path fill="#1a88e8" stroke="#707070" stroke-width="0.35" stroke-opacity="0.18" d="M50 210l9.8 0-1.7-1.9-3.5-1-2.3.5-2.6 2.4zM177.4 210l9 0-2.1-2.1-2.3-.8-3.5.6-2.2 2.3zM51.2 180.2l4.6.1 3.5-1.7 2.3-2.3 1.6-3.3.1-3.5-1.1-3.5-1.8-2.3-4.6-2.6-3.5-.2-3.4 1.2-3.9 3.9-.9 2.3-.3 3.5 1.1 3.5 1.6 2.1 3.9 2.5zM50.4 177.6l-3.8-3.5-.1-1-1.1-1.3 0-2.3 1.2-1.2 0-1.1 3.4-3.4 2.3-1.2 2.3 0 4.7 2.9 2.1 2.8.1 4.7-1.1 1.1-.3 1.2-4.3 3.2-3.5.2-1.1-.4zM177.4 180.1l4.6.3 3.5-1.5 2.3-2.1 1.6-2.7.4-3.4-.4-3.5-2.8-3.9-4.6-2.3-3.5 0-3.4 1.3-2.4 2.1-1.6 2.8-.7 3.7 1.1 4.4 2.4 2.9 3.1 1.7zM177.4 177.6l-1.2-.1-3.4-3.4 0-6.9 3.4-3.4 1.2-.1 1.1-1.1 3.5.1 1 1 1.3.1 2.3 2.2 1.1 2.3 0 4.7-1.1 2.3-2.3 2.2-1.2.1-1.1 1.1-3.5 0zM95.2 176.9l4.6-.2 2-1.4 1.8-2.3.3-4.7-1.2-2.3-1.7-1.6-2.4-1-2.3-.1-3.3 1.6-1.9 2.3-.8 3.5.7 2.3 1.6 2.3 1.8 1.1zM221.4 176.7l0-12.9-1.2.5-2.6 2.9-.6 3.5.9 2.9 3.1 2.8zM134.5 175.5l3.5.5 1.9-.7 2.2-2.3.8-2.3-.3-2.4-1.1-1.8-2.3-1.7-3.5-.3-2.3 1.2-1.4 1.5-.8 2.3.2 2.3.8 1.7 2 1.8zM14.7 174.1l.9-1.1.7-3.5-1-2.5-1.2-1.3 0 9zM54.6 133.7l2.4-.4 2.3-1.3 1.6-1.8.6-2.3 0-2.4-.9-2.3-1.3-1.6-2.3-1.3-2.4-.3-2.3.4-2.3 1.5-1.7 2.5-.4 2.3.8 3.5 2.5 2.6 2.9.8zM180.9 133.7l3.4-.6 2.2-1.8 1.4-2.3.4-2.3-1.1-3.5-1.7-1.8-1.2-.8-3.4-.6-2.4.5-1.1.8-1.8 1.9-1.1 2.3.2 3.5 1.4 2.3 2.4 1.8 2.1.5zM52.3 92.1l2.3.5 2.4-.4 2.3-1.7 1.1-2 0-3.5-1.1-1.9-2.3-1.7-2.4-.4-2.3.5-2.6 2.4-.8 2.3.3 2.3.8 1.6 2.1 1.9zM179.7 92.4l2.3.2 2-.6 1.6-1.2 1.3-2.3.2-2.3-.7-2.3-.8-1.2-2.4-1.4-2.3-.3-2.4.6-2.3 2.4-.6 2.2.2 2.3 1.3 2.3 1.6 1.2zM51.2 54.1l4.6.1 3.3-1.5 2.5-2.5 1.6-3.3 0-4.7-1-2.3-1.8-2.3-4.6-2.6-3.5-.1-3.4 1.1-3.9 3.9-.9 2.3-.3 3.5 1.1 3.5 3.2 3.5 2.4 1.1zM50.5 51.5l-3.9-3.5-.1-1.1-1.1-1.2 0-2.3 1.1-1.1.1-1.2 3.4-3.4 2.3-1.2 2.3 0 3.5 1.8 1.8 1.6 1.5 2.3.1 4.7-3.4 4.2-2.3 1.3-3.5.2-1.1-.4zM177.4 54l4.6.3 3.5-1.5 2.3-2.1 1.6-2.7.4-3.4-.4-3.5-2.8-3.9-4.6-2.3-3.5 0-3.4 1.3-2.4 2.1-1.6 2.8-.7 3.3.6 3.6 2.9 4.1 3.1 1.7zM177.4 51.5l-1.2 0-3.4-3.5 0-6.9 3.4-3.4 1.2-.1 1.1-1.1 3.5.1 1.2 1.1 1.1 0 2.3 2.2 1.1 2.3 0 4.7-1.1 2.3-2.3 2.3-1.2 0-1.1 1.1-3.5 0zM95.2 50.8l4.6-.3 2-1.3 1.8-2.3.3-4.7-1.2-2.3-1.7-1.6-2.4-1-2.3-.1-3.3 1.6-1.9 2.3-.8 3.5.7 2.3 1.6 2.3 1.9 1.1zM221.4 50.6l0-12.9-3 2.2-1.4 3.5.5 3.5 1.8 2.3 1.7 1.1zM134.5 49.4l3.5.5 2.3-1 1.8-2 .8-2.3-.3-2.4-1.5-2.3-1.9-1.2-3.5-.3-2.3 1.2-1.4 1.5-.8 2.3.2 2.3.8 1.7 2 1.8zM14.7 48l.9-1.1.7-3.5-1-2.5-1.2-1.3 0 9zM54.6 7.6l4.1-1.2 2.2-2.3.3-1.2-13 0 1.8 2.9 1.2.9 3 .8zM180.9 7.6l2.3-.2 2-1 2.7-3.5-13.2 0 2.8 3.5 3.2 1.1z"/><path fill="#1060e8" stroke="#707070" stroke-width="0.35" stroke-opacity="0.18" d="M51.2 210l8.1-.1-2.3-2-2.4-.4-2.3.5-2.1 2zM177.4 210l8.5 0-1.6-1.6-2.3-.9-3.5.5-1.9 2zM52.3 180l3.3-.1 2.5-1 3.5-3.3 1.2-2.6 0-4.6-1.2-2.6-3.5-3.4-3.5-1.1-2.3 0-3.4 1.2-3.5 3.6-1.2 3.6 0 2.1 1.1 3.5 3.4 3.4 3 1.2zM50.2 177.6l-1.3-.5-1.8-1.8-1.4-2.3-.3-3.5 2-3.5 3.8-3.1 4.6-.2 3.5 2.4 2.2 3.2.1 4.7-1.2 1.1-.1 1.2-2.2 2.2-1.2.1-1.1 1.1-4.6-.1zM178.5 180l3.5 0 2.8-1.3 1.8-1.1 2.4-3.4 0-6.9-2.7-3.6-4.7-2.3-3 0-2.9 1.2-3 2.3-1.2 2.3.1 7.3 2.3 3.2 4.3 2.2zM176.7 177.6l-3.9-3.5-.8-3.4.8-3.5 3.4-3.5.9 0 1.4-1.1 3.5 0 1.1 1.1 1.2 0 3.3 3.5.1 6.9-3.4 3.5-2.3 1.1-4.6-.4zM95.2 176.4l2.3.3 2.3-.5 1.5-.9 1.9-2.3.3-4.7-1.2-2.3-2.5-1.9-2.3-.5-2.3.4-2.8 2-1.4 2.3-.2 2.4.6 2.3 1.5 2.1zM135.7 175.5l3.5-.3 1.5-1.1 1.6-2.3 0-3.5-3.1-3.1-2.3-.4-2.4.4-2 2-1 2.3.8 3.5 2.9 2.3zM220.2 175.6l1.2.7 0-12.2-1.2.6-2.2 2.5-.8 3.5.7 2.3 2 2.3zM14.2 174.1l1.1-1.5.7-3.1-1.9-3.3 0 8zM52.3 132.8l3.5.5 2.3-.8 2.3-2.3.8-2.3 0-2.4-1.9-3.4-2.3-1.4-2.4-.5-2.3.6-2.3 1.7-1.3 1.9-.5 2.3.4 2.3 1.4 2.4 1.5 1.1zM178.5 132.7l1.2.5 3.5 0 2.3-1.5 2-2.7.4-2.3-.5-2.3-.6-1.2-2.5-2.2-3.4-.7-2.4.6-3.2 3.5-.5 2.3.4 2.3 3 3.5zM53.5 92l3.5-.2 3.1-3.3 0-3.5-3.1-3.2-2.4-.4-2.3.5-2.1 2-1 2.3 1 3.5 2.1 2 1 .3zM180.9 92.2l3.4-.9 1.6-1.6.8-2.3-.2-2.4-1-1.7-3.5-1.9-3.5.6-1.9 1.9-.4 1.1-.2 2.4.6 2.3 1.9 1.9 1.5.4zM52.3 53.9l2.3.1 3.8-1.3 3.2-3.2 1.2-2.6 0-4.6-1.2-2.6-3.5-3.4-3.5-1.1-2.3 0-3.4 1.2-3.5 3.5-1.2 3.7 0 2.1 1.2 3.5 3.3 3.5 3 1.1zM50.2 51.5l-2-1.2-2.4-3.4-.4-1.2.4-3.5 1.6-2.3 3.8-3.2 4.6-.1 3.5 2.4 2.2 3.2.1 4.7-1.2 1.1-.1 1.2-2.2 2.2-1.2.1-1.1 1.1-4.6-.1zM178.5 53.9l3.5 0 2.8-1.2 1.8-1.3 2.4-3.3 0-6.9-2.7-3.6-4.6-2.3-3.2 0-2.8 1.2-3 2.3-1.2 2.3.1 7.3 2.3 3.2 4.4 2.2zM176.8 51.5l-.6 0-3.4-3.5-.8-3.4.8-3.5 3.4-3.5 2.3-1.1 3.5 0 1.2 1.1 1.1 0 3.3 3.5.1 6.9-3.4 3.5-2.3 1.1-4.6-.4zM96.3 50.6l2.3-.1 2.7-1.3 1.9-2.3.3-1.2 0-3.5-1.2-2.3-1.3-1.2-2.4-1-2.3-.1-2.3.9-1.6 1.4-1.4 2.3-.2 2.4.6 2.3 1.5 2.1 2.3 1.3zM135.7 49.4l3.5-.3 1.5-1.1 1.6-2.3 0-3.5-3.1-3.1-2.3-.4-2.4.4-2.6 3.1-.4 2.4.7 2 3 2.6zM220.2 49.5l1.2.7 0-12.2-2.5 1.9-1.7 3.5.7 3.5 2 2.3zM14.1 48l1.9-3.4-.5-2.4-1.4-2.1 0 8zM52.3 6.7l2.3.6 3.5-.9 2.3-2.3.4-1.2-12.2 0 1.4 2.4 1.6 1.1zM178.5 6.6l1.2.5 3.5 0 2.3-1.5 2-2.7-12.3 0 3 3.5z"/><path fill="#0000e6" d="M51.2 210l7.6 0-1.8-1.7-2.4-.3-2.3.3-1.7 1.7zM177.4 210l8 0-2.2-1.8-1.2-.2-3.5.4-1.6 1.6zM95.2 176l4.6-.2 3-2.8.4-3.5-.5-2.3-2.9-2.8-4.6 0-3.5 3.1-.6 2 .1 2.3 1.1 2.3 1.7 1.2zM221.4 175.9l0-11.5-3 2.8-.9 3.5.8 2.3 2.1 2.3zM134.5 174.7l4.7.1 2.8-3 0-3.5-2.8-2.8-4.7 0-1.7 1.7-1 3.5 2 3.4zM14.7 173l1-3.5-1.6-2.9 0 7.1zM53.5 132.9l2.3.1 2.3-1 1.9-1.8.9-2.3 0-2.4-1.6-3-1.2-.9-3.5-1.1-2.3.8-3.1 3.1-.8 2.3 1.1 3.5 3 2.3zM179.7 132.9l4.3-.4 3.2-3.5-.1-4.6-2.8-3-3.4-.9-2.4.9-2.8 3-.1 4.6 3.2 3.5zM52.3 91.4l4.7 0 2.3-2.2.4-4.2-1.9-2.3-2-.7-2.3 0-1.2.2-1.7 1.7-1.1 2.3 0 1.2 2.1 3.4zM178.5 91.3l4.7.2 2.3-1.9.6-1.1 0-3.5-1.9-2.3-3.3-.8-2.4.4-1.6 1.6-.4 3.5.4 2.3 1.1 1.1zM95.2 49.9l4.6-.1 3-2.9.4-3.5-.5-2.3-2.9-2.8-4.6 0-3.5 3.1-.6 2 .1 2.3 1.1 2.3 1.8 1.2zM221.4 49.8l0-11.5-3 2.8-.9 2.3.8 3.5 2.1 2.3zM134.5 48.6l4.7.1 2.8-3 0-3.5-2.8-2.8-4.7.1-1.7 1.6-1 3.5 2 3.4zM14.7 46.9l1-3.5-1.6-2.9 0 7.1zM53.5 6.9l2.3 0 2.3-1 1.9-1.8.3-1.2-11.2 0 .9 1.9 2.5 1.6zM179.7 6.8l4.3-.4 3.2-3.5-11.6 0 3.2 3.5z"/><path fill="none" stroke="#303030" stroke-width="0.5" stroke-opacity="0.7" d="M43 210l1-1.2 1.3-3.4 2.4-2.4 1.2-.1 1.1-1.1 3.5-.3 1.1-.7 2.4.9 2.3.1 1.1 1.1 1.2.1 3.5 3.5 1.2 3.5zM170.3 210l.1-2.4 2.1-2.2.3-1.2 1.1-.2 2.3-2.1 3.5-.2 1.2-.9 1.1 0 1.2.9 3.3.2 1.4 1.1 4.5 4.7.2 2.3zM221.4 182.3l-2.4-.1-1.1-1-1.2-.1-3.4-3.5-.1-1.2-1.1-1.1-.1-2.3-1-2.2 1.1-5.9 2-2.3.3-1.2 3.5-2.4 3.5-1.2zM14.1 159l1.2.1 4.6 3.4.1 1.2 1.1 1.1 1.2 3.5-.1 4.7-1 1.1-1.2 3.5-2.4 2.3-1.2.2-1 1-1.3.1zM221.4 56.3l-2.4-.2-1.1-1-1.2-.1-3.4-3.5-.1-1.2-1.1-1.1-.1-2.3-1-2.2 1.1-5.9 2-2.3.3-1.2 3.5-2.4 1.2-.1 1.1-1 1.2 0zM14.1 32.9l3.4 1.3 2.4 2.3 2.4 5.7-.1 4.7-1 1.1-1.2 3.5-2.4 2.4-1.2.1-1.1 1.1-1.2 0zM67.4 2.9l-.1 1.2-1 1.1 0 1.2-2.4 3.5-3.4 2.3-2.4.4-1.1.8-4.7-.1-1.1-.9-2.4-.2-5.7-5.8-.2-2.3-.9-1.2zM193.7 2.9l-.1 2.2-2.3 3.7-2.3 2.2-5.8 2.4-4.7-.1-1.1-1-1.4-.1-2.1-1.1-3.5-3.5-.1-1.2-1.1-1.2-.1-2.3zM116 186.9l-1.1-1.2-1.2 0-1.2-1.1 0-1.2-1.1-1.2 0-1.1-1.2-1.2-4.6.1-3.5 2.2-2.3.2-6.9-.1-1.2-1.1-1.2-.1-4.6-4.7-.2-2.3-1-1.1 0-5.8 1.1-1.2 0-1.1 1.2-2.3 3.5-3.5 1.2-.1 1.4-1.1 7.9 0 3.4 2.2 1.2.1 1.2 1.2.2 1.2 2.1 2.3.2 3.4 4.4 4.6 1.8-1.1 2.8 0 2.4 2.3 0 1.2 1.1 1.1 2.3-2.3 0-1.1 1.1-1.2 0-4.6 1.1-1.2 1.3-3.5 2.3-2.3 1.2-.1 1.1-1.1 3.5-.1 1.2-.9 1.1.8 3.5.2 1.1 1.1 1.2.1 3.5 3.5.1 1.2 1 1.1.1 8.1-1.1 1.2-.1 1.2-4.6 4.6-2.4.1-1.1 1-4.7 0-1.1-1-1.2 0-1.1-1.1-5.8-.2-2.3-2.3-1.2 1.1 0 3.5-1.1 1.2 0 1.1-1.2 1.2-1.2 0-1.1 1.2zM51.2 183.5l-1.2-.9-2.3-.3-5-4.7-.1-1.2-1-1.1-.1-2.3-.9-1.2 0-2.3.9-1.2.1-2.3 1-1.1.1-1.2 3.8-3.8 1.2-.1 1.2-1.1 2.3-.2 1.1-.8 2.3-.1 2.4 1.1 2.3.3 5.8 5.6.4 2.6 1 1.1 0 4.7-1 1.1-.2 2.3-2.1 2.3-.4 1.2-1.2.4-2.3 2.2-2.3.1-1.2 1-3.5.1zM178.5 183.7l-3.4-1.1-1.2-1.2-1.2 0-3.6-3.8-1.3-3.5 0-6.9 1.4-3.5 3.5-3.7 1.2-.1 1.2-1.1 2.3-.1 1.1-1 2.4-.1 2.3 1.1 2.3.1 1.1 1.1 1.2.2 2.6 2.5.1 1.1 2.2 3.5.1 6.9-1.1 1.2-1.3 3.4-2.3 2.4-1.5.3-1.1 1.1-2.3.2-1.2 1zM52.3 178.3l2.3 0 1.2-1 1.2-.2 3.9-4.1.2-1.2 0-2.3-1.1-2.3-3-3-1.2-.1-1.2-1.1-2.3.1-1.1 1-1.2.1-3 3 0 1.1-1.1 1.2 0 2.3 1.1 1.2 0 1.1 3 3 1.6.5zM178.5 178.2l3.5 0 1.2-1.1 1.1 0 1.9-1.8.1-1.2 1-1.1 0-4.7-1.1-1.1-.1-1.2-1.8-1.8-2.3-.3-1.1-.9-2.4.1-1.1 1.1-1.2 0-2.8 3-.1 6.9 2.9 3 1.7.5zM52.3 139.4l-1.1-.9-2.4-.2-5.7-5.8-.2-2.3-1-1.4 0-3.4 1.1-3.3 2.3-3.5-1.1-1.1 0-3.5-1.1-1.2-1.2 0-1.1-1.1-1.2 0-1.2-1.2 0-5.8 3.5-2.3 3.5 0 1.1-1.2-2.3-2.3 0-3.5 1.1-1.1-1.1-1.8-.2-1.7-1-1.1 0-5.8 1-1.2 1.3-3.4 2.4-2.4 1.2-.1 1.1-1 5.8-1.1 1.2.9 2.3.1 1.1 1.1 1.2.1 3.5 3.5.1 1.2 1 1.1.1 8.1-1.1 1.2-.1 1.2-3.5 3.5-1.2.1-1.1 1.1-2.3.1-1.2.9-3.5 0-2.3 2.4-1.1 0-1.2 1.1 1.2 1.1 1.1 0 2.3 2.4 0 3.5-1.1 1.1 3.4 3.4 2.4.9 3.3.3 5.9 5.8.2 2.3 1 1.1 0 5.6-1.1 1.4 0 1.2-1.1 1.1-.1 1.1-2.4 2.4-5.5 2.3-3.7.1zM178.5 139.4l-1.1-1-1.5-.1-2-1.1-3.5-3.5-.1-1.2-1.1-1.2.1-9.2 2.2-3.5 0-1.2-1.1-1.1 0-2.3-1.1-1.2-1.2 0-3.5-3.4 0-3.6 2.4-2.3 1.1 0 1.1-1.1 2.4 0 1.1-1.2-1.1-1.1 0-1.2-1.2-1.1 1.2-2.3-.1-2.4-1.1-1.1-.2-2.3-.9-1.2 0-3.5 1-1.1.1-2.4 2.1-2.2.2-1.2 1.2-.2 2.3-2.1 3.5-.2 1.2-.9 1.1 0 1.2.9 3.4.2 4.8 4.6 1 1.2.2 3.4 1 1.2 0 1.2-1 1.1-.2 3.5-5.7 5.8-2.4.1-2.3 1.1-3.5-.1-3.7 3.5 3.8 3.5 0 3.4-1.2 1.2 1.1 1.1 1.2 0 0 1.2 1.2 1.1 2.3.1 1.1 1 2.4.1 1.1 1.1 1.2.1 2.3 2.3.1 1.2 2.2 3.3.1 7.1-1.3 3.4-3.4 3.5-1.2.2-1 1-1.3.1-1.2 1zM116 60.8l-1.1-1.2-1.2 0-1.2-1.1 0-1.2-1.1-1.2 0-1.1-1.2-1.1-4.6 0-3.5 2.2-2.3.2-6.9-.1-1.2-1.1-1.2-.1-4.6-4.7-.2-2.3-1-1.1 0-5.8 1.1-1.2 0-1.1 1.2-2.3 3.5-3.5 1.2-.1 1.3-1.1 8 0 3.4 2.2 1.2.1 1.2 1.2.2 1.2 2.1 2.3.2 3.4 4.4 4.7 1.6-1.2 3 0 2.4 2.3 0 1.2 1.1 1.1 2.3-2.3 0-1.1 1.1-1.2 0-4.6 1.1-1.2 1.3-3.5 2.3-2.3 1.2-.1 1.1-1 3.5-.3 1.2-.8 1.1.7 3.5.3 1.1 1.1 1.2.1 3.5 3.5.1 1.2 1 1.1.1 8.1-1.1 1.2-.1 1.2-4.7 4.6-2.3.1-1.1 1-4.7 0-1.1-1-1.2 0-1.1-1.1-5.8-.2-2.3-2.3-1.2 1.2 0 3.5-1.1 1.1 0 1.1-1.2 1.2-1.2 0-1.1 1.2zM51.2 57.4l-1.2-.9-2.3-.3-5-4.7-.1-1.2-1-1.1-.1-2.3-.9-1.2 0-2.3.9-1.2.1-2.3 1-1.1.1-1.2 3.8-3.8 1.2-.1 3.6-1.9 4.6 0 1.1.8 2.3.3 5.8 5.6.4 2.6 1 1.1 0 4.7-1 1.1-.2 2.3-2.2 2.4-.3 1.1-1.2.4-2.3 2.2-2.3.1-1.2 1-3.5.1zM178.5 57.6l-5.8-2.3-3.6-3.8-1.3-3.5 0-6.9 1.4-3.5 3.5-3.7 1.2-.1 1.2-1.1 2.3-.1 1.1-1 3.5 0 1.2 1 2.3.1 1.1 1.1 1.2.2 2.6 2.5.1 1.1 2.2 3.5.1 6.9-2.3 3.5-.1 1.2-2.6 2.5-1.2.1-1.1 1.2-2.3.1-1.2 1zM52.3 52.2l2.3 0 1.2-1 1.2-.2 3-3 1.1-2.3 0-2.3-1.1-2.3-3-3-1.2-.1-1.2-1-2.3 0-1.1 1.1-1.2 0-3 3 0 1.1-1.1 1.2 0 2.3 1.1 1.2 0 1.1 3 3 1.6.5zM178.5 52.2l3.5 0 1.2-1.2 1.1 0 1.9-1.8.1-1.2 1-1.1 0-4.7-1.1-1.1-.1-1.2-1.8-1.8-3.4-1.1-2.4 0-1.1 1.1-1.2 0-2.9 3 0 6.9 2.9 3 1.7.5z"/></g><clipPath id="cb"><rect x="345.3" y="9.6" width="195.7" height="195.4"/></clipPath><g clip-path="url(#cb)"><rect x="345.3" y="9.6" width="195.7" height="195.4" fill="#fc4880"/><path fill="#fc0010" stroke="#707070" stroke-width="0.35" stroke-opacity="0.18" d="M342.6 208.8l23.3 0 .6-3.5 3.4-5.2 6.8-4.9 3.4-1.2 3.4.2 6.9 3.2 3.4 3 2.2 3 1.2 2.6.4 2.8 90.3 0 1.2-4.6 3.3-4.5 4.7-3.5 5.3-2.2 2.8 0 3.2 1.1 5.7 3.4 2.4 2.4 2.2 3.3 1.2 4.6 24.9 0 0-51.8-4.6.9-3.4 2.2-3 3.3-1.5 3.4 0 6.8 1.4 3.4 4.3 4.5 3.4 2.1 1.3.2.2 1.2-4.1 0-4.3-2.3-2.2-2.2-3.4-6.8-.3-3.5.3-3.4 1.1-2.8 3.4-5.2 4.6-3.3 3.4-1.2 3.4-.1 0-118.9-3.4.3-4.6 2.5-3.3 4-1.1 2.3-.3 3.4.3 4.5 1.1 2.3 3.3 4.1 6.3 3.8-.6.6-4.9-.6-4.2-3-3.4-4.8-1.3-4.7.1-4.5 1.2-3.5 1.1-2.2 2.3-2.7 3.4-3 2.3-1.1 5.7-1.1 0-26.1-24.8 0-.2 4.4-1.1 2.8-2.9 4.2-3.9 3.4-6.9 2.3-3.4-.1-3.2-1.1-2.5-1.1-3.4-2.9-2.3-2.8-1.1-2.5 0-4.3 1.2.3 2.7 5.3 3 3 4.5 2.3 4.5.4 4.6-1.3 4.1-3.2 2.3-3.4 1.2-5.7-119.3 0-.7 5.8-2.3 4.4-3.4 3.4-2.1 1.2-7 2.3-2.3 0-3.4-1.1-4.5-2.3-3.5-3.5-1.1-2.1-1.1-4.8 1.1-1.1 2.4 4.6 5.6 5.3 3.4 1.3 5.7 0 4.5-2.2 3.3-3.3 2.2-4.5.2-3.4-53.4 0 0 26 3.9 1.2 5.2 3.8 3.5 5.3 1.2 3.4.2 2.3-.3 3.4-4.6 7.9-4.5 3.4-4.6 1.3 0 90.2 2.3.3 4.6 2.3 3.4 3.4 3.4 6.8.3 2.3-.4 3.8-1.1 3-2.1 3.4-4.7 4.5-2.3 1.2-3.4.6 0 23.2zM377.4 190.6l-5.2-1-3-1.2-3.3-2.3-2.8-3.2-2.4-5.9-.7-6.8.8-7.1 1.1-3.1 2.3-3.8 3.4-3.1 1.9-1 2.7-1.1 7.9-.9 8 .8 3.4 1.3 3.4 2.2 3.4 4.4 2.3 8.9 0 5.2-1.2 5.9-1.1 2.9-2.2 3.3-4.6 3.4-9.1 2.5-4.5-.2zM499.3 190.6l-8-2.2-2.2-1.2-3.4-3.3-2.3-4.6-1.1-5.2 0-7.6 1.2-5.4 3.3-5.6 4.6-3.4 3.4-1.2 8-.8 7.9 1 4.7 2.1 3.5 3.4 2.1 3.4 1.3 5.7-.2 11.5-2.2 5.5-4.6 4.7-4.5 2.1-4.6 1.2-6.8 0zM416.4 185l-2.2-1.1-3.4-2.9-2.3-2.8-.9-2.3-1.4-5.8 2.3-7.6 5.5-5.9 4.7-2.1 8-.2 3.3 1.2 4.7 3.4 2.2 3.2 1.2 2.5-.1 6-1.1.2-1.4-5.1-1.3-2.3-4.1-4.2-2.3-1.2-4.5-1-4.6.8-2.2 1.1-3 2.3-2.5 3.4-1.3 4.5.4 4.5 2.2 4.6 3 3 3.4 2.2 1.8.4.5 1.2-4.5 0zM457 185l-1-1.2 5.9-.2 4.5-1.3 4.1-3 2.6-3.4 1.2-3.4.1-4.5-1.5-4.6-5.3-5.4-3.4-1.4-3.4-.3-3.5.3-3.4 1.4-5.4 5.4-1.4 3.3-1.1.3 0-2.9 1.1-3 5.7-5.6 3.4-1.3 3.4-.5 6.6.7 4.8 2.8 3.4 3.7 2.5 4.8.9 3.3-.1 2.4-2.2 5.7-2.2 3.3-2.3 2.3-4.3 2.3-2.5.5-2.3.4-4.6-.8zM377.6 144.2l-4.5-2.3-2.9-2.3-2.6-3.6-1.1-4.7 1.1-1.1 3.6 6 3.2 3 2.3 1.2 5.7 1 4.5-1.1 3.4-2.2 1.8-1.9 2.4-4.5.4-2.3-.3-4.5-2.2-4.6-3.2-3.1-4.5-2.2-2.3-.3-1.2-1.2 2.3-1 5.1 1 5.2 3.6 3.4 5.5.7 5.7-.7 5.3-1.2 2.6-2.2 2.8-3.3 2.9-4.6 2.3-3.5.5-4.5-.4zM499.5 144.2l-4.7-2.4-3.4-3.2-2.3-4.4 0-3.9 1.2.1.2 1.3 2.1 3.4 4.5 4.4 2.3 1.1 5.6.7 3.4-.7 2.3-1.1 4.4-4.4 1.2-2.3.9-4.5-.9-4.6-3.3-4.9-3.4-2.7-4.9-1.4-1.2-1.2 2.7-1 4.6 1 2.2 1.1 2.3 2.1 2.3 2.5 1.1 2.1 1.2 3.6 0 6.8-2.4 5.6-4.5 4.5-5.2 2.4-3.9.5-3.4-.4zM384.7 104.5l-.2-1.2 4.7-2.4 3.3-3.2 2.4-4.6.4-3.4-.5-4.5-2.6-4.5-4.1-3.4-2.3-1.1-6.8-.1-2.3.5-3.4 2-2.1 2.1-2.2 3.4-.2 2.1-.8 1.3-.3 6.8-1.2-1.1-.7-5.7.7-3.9 1.1-2.4 4.5-5.1 5.7-3.4 3.5-.5 3.4.4 6.8 3.5 3.4 3.4 2.3 4.4.6 7-.6 3.7-2.2 4.2-3.5 3.5-2.3 1.2zM507.2 104.5l-.5-1.2 2.9-1.3 3.4-2.5 1.5-1.8 1.7-2.3 1.2-3.4.1-4.5-1.6-4.6-5.2-5.4-3.4-1.4-3.4-.2-3.4.2-3.4 1.4-4.5 4.3-2.2 4.5-.1 8-1.2-.3-1.1-2.9.1-5.9 1-2.8 2.3-3.5 6.8-5.3 4.6-1.4 4.6.5 4.5 2.3 4.5 4 2.3 3.5 1.1 2.9 0 7.8-1.1 3.2-3.4 4.7-3.4 2.3-4.6 1.1zM374.4 68.2l-8-3.4-2.2-2.2-2.3-3.5-1.1-3.3-.8-8 .8-6.9 1.1-3.3 2.3-3.5 2.3-2.3 4.2-2.2 3.7-1.1 8-.3 7.8 1.4 3.6 2.1 2.5 2.5 3.2 5.6 1.1 5.7 0 5.7-1.1 5.6-2.3 4.7-4.6 4.4-6.6 2.3-3.6.6zM496.8 68.2l-4.3-1.1-2.3-1.2-3.7-3.4-1.9-2.6-2.3-7.5 0-8.1 1.2-4.8 1.1-2.8 2.3-3 3.4-3 2.2-1.1 4.6-1.2 4.5-.2 6.9.3 3.4 1 4.5 2.4 2.3 2.2 2.2 4 1.2 3.5.3 9.6-.3 3.9-1 2.9-2.4 4.5-2.3 2.3-4.5 2.3-3.4 1.1-4.6.6-6.8-.6zM458.4 63.6l-2.2-1-.1-1.2 8.1-.2 4.5-2.3 3.2-3.2 2.4-5.7 0-4.5-1.1-3.4-1.4-2.3-3.1-3.1-4.5-2.2-2.3-.3-4.6.4-4.5 2.2-3.1 3-2.6 4.8-1.1.3 0-2.9 2.2-4.4 2.3-2.4 3.4-2.2 3.3-1.1 7-.1 5.6 2.3 4.6 4.6 2.3 4.4 1.1 3.5 0 2.3-1.1 3.7-2.3 4.3-4.5 4.5-4.6 2.1-6.8.2zM415.3 62.5l-3.4-2.2-2.3-2.3-2.3-4.6-1.1-4.5 1.1-5.7 2.3-4.5 1.2-1.3 2.2-2.1 4.3-2.3 4.8-1.1 6.8 1.1 3.5 2.1 4.5 4.8 1.2 3.3-.1 5.7-1.1.1-.3-2.4-2-4.5-2.2-2.8-3.4-2.7-3.5-1.2-4.5-.1-4.5 1.5-4.5 4.2-2.3 5.6.2 4.6 2.1 4.5 4.5 4.3 4.6 2.5-1.2.8zM368.8 208.8l26.1 0 0-1.1-1.5-3.4-4.2-4.4-4.5-2-4.6-.3-5.7 2.2-4.4 4.5-1.7 4.5zM491.4 208.8l26 0-1.2-3.4-3.2-4.2-3.4-2.4-5.7-1.3-5.7 1.3-3.4 2.4-3.2 4.2-1.2 3.4zM342.3 182.7l3.8-1.4 4.1-4.3 1.2-2.2.9-5.7-.6-3.4-2.6-4.5-1.9-2-2.3-1.4-3.4-1.2 0 26.6zM377.9 182.9l2.2.9 5.7-1.4 6.6-6.5.2-2.3 1-1.1-.1-4.5-.9-1.1-.3-2.3-.8-1.2-4.6-4.5-1.1 0-1.1-1.1-2.4 0-1-.8-5.7.8-1.1 1.1-1.2.1-4.4 4.4-.1 1.2-1.1 1.1 0 9.1 1.1 1.1 0 1.1 4.5 4.5 1.1.1 1.2 1.1 1.9 0zM500.5 183.5l3.4.2 1.1-1 2.3 0 1.1-1.1 1.2-.1 4.4-4.5.1-1.2 1-1-.1-9.1-2-3.4-3.4-3.2-1.2-.2-1.1-1.1-2.6 0-1.9-.9-1.2.1-1 .8-2.4 0-2.2 1.1-5.6 5.7-.1 2.2-1.1 1.2 0 4.5 1.1 1.6 0 1.8 3.4 4.2 1.1.3 2.3 2.2 2.4.1zM342.6 61l3.5-1.9 4.4-4.5 1.1-2.3.7-4.5-.8-4.6-1.1-2.2-4.3-4.5-4.6-2.1 0 26.9zM376.7 61.3l6.8 0 3.4-2.2 1.2 0 3.3-3.4.1-1.1 1.1-1.2 0-1.8 1.1-1.6 0-3.4-1.1-1.6 0-1.8-1.1-1.1-.1-1.1-3.3-3.4-.9 0-1.4-1.2-1.1 0-1.2-1.1-6.8.1-1.1 1-1.2.1-4.2 3.3-2.5 4.6-.1 6.8.6 2.2 2.8 4.2 3.4 2.6 1.2 0zM498.2 60.5l1.2.8 5.6.1 1.2-.2 1-1 1.2 0 5.7-5.6 0-1.2 1.1-1.1 0-7.9-1.1-1.2 0-1.1-5.7-5.6-1.2-.1-1-1-6.8-.1-3.4 1.5-4.6 4.2 0 1.1-1.1 1.1 0 1.3-1 1 0 5.7 1 1 0 1.2 1.1 1.2 0 1.1 3.4 3.4 3.1 1.1z"/><path fill="#fc0010" stroke="#707070" stroke-width="0.35" stroke-opacity="0.18" d="M342.6 208.8l22.2 0 1.3-4.5 3-4.6 5.3-4.5 5.1-2.3-1.8-1.1-8.9-2.8-4.6-3.3-2.8-4.1-1.2-3.4-1.3-9.1 1.9-8.4 3.4-5.8 1.9-1.7 3.8-2.1 4.7-1.3 5.5-.7 8 1.1 5.7 2.5 4 3.9 2.2 4.6 1.2 5.6.1 5.7-1.2 6.8-1 2.3-1.9 3.2-3.4 3.1-9.6 3.9-.8 1.1 3.4 1.1 7.6 5.7 2.8 4.2 1.5 4.9 88.4 0 .3-2.3 1.4-3.4 2.5-3.4 5.8-4.8 4.5-2-1.8-1.1-9.5-3.1-4.6-3.8-3-5.6-1.1-4.5-.6-4.6.6-4.5 2.1-6.8 2-3.2 2.3-2.3 5.7-2.9 7.9-1.4 9.1 1.2 3.4 1.3 3.4 2.3 2.4 2.7 1.8 3.4 1.5 6.7.3 3.5-.7 6.8-1.5 4.6-2.1 3.4-5.1 4-7.7 2.8-.8 1.1 3.3 1.1 7.6 5.7 3 4.6 1.3 4.5 24 0 0-22.5-3.4.2-2.3-.5-3.4-1.5-2.3-1.8-2.9-3.4-2.3-4.5-.9-4.6.5-3.4 1.5-3.4 4.1-5.6 2.3-1.9 4.5-2.1 4.6-.6 0-88.9-5.7-.2-2.3-.9-3.4-2.4-3.4-4.3-2-4.2-.6-3.4.6-4.5 2.2-4.6 2.5-3.4 3-2.4 3.4-1.8 5.7-1 0-25.4-23.8 0-.8 5.7-3.1 5.7-5.2 4.2-6.9 2.8-3.6-.2-3-1.2-3.8-2.2-3.2-2.7-3.1-5.3-.6-2.3.3-4.5-89.1 0-.9 5.7-3.1 5.6-4.6 3.9-4.5 2.3-3.4.9-3.2-.2-3.6-1.5-3.2-1.9-3.7-3.4-1.6-2.3-1.3-3.4-.3-3.4.5-2.3-24.5 0 0 25.2 4.6 1.4 5.3 4 4.4 6.8 1.1 4.6-.6 3.7-4.6 7.4-4.5 3.8-5.7 1.9 0 88.3 4.6 1.5 4.7 3.4 4.1 5.6 1.6 3.4.4 2.3-.3 3.4-.9 2.3-4.6 6.8-3.9 3.1-5.7 2 0 22.1zM417.4 186.1l-5.5-2.7-4.2-5.2-2.6-6.8.6-4.6 3.9-7.4 2.3-2.3 3.4-2.2 3.4-1.3 3.3-.4 5.8.6 5.7 3 3.9 4.4 2 5.6-.2 4.7-1.2 2.2-2-1.2-.3-4.5-1.2-3.4-2.1-2.7-3.4-3-.9 0-1.4-1.1-6.8 0-3.4 1.3-4.5 4.3-1.2 2.3-.9 4.5.9 4.6 1.2 2.2 4.5 4.5 2.2 1.1 5.4 1.2.7 1.2-1.5 1.2-5.7 0zM457.3 186.1l-4-2.3-.8-1.1.3-.8 8 1.2 4.5-.5 1.1-1 1.2-.1 4.5-4.5 2.2-5.6 0-2.3-1.1-2.9 0-1.6-1.1-1.2-.2-1.1-3.2-3.3-4.5-2.3-6.9 0-1.3 1.1-3.2 1.3-2.2 2.1-2.3 3.4-1.2 4.7-1.1 1.5-1.1-1.7-.2-3.4 2.2-5.7 3.6-3.9 3.4-2 2.8-.9 2.9-.5 4.6.3 3.4 1.1 3.4 1.9 3.9 4 3.3 5.7.8 3.4-.1 2.3-1 3.4-2.8 4.5-4.1 4.3-3.4 2-3.4 1-3.4.2zM377.3 145.3l-5.8-3.4-3.4-3.4-2.4-5.7.1-4.5.7-1.8 1.1-.2 2.5 7.6 5.5 5.6 1.1.1 1.2 1 6.8.1 3.4-1.3 4.5-4.3 1.1-2.3 1.1-4.5-1.5-5.7-5.2-5.6-2.3-1.1-6.8-.9-.8-.3-.4-1.2 1.2-1.1 3.4-.8 4.5.4 4.6 2.1 3.2 2.8 1.6 2.3 1.7 3.4.9 4.5-.4 4.6-2.3 5.6-2.4 3.1-2.3 1.9-6.8 3.4-3.4.4-3.4-.6zM499.4 145.3l-5.7-3.4-3.4-3.5-2.5-5.6.2-4.9 1.1-1.6 1.2.4 1.5 6.1 2.1 3.4 2.1 2.1 4.5 2.4 6.8 0 4.6-2.5 2-2 2.4-4.5-.3-8-1.9-3.4-3.4-3.1-2.3-1.2-7.9-1.3-1-1.2 2.1-1.3 2.3-.5 5.7.5 3.4 1.5 2.3 1.7 3.9 4.9 1.3 3.4.5 3.4-.6 5.7-2 4.5-2.9 3.5-2.5 1.9-6.8 3.1-3.4.3-2.3-.5zM380.8 104.5l.4-1.2 4.6-1.1 2.3-1.2 2.8-2.2 2.8-3.4 0-1.1 1.1-1.2 0-6.8-1.2-3.4-5.5-5.5-1.5-.1-1.9-1.1-5.7 0-2.2 1.1-1.2 0-5.6 5.6-.1 1.2-1.1 1.1 0 7.9.9 3.4-.7 1.2-1.4-.9-1.6-2.5-1.3-5.7 1.1-5.7 1.1-2.2 3-3.8 5.3-4.2 3.8-1.9 2-.4-11.1-2.8-3.4-1.9-2.3-2-1.8-2.3-1.6-3.4-1.9-9.1 1.5-9.1 2-4.5 1.8-2.3 3.4-2.8 2.3-1.1 4.5-1.3 5.7-.6 3.4.2 6.8 1.5 2.3 1.1 3.9 3 2.3 3.4 1.4 3.4 1.2 8-1.2 9-3 6-4.6 3.9-11 3.7 3.1.7 3.4 1.7 4.5 3.3 3.2 3.4 1.8 3.4 1.2 4.6-.1 4.5-.9 3.4-3.6 5.7-3.9 2.8-2.2 1-3.4.5-3.4-.7zM503 104.5l.4-1.2 5-1.2 1.2-1 1.1-.1 4.5-4.5 2.2-5.6.1-2.3-1.1-2.7-.1-1.8-4.4-5.6-3.3-1.2-1.3-1.1-6.8 0-1.4 1.1-.9 0-2.2 1.2-2.3 2.2-2.2 3.4-.1 1.6-1 1.8-.1 3.4 1.5 5.6-.4 1.1-1.1-.4-2.1-2.9-1.1-3.4 0-4.6 1.4-4.5 2.9-4.2 4.5-3.8 4.6-2.7 2.9-.7-10.9-2.6-5-3-2.9-3.4-1.7-3.4-1.9-9.1.7-5.7 1.2-4.5 1-2.3 3-4 5.6-3.5 3.5-1 6.8-.7 5.6.6 4.6 1.3 5.6 3.9 3 4.6 1.1 3.4.7 5.6-.7 9.1-2.3 5.7-1.7 2.1-3.4 2.9-2.3 1.1-9 2.9 5.6 2 5.7 4.1 2.6 3 2.3 4.6.7 3.4-.6 6.8-2.1 4.5-1.9 2.3-3.3 2.6-4.6 1.6-4.5-.4zM415.9 63.6l-2.8-1.4-3.5-3.1-3.4-6-1-3.1-.1-2.3 1.7-5.6 3.8-5.7 3.6-2.9 2.3-1.1 3.4-1 4.5-.2 6.2 1.8 5.2 4 2.5 4 1.3 4.5-.4 4-.7 1.7-.5 1-2-2.2-.3-4.5-1.6-3.4-4-4.5-5.7-2.2-3.4 0-3.4 1.1-4.3 3.3-2.3 3.4-1.1 4.6 1.1 5.6 2.3 3.4 4.3 3.4 1.2 0 1.1.8 4.9 1.5-.4 1.2-2.3.7-5.6-.5zM456 63.6l-3.2-2.2-.3-1.2 3.1 0 2.9 1.1 4.5 0 1.7-1.1 1.7-.1 4.1-3.3 2.6-3.4.1-1.9 1-1.5.1-3.4-1.1-2.3-.2-2.2-3.2-3.7-3.4-2.6-4.5-1.5-2.3 0-5.7 2.2-2.4 2.2-2.7 3.4-1.7 5.3-1.1 1.4-1.4-3.3.8-4.5 2.7-4.6 4.7-3.7 5.7-1.8 6.8.4 5.7 2.8 4.3 4.6 2.5 4.1.9 2.7.3 3.4-.5 2.3-4.1 7.1-3.1 3.1-2.6 1.7-3.4 1.3-3.4.4-5.7-1.1zM369.9 208.8l24.9 0 0-1.1-2.6-4.6-1.9-2-3.4-2.2-5.6-1-4.6.8-3.4 2.2-2.2 2.2-2.3 4.6 0 1.1zM491.4 208.8l25.6 0-1.8-4.5-4.5-4.5-1-.1-1.3-1.1-4.5-.7-4.5.7-2.3 1.2-4.5 4.5-1.9 4.5zM379 183.5l2.3.1 1.2-.9 2.2 0 2.2-1.2 4.5-4.5 2.3-5.6 0-2.3-1.1-1.7 0-1.7-1.2-2.3-4.5-4.4-1.1-.1-1.1-1.1-4.6-.5-.9.5-3.6 0-4.6 3.4-3.2 4.5-.1 9.1 1.1 1 0 1.2 4.5 4.5 1.1 0 1.2 1.1 2.5.1zM376.7 175.9l-2.3-3 0-5.1 1-1 .2-1.1 2-1.1 5.9 0 2.3 2.2 0 1.2 1.1 1.9-1.1 3.7-2.3 2.3-3.4.4zM500.5 183l2.3.7 1.9-1 2.6-.1 1.1-1.1 1.2 0 3.3-3.3 2.3-4.6 0-6.8-1.1-2.2-2.2-3.4-4.6-3.4-3.8 0-.7-.5-4.6.5-1.1 1.1-1.1.1-5.4 5.6-.3 2.3-1 1.1-.1 4.5 1.1 1.1.1 2.3 6.7 6.4 3 .4zM499.3 175.9l-2.2-2.2-.1-1.2-1-1 0-2.5 1-1 .1-1.2 2.3-2.2 5.8 0 1 1 1.1.1.1 1.1 1.1 1.2 0 4.5-1.1 1.1-.1 1.2-1.7 1.1-2.8.4-3.4-.4zM542.5 182.9l2.3.7 0-25.8-3.4 0-2.3 1.1-3.9 3.4-2.7 4.5 0 6.8 1 2.3 3.3 4.2 3.4 2.2 2.1.4zM342.6 182.6l4.6-2.7 3.3-4 .1-1.1 1-1.2.1-6.8-1.2-3.4-4.4-4.5-1.2-1-3.4-1.2 0 26zM544.8 61.6l0-26.2-1.1 0-5.7 2.2-3.4 3.4-2.2 4.5-.1 4.5 1.5 4.6 4.2 4.5 4.5 2.1 1.9.2zM342.5 60.2l1.3 0 2.3-1.2 4-4.4 1.6-3.4 0-6.8-2.3-4.6-2.2-2.2-3.4-2.2-2.3-.3 0 25.9zM376.7 61.1l6.8.2 1.1-1.1 1.2 0 1.1-1.1 1.2-.1 3.1-3.3.2-1.1 1.1-1.2.1-2.3.9-1.1 0-3.4-.9-1-.1-2.4-1.1-1.1-.2-1.1-3.1-3.4-1.2 0-3.4-2.2-6.8.1-1.1 1-1.2 0-5.6 5.6 0 1.1-1.1 1.2 0 7.9 1.1 1.1 0 1.2 5.6 5.6 1.4 0zM378.2 54.6l-3.8-3.4 0-5.7 3.5-3.4 4.5 0 2.3 1.5 1.1 1.7.1 1.3 1 1.1 0 1.3-1 1-.1 1.4-1.7 2-1.7 1.2-3.4 0zM499.4 61.3l5.6 0 2-1.1 1.4 0 5.7-5.6 0-1.2 1.1-1.1 0-7.9-1.1-1.1 0-1.2-5.7-5.6-1.4-.1-.8-.8-6.8-.2-1.2 1.1-3.4 1.1-3.3 3.4 0 1.1-1.2 1.1 0 1.6-1.1 1.8 0 3.4 1.1 1.8 0 1.6 1.2 1.2 0 1.1 3.3 3.3 1.2.1 1.1 1.1 1.2 0zM500.5 54.6l-3.4-2.3 0-1.1-1.1-1.8 0-2.2 1.1-1.7 0-1.1 1.1-1.2 1.2 0 1.1-1.1 3.8 0 4.2 3.4 0 5.7-4.3 3.4zM379 18.6l3.4.6 4.5-1.1 3.4-2.5 3.3-4.1 1.2-5.7-26.6 0 1.7 5.7 1.4 2.2 2 2.2 3.4 2.3 1.9.1zM501.6 18.8l3.4.4 5.7-2.1 4.4-4.5.1-1.1 1-1.2.2-4.5-25.9 0 1 4.5 1.2 2.3 4.4 4.5 3.7 1.2z"/><path fill="#fc5060" stroke="#707070" stroke-width="0.35" stroke-opacity="0.18" d="M342.6 208.8l21.5 0 1.3-4.8 2.2-3.7 8.3-7.4-.9-1.1-6.2-2-5.1-3.7-3-4.5-2.2-7.4-1.1-.5-4.5 7-3.4 3.4-3.4 2-4.6 1.3 0 21.4zM369.9 208.8l24.9 0-1.2-3.4-3.3-4-4.5-2.7-3.4-.4-5.7.5-2.6 2.1-.8.1-2.1 2.1-.2 1.2-2.1 3.4 0 1.1zM399.4 208.6l86.9.2 1.7-5.8 2.2-3.3 7.9-6.8-1-1.1-8-3-3.4-2.8-2.8-4.4-2.8-8.4-6.8 9.5-3.5 2.6-4.5 1.8-4.5.4-4.6-.9-3-1.6-3.8-4.5 1.1-1.1 5.7 3.2 9.1-.1 1.1-1 1.2-.1 4.4-4.4 2.2-5.6.1-2.3-1.1-2.3-.1-2.2-2.2-3.4-2.2-2.1-3.4-1.3-1.1-1.1-6.9 0-1 1.1-1.2.1-2.3 1.3-2.1 2-2.3 3.4-.1 2.2-1.1 2.3-.1 5.6-1.1-.2-2.1-4.3-.4-2.2.9-4.6 2.7-5 4.6-4 6.5-2.3 4.8-.1 4.6 1.2 5.3 3.4 2.9 3.4 4.3 6.7 3.4-8.9 3.7-4.6 6.4-3.4 8-2 2.3-.1 9.1 2.7 4.8 2.8 2.2 2.3 2.1 3.6 1.9 7.7.3 3.4-.6 5.7-2.2 6.8-1.4 2.3-2.6 2.6-3.4 2.1-5.1 2.1.1 1.1 6.2 4.5 2.3 2.3 2.2 3.4 1.8 5.7 23.2 0 0-21.5-5.7-.4-5.7-3.1-3.4-3.8-2.9-5.2-1-3.4 0-2.3 1-3.4 5.2-8 2.7-2.2 4.1-2.1 5.7-1 0-87-6.1-.6-5.8-3.4-2.9-3.4-2.6-4.6-1.3-4.5.1-2.3 1.1-3.4 2.7-4.6 2.8-3.3 5.1-3.4 6.9-1.5 0-24.6-23 0-1.2 6.8-3.5 5.7-2.5 2.3-5 3.1-5.7 2.4-1.1 0-5.7-2.8-3.9-2.7-2.9-2.9-1.9-2.8-1.3-3.4-.1-5.7-87.4 0-.2 3.4-1.1 3.8-3.4 5.4-6.8 4.9-6.8 2.9-6.9-3.3-3.4-2.3-3.4-3.4-2.6-5.7-.2-5.7-23.3 0 0 24.4 4.6 1.4 3.4 2 3.4 3.4 4.5 7.2 1.1-.1 2.3-7.2 3.5-5 5.3-3.4 8.3-2 6.8.1 7.9 2.6 4.8 3.8 2.2 3.4 1.3 3.4 1.4 9.1-1.4 7.9-1.3 3.4-2.4 3.7-2.3 2.1-8.5 4.4 7.4 5.6 2.9 3.5 2.1 4.6.8 4.5-.4 4.5-2 5.3-3.4 4.1-4.6 2.9-4.5 1-4.6-.7-2.6-1.2.3-1.2 8-1.2 1.1-1 1.2-.1 5.5-5.6.1-1.1 1-1.2.1-6.8-1.4-3.4-5.3-5.3-2-.3-1.4-1.1-5.7 0-1.9 1.1-1.5.1-5.6 5.5 0 1.2-1.1 1.1-.1 7.9 2.2 4.4 0 3-3.4-2.3-2-2.8-1.6-5.7.1-3.4.9-3.4 2.5-4.5 8.5-8-8.4-3.2-3.4-2.5-3.4-4.9-2.3-7.6-1.1-.5-4.5 7-3.4 3.4-4.6 2.5-3.4.8 0 86.7 3.9 1.1 5.4 3.4 2.1 2.3 4.5 7.2 1.1-.1 1.8-6 2.5-4.5 3.7-3.4 5.7-2.5 6.8-1.7 3.4-.2 9.1 3 2.6 1.4 3.1 2.7 3.4 6 1.6 7.2 0 4.5-1.6 7.3-1.9 4-2.7 3.2-3.4 2.4-5.8 2.4.1 1.1 6.1 4.5 3 3.1 2.3 4 .9 3.2zM418.7 187.2l-5.9-2.2-4.3-4.1-4-7.3-.5-3.4.5-3.4 3.7-6.8 4.9-4.7 4.4-2.1 3.5-.7 7.3.7 6.2 3.4 3 3.4 3 6.8.3 2.3-.5 2.3-1.1 2.3-1.8-.1-1.7-1.1 0-4.5-1.1-1.8-.2-1.6-5.4-5.6-1.2-.1-1.1-1-6.8 0-4.6 2.2-3.2 3.3-.1 1.2-1.1 1.1-.1 2.4-.6 1 .7 5.7 1 1.1.1 1.1 4.5 4.4 1.1.1 1.1 1 8 .7 1.6.6-.3 1.2-2.5 1.5-3.4.8-3.4 0zM377.3 146.4l-6.3-3.9-4.5-5.1-1.1-2.3-.7-3.4 0-3.4.6-2.3 2.3-3.3 1.2.4.1 7.4 1 1.4.4 2 5.3 5.5 3.4 1.2 4.5.1 4.6-1.4 4.4-4.2.1-1.2 1-1.1 1.1-4.5-1-4.6-1.2-2.2-4.4-4.5-1.2 0-1.1-1.1-6.8-.1-1.2-1.1-.1-1.2-1-1.1 4.6-1.6 5.6.4 5.1 2.3 2.9 2.5 2.3 3.1 2.2 6.3-.1 6.3-1 3.4-1.9 3.4-4.9 4.7-6.8 3.8-3.4.5-3.4-.7zM499.4 146.4l-6.9-4.4-3.4-3.9-2.1-5.3-.2-3.4.7-3.4 1.6-2.9 1.2-.3.7 2.1.5 6.8 2.5 4.5 4.2 3.3 1.2.1 1.1 1 6.8 0 4.6-2.6 1.8-1.8 2.6-4.5 0-6.8-.5-1.2-1.8-3.4-2.1-2.1-3.5-2.1-6.8-.3-2.3-2.3-.4-1.1 5-1.6 5.7.5 5.7 3.1 3.4 3.6 1.3 2.3 1.5 4.6.3 3.4-.6 4.5-2.5 5.5-4.8 4.7-7.7 4.2-3.4.3-2.3-.5zM502 105.6l-2.3-1.1.8-1.2 7.9-1.3 1.2-1 1.1-.1 4.4-4.4.1-1.1 1.1-1.1 1.1-5.7-1-2.2-.1-2.3-2.4-3.4-2-2-2.3-1.3-1.2-.1-1.1-1-1.1-.1-5.7.1-5.7 3.3-3.3 4.5-.1 2.2-.9 1.2-.1 3.4 1 1.8.1 1.6 2.2 4.1 0 2.3-2.3-1.1-2.3-2.2-1.9-3.1-1.1-5.7.4-3.4 1.5-4.1 1.7-2.7 8.5-8-7.9-2.9-4.6-3.5-3.5-6-2.1-6.8-5.7 8.3-3.4 3.1-3.4 1.8-4.6 1.1-3.4 0-3.4-.8-3.4-2-2.3-2.4-1.1-2.5 2.3.2 3.4 2.1 2.1.1 1.3 1 4.5 0 1.1-1 2.3-.1 6.6-6.7.2-2.3.9-1.1.2-3.4-2.3-5.6-4.4-4.5-2.3-1.1-2-.1-1.4-.9-2.3 0-1.3.9-2.1.1-1.1 1-1.2.1-4.4 4.5-2.2 5.6-.2 6.1-1.1-.2-2.2-4.7.1-4.6 2.1-5.2 4.5-4.8 3.4-1.9 4.6-1.2 3.4-.1 4.5.8 4.5 2.2 2.7 2.3 6.5 9.5 3.1-8.4 2.2-3.4 4.1-3.4 3-1.4 4.6-1.2 6.8-.8 8 1.8 5.6 3.1 3.7 4.2 2.4 6.8.7 5.7-.7 6.8-1.3 4.5-2.8 4.5-2.4 2.3-8.5 4.5 6.7 5.1 3.4 3.7 1.1 2 1.9 6.3-.6 6.8-1.4 3.4-2.3 3.4-4.2 3.4-4.8 1.7-2.2.2-3.4-.6zM416.5 64.8l-5.8-3.4-3.6-4.6-2.8-5.6 0-5.7 4.2-7.8 2.3-2.6 2.8-2.1 2.9-1.4 4.5-1.1 6.8.6 5.7 2.8 4.5 4.8 2.7 6.8-.6 4.5-.4 1.2-1.7 1.2-2.3-2.4-.1-4.5-1-1.1-1.2-3.4-3.3-3.3-1.2-.1-1.1-1.1-1.5-.1-1.9-1-3.4.1-1.3.9-2.1.2-4 3.2-2.5 3.4-1 5.7 1.1 4.5 2.4 3.4 4 3.3 1.8.1 1.6 1 6.8.1.5 1.2-3.9 2.5-3.4.5-3.4-.5zM491.4 208.8l25.1 0-.2-2.3-1.1-1.1 0-1.1-4.5-4.5-1.1 0-1.2-1.1-4.5-.5-4.5.5-1.2 1.1-1.1 0-4.4 4.5-1.7 4.5zM379 183.3l2.3.1.9-.7 2.5-.1 1.1-1 1.1-.1 4.5-4.5 1.1-2.2.1-2 1-1.4 0-2.3-1-1.2-.1-2.2-1-1.1-.1-1.2-4.5-4.4-1.1 0-1.1-1.1-9.1 0-1 1-1.3.3-3.3 3.1-2.1 3.4-.1 9.1 1.1 1.1 0 1.1 4.4 4.5 1.1 0 1.2 1.1 2.7.1zM379 177l-1.1-1.1-1.2 0-2.3-2.2-.4-3.5.4-3.4 2.3-2.3 1.2 0 2.3-1.1 3.3 1.1 2.3 2.3.1 1.2 1.1 1.1 0 2.3-1.2 2.3-2.2 2.2-1.2.1-1.1 1.1zM501.6 183.5l1.2.1 2.2-1 2.3 0 1.1-1.1 1.2-.1 3.3-3.2 2.3-4.6 0-6.8-2.2-3.3-.1-1.2-2.2-2.2-3.4-2.2-9.1 0-1.1 1-1.1.1-4.5 4.4-.8 1.2-.3 2.2-1 1.2-.1 4.5 1 1 .1 2.4 5.6 5.6 2.2 1.1 2.4.1zM501.4 177l-4.3-2.9-1.1-1.6-.1-3.4 1.2-2.3 2.3-2.3 3.4-1 1.1.8 2.3.3 2.2 2.6.1 6.4-2.3 2.3-1.2 0-1.3 1.1-2.1.1zM544.8 183l0-25.2-3.4.1-1.1 1-1.2.1-5.5 5.6-1.2 3.4 0 4.5 1.1 3.4 3.3 3.9 4.6 2.8 2.5.1zM342.6 182.6l1.2-1 1.1-.1 5.6-5.6 0-1.1 1-1.2.2-4.5-.3-3.4-.9-1.1-.1-1.2-5.5-5.4-1.7-.2-1.7-1.1 0 25.9zM342.1 60.2l1.7-.1 1.1-1 1.2-.1 3.3-3.3 1.2-3.3 1-1.2.1-3.4-.1-3.4-2.2-3.4-.1-1.2-5.5-4.4-2.3-.1 0 25.4zM376.7 61l6.8.3 3.4-2.3 1.2 0 4.4-5.6 0-2.2 1.1-2.3-.2-2.3-.8-.8-.1-2.6-4.4-5.5-1.2-.1-1.1-1.1-1.1 0-1.2-1.1-5.6 0-2.3 1.1-1.2 0-5.5 5.6-.1 1.2-1.1 1.1 0 7.9 1.1 1.1.1 1.2 3.3 3.4 2.2 2.1 1.5.1zM377.8 54.6l-1.7-1.2-1.7-2.2 0-5.7 1.6-2.3.7 0 1.1-1.1 4.9 0 3.1 2.2 0 1.2 1.1 1.1 0 3.4-2.2 3.5-1.2 0-1 1.1-4.6 0zM499.4 61.3l5.6 0 1.7-1.1 1.7-.1 5.6-5.5 0-1.2 1.1-1.1 0-7.9-1.1-1.2 0-1.1-5.6-5.6-1.6-.1-1.8-1-5.6 0-1.2 1.1-1.1 0-1.1 1.1-1.2.1-3.3 3.3 0 1.1-1.1 1.1-.1 2-1 1.4-.1 1.2.1 2.2 1 1.5.1 1.9 1.1 1.2 0 1.1 3.3 3.3 3.5 1.2zM499.9 54.6l-2.8-2.3 0-1.1-1.2-1.2 0-3.4 1.2-1.1 0-1.2 2.8-2.2 5.2 0 3.4 3.4 0 5.7-3.4 3.4-4.6 0zM542.5 61l2.3.3 0-25.9-4.6 1.1-1.1 1.1-1.1.1-3.3 3.3-2.2 4.5 0 5.7 2.2 4.5 3.3 3.3 1 .1 1.2 1.1 1.3 0zM380.1 18.8l2.3.3 4.5-1.2 3.4-2.7 3.1-3.7 1.3-5.7-25.9 0 0 2.3 1.1 2 .1 1.4 2.5 3.4 4.2 3.2 2.6.2zM501.6 18.3l1.2.7 2.2 0 1.2-.7 2.2-.1 1.2-1.1 1.1-.1 4.3-4.4 1.3-3.4 0-3.4-25.1 0 .5 4.5 1.1 2.3 4.3 4.4 1.1.1 1.2 1.1z"/><path fill="#fc6840" stroke="#707070" stroke-width="0.35" stroke-opacity="0.18" d="M342.6 208.8l20.8 0 .8-3.7 2.3-4.4 5.3-5.5 1.4-2.3-.6-1.1-6.1-2.5-3.7-3.2-2.8-4.5-1.5-4.3-1.1-.2-2.3 1.8-5.6 6.1-4.6 2.3-3.4.7 0 20.8zM369.9 208.8l24.8 0 0-1.1-1.1-1.2 0-1.1-2.9-3.4-2.6-2.1-2.3-1.2-5.7-.1-3.4.4-2.2 1.9-1.2.2-2 2-.2 1.2-2.2 3.4 0 1.1zM400.6 208.8l85 0 1.1-4.5 1.3-2.6 7.5-8.8-.8-1.1-5.6-2.2-3.4-2.6-2.4-3.2-3.2-7-2.3 1.6-4.8 5.4-5.4 3.3-6.8 1.2-5.7-1.3-3.5-2-2.2-2.3-3.4-5.5-.1-1.3-3.3-4.2-1.2.4-.9 1.5-2.5.4-2.3-1.5-.1-4.5-1-1.4-.3-2-5.3-5.5-1.2-.1-1.1-1-6.8-.1-4.6 2.3-3.1 3.2-.2 1.2-1.1 1.1 0 2.3-.7 2.2.7 4.6 1.1 1.1.1 1.1 4.4 4.3 1.3.3.9.9 8 .2 3.4-1.3 2.3-2.1 3.4 0 0 1.2-5.5 4.5-3.6 2.2-4.6 1.1-2.2-.1-4.1-1-4.1-2.2-2.1-1.8-4.5-6-2.3-2.2-2.2 6.6-2.3 3.9-4.5 4-4.5 2.3.1 1.1 1.9 2.3 5.9 5.7 2.1 4.5.7 3.4zM491.4 208.8l25 0-.2-2.3-1-1.1-.1-1.1-4.4-4.4-1.1-.1-1.2-1.1-4.5-.2-4.5.2-1.2 1.1-1.1.1-4.4 4.4-.1 1.1-1 1.1-.3 2.3zM523.2 208.8l21.6 0 0-20.6-6.8-.9-4.1-2.3-2.7-2.4-5.7-7.5-1.2.9-1.6 5.6-2.9 4.7-3.4 2.9-5.1 2.6 2.1 3.4 2.9 2.2 3.5 4.4 2 4.7.4 2.3zM379 183l1.1.5 1.2-.2 1.1-.7 2.3 0 1.1-1.1 1.1-.1 4.4-4.4.2-1.1 1-1.1.1-2.3 1-1.1 0-2.3-1-1.1-.1-2.3-1.1-1.1-.1-1.2-4.4-4.4-1.1 0-1.1-1.1-9.1 0-5.6 4.4-2 3.4-.2 9.1 1 .9.2 1.3 4.3 4.4 1.3.2 1 1 3 .1zM378.9 177l-1-1-1.2 0-2.3-2.3 0-2.3-.8-1.2.8-1.1 0-2.3 2.3-2.3 1.2 0 1.6-1.1 1.8 0 1.1 1.1 1.1 0 2.4 2.3 0 1.2 1.1 1.1-.1 3.1-3.4 3.8-1.1 0-1.1 1.1-2.3 0zM501.6 183.3l5.7-.7 1.1-1.1 1.2-.1 3.2-3.2 2.3-4.6 0-6.8-2.2-3.4-.1-1.1-5.5-4.4-9.1 0-1.1 1.1-1.1 0-4.5 4.4-1.2 3.7-.8.9-.2 4.5 1.1 1.1.1 2.3 5.5 5.5 2.2 1.2 2.6.1zM501.1 177l-3.8-2.2-.3-1.2-1.1-1.1 0-4.5 3.5-3.5 1.1 0 1.1-1.1 1.5 0 1.9 1.1 1.2 0 2.3 2.3 0 6.8-2.3 2.4-1.2 0-1.1 1.1-2.3 0zM342.6 182.5l1.2-1 1.1-.1 5.5-5.5.1-1.1 1-1.2.1-6.8-1.3-3.4-4.2-4.4-4.6-2.2 0 25.8zM456.2 182.5l9.1 0 3.4-2.2 3.2-3.3.1-1.1 1.1-1.1.1-2.3.9-1.1.1-1.2-.2-2.2-.8-1-.1-2.4-2.3-3.4-2.1-2-1.1-.2-1.2-1.1-1.2-.1-1-1-6.9 0-1.1 1.1-1.1 0-2.3 1.4-4.4 5.3-.1 2.5-.7.9-.4 2.2.6 2.3-.6 1.1.1 3.4 2.1 2.1 2.3.2 2.2 2 1.3.3zM541.4 182.6l3.4.1 0-24.8-3.4 0-1.2 1.1-1.1.1-5.5 5.5-1.1 3.4 0 4.5 1.1 3.4 3.2 3.6 2.3 1.9 1.2.2zM402.8 165.5l9.1-10.2 3.4-2 6.8-1.5 4.7.3 5.6 2.2 5.1 4.6 3.9 6.7 1.2-.2 3.4-6.7 4.5-4.4 4.6-2.2 5.7-.8 5.7.8 4.5 2.2 9.1 8.9 1.1-1.2 2.2-5.4 2.8-3.4 4.1-2.8 5.7-1.8 1.6-1-8.5-8.3-2.3-4.2-.7-3.4.7-6.8 2.3-4 4.6-5.4 0 1.4 1.1 1.6-1.6 1.8-1.6 3.4-.1 8 1.1 1.1.1 1.1 1.5 2.3 4 3.3 1.2.1 1.1 1 6.8 0 4.6-2.8 1.6-1.6 2.7-4.5 0-6.8-2.1-3.4-.2-1.2-2-2.1-4.6-2.3-5.7 0-3.4-3.5 1.2-1.3 5.6-1.5 5.7 1.4 4.6 2.5 3.4 3.4 2.5 4.6 1 3.4.2 4.5-1.3 5.7-3.5 5.7-8.2 6.8.4 1.1 6.6 2.7 3.5 3 3.3 5.6 1.1 4.5 1.2 1 5.7-7.5 2.7-2.5 4.1-2.4 3.3-1 3.5-.3 0-85.6-4.6-.2-5.6-2.4-4.6-4.4-4.5-6-1.2.8-1.4 5.1-2.5 4.5-2.9 2.8-5.5 2.9-.8 1.1 7.5 7.8 2.2 3.6 1.2 3.7.3 3.1-.3 4.6-.7 2.2-2.7 5.1-3.4 3.4-5.7 2.9-4.6.7-3.4-.9-4.6-2.1 2.4-.1 2.2-2.2 6.8-.3 2.3-1.1 4.4-4.3.1-1.1 1-1.1.1-2.3.9-1.1.2-2.3-1.1-2.3-.1-2.2-4.3-5.3-4.6-2.4-6.8 0-4.5 2.3-2.1 2-2.3 3.4-.1 2.2-1.1 2.3 0 2.3 1 1.1.1 2.3 2.2 3.3 0 4.8-2.2-1.3-3.5-3.4-2.3-5.6-.2-4.6 1-4.6 1.6-3.4 6.3-6.8 1.1-2.3-6.4-2.8-3.5-2.8-1.9-2.3-3.6-7.7-2.3 1.7-5.7 6.1-3.7 2.2-5.4 1.4-5.7-.4-2.8-1-4-2.9-7.9-12-1.2.3-.6 1-1.6.1-1.2 1.1-1.2-1.2-1.1-1.2-.2-4.5-.9-1-.1-1.3-1-1.1-.2-1.1-3.2-3.2-5.7-2.3-3.4.1-1.1.9-2.3.2-3.8 3.1-2.5 3.4-1 4.6 1 5.6 2.9 3.8 3.4 2.8 2.3.2 1.1.9 3.4.2 2.4-1.1 2.2-.2 2.2-1.3 1.7-1.9 1.9 0 1 1.6-8.3 6.4-3.1 1.2-5.7.1-4-1.3-3.7-2.3-2.5-2.5-4.5-6.1-1.2-.8-2.2 6.5-2.3 4-3.4 3.2-5.2 2.5-.5 1.1 1.6 2.3 5.2 4.8 3.1 5.4 1.1 5.7-.9 6.8-2.1 4.2-3.4 3.8-3.4 2.2-6.9 1.9-3.4-.7-5.1-2.3 1.7-.1 3.3-2.2 5.8-.1 1.1-1.1 1.2-.1 5.5-5.5 0-1.1 1-1.2.1-6.8-.9-1.1-.5-2.3-4.1-4.4-3.4-1.2-1.1-1-5.7 0-1.7 1-1.7.2-5.5 5.4-.1 1.2-1.1 1.1 0 7.9 2.1 3.4.1 4.6 1.1 1.6-2.8-1.6-2.9-2.7-2.3-4-.9-4.7.2-3.4.7-3.2 1.8-3.6 7-7.9.2-1.2-5.6-2.4-3.4-2.4-3.4-4.3-2.3-6-1.1-.4-7.9 8-3.4 2-4.6 1.2 0 85.5 2.6.5 4.2 1.9 3.5 2.6 5.6 6.4 1.1-.1 2.7-6.3 2.8-3.4 4.8-3.1 6.6-2.5-9-9.1-2.1-4.6-.4-2.2.3-5.8 2.2-4.4 4.6-5.7 1.2 1.1 0 2.3-1.8 2.3-1.2 3.4-.2 5.6 2.2 4.6 3.2 3.3 4.6 2.2 5.7 0 3.4-1.5 3.4-3 2.1-3.3.1-2.3.9-2.2-1-4.6-1-1.1-.1-1.1-4.4-4.4-1.2-.1-1.1-1-6.8-.1-2.5-3.5.2-1.2 3.3-1.1 4.7-.3 4.5 1.4 4.6 2.9 3.4 3.8 2.3 4.7.7 6.8-.8 4.5-1.1 2.6-3 4.3-8.1 6.8.5 1.1 6.1 2.4 3.4 2.7 3.4 5.1 1.8 5.7zM341.7 60.2l2.1-.1 1.1-1.1 1.2-.1 3.2-3.2.1-1.1 2.2-3.4 0-6.8-1.1-1.2-1.3-3.4-2-2.1-3.4-2.2-1.2-.1-1.1 0 0 25zM376.7 60.8l6.8.4 1-1 3.6-1.3 4.4-5.5.1-2.7 1-1.8-.3-2.3-.8-1.1 0-2.3-4.4-5.5-1.2 0-3.4-2.2-5.6-.1-3.5 1.2-5.5 5.5 0 1.1-1.1 1.2 0 7.9 1.1 1.1 0 1.2 5.5 5.5 1.7.1zM377.8 54.6l-1.1-1.1-1.1-.1-.1-1.1-1.1-1-.6-2.4.6-3.5 1.1-1 .1-1.2 1.1 0 1.2-1.2 5.1.1 2.9 2.3 0 1.1 1.1 1.1 0 3.4-1.1 1.2 0 1.1-3.3 2.3-4.7 0zM458.5 61.1l4.5 0 1-.9 2.4-.2 6.5-6.6.3-2.5 1-2 0-2.3-1-1.8-.1-1.6-2.1-3.3-3.4-3.3-1.2-.2-1.1-1-2.3-.1-2.2-1-6.9 2.3-3.3 3.2-2.2 3.4-.1 2.2-1.1 2.4 0 6.8 2.2 2.2 1.2 0 1.1 1 1.1.2 2.3 2 2.3.2zM499.4 61.2l5.6 0 1.5-1 1.9-.1 5.6-5.5 0-1.2 1.1-1.1 0-7.9-1.1-1.2 0-1.1-5.6-5.5-1.8-.2-1.6-1-5.6 0-1.2 1.1-3.4 1.2-3.2 3.3-.1 1.1-1.1 1.1-.1 2.3-1 1.1 0 3.4 1 1.2.1 2.2 1.1 1.2.1 1.1 3.2 3.3 1.2 0 1.1 1.1 1.3.1zM499.4 54.6l-2.4-2.3 0-1.1-1.1-1.2 0-3.4 1.1-1.1 0-1.1 2.4-2.3 5.6-.1 3.5 3.5 0 5.7-3.4 3.4-4.6 0zM542.5 60.7l2.3.6 0-25.8-4.6 1.1-1 1-1.2.1-3.3 3.3-1.2 3.4-1 1.1 0 5.7 1 1.1 1.2 3.4 3.3 3.2 1.2.2 1 1 1.7.1zM402.8 43.5l2.3-2 3.5-5.1 3.3-3 4.6-2.5 5.6-1.1 6.9.9 4.5 2.3 4.6 4.6 3.3 6.1 1.2-.4 3.4-6.5 3.6-3.8 4.3-2.4 3.2-1 3.7-.3 5.6.9 5.6 2.8 5.1 5.7 3 2.5 1.1-1.3 1.2-3.5 3.3-4.7 4.6-3.3 6.7-2.2.2-1.1-7.3-6.8-1.9-2.7-1.8-5.3 0-4.5-86 0-.7 5.7-2.3 4.9-2.4 3-6 4.6-1.7 2.2 5.5 2.3 4.6 3.3 3.1 4.6 2.4 6.8zM525.5 43.4l4.5-6 4.5-4.4 4.6-2.3 5.7-.9 0-24-22.4 0-.3 4.2-1.2 3.7-2.2 3.7-3.1 3.2-5.8 4.5-.5 1.1 6 2.6 5.1 4.2 2.6 4.6 1.3 5.1 1 .5zM356.3 39.9l1.1 1 1.1 0 2.3-5.6 3.4-4.2 3.4-2.4 7.4-2.5.2-1.1-7.6-6.8-2.2-3.4-1.2-3.2-.2-5.9-22.5 0 0 23.7 4.6 1.3 3.7 2.2 6.5 6.8zM380.1 18.5l2.3.4 5.7-1.9 5.1-5.5 1.4-5.7-25.7 0 0 2.3 1 1.6.2 1.8 2.5 3.4 4.1 3 3.1.4zM502.8 18.8l5.6-.7 3.5-2.2 2.9-3.3 1.1-2.3.4-4.5-24.8 0 .3 4.5 2 3.4 3.3 3.3 1.1.1 1.2 1 2.6.2z"/><path fill="#fc7c20" stroke="#707070" stroke-width="0.35" stroke-opacity="0.18" d="M342.6 208.8l20.3 0 .7-3.4 1.5-3.4 6.3-8 .3-1.1-.7-.7-4.5-2-3.7-3-2-2.5-2.4-5.4-1-.6-2.3 1.2-5.6 5.7-3.4 1.8-4.6 1.2 0 20.2zM369.9 208.8l24.8 0-1.2-3.4-5.4-5.5-2.3-1.1-4.5-.2-4.6.5-2.2 1.8-1.2.2-3.2 4.3-1.1 3.4zM400.6 208.5l84.5.3 1.5-5.7 2.5-3.9 3.9-4 .9-2.3-5.9-3.1-2.3-1.8-2.6-3-3-6.4-3.4 1.8-4.3 4.6-4.8 2.7-6.8 1.1-5.7-1.2-4.4-2.6-2.2-2.3-2.5-3.9-.3-2.9-2-2.2-1.1-.3-4.6.8-2.4-1.7 0-4.5-1-1.1-.4-2.3-5.2-5.5-1.2-.1-1.1-1-6.8 0-4.6 2.2-3 3.2-.2 1.2-1.1 1.1-.6 4.5.6 4.6 1 1.1.1 1.1 3.2 3.3 3.4 2.1 8 .2 3.4-1.8 2.3-2 3.4.4 0 2.3-3.4 3-4.6 2.9-2.8 1-5.1.4-4.6-1.2-3.4-1.8-2.4-2-4.4-5.3-2.3-1.1-1.9 5.3-2.1 3.4-2.8 2.8-5.2 2.9 0 1.1 1.4 2.3 5.5 5.7 2.2 4.5.5 2.3zM492.5 208.8l23.8 0-.1-2.3-1.1-1.1-.1-1.1-3.1-3.3-3.5-2.2-9 0-1.2 1.1-1.1 0-4.3 4.4-.1 1.1-1.1 1.1-.2 2.3zM523.2 208.8l21.6 0 0-20-4.8-.4-4.3-1.6-3.4-2.4-4.5-5.5-2.3-1.5-1.2 1.6-1.8 4.8-2.7 3.6-3.4 2.7-3.5 1.7 1.4 3.4 3.8 3.4 2.4 3.4 1.9 4.5.4 2.3zM379 182.8l1.1.6 1.7-.7 2.9-.2 1.1-1 1.1-.1 4.4-4.4.1-1.1 1-1.1.2-2.4.9-1 0-2.3-1-1.1-.1-2.3-1-1.1-.1-1.2-4.4-4.3-1.3-.2-.9-1-9.1.1-3.4 2.2-2.1 2.1-2.3 4.5.1 8 .9.9.2 1.3 4.3 4.4 1.1 0 1.2 1.1 3.3.2zM378.9 177l-1-1-1.2 0-2.3-2.3-.1-2.3-1-1.2 1-1.1.1-2.4 2.3-2.2 1.2 0 1.1-1.1 2.3 0 1.1 1.1 1.1 0 2.4 2.3.1 1.2 1 1.1-.1 3.4-3.4 3.5-1.1 0-1.1 1.1-2.3 0zM501.6 183.2l5.7-.7 1.1-1.1 1.2-.1 3.2-3.1.2-1.2 2.1-3.4 0-6.8-1-1-1.3-3.5-2.1-2.1-1.1-.1-2.3-2.1-9.1-.1-1.1 1.1-1.1.1-4.4 4.3-2.3 5.7.1 3.4 1 1.1.1 2.3 5.5 5.5 2.2 1.1 2.8.2zM500.8 177l-3.7-2.2-.1-1.2-1.1-1.1 0-4.5 3.3-3.4 1.3-.1 1.1-1.1 1.8 0 1.6 1.1 1.2 0 2.3 2.3 0 6.8-2.3 2.4-1.2 0-1.1 1.1-2.3 0zM342.6 182.5l1.2-1 1.1-.1 5.5-5.5 0-1.1 1-1.2.1-6.8-1.3-3.4-1.9-2.1-3.4-3.1-2.3-.4-1.1-1 0 25.7zM456.2 182.3l9.1.1 1.1-1 1.2-.2 4.3-4.2.1-1.1 1-1.1.2-2.4.9-1 .1-2.3-1.1-2.3-.1-2.2-2.2-3.4-2.1-1.9-3.6-1.5-.9-1-6.9.1-5.6 3.5-3.2 4.2-.2 2.7-1 2.9 1 2.3-1.1 1.1.2 3.4 2 2 2.3.2 2.2 2 1.4.4zM541.4 182.5l3.4.1 0-24.7-3.4.1-1.2 1-1.1.1-5.4 5.5-1.2 3.4 0 4.5 1.1 3.4 5.5 5.5 1.2.2zM441.4 164.1l1.2-.3 3.4-5.9 4.5-4.2 4.6-2.1 5.7-.9 4.5.6 4.9 1.9 4.2 3.2 3.4 3.9 2.3 1.1 2.4-4.8 3.2-4 3.4-2.5 6.4-2.5-1-2.3-4.9-4.5-1.6-2.2-1.7-3.5-1-5.7 1.2-5.7 2-3.4 4.7-5.6.5-.1.1 2.3 1.1 1.2 0 1.1-1.2 1.1-1.9 3.4-.2 8 2.8 4.5 3.8 3.2 3.4 1.2 5.7-.1 4.6-2.9 3.2-3.7.1-1.1 1-1.1 0-6.8-1-1.2-.1-1.1-1-1.1-.2-1.2-2-2-3.5-1.9-6.8-.5-1.3-1.2-2.2-2.3 1.2-1.1.1-.8 3.3-1.5-.2-1.1-3.1-1.4-2.3-2-1.2 0 3.5-.3 2.2-2.1 5.7-.1 3.4-1.3 4.3-4.2.1-1.1 1.1-1.1 1.1-5.7-.9-1.8-.2-2.7-2.1-2.3-.3-1.1-4.2-3.2-3.4-1.2-4.6 0-3.4 1.2-4.3 3.2-2.3 3.4-.1 2.2-.8 1.2-.2 3.4 1 1.1.1 2.3 2.2 3.4 0 4.5 1.1 1.1-2.4-.6-3.4-2.8-2.9-4.5-1.2-4.5 0-3.4 1.3-5.7 2.8-4.5 3.5-3.5 1.2-3.4-4.7-1.9-3.4-2.5-2.9-3.5-2.7-5.9-2.3 1-4.8 4.9-4.3 2.7-5.7 1.5-4.5-.1-2.6-.7-3.1-1.4-3.7-3.1-3.1-4.6-.1-2.2-3.3-3.4-3.4.1-1.2 1.2-1.3-1.3-1.1-1.2 0-3.4-1.2-3.4-1-1.1-.1-1.1-3.2-3.1-1.3-.3-1-1-2.3-.2-1.1-.9-2.3 0-2.2 1-2.3.2-3.6 3.1-2.5 3.4-1 5.7.5 3.4 1.1 2.3 5.5 5.3 2.5.3.9.8 3.4.2 1.9-1 1.5 0 2.3-1.2 2.2-2.2 2.7 0 .8.9 0 1.9-4.6 3.8-4.4 2.5-3.5.8-4.6-.1-4.5-1.4-2.3-1.4-2.9-2.4-3.9-4.9-2.3-1.1-1.6 4.8-2 3.4-3.2 3.3-4.3 2.4-1 1.1 1.1 2.3 3.7 3.4 3.2 4.6 1.9 5.8.2 4.4-1.4 5.6-2.7 4.6-2.9 3-3.5 2.1-4.3 1.7-.6 1.1 6.1 2.8 4.8 4 2.3 3.4 1.4 3.4.8 6.8-.9 4.5-2.1 4.6-2.8 3.4-4.4 3.4-1.4 2.4.8 1 3.8 1.5 3.9 3 2.6 3.4 2.5 6.6 2.3-1.1 4.5-5.5 3.5-2.7 5.6-2.3 5.7-.3 5.7 1.3 4.5 2.6 3.6 3.7 2.7 4.5zM525.5 163.2l2.3-1.6 4.5-5.5 3.4-2.4 4.5-1.9 4.6-.5 0-84.6-4.6-.2-5.6-2.3-3.4-2.8-3.6-4.6-2.1-1.4-1.2 1.6-1.5 4.4-2.4 3.4-2.9 2.6-4.7 3 1.1 2.3 3.7 3.4 2.7 3.4 1.8 4.2.8 7.2-1.3 5.6-2.9 4.9-2.3 2.3-3.4 2.3-4.8 1.9-.6 1.1 8.5 4.5 4 4.6 2.4 5.6.3 6.8-1.6 5.7-3 4.6-5.2 4.3-1.7 2.5.8 1.1 4.3 1.8 3.4 2.7 2.6 3.4 2.3 5.7zM357.4 161.3l1.1-.3 1.8-4.4 3.9-4.5 3.5-2.3 5.7-2.2-1.2-2.5-4.8-4.3-1.6-2.3-1.6-3.3-.9-4.7.9-6.4 1.3-2.6 5.5-6.8.1 1.1 1.2 1.1.2 2.3-2.5 3.4-.1 1.8-1 1.6 0 3.4 2.3 5.7 3.2 3.2 4.6 2.2 5.7 0 4.5-2.2 3.2-3.2.1-1.2 1-1.1 1-4.5-1-4.6-.9-1-.2-1.2-4.3-4.4-1.2 0-1.1-1.1-6.8-.1-2.7-3.5.4-1.5 3.9-1.9-.3-1.1-4.7-2.3-1.2-1.1-1 0 3.3-.1 2.9-2.2 6.2-.2 1.1-1 1.2-.1 5.4-5.5 1.2-3.4 0-5.7-1-1.1-.5-2.3-1.7-2.1-2.3-2.2-3.5-1.3-1-1-5.7 0-1.4 1-2 .3-1.2 1-4.3 4.3 0 1.2-1.1 1.1 0 7.9 1 1.2 0 1.1 1.1 1.1 0 4.6 2.3 2.2-.1 1.1-5.7-3.9-1.6-1.7-2.4-4.5-.8-3.4.1-4.6 1.8-5.6 1.8-2.9 3.9-4 1.2-2.2 0-1.2-4-1.6-4.2-2.9-3.4-4.5-1.5-3.9-1.1-.8-2.3 1.2-3 3.5-3.8 2.9-4.5 1.9-2.3.4 0 84.4 3.4.8 4.6 2.3 3.4 3 2.2 2.8 2.2 1.3zM376.7 60.7l1.2.5 5.6 0 1-1 3.6-1.3 4.3-5.5.2-2.8.9-1.7-.9-2.8-.2-2.9-4.3-5.4-1.2-.1-3.4-2.2-5.6 0-2.3 1.1-1.2 0-5.5 5.5 0 1.1-1.1 1.2 0 7.9 1.1 1.1 0 1.2 5.5 5.5 1.9.1zM377.7 54.6l-1-1.1-1.1 0-.1-1.2-1.2-1.1-.9-3.4.9-1.2 0-1.1 1.2-1.1 0-1.2 1.2-.1 1.2-1.1 5.4.1 2.6 2.3 0 1.1 1.1 1.1 0 3.4-1.1 1.2 0 1.1-3.2 2.3-4.8.1zM458.5 61l3.4.2 2.3-1.1 2.2-.2 6.4-6.5.4-2.7 1-1.8 0-2.3-1-1.5-.2-1.9-2-3.2-3.4-3.4-6.8-2.2-6.9 2.2-4.3 4.4-.1 1.1-1.1 1.1-.1 2.4-1 2.2.6 2.2-.7 4.6 2.2 2.1 1.4.1 4.3 3 2.4.4zM499.4 61.2l5.6 0 1.2-1 2.2-.2 5.5-5.4.2-1.4 1-.9 0-7.9-1-1-.2-1.3-5.5-5.5-2-.2-1.4-.9-5.6 0-1.2 1.1-1.1 0-1.1 1.1-1.2.1-3.2 3.2 0 1.1-1.1 1.1-.2 2.4-1 1 0 3.4 1 1.1.2 2.3 1.1 1.2 0 1.1 3.2 3.2 3.6 1.3zM499.3 54.6l-2.3-2.3 0-1.1-1.1-1.2 0-3.4 1.1-1.1 0-1.1 2.3-2.3 5.7-.1 3.5 3.5 0 5.7-3.5 3.5-5.6-.1zM542.5 60.5l2.3.7 0-25.7-4.6 1.1-1.1 1.1-1.1.1-3.2 3.2-2.2 4.5 0 5.7 2.2 4.5 3.2 3.2 1.1.1 1.1 1.1 2 .1zM342.6 60.1l3.5-1.2 3.1-3.2 1.3-3.4 1-1.1 0-6.8-2.2-3.4-.2-1.2-1.9-2-3.4-2.3-2.3-.1 0 24.8zM402.8 41.2l2.3-1.1 4.5-5.5 2.3-1.9 4.6-2.4 5.6-1.1 6.9 1 4.5 2.2 4.3 4 3.6 5.7 1.2-.3 3-5.4 3.8-3.9 5.8-2.9 4.4-.8 5.7.5 3.4 1.2 4.1 2.5 4.2 4.6 3.1 1.8 2.7-5.2 2.9-3.5 3.4-2.5 5.7-2.1.6-1-1.3-2.3-3.9-3.4-2.6-3.4-1.9-5.1-.2-5.1-84.7 0-.8 5.7-1.7 4.1-2.8 3.8-5.2 4.3-1.2 2.5 5.8 2.7 2.3 1.9 4 5.6 1.5 4.6zM525.5 41.2l2.3-1.5 4.5-5.5 3.4-2.5 3.4-1.5 5.7-1 0-23.4-21.9 0-.7 5.7-1.9 4.5-2.7 3.4-4.3 3.4-1.8 2.3-.2 1.1 6.7 3.4 3.4 3.4 3.8 8zM356.3 38.8l1.1.5 1.1-.3 2.9-6 2.8-3 3.4-2.2 4.9-1.6.8-1.1-1.4-2.3-4.9-4.5-2.1-3.4-1.6-5.7.1-3.4-21.9 0 0 23.2 4.6 1.2 3 1.7 7.1 6.8zM381.3 18.8l4.5-.7 2.3-1.1 2.2-2.1 2.8-3.4 1.4-5.7-25.6 0 .1 2.3.9 1.3.2 2.1 2.7 3.4 3.9 2.9 3.5.5zM502.8 18.6l5.6-.5 3.5-2.3 2.8-3.2 1.5-3.4 0-3.4-24.7 0 .4 4.5 2 3.4 3.2 3.2 1.1.1 1.2 1.1 2.9.2z"/><path fill="#fc8810" stroke="#707070" stroke-width="0.35" stroke-opacity="0.18" d="M342.6 208.8l19.7 0 1.1-4.5 1.7-3.4 4.9-5.7 0-2.3-4.6-2.1-3.1-2.4-2.6-3.4-2.3-4.7-2.3.5-4 4.2-2.8 1.9-6.8 2.3 0 19.6zM369.9 208.8l24.7 0-1.1-3.4-5.4-5.4-1.2-.2-1.1-1-3.4-.1-4.5.1-4.6 2.4-1.8 1.9-2.5 4.6 0 1.1zM401.7 208.8l82.8 0 .7-3.4 1.7-3.8 5.2-6.4.3-1.2-.3-1.1-3-1.2-4.6-3.3-2.2-2.7-2.2-4.6-1.2-.9-1.1.3-6.8 6.1-5.7 2.3-6.8.2-4.6-1.4-3.4-2.1-3.4-3.7-1.1-1.7-.5-4.3-1.8-2.1-4.5 0-1.2.5-2.4-1.8-.1-4.5-.9-1.1-.5-2.3-5.1-5.4-1.2-.1-1.1-1-6.8-.1-4.6 2.3-2.9 3.1-1.3 2.3-.5 4.5.5 4.6 1 1.1.1 1.1 3.1 3.2 3.4 2.1 8 .3 1.1-1 1.2-.1 3.4-3.3 1.1 1 2.3 0 .1 1.2 1 1.2-7.9 6-3.5 1.3-4.5.5-4.5-.8-4.6-2.2-3.4-2.8-2.4-3.2-2.1-1.1-1.1 1.1-1.3 3.4-2.2 3.3-2.2 2.3-5 3.5.8 2.3 4.2 4 1.8 2.8 2.2 6.8zM492.5 208.8l23.8 0-.2-2.3-1-1.1-.1-1.1-4.3-4.3-1.1-.1-1.2-1-3.4-.2-5.6.2-1.2 1-1.1.1-4.3 4.3-.1 1.1-1 1.1-.2 2.3zM523.2 208.2l.1.6 21.5 0 0-19.5-4.6-.3-5.6-2.2-2.3-1.7-4.5-5.1-1.2-.6-1.1.1-2.4 5.5-2.7 3.4-6.1 4.5.8 2.3 2.6 2.2 2.8 3.5 2.1 4.5.5 2.3zM380.1 183.3l4.6-.8 1.1-1 1.1-.1 4.4-4.4.1-1.1 1-1.1.1-2.3 1-1.1 0-2.3-1-1.1-.1-2.3-1.1-1.1 0-1.2-4.4-4.3-1.1 0-1.1-1.1-9.1 0-3.4 2.2-2.1 2.1-2.3 4.5.1 8 1.1 1.1.1 1.1 4.2 4.3 1.1.1 1.2 1.1 3.5.2zM378.9 177l-1-.9-1.2-.1-2.3-2.2-.1-2.4-1-1.2 1-1.1 0-2.3 2.4-2.4 1.2 0 1-1 2.4-.1 1.1 1.1 1.1 0 2.4 2.4.1 1.2 1.1 1.1-.1 3.4-3.3 3.4-1.3.2-1.1 1.1-2.3-.1zM501.6 183l1.2.3.9-.6 3.6-.2 1.1-1.1 1.2-.1 3.2-3.1.1-1.2 2.2-3.4 0-6.8-1.1-1.1-.1-1.1-2-3.2-4.6-3.3-9.1-.1-1.1 1.1-1.1 0-4.4 4.3-2.2 5.7 0 3.4 1.1 1.1.1 2.3 5.4 5.5 1.1.1 1.1 1 3 .2zM500.5 177l-3.5-2.2 0-1.2-1.1-1.1 0-4.5 3.5-3.6 1.1 0 1.1-1.1 2.2.1 1.2 1 1.2.1 2.3 2.3.1 6.8-2.4 2.4-1.2 0-1.1 1.1-2.3.1zM342.6 182.4l1.2-1 1.1-.1 5.4-5.4 1.2-3.4 0-5.7-1.4-3.4-4-4.3-4.6-2.2 0 25.6zM456.2 182.2l9.1.1 3.4-2.1 3.1-3.2.1-1.1 1.1-1.1.1-2.3.9-1.1.1-1.2-1.1-5.6-3.2-4.3-5.6-3.4-6.9 0-5.6 3.6-3.1 4.1-.3 3-1 2.6 1 2.1-1 1.3.3 3.4 1.8 1.8 2.3.4 3.7 2.4zM541.4 182.5l3.4.1 0-24.6-3.4 0-1.2 1.1-1.1.1-5.4 5.4-.3 2.2-.8 1.2 0 4.5 1.1 3.4 5.4 5.4 1.3.3zM441.4 162.8l1.2-.3 3.7-5.9 4.2-3.5 3.4-1.7 5.7-1.2 4.6.3 5.6 1.9 4.4 3.1 3.1 3.4 1.6.8 1.2-.4 2.2-4.4 3.4-3.8 3.4-2.2 3.6-1.3 1.1-1.2-.4-1.1-6.1-6.8-1.6-3.5-.9-4.5.4-4.5 1.1-3.4 2.8-4.5 3-3.4 1.7 0 0 2.2 1.2 1.2-.1 1.1-1.1 1.1-2.2 4.6.1 6.8 3.1 4.8 3.4 2.9 1.2.1 1.1 1 6.8 0 1.1-1.1 1.2 0 2.3-2.1 3.1-3.4.1-1.1 1-1.1 0-6.8-1.1-2.3-1-1.1-.2-1.2-1.9-2-1.2-.2-3.4-2.1-5.7 0-3.5-3.6 1.1-1.1.2-1.6 1.2-.7-.1-1.2-1.1-.5-2.3-2.7-1.4-.1 3.7-.4 2.2-2 5.7-.1 3.4-1.4 4.3-4.1.1-1.1 1-1.1.1-2.3.8-1.1.3-2.3-1.1-2.3-.1-2.2-2.1-2.3-.3-1.1-4.1-3.2-3.4-1.1-5.7.1-.8.8-1.5.2-4.2 3.2-.3 1.1-2 2.3-.1 2.2-1.1 2.3 1.1 5.7 2.2 3.4 0 4.5 1.1 1.1-.1.4-2.3-.2-3.4-2.8-2.3-3-1.6-3.4-.8-4.6.3-4.5 1-3.2 2.3-4.2 3.7-4 .7-2.2-5.8-3.4-2.6-2.3-2.5-3.4-1.5-3.4-1.1-.8-1.1.3-6.8 6-4.6 2-5.6.7-5.7-1.1-2.9-1.4-3.9-3.4-2.3-3.1-.1-3.7-3.3-3.4-3.4.2-1.2 1.1-2.4-2.5-.1-3.4-1.1-3.4-1-1.1-.2-1.1-2-2.1-3.4-2.2-2.3-.2-1.1-.9-2.3 0-2.2 1-2.3.2-3.4 3-2.6 3.4-.6 1.2-.3 4.5.3 3.4 1.2 2.3 5.4 5.2 2.3.3 2.2 1.1 5.7-1.1 1.1-1 1.2-.2 2.3-2.2 2.7.1.7.7.4 2.7-3.8 3.3-3.4 2.1-3.5 1.3-4.5.5-4.5-.8-4.6-2.1-3.6-3.1-2.1-2.8-2.2-1.2-.8.6-3.5 6.8-2.5 2.6-4.9 3 .3 2.3 4.6 4.6 3.1 5.6 1 4.6-.1 4.5-1.2 4.5-2.8 4.9-3.1 3.1-6.3 3.4-.4 1.1 6.4 3.7 4 4.2 2.4 4.6 1.2 6.8-.8 5.1-1.5 3.9-2.3 3.5-5.2 4.5-.7 2.3 4 2 3.4 2.6 2.3 2.9 3.2 6.1 1.3-.3 4.5-5.1 4.6-3.1 4.5-1.6 4.6-.4 5.7.9 4.5 2.2 4.5 4 3 4.5zM526.6 161.2l1.2-.6 3.2-4 3.6-2.9 4.5-2.1 5.7-.9 0-83.4-5.7-.5-3.4-1.4-4.1-2.9-3.8-4.5-1.2-.6-1.1.2-2.1 4.9-2.5 3.4-2.6 2.3-3.8 2.2.3 2.3 5 5.2 3 6.2.7 5.6-.9 5.7-.9 2.3-3 4.5-4 3.4-4.7 2.3-.4 1.1 5.7 3.2 3.4 3.1 2 2.8 2 4.5.8 5.7-.6 4.5-1.1 3.4-2.9 4.6-5.1 4.5-.7 2.3 4.3 2.2 2.9 2.3 2.9 3.7 2.7 5.4zM355.1 159l2.3.7 2.3-4.2 3.4-4 4.5-2.9 2.9-1 1.1-1.2-.3-1.1-4.6-4.5-2.2-3.5-1.3-3.4-.6-4.5 1.6-6.8 1.2-2.3 4.5-5.6 1.2 0 1.7 4.5-2.6 3.4-.3 2.3-.9 1.1 0 3.4 2.3 5.7 4.3 4 3.4 1.4 5.7 0 4.5-2.3 3.1-3.1.1-1.2 1.1-1.1.1-2.3.9-2.2-1-4.6-2.2-3.4-3.2-3.1-1.2-.1-1.1-1-6.8-.1-2.9-3.6.6-1.9 1.8-1.5-.1-1.1-1.7-.9-2.3-2.4-1.2-.1-1-1.1-1.2.5-1.1-.7-2.6-2.1-2.7-3.4-2.3-6.8.3-5.7 2.1-5.7 4.9-5.7.7-2.2-7.2-4.5-2.3-2.4-3.4-6.3-1.1-.1-1.2.5-3.5 3.7-3.1 2.3-3.6 1.6-3.4.7 0 83.3 3.4.8 4.6 2.3 3.4 2.8 2.1 2.6zM374.4 104.4l2.3-.1 2.6-2.1 6.5-.3 1.1-1 1.2-.1 5.4-5.4 1.1-3.4 0-5.7-1-1.1-1.2-3.4-3.2-3.2-3.4-1.2-1.1-1-5.7 0-1.2.9-2.2.3-5.4 5.3-.1 1.2-1.1 1.1 0 7.9 2.2 3.4 0 4.6 2.2 2.2zM376.7 60.5l1.2.7 5.6-.1 3.4-2.2 1.2-.1 4.3-5.4 0-2.2 1.1-2.3-1.1-3.4 0-2.3-4.3-5.4-1.2-.1-1.1-1.1-1.1 0-1.2-1-5.6-.1-3.5 1.2-5.4 5.4-.2 1.3-1 1 0 7.9 1.1 1.1.1 1.2 5.4 5.4 2 .2zM377.7 54.6l-1-1-1.2-.2-.1-1.1-1.1-1.1 0-1.2-1-1.1 1-3.4 1.1-1.1.1-1.2 1.2-.1 1.2-1.1 5.6.1 2.3 2.1.1 1.3 1.1 1.1 0 3.4-1.1 1.2 0 1.1-3.1 2.3-4.9.1zM458.5 60.9l4.5.1.9-.8 2.5-.4 1.2-.9 5.1-5.5.5-2.8.9-1.7 0-2.3-.9-1.3-.2-2.1-2-3.2-3.4-3.3-6.8-2.3-6.9 2.3-3.2 3.1-2.2 3.4-.1 2.3-1.1 2.3.9 2.2-.9 2.3 0 2.3 2.1 2.1 1.6.1 4.1 2.9 2.6.5zM499.4 61.1l5.6.1 1.1-1 2.3-.2 5.5-5.4 0-1.2 1.1-1.1 0-7.9-1.1-1.2 0-1.1-5.5-5.4-2.2-.3-1.2-.9-5.6 0-1.2 1.1-1.1 0-1.1 1.1-1.2.1-3.1 3.2-.1 1.1-1.1 1.1-.1 2.3-1 1.1 0 3.4 1 1.2.1 2.2 1.1 1.2.1 1.1 3.1 3.2 3.6 1.3zM499.3 54.6l-2.3-2.3-.1-1.1-1.1-1.2 0-3.4 1.1-1.1.2-1.3 2.3-2.2 5.6 0 3.6 3.5 0 5.7-3.6 3.5-5.6-.1zM543.7 61.1l1.1.1 0-25.6-4.6 1.1-.9.9-1.3.2-3.2 3.2-.1 1.1-2 3.4 0 5.7 2 3.4.1 1.1 3.2 3.1 1.3.3.9.9 2.3.2zM342.6 60l1.2 0 1.1-1.1 1.2-.1 3.1-3.1 1.2-3.4 1.1-1.1 0-6.8-1.1-1.2-1.4-3.4-1.8-2-1.1-.2-2.3-2-2.3-.1 0 24.7zM441.4 40.8l1.2-.2 3.2-5.3 4.7-4.2 4.6-2 4.5-.8 4.6.2 4.5 1.4 4.9 3.1 4.2 4.3 1.1.5 1.2-.3 2.1-4.5 3-3.4 3.9-2.6 4.6-1.9-.6-2.3-4.6-4.5-2.1-3.4-1.4-4.6-.1-4.5-83.6 0-.4 4.5-1.6 4.6-3.1 4.5-4.1 3.4-1.2 2.3.6.9 4.7 2.5 3.2 3 2.3 3.6 1.5 3.6.8.6 1.4-.6 4.2-4.8 5.7-3.7 4.6-1.3 4.5-.2 5.7 1.3 3.4 1.8 4.1 3.5 3 4.5zM525.5 39.1l2.3-.5 4.5-5.2 4.5-2.9 4.6-1.5 3.4-.3 0-22.9-21.3 0-.7 5.7-1.3 3.4-2.8 4.2-4.5 3.7-1.2 2.3 5.7 3.6 3.4 3.4 3.2 6.6zM356.3 37.7l1.3-.1 3.2-5.6 3.4-3.4 7.3-3.5-.5-2.3-3.4-3-2.8-3.8-1.7-4.5-.3-5.7-21.3 0 0 22.7 4.6 1.2 3.4 1.8 6.6 6.1zM381.3 18.6l4.5-.6 2.3-1.1 2.1-2 2.2-2.3 1.1-2.3.9-4.5-25.4 0 0 2.3.9 1.1.3 2.3 2.7 3.4 3.8 2.8 3.9.6zM502.8 18.4l1.1.3 4.5-.7 3.5-2.2 2-2.1 2.2-4.5.1-3.4-24.6 0 0 3.4 2.3 4.5 3.2 3.2 1.1.1 1.2 1 3.2.3z"/><path fill="#fc9020" stroke="#707070" stroke-width="0.35" stroke-opacity="0.18" d="M342.6 208.8l19.1 0 .7-3.4 1.8-4.2 4.8-6-.2-1.5-5.7-3-2.4-2.3-4.4-6.8-1.2.2-5.6 5.1-3.4 1.7-4.6 1.1 0 19.1zM369.9 208.8l24.7 0-1.2-3.4-5.3-5.4-2.3-1.1-2.3-.1-5.6.1-4.6 2.4-3.1 4.1-1.1 3.4zM401.7 208.2l.1.6 82.1 0 1.8-6.4 2.3-3.6 3.2-3.6 0-1.2-6.6-4-3.5-3.9-2.2-4.4-1.1-.1-6.8 5.7-5.7 2.2-6.8.2-4.6-1.3-3.7-2.3-4.2-4.5-.2-4.6-2.1-3-3.4-.2-2.3.7-2.5-2 0-4.5-1-1.2-.5-2.2-5-5.4-1.2-.1-1.1-.9-6.8-.1-4.6 2.2-4.2 5.4 0 9.1 1 1.1.1 1.1 3.1 3.2 3.4 2 8 .3 1.1-1 1.2-.1 3.4-3.3 1.1 1 2.5.2 0 1.1 1 1.2-.1 1-7.9 5.8-5.7 1.5-3.4 0-4.6-1.1-3.4-1.6-6.8-6.4-1.1.3-3.4 6.4-3.4 3.3-3.4 2.1-.5 1.1 5 5.7 2.3 4.4 1 3.6zM492.5 208.8l23.7 0-.1-2.3-1.1-1.1-.1-1.1-3-3.2-3.5-2.2-9 0-1.2 1.1-1.1 0-4.2 4.3-.1 1.1-1.1 1.1-.1 2.3zM524.3 208.8l20.5 0 0-18.9-3.4-.1-4.6-1.2-4.5-2.7-4.5-4.9-1.2-.2-4.5 7.6-6.2 4.5-.4 1.1.6 1.2 3.5 3.4 2.2 3.4 2.1 6.8zM380.1 183.2l4.6-.7 1.1-1.1 1.1-.1 4.3-4.3.2-1.1 1-1.1.1-2.3.9-1.1 0-2.3-.9-1.1-.1-2.3-1.1-1.1-.1-1.2-4.3-4.2-1.1-.1-1.1-1.1-9.1.1-3.4 2.2-2 2-2.3 4.5.1 8 1 1.1.1 1.1 4.2 4.3 1.1 0 1.2 1.1 3.6.3zM378.8 177l-.9-.9-1.2 0-2.3-2.3-.2-2.4-1-1.2 1-1.1.1-2.3 2.4-2.4 1.2 0 1.1-1.1 2.3 0 1.1 1.1 1.1 0 2.5 2.4.1 1.2 1 1.1-.1 3.4-3.5 3.6-1.1 0-1.1 1.1-2.3 0zM501.6 182.9l1.2.3 1.1-.6 3.4-.2 1.1-1.1 1.2-.1 3.1-3 1.3-3.4 1-1.2 0-6.8-2.2-3.4-.1-1.1-2-2-1.1-.2-2.3-2-9.1-.1-1.1 1.1-1.1 0-4.3 4.3-2.3 5.7.1 3.4 1 1.1.1 2.3 5.4 5.4 1.1.2 1.1 1 3.2.2zM500.5 177l-3.5-2.2-.1-1.2-1.1-1.1 0-4.5 3.6-3.6 1.1 0 1.1-1.1 2.3.1 1.1 1 1.2 0 2.4 2.4 0 6.8-2.4 2.5-1.2 0-1.1 1.1-3.4-.1zM342.6 182.4l1.2-1.1 1.1 0 5.4-5.4 1.1-3.4 0-5.7-2.2-4.5-3.1-3.1-3.5-1.3-1.1-1 0 25.5zM456.2 182.1l2.3.4 6.8-.3 2.3-1.2 3.1-2.8 2.2-3.4.2-2.3 1-2.3-1.1-3.4-.1-2.2-3.1-4.2-5.6-3.4-6.9 0-5.6 3.5-3.1 4.1-.3 3.2-.9 2.4 1 2.3-1 1.1-.1 2.3 2.1 2.7 2.3.5 3.9 2.5zM541.4 182.4l3.4.1 0-24.5-3.4.1-1.2 1-1.1.1-5.3 5.4-.3 2.2-.9 1.2 0 4.5 1.2 3.4 5.3 5.4 1.3.3zM441.4 161.6l1.3-.4 3.3-5.1 3.4-3 4.5-2.3 5.7-1.2 4.3.2 4.8 1.4 4.5 2.7 4.6 4.5 1.1.1 2.3-4.1 3.4-3.8 4.5-3 3.1-1.2.1-1.1-4.2-4.5-2.4-4.1-1.1-3.4-.4-3.9.3-3.4 1.1-3.4 3.5-5.7 2.3-2.5 2.3.1.2 2.4 1.1 1.2 0 1.1-1.1 1.1-2.3 4.6.1 6.8 3.1 4.6 3.4 3 1.2.1 1.1 1 6.8 0 1.1-1 1.2-.1 2.3-2 3.1-3.4.1-1.1 1-1.1 0-6.8-1-1.2-.1-1.1-3.1-4.2-1.2-.2-3.4-2.1-5.7-.1-1.1-1-2.5-2.6 1.2-1.1-.2-4.6-1.9-2-1.7-.2 4-.5 2.2-2 5.7-.1 3.4-1.4 4.2-4 .1-1.1 1.1-1.1 1.1-5.7-.8-1.4-.3-3.1-2.5-3.4-4-3.1-3.4-1.2-4.6 0-5.6 2.6-2 1.7-.3 1.1-2 2.3-.1 2.2-1 2.3 0 2.3 1 1.1.1 2.3 2.2 3.4 0 4.5 1.1 1.1-.2.6-1.1-.3-1.2.8-3.9-3.3-2.5-3.4-1.5-3.3-.8-4.7.6-5.6 1.3-3.7 2.3-3.6 2.9-3 .3-1.1-.6-1.1-2.6-1.1-4.6-3.5-2.2-2.9-2.3-4.4-1.1-.1-.9.6-5.9 5.1-4.6 1.9-4.5.7-3.4-.2-5.7-1.8-3.4-2.4-3.4-4-.2-4.9-3.2-3.3-3.4.1-1.2 1.2-2.5-2.6 0-3.4-1.2-3.4-2.2-3.4-4.3-3.1-2.3-.2-1.1-.9-2.3 0-2.2 1-2.3.3-5.4 5.2-1.1 2.3-.3 3.4.3 4.5 1.1 2.3 5.4 5.1 2.8.5 1.7.9 2.3 0 1.1-.9 2.3-.2 2.3-1.2 2.1-2 1.3-.2 2.3.7.1 1.8 1 1.5-7 5.3-4.4 1.6-4.5.5-5.7-1.1-2.2-1-3.5-2.4-3.4-3.8-1.1-.8-1.1.2-3.4 6.4-2.6 2.7-4.7 3.4.3 1.1 4.7 5.1 2.2 4 1.2 4.4.1 5.8-1.2 4.7-2.4 4.4-4.5 4.5-4.3 2.3-.4 1.1 5.3 3.4 4.2 4.5 2.1 4 .8 2.8.5 5.7-1.2 5.7-1.6 3.4-6.9 7.9 5 3.3 3.5 3.5 3.3 6.3 1.1.2 1.1-.8 3.4-3.8 4.6-3.1 4.5-1.5 4.6-.4 5.7.9 4.7 2.2 4.1 3.4 3.2 4.6zM448.2 118.1l-2.2-1.3-2-2.1-1-2.3.7-1.5 2.3.3 3.4 3.3.9 2.4-.7 1.2-1.3 0zM433.1 99.9l-.9-1.1-.4-3.4.5-3.4 1.2-1.2 1.1.4 1.3 4.2-1.2 4.5-1.2.3zM526.6 159.8l1.2-.2 3.5-4.1 4.4-3.1 3.4-1.5 5.7-.8 0-82.1-5.7-.6-3.4-1.3-3.4-2.2-4.5-4.8-1.2-.3-4.5 7.5-6.6 5.3.2 1.1 5.2 5.7 2.5 5.7.7 5.6-.9 5.7-2.1 4.5-2.4 3.2-4.6 3.6-2.6 1.2-.4 1.1 4.2 2.5 3.4 2.9 3.4 4.9 1.2 3.3.8 5.7-.8 5.6-3.5 6.8-5 4.6-.4 1.1 7.7 5.9 2.3 3.2 1.4 3.4zM355.1 158.1l1.2.4 1-.7 2.6-4.6 3.4-3.4 6.8-3.4.1-1.1-6-7.2-1.3-3-.9-5.7.4-3.4 1.6-4.5 4.9-6.8 2.3 0 0 1.1 1.2 1.1 0 1.2.8 1.1-2.9 3.4-.3 2.3-.9 1.1-.1 3.4 2.3 5.7 4.3 3.9 3.4 1.4 4.5.1 1.2-.1 4.5-2.2 3.1-3.1.1-1.2 1-1.1 1-4.5-1-4.6-1.9-3.1-3.4-3.3-1.2-.1-1.1-1.1-6.8-.1-3.1-3.6.8-2.2 1.1-1.2-1.1-1.2-.1-1.1-2.2-2.1-1.1 0-1.1-1.1-1.3 1-2-1.2-2.5-2.2-2.5-3.4-2.2-6.8.2-5.7 2.3-6 4.9-6.5-.6-1.1-4.5-2.3-3.2-2.9-4.5-6.9-1.2.2-5.4 5.1-3.6 1.8-4.6 1.1 0 82.1 6.9 2.3 4.5 3.3 2 2.4zM374.4 104.3l2.3-.1 2.3-2 6.8-.3 1.1-1.1 1.2 0 5.3-5.4 1.2-3.4 0-5.7-1-1.1-1.3-3.4-3.1-3.1-3.6-1.4-.9-.9-5.7 0-1.1.9-2.3.4-5.4 5.2 0 1.2-1.1 1.1 0 7.9 1 1.2 0 1.1 1.1 1.1.1 4.6 2.2 2.2zM376.7 60.4l1.2.7 5.6 0 1.2-1.1 1.1 0 1.1-1.1 1.2-.1 4.2-5.4.3-3.1.8-1.4-1.1-5.7-2-2.2-.2-1.2-2-1.9-1.2-.1-1.1-1.1-1.1 0-1.2-1.1-5.6-.1-2.3 1.2-1.2 0-5.4 5.4 0 1.1-1.1 1.2 0 7.9 1.1 1.1 0 1.2 5.4 5.4 2.2.2zM377.7 54.6l-1-1-1.2-.2-.1-1.1-1.1-1.1 0-1.2-1-1 0-1.3 1-1.1 0-1.1 1.1-1.1.2-1.3 1.1 0 1.2-1.2 5.7.2 2.4 2.3 0 1.1 1.1 1.1 0 3.4-1.1 1.2 0 1.1-3.1 2.3-5 .1zM458.5 60.8l4.5.1 4.6-2.1 5-5.4 1.5-5.6-1.2-4.6-1.9-3.1-3.4-3.4-6.8-2.2-6.9 2.2-4.2 4.3-2.3 6.8.9 3.2-.9 1.3-.1 2.3 2.1 2 1.8.2 3.9 2.8 2.7.6zM499.4 61.1l5.6 0 1.1-.9 2.3-.3 5.5-5.3 0-1.2 1.1-1.1 0-7.9-1.1-1.2 0-1.1-5.5-5.4-2.2-.2-1.2-1-5.6.1-3.4 2.1-1.2.1-3.1 3.2-.1 1.1-1.1 1.1-.1 2.3-1 1.1 0 3.4 1 1.2.1 2.2 1.1 1.2.1 1.1 3.1 3.1 3.7 1.4zM499.3 54.6l-2.4-2.3 0-1.1-1.1-1.2 0-3.4 1.1-1.1 0-1.1 2.5-2.4 5.6-.1 3.6 3.6 0 5.7-3.6 3.5-5.6 0zM543.7 61.1l1.1 0 0-25.5-4.6 1.1-3.1 2-2.2 2.3-2.3 5.6.2 4.6 2.1 4.5 3.1 3.1 1.1.1 1.1 1 2.4.3zM342.6 60l3.5-1.2 3-3.1 1.3-3.4 1-1.1 0-6.8-2.5-4.6-1.7-1.9-1.2-.3-2.2-2-2.3-.1 0 24.6zM441.4 39.6l1.2-.3 3.3-5.1 4.1-3.4 5.1-2.4 4.5-.7 4.6.2 5.3 1.7 3.8 2.3 4.5 4.4 1.1.1 4.5-6.8 4.6-3.4 4.4-2.2-.2-1.2-4.2-4.2-2.3-3.7-1.3-4.6-.1-4.5-82.4 0-.4 4.5-2.1 5.7-2.2 3.3-4.9 4.7.3 1.3 2.2.9 4.6 3.5 2.5 3.3 2.1 4.6 1.3 0 4.3-4.6 5.6-3.4 3.5-1.1 4.6-.4 4.5.6 5.7 2.4 3.8 3.1 3.3 4.5zM526.6 37.8l1.2-.3 4.1-4.5 3.8-2.6 4.5-1.7 4.6-.6 0-22.3-20.7 0-.7 5.7-1.3 3.5-2 3.3-5.6 5.7.1 1.1 4.1 2.2 3.4 3.1 4.2 7.2zM355.1 36.1l1.2.3 1.1-.9 3.4-5.3 3.4-3 5.7-2.8.4-.4-.4-1.2-3.4-3.3-2.3-3.4-1.7-4.6-.4-5.7-20.6 0 0 22.1 3.4.7 4.6 2.1 4.9 4.6zM381.3 18.5l4.5-.5 2.3-1.1 2.1-2 2.1-2.3 1.2-2.3.8-4.5-25.3 0 .1 2.3.9 1.1.2 2.3 2.9 3.4 3.6 2.7 4.2.7zM503.9 18.5l4.5-.5 1.2-1.1 1.1-.1 2.3-2.2 3.1-5.4 0-3.4-24.5 0 .1 3.4 1.5 3.4 1.6 2 2.3 2.2 1.1.1 1.2 1.1 3.7.3z"/><path fill="#fc9838" stroke="#707070" stroke-width="0.35" stroke-opacity="0.18" d="M342.6 208.8l18.5 0 .7-3.4 1.9-4.5 4.5-5.7-.7-1.2-3.3-1.6-3.4-2.7-2.3-2.8-2.2-4.3-1.2 0-5.6 5-3.4 1.6-4.6 1.1 0 18.5zM369.9 208.8l24.6 0-1.1-3.4-5.3-5.3-1.2-.2-1.1-1-3.4-.1-4.5.1-4.6 2.4-3 4.1-1.2 2.3 0 1.1zM402.8 208.8l80.5 0 1-4.5 1.4-3.1 4.7-6-.7-1.2-4-2-3.4-3-4.5-6.6-6.8 5.5-5.7 2.2-8 0-4.7-1.7-4.6-3.4-2.7-3.4.6-1.2-.2-3.4-2-2.9-4.5-.2-1.2.7-2.6-2.1 0-4.5-1-1.2-.5-2.2-4.9-5.3-3.5-1.2-5.6 0-4.6 2.3-4.1 5.3-.4 4.5.4 4.6 1 1.1.1 1.1 4.2 4 3.4 1.4 6.8 0 1.1-1 1.2-.1 3.4-3.2 1.1.9 2.3 0 .2 1.4 1.7 2.3-3.9 3.4-4.8 2.9-3.5 1.2-5.6.3-4.6-1.1-3.4-1.6-6.8-6-4.5 7-6.4 5.2 5.5 6.9 2.3 5.6.4 2.3zM492.5 208.8l23.6 0 0-1.1-1.2-3.4-4.2-4.2-1.1-.1-1.2-1-7.9-.1-3.4 1.2-4.2 4.2-.1 1.1-1 1.1-.2 2.3zM524.3 207.8l.2 1 20.3 0 0-18.3-5.7-.5-3.4-1.3-4.5-3-3.4-3.7-1.2.1-3.5 6.3-6.8 5.6 5.8 7.4 2.2 6.3zM380.1 183.1l4.6-.7 1.1-1 1.1-.1 4.3-4.3.1-1.1 1-1.1.1-2.3 1-1.1 0-2.3-1-1.1-.1-2.3-1-1.1-.1-1.2-4.3-4.2-1.1 0-1.1-1.1-9.1 0-3.4 2.2-2 2-2.3 4.5.1 8 .8.7.4 1.5 4.1 4.2 1.1.1 1.2 1.1 3.8.3zM378.8 177l-.9-.9-1.2 0-2.3-2.3-.2-2.4-1-1.2 1-1.1.2-2.5 2.3-2.2 1.2 0 1.1-1.1 2.3 0 1.1 1 1.1.1 2.5 2.4.1 1.2 1 1.1 0 3.4-3.6 3.6-1.1.1-1.1 1-2.3 0zM501.6 182.8l1.2.3 2.2-.7 2.3 0 1.1-1.1 1.2-.1 3.1-3 .1-1.2 2.2-3.4 0-6.8-1.1-1.1-.1-1.1-1.9-3.1-4.6-3.3-9.1-.2-1.1 1.1-1.1.1-4.3 4.2-2.3 5.7.1 3.4 1 1.1.2 2.3.7.8 4.6 4.6 1.1.1 1.1 1 3.4.3zM500.4 177l-3.3-2.1-.2-1.3-1.1-1.1 0-4.5 3.6-3.6 1.1-.1 1.1-1 2.4.1 1 1 1.2 0 2.4 2.4 0 6.8-2.4 2.5-1.2 0-1.1 1.1-3.4-.1zM342.6 182.3l1.2-1 1.1-.1 5.3-5.3 1.2-3.4 0-5.7-1.5-3.4-3.8-4.2-3.5-1.2-1.1-1 0 25.4zM456.2 182l1.1.4 8-.2 3.4-2.1 3-3.1.1-1.1 1.1-1.1.1-2.3 1-2.3-1.1-5.6-3.1-4.2-3.4-2.3-1.1 0-1.1-1.1-6.9 0-5.6 3.6-3 4-1.2 5.6.9 2.3-1 1.1 0 2.3 1.7 2.3 1.4.8 1.2 0 1.1 1.2 2.9 1.4zM541.4 182.4l3.4.1 0-24.4-3.4 0-1.2 1.1-1.1.1-5.2 5.3-.4 2.2-.8 1.2 0 4.5 1.1 3.4 5.3 5.3 1.4.4zM441.4 160.7l1.2-.6 2.2-3.5 4.6-4.2 4.5-2.2 4.6-1.1 4.5 0 5.7 1.5 4.6 2.6 4.5 4.3 1.1-.5 2.1-3.8 2.5-2.8 7.9-5-4-4.6-2.1-3.5-1.2-3.4-.5-4.5.3-3.4 1.8-5 2.6-4.1 3.1-3.4 1.1 1 1.4.2.1 2.2 1.1 1.2-.1 1.1-1.1 1.1-2.2 4.6.1 6.8 3 4.5 3.4 3.1 1.2 0 1.1 1.1 6.8 0 1.1-1.1 1.2 0 2.3-2.1 3-3.3.1-1.1 1-1.1 0-6.8-1.1-2.3-1-1.1-.2-1.2-1.8-1.8-4.6-2.4-5.7 0-3.6-3.7 1.1-1.1.2-3.4-.6-1.2-1.6-2-1.9-.2 4.2-.6 2.2-1.9 5.7-.1 4.6-2.3 3-3.1.1-1.1 1-1.1.1-2.3 1.1-3.4-.8-1.1-.4-3.4-2.5-3.4-3.9-3.1-1.2 0-2.2-1.1-4.6 0-2.2 1.1-1.2 0-3.4 2.3-3 4.2-.1 2.2-1 2.3 0 2.3.9 1.1.1 2.3 2.3 3.4-.1 4.5 1.2 1.1-.3.9-1.1-.5-1 .8-1.1 0-2.8-2.3-3.5-4.5-1.4-3.4-.7-4.6.1-3.4 1.2-4.5 1.7-3.4 3.8-4.6.3-1.3-6.8-4.3-5.7-7.7-5.7 4.8-5.7 2.5-4.5.7-3.4-.2-5.7-1.8-3.4-2.2-3.7-4.1 0-5.6-3.1-3.2-3.4.1-1.2 1.1-2.6-2.6 0-3.4-1.1-3.4-1.9-3-4.6-3.4-2.3-.2-1.1-.9-2.3 0-2.2 1-2.3.2-5.3 5.2-1.2 2.3 0 7.9 1.2 2.3 5.3 5 4.5 1.4 2.3 0 1-.8 2.4-.2 4.6-3.4 3.1.2.5 2.3 1 1.1 0 1.2-4.6 3.8-3.4 1.8-3.6 1.2-4.4.4-3.1-.4-4.8-1.7-3.5-2.2-4.5-4.5-4.5 7-3.4 3.1-2.8 1.7 0 1.1 3.4 3.4 3.3 5.7 1.2 4.5.1 5.7-1.1 4.5-2.4 4.6-4 4.3-4.1 2.5-.8 1.1 3.8 2.2 4.7 4.6 2.9 5.7 1.1 6.8-.5 4.5-2.2 5.7-2.4 3.4-3.9 3.4-.2 1.1 3.9 2.3 3.7 3.4 4.2 6.7 4.5-4.5 4.6-2.9 4.5-1.5 5.7-.4 4.6.9 5.8 2.8 3.8 3.4 2.4 3.4zM449 120.3l-3.8-2.2-3.2-3.4-1.4-3.4 0-1.2.8-1.2 1.2-.4 2.3.3 2.3 1.3 3.5 3.4 1.9 3.4.2 2.4-1.1 1.3-2.3-.1zM433.3 103.3l-.9-.4-1.3-1.8-1-5.7 1.1-5.7 1.2-1.6 1.1-.5 1.1.3 1.5 1.8 1.2 5.7-.4 3.4-1.1 3.2-1.2 1.2-1.1.2zM526.6 158.5l1.2.1 3.4-3.8 4.5-3.1 3.4-1.4 5.7-.8 0-80.9-3.4-.1-5.7-1.8-4.5-3-3.4-3.7-1.3.2-2.2 4.6-2.2 2.7-5.6 4.1 0 1.1 4.4 4.8 2.8 5.4.8 3.4.2 4.6-.9 4.5-2.7 5.7-3 3.4-5.1 3.4-.8 1.1 4.2 2.6 3.4 3.2 2.3 3.3 1.5 3.4 1.1 6.8-1.2 6.8-3 5.7-4.8 4.5-.3 1.1 6.7 4.6 1.8 2.2 2.4 4.6zM355.1 157.2l1.2.3 2.2-3.8 3.5-3.9 7.3-4.5-4.1-4.5-1.4-2.3-1.5-3.4-.9-4.6.2-3.4 1.2-4.5 3.3-5.7 2.7-3 2.4.8.1 1.1 1.1 1.1 0 1.2 1 1.1-3 3.4-.4 2.3-.8 1.1-.1 3.4 2.3 5.7 4.2 3.8 3.4 1.5 5.7 0 4.5-2.3 3-3 .1-1.2 1.1-1.1.1-2.3.8-2.2-.9-4.6-2.2-3.4-3.1-3-1.2-.1-1.1-1-6.8-.1-3.3-3.7 2-3.4-1.1-1.1 0-1.2-2.2-2-1.1 0-1.1-1.1-1.1.9-1.7 0-3.8-3.4-2.4-3.4-2.1-6.8.2-5.7 2.7-6.8 4.2-5.7-6.9-4.5-2.9-3.4-2.1-4.1-1.2-.1-5.6 5-3.4 1.6-4.6 1.1 0 80.9 6.8 2.2 2.9 1.8 3.5 3.4zM374.4 104.2l2.3 0 2.3-2.1 6.8-.3 1.1-1 1.2-.1 5.3-5.3 1.1-3.4 0-5.7-1-1.1-1.2-3.4-3.1-3.1-3.4-1.2-1.1-1-5.7 0-1.1.9-2.3.4-5.3 5.1-.1 1.2-1.1 1.1 0 7.9 2.2 3.4 0 4.6 2.3 2.2zM377.9 61.1l5.6-.1 1.2-1 1.1 0 1.1-1.2 1.2-.1 4.2-5.3.3-3.3.8-1.2-1.1-5.7-2-2.2-.3-1.2-1.9-1.9-1.2-.1-1.1-1.1-1.1 0-1.2-1.1-5.6 0-2.3 1.1-1.2 0-5.4 5.4 0 1.1-1.1 1.2 0 7.9 1.1 1.1 0 1.2 5.4 5.3 2.3.3zM377.6 54.6l-.9-.9-1.3-.3-.1-1.1-1.1-1.1 0-1.2-1-1.1 1-3.4 1.1-1.1.1-1.2 1.3-.2 1.2-1.1 5.6.1 2.5 2.4 0 1.1 1.1 1.1 0 3.4-1.1 1.2 0 1.1-3 2.3-5.1.2zM458.5 60.7l4.5.1 4.6-2 4.2-4.2 2.2-5.7 0-2.3-.8-1-.3-2.4-1.1-2.2-4.2-4.2-6.8-2.3-6.9 2.3-4.1 4.2-.2 1.1-1 1.1-.1 2.3-1 2.3.9 2.2-.1 1.2-.9 1.1 0 2.3 2 2 2 .2 3.7 2.7 2.8.7zM499.4 61l5.6.1 1.2-1 2.2-.2 5.4-5.3.1-1.2 1-1.1 0-7.9-1-1.2-.1-1.1-5.4-5.3-2.2-.3-1.2-.9-5.6 0-1.2 1.1-1.1 0-1.1 1.1-1.2.1-3 3.1-.1 1.1-1.1 1.1-.2 2.3-.9 1.1 0 3.4.9 1.2.2 2.2 1.1 1.2.1 1.1 3 3.1 3.7 1.4zM499.2 54.6l-2.3-2.3 0-1.1-1.1-1.2 0-3.4 1.1-1.1 0-1.1 2.3-2.3 5.8-.2 3.6 3.6 0 5.7-3.6 3.6-5.6-.1zM543.7 61l1.1 0 0-25.3-4.6 1.1-1.1 1-1.1.1-3.1 3.1-2.2 5.6.2 4.6 1.9 3.4.1 1.1 3.1 3 1.1.1 1.1 1.1 2.5.3zM342.6 59.9l1.2 0 1.1-1.1 1.2-.1 3-3 1.2-3.4 1.1-1.1 0-6.8-4.2-6.5-1.3-.3-2.1-1.9-2.3-.1 0 24.4zM441.4 38.8l1.2-.7 3.4-4.8 3.4-2.9 5.7-2.6 4.5-.8 4.6.3 4.5 1.3 5.7 3.5 3.1 3.2 1.1 0 2.6-4.3 2.2-2.5 3.5-2.6 4.4-1.9 0-1.2-3.4-3.4-2.8-4.5-1.3-4.6-.1-4.5-81.2 0-.4 4.5-2 5.7-3.3 4.6-3.6 3.4 7.4 5.8 4 6.6.5.4 4.5-4.5 4.6-2.9 4.5-1.5 4.6-.4 5.7.9 4.5 2 3.5 2.6 4.4 5.7zM526.6 36.5l1.2.2 4.5-4.8 4.5-2.7 4.6-1.4 3.4-.3 0-21.7-20.1 0-.7 5.7-1.2 3.4-3 4.7-4.4 4.4 7.2 5.6 4 6.8zM356.3 35.6l4.5-6.7 3.4-2.7 4.8-2.2.1-1.2-4.2-4.5-2.4-4.6-.9-3.4-.1-4.5-20 0 0 21.4 6.8 2.2 3.7 2.5 3.4 3.4zM381.3 18.3l4.5-.4 2.3-1.1 2-1.9 2.2-2.3 1.1-2.3.8-4.5-25.1 0 0 2.3 1 1.1.2 2.3 2.9 3.4 3.5 2.6 4.5.8zM503.9 18.4l4.5-.5 3.5-2.2 1.9-2 2.2-4.5.1-3.4-24.4 0 0 3.4 2.3 4.5 3.1 3.1 1.1.1 1.2 1 4.2.4z"/><path fill="#fca050" stroke="#707070" stroke-width="0.35" stroke-opacity="0.18" d="M342.6 208.8l17.7 0 2-6.8 1.2-2.3 3.7-4.5-6.4-4.2-5.2-7.2-.5-.2-3.4 3.3-3.4 2.1-6.8 2 0 17.8zM369.9 208.8l24.6 0-1.2-3.4-5.2-5.3-1.2-.1-1.1-1-2.3-.1-5.6.1-4.6 2.4-3 4-1.1 3.4zM402.8 207.8l.3 1 26.9 0 1.2-1.6 2.4-.7 2.9 2.3 46.1 0 1.3-5.7 2.6-4.5 2.9-3.4-3.7-2.1-4.2-3.6-3.7-6-6.8 5.2-3.4 1.5-3.4.7-6.9-.2-5.6-2-3.4-2.5-3.4-4-.1-.6 1-1.2-.1-3.4-2-2.8-4.5-.2-1.2.8-2.6-2.3-.1-4.5-1.5-3.4-4.8-5.3-1.2-.1-1.1-.9-6.8-.1-4.6 2.2-4.1 5.3 0 9.1 1.1 1.1.1 1.1 4.1 3.9 4.5 1.5 5.7 0 1.1-1 1.2-.1 3.4-3.3 1.1 1 2.3 0 .3 1.4 2 2.3-.1.7-3.4 3.1-4.5 2.8-4.6 1.6-4.5.4-5.7-1.1-3.4-1.6-6.8-5.7-3.9 6.6-2.9 2.7-3 1.8 5.8 8 1.7 5.7zM492.5 208.8l23.6 0-.1-2.3-1.1-1.1-.1-1.1-2.9-3.1-3.5-2.2-9 0-1.2 1.1-1.1 0-4.1 4.2-.1 1.1-1.1 1.1-.1 2.3zM525.5 208.8l19.3 0 0-17.5-3.4-.1-4.6-1.2-5.6-3.4-3.4-3.6-5.7 7.8-4.6 3.2 5.1 6.9 2.3 5.6.3 2.3zM380.1 183l4.6-.6 1.1-1.1 1.1 0 4.3-4.3.1-1.1 1-1.1.1-2.3.9-1.1 0-2.3-.9-1.1-.1-2.3-1.1-1.1 0-1.2-4.3-4.2-1.1 0-1.1-1.1-9.1.1-5.4 4.1-2.3 4.5 0 6.8 1.3 3.4 4.1 4.2 1.1.1 1.2 1.1 4 .3zM378.8 177l-.9-.8-1.2-.1-2.3-2.2-.2-2.5-1-1.2 1-1.1 0-2.3 2.5-2.5 1.2 0 1.1-1 2.3-.1 1.1 1.1 1.1 0 2.5 2.5.2 1.2 1 1.1-.1 3.4-3.6 3.6-1.1.1-1.1 1.1-2.3-.1zM502.8 183l1.1-.5 3.4-.1 1.1-1.1 1.2-.2 3-2.9.2-1.2 2.1-3.4 0-6.8-2.2-3.4-.1-1.1-5.3-4.1-9.1-.1-1.1 1.1-1.1 0-4.3 4.2-2.2 5.7.1 3.4 1 1.1.1 2.3 1.8 2 3.5 3.4 1.1.1 1.1 1 3.6.3zM500.4 177l-3.5-2.2 0-1.2-1.1-1.1 0-4.5 3.6-3.7 1.1 0 1.1-1.1 2.3.1 1.1 1 1.2.1 2.4 2.4.1 6.8-2.5 2.5-1.2.1-1.1 1-3.4-.1zM342.6 182.3l1.2-1.1 1.1 0 5.3-5.3 1.1-3.4 0-5.7-2.2-4.5-3-3-3.5-1.3-1.1-1 0 25.3zM456.2 181.9l3.4.5 5.7-.3 5.3-3.9 2.2-3.4 1.1-4.6-1.1-5.6-3-4.1-5.6-3.4-6.9 0-5.6 3.6-2.9 3.9-.4 3.4-.8 1.1-.1 1.1 1 2.3-1 1.1 0 2.3 1.8 2.3 1.2.8 1.2 0 4.1 2.6zM541.4 182.3l3.4.1 0-24.3-3.4.1-1.2 1-1.1.1-5.2 5.3-.3 2.2-.9 1.2 0 4.5.8 1.1.4 2.3 5.2 5.3 1.5.4zM441.4 159.5l4.6-5.2 3.4-2.8 5.7-2.5 5.7-.8 5.6.8 3.4 1.2 4.6 3 3.4 3.4 4.5-6.4 4.6-3.4 3.4-1.4-5.2-6.9-1.4-3.4-.8-4.6.3-4.5 2-5.7 5.1-6.8 3.4.9.3 2.5 1.1 1.2 0 1.1-1.1 1.1-.2 1.2-2.1 3.4.1 6.8 3 4.4 3.4 3.1 1.2.1 1.1 1 6.8 0 1.1-1 1.2-.1 2.3-2 3-3.3 0-1.1 1.1-1.1 0-6.8-1-1.2-.1-1.1-2.3-3.4-3-1.9-2.3-1.1-5.7-.1-3.7-3.7 1.1-1.1.2-2.3 0-1.1-1.3-2.3-.8-.8-2.2-.3 4.5-.7 2.2-1.9 5.7-.1 4.6-2.3 2.9-3 .1-1.1 1.1-1.1 1.1-5.7-.8-1.1-.3-3.4-2.6-3.4-3.8-3-3.4-1.2-4.6 0-3.4 1.2-3.4 2.3-3 4.1-.1 2.2-1 2.3 0 2.3 1 1.1.1 2.3 2.2 3.4 0 4.5 1.1 1.1-.3 1.1-1.1-.6-1.2.8-2.1-.1-3.6-3.4-2.2-3.4-1.4-3.4-.7-4.6.2-4.5 1-3.4 1.6-3.4 3.7-4.6-.1-1.1-3.2-1.6-3.6-2.9-2.6-3.4-1.7-3.4-5.7 4.7-6.8 2.7-8 0-4.5-1.5-3.9-2.5-3.3-3.4-.7-1.2.9-1.1-.1-4.5-3.1-3.2-3.4.1-1.2 1.2-2.6-2.7 0-3.4-1.2-3.4-2.2-3.4-4.2-3-2.3-.2-1.1-.9-2.3 0-2.2 1-2.3.3-5.3 5.1-1.1 2.3-.3 3.4.3 4.5 1.1 2.3 5.3 4.9 4.5 1.5 5.7-1.1 4.6-3.3 2.2-.1 1.2.4.2 2.2 2.1 2.3-4.6 3.9-4.5 2.6-4.6 1.2-3.4.2-6.8-1.5-4.6-2.7-4.5-4-2.6 4.8-7.2 6.8 4.9 5.7 2.1 4.5 1 5.7-.2 3.4-.7 3.4-2.6 5.7-2.9 3.4-5.6 4.5 4.7 3.1 4.1 4.8 2.4 5.7.7 6.8-1.1 5.7-2.1 4.5-5.3 5.7.3 1.1 3.7 2.3 3 2.9 3.4 6.2 4.5-4.4 4.6-2.8 4.5-1.5 4.6-.3 4.5.5 5.7 2.2 3.4 2.4 4.2 5zM452.3 123.7l-1.8-.2-3.4-1.6-5.7-5-1.6-2.2-1.4-3.4-.2-3.4 1-1.2 3.4-.4 3.4 1 2.3 1.3 4.8 4.9 2 3.4.9 3.4-.6 2.3-2.6 1.2zM431.8 105.6l-1.4-1.1-1.2-2.3-.9-7.9.4-3.4 1.6-4.6.9-1.1 2.3-.7 2.3 1.4 1.1 1.6 1.3 3.4.5 4.5-1.8 10.1-1.1.7-3.4-.3zM527.8 157.6l4.2-4.4 4.8-2.9 4.6-1.3 3.4-.2 0-79.5-4.6-.3-4.5-1.5-4.3-2.7-3.6-3.8-4 6-6.4 5.7 4.2 4.6 2.4 4.5 1.4 6.8-.5 5.7-1.1 3.4-2.7 4.5-1.9 2.3-5.8 4.5 3 1.6 4.2 4.1 2.3 3.4 1.7 4.5.7 6.8-1.4 6.8-2.5 4.6-4.5 4.5.3 1.1 2.6 1.5 3.4 3 3.7 5.7zM355.1 156l1.2-.1 1.4-2.7 3.1-3.6 3.4-2.5 3.8-1.8-3.6-4.5-2-3.5-1.4-4.5-.2-4.6 1.7-6.7 2.7-4.6 2.9-3.4 3.2 1.2 0 1.1 1.2 1.1 0 1.2.9 1.1-2.9 3.4-.4 2.3-.9 1.1 0 3.4 2.2 5.7 4.2 3.7 3.4 1.5 4.5.1 1.2-.1 4.5-2.2 3-3 .1-1.2 1-1.1.9-4.5-.9-4.6-1-1.1-.1-1.1-2.2-2.3-1.9-1.8-1.2-.1-1.1-1.1-7.2-.4-3.1-3.4 2.2-3.4-1.1-1.1-.1-1.2-4.3-3.1-1.2 1-2.2.3-4.2-3.8-2.2-3.4-2.1-6.8.1-4.6 2.1-6.8 4.3-5.7-.1-1.1-5.9-3.7-5.7-7.4-2.2 2.4-3.4 2.4-3.4 1.5-4.6 1.1 0 79.5 4.6 1.1 3.4 1.6 5.2 4.3zM374.4 104.2l2.3-.1 2.3-2 6.8-.3 1.1-1.1 1.2 0 5.2-5.3 1.2-3.4 0-5.7-1-1.1-1.3-3.4-3-3-2.3-1.2-1.1 0-1.1-1.1-5.7 0-1.1.9-2.3.5-5.3 5 0 1.2-1.1 1.1 0 7.9 2.1 3.4.1 4.6 2.2 2.2zM377.9 61.1l5.6-.1 1.2-1.1 1.1 0 1.1-1.1 1.2-.1 4.2-5.3 0-2.2 1.1-2.3-1.1-3.4 0-2.3-2.1-2.2-.2-1.2-1.9-1.8-1.2-.1-1.1-1.2-1.1 0-1.2-1-5.6-.1-1.2.8-2.3.4-5.3 5.3-.1 1.1-1 1.2 0 7.9 1 1.1.1 1.2 5.3 5.3 2.4.3zM377.6 54.6l-.9-.9-1.3-.3-.1-1.1-1.1-1.1 0-1.2-1-1.1 1-3.4 1.1-1.1.3-1.4 1.1 0 1.2-1.1 5.6.1 2.3 2.1.2 1.4 1.1 1.1 0 3.4-1.1 1.2 0 1.1-2.9 2.3-5.2.2zM458.5 60.7l3.4.3 5.7-2.3 4.1-4.1 2.2-5.7 0-2.3-.8-1.1-.3-2.3-1.8-3-3.4-3.4-6.8-2.2-6.9 2.2-4.1 4.2-2.3 6.8.9 2.2 0 1.2-.9 1.1 0 2.3 1.9 1.9 2.1.3 2.4 2 4.1 1.4zM499.4 61l5.6 0 1.2-.9 2.2-.3 5.4-5.2 0-1.2 1.1-1.1 0-7.9-1.1-1.2 0-1.1-5.4-5.3-2.2-.2-1.2-1-5.6.1-1.2 1-1.1 0-1.1 1.1-1.2.1-3 3.1-.1 1.1-1.1 1.1-.1 2.3-1 1.1 0 3.4 1 1.2.1 2.2 1.1 1.2.1 1.1 3 3 3.8 1.5zM499.2 54.6l-2.3-2.3-.1-1.1-1.1-1.2 0-3.4 1.1-1.1.3-1.4 2.3-2.2 5.6 0 3.7 3.6 0 5.7-3.7 3.6-5.6-.1zM543.7 60.9l1.1.1 0-25.3-4.6 1.1-1.1 1.1-1.1.1-3 3-2.3 5.6.3 4.6 2 4.5 3 3 1.1.1 1.1 1 2.6.4zM342.6 59.9l3.5-1.2 2.9-3 1.3-3.4 1-1.1 0-6.8-4.1-6.4-1.1-.2-2.3-2.1-2.3-.1 0 24.4zM441.4 37.6l1.2-.9 2.6-3.7 3.1-2.7 4.5-2.5 4.5-1.3 6.9 0 4.5 1.3 5.7 3.3 3.4 3.4.4-.3 4.1-5.9 3.4-2.8 4.7-2.7-3.4-3.4-2.6-4.5-1.5-5.7 0-3.4-79.7 0-.9 6.8-.9 2.3-3.6 5.7-3.5 3.4 6.3 4.4 2.7 3.5 1.8 3.7 4.5-4.3 3.5-2.2 3.4-1.4 6.8-1 5.7.9 5.6 2.6 4.6 4.1zM527.8 35.6l4.5-4.6 3.4-2.1 3.4-1.3 5.7-.9 0-20.9-19.5 0-.3 4.5-1.4 4.6-1.9 3.4-5.4 5.7 4.6 2.7 3 2.9 3.4 5.7zM355.1 34.2l1.2-.3 1.7-3.1 2.8-3.2 7.3-4.8-3.3-3.4-2.6-4.5-1.2-4.6-.2-4.5-19.3 0 0 20.7 4.6 1.1 3.4 1.6zM376.7 17.4l5.7.8 3.4-.3 2.3-1.1 4.1-4.2 1.2-2.3.8-4.5-25.1 0 .1 2.3.9 1.1.2 2.3 3 3.4 3.1 2.3zM499.4 17.9l4.5.4 4.5-.4 1.2-1.1 1.1-.1 3-3 1.2-2.2 1.1-2.3 0-3.4-24.3 0 .1 3.4 1.6 3.4 3.7 4.1 1.5.5z"/><path fill="#fcb060" stroke="#707070" stroke-width="0.35" stroke-opacity="0.18" d="M342.6 208.8l16.3 0 .8-4.5 1.1-2.7 3.3-5.3-5.6-5-3.4-4.7-4.5 2.8-6.8 2.3-2.3.2 0 16.9zM369.9 208.8l24.5 0-1.1-3.4-5.2-5.2-1.2-.2-1.1-1-3.4-.1-4.5.1-4.6 2.5-2.9 3.9-.1 1.1-1.1 1.2 0 1.1zM405.1 208.8l7.8 0 8-5.7 4.6-.8 8 1.2 2.3 1.5 2.3 2.7.3 1.1 42.7 0 1.2-5.8 2.2-4.4 1.8-2.3-5.2-4.5-4.4-5.2-4.3 2.9-6.9 2.3-8.2-.1-6.8-2.6-3.4-2.7-3.1-3.7 1.7-2.3-.1-3.4-1.5-2.2-1.5-.9-3.4.2-1.2.8-2.7-2.4 0-4.5-1-1.2-1.2-3.4-4.1-4-1.2-.1-1.1-.9-6.8-.2-4.6 2.3-4 5.2 0 9.1 1 1.1.1 1.1 2.9 3 4.6 2.3 6.8 0 1.1-1 1.2-.1 3.4-3.3 1.1 1 2.3 0 .3 1.5 2.9 3.4-5.5 4.7-2.3 1.3-5.1 2-4 .5-5.8-.5-3.2-1.2-6.9-4.4-7.7 7.8-.4 1.2 2.5 3.3 2.3 4.6 1.6 5.7zM492.5 208.8l23.5 0 0-1.1-1.2-3.4-4.1-4.1-1.1-.1-1.2-1-7.9-.1-3.4 1.2-4.1 4.1-.1 1.1-1 1.1-.2 2.3zM527.8 208.8l7.3 0 6.3-4.6 3.4-1.4 0-10.5-6.8-.7-4.8-2.1-4.3-3.1-1.1-.2-2.3 3.3-5.4 5.7 3.3 4.5 2.2 4.6 1.2 4.5zM380.1 182.9l4.6-.5 1.1-1.1 1.1-.1 4.2-4.2.1-1.1 1.1-1.1.1-2.3.9-1.1 0-2.3-1-1.1 0-2.3-1.1-1.1-.1-1.2-4.2-4.1-1.1-.1-1.1-1.1-9.1.1-4.6 3.3-3 5.3.1 8 1 1.1.2 1.1 4 4.1 1.1.1 1.2 1.1 4.1.4zM378.7 177l-.8-.8-1.2 0-2.3-2.3-.3-2.5-1-1.2 1-1.1.1-2.3 2.5-2.5 1.2 0 1.1-1.1 2.3 0 1.1 1.1 1.1 0 2.6 2.5.1 1.2 1 1.1-.1 3.4-3.6 3.7-1.1.1-1.1 1-2.3 0zM502.8 182.9l4.5-.6 1.1-1.1 1.2-.1 3-2.9.2-1.2 2.1-3.4 0-6.8-3-5.2-4.6-3.3-9.1-.2-1.1 1.1-1.1.1-4.2 4.1-2.3 5.7.1 3.4 1 1.1.2 2.3 1.7 1.9 3.5 3.4 1.1.2 1.1 1 3.9.3zM500.4 177l-3.5-2.2-.1-1.2-1.1-1.1 0-4.5 3.7-3.7 1.1 0 1.1-1.1 2.3.1 1.1 1 1.2 0 2.5 2.5 0 6.8-2.5 2.6-1.2 0-1.1 1.1-3.4-.1zM342.6 182.2l1.2-1 1.1-.1 5.2-5.2 1.2-3.4 0-5.7-2.3-4.5-2.2-2.3-5.3-2.9 0 25.2zM456.2 181.8l1.1.5 8-.3 3.4-2 2.9-3 .1-1.1 1.1-1.1.1-2.3 1-2.3-1.1-5.6-3-4.1-3.4-2.3-1.1 0-1.1-1.1-6.9 0-5.6 3.7-2.9 3.8-1.2 5.6 1 2.3-1.1 1.1 0 2.3 1.9 2.3 2.3.7 4.2 2.7zM541.4 182.3l3.4 0 0-24.1-3.4.1-1.2 1-1.1.1-5.1 5.2-.3 2.2-.9 1.2 0 4.5.8 1.1.3 2.3 5.2 5.2 1.5.5zM441.4 156.5l5.7-5.5 2-1.2 4.8-2.2 4.6-.8 9.1.9 6.8 3.2 2.3 2.1 1.1 0 4.5-5.5 4.9-3.3-2.6-3.4-2.3-5.7-.1-9.1 2.5-6.8 2.2-3.4 3.2-3.4 2.4 2 1.2-.1.4 2.6 1.1 1.2 0 1.1-1.2 1.1-2.2 4.6.1 6.8 1 1.1.1 1.1 5.2 5.3 1.2 0 1.1 1.1 6.8-.1 1.1-1 1.2 0 5.2-5.3.1-1.1 1-1.1 0-6.8-2.4-4.6-1.6-1.7-4.6-2.3-5.7-.1-3.8-3.8 1.2-1.1.1-3.4-2-3.1-3.4-.9-1.2.8-1.1-.1-1.2 1-3.7-3.4-2.6-3.4-2.7-6.7 0-7 2.2-6.7 3.2-4.6-4.3-3-5.6-6-5.6 3.4-8.1 1.8-7.9-.8-4.6-2-3-2.4-3-3.4 1.3-2.3-.2-4.5-.7-.8-2.3-2.3-3.4.1-1.2 1.1-2.7-2.7 0-3.4-1.1-3.4-1.1-1.1-.7-1.8-4.6-3.4-2.3-.2-1.1-.9-2.3 0-2.2 1-2.3.3-5.2 5-1.2 2.3 0 7.9 1.2 2.3 5.2 4.9 4.5 1.4 2.3 0 1.1-.9 2.3-.1 4.6-3.4 2.2-.1 1.2.4.3 2.3 1.9 2.2 1.2.3-3.4 3.3-5.7 3.5-8 2.1-3.4-.2-6.5-2.1-6-4.2-4.4 5.3-4.1 3.4 5.1 8 1.2 3.2.9 7-.9 5.1-2.2 5.1-2.5 3.4-4 3.4-.5 1.1 5.8 5.6 2.3 4.6 1.1 4.1.3 3.8-.3 5.7-1.2 4.5-2.2 4.4-3.2 3.6 5.4 4.5 3.4 4.4 2.3-2.2 5.7-3.2 4.5-1.3 5.7-.2 6.8 1.3 2.6 1.2 2 1.1 4.8 4.6zM444.8 130.5l-4.5-3.1-2.3-2.6-1.1-2.2-1.1-5.7-.1-4.5-.9-2.3-3.6-1.9-10.2-1.5-5.7-3.2-4.5-4.7-1.3-4.5.1-2.4 1-2.2 2.7-3.4 8.8-5.7 8 0 4 1.2 1.7 1.1 3.4 5.3.9 3.8.3 3.4-.8 5.7.7 1.9 2.3 1.2 10.2.2 3.4 1.1 4.6 3.1 2.3 2.7 1.1 2.2.4 3.4-.4 4.9-2.3 3.6-1 .6-2.4-.3-3.4.8-1.8 1.8-1.1 2.2-1.7 1-5.6-.9zM355.1 153.6l3.4-4.4 6.6-5-2-2.3-2.3-4.5-1.1-4.6-.1-4.5 2.3-8 5.7-7.7 3.8 2.1 0 1.1 1.2 1.1 0 1.2.9 1.1-2.9 3.4-.4 2.3-.9 1.1-.1 3.4 2.3 5.7 2.9 2.9 4.6 2.3 5.7 0 4.5-2.3 2.9-2.9.1-1.2 1.1-1.1.8-4.5-.8-4.6-1-1.1-.1-1.1-4.1-4.1-1.2-.1-1.1-1-6.8-.1-3.5-3.8 1-2.3 1.1-1.1-1.1-1.1-.1-1.2-2-1.9-1.1 0-1.1-1.1-1.2 1-1.1-.1-1.7 1-4-3.4-3.2-4.5-1.4-3.4-.6-3.4 0-4.6 1.8-6.9 3.6-5.6-3.6-2.2-2.3-2.2-3.4-4.6-6.3 3.4-7.3 1.7 0 42.5 1.2 4.5 0 2.3-1.2 3.7 0 24.1 6.8 1.7 6.5 4.5zM527.8 154.1l1.1-.3 3.4-2.9 4.5-2.3 3.4-1 4.6-.3 0-40.4-3.8-1.3-5.3-3.4-3.4-5.1-.4-2.8.3-3.4 1.2-2.4 3.4-3.3 8-4.6 0-10.1-3.4-.1-4.6-1.1-9-5.2-4 5.2-3.9 3.4 3.3 4.5 3.3 8 .4 3.4-.3 5.8-1 3.3-2.4 4.5-6.5 6.8 4.3 3.4 2.2 3.2 2.3 5.1 1.1 6.3-1 8.1-2.3 5.7-3.8 4.5 4.2 3.4 3.5 4.5zM374.4 104.1l2.3 0 2.3-2.1 6.8-.3 1.1-1 1.2-.1 5.2-5.2 1.1-3.4 0-5.7-1-1.1-1.2-3.4-3-3-3.4-1.2-1.1-1-5.7 0-1.1.9-2.3.4-5.2 5-.1 1.2-1 1.1-.1 7.9 2.2 3.4 0 4.6 2.3 2.2zM496 104.1l2.2 0 3.4-2.3 5.7 0 4.6-2.3 2.9-3 .1-1.1 1-1.1.1-2.3 1-2.3-1.1-5.6-2.9-3.8-3.4-2.6-1.2 0-2.2-1.1-5.7.2-1.1.9-1.2 0-3.4 2.4-2.9 4-.1 2.2-1 2.3 0 2.3.9 1.1.1 2.3 2.3 3.4 0 4.5 1.1 1.1zM418.7 96.6l1.2-.2 1.1-1 1-2.3-1-2.2-1.1-1-1.1-.2-2.3.2-1.7 2.1-.2 1.1.9 2.3 1 .9 1.4.2zM540.2 96.7l2.3-.5 1.2-1.9.4-1.2-1.6-3-3.4-.3-2.1 2.2 0 2.3 1 1.3 1.8.9zM377.9 61l5.6-.1 1.2-1 1.1 0 1.1-1.1 1.2-.2 4.1-5.2.3-3.4.8-1.1-1.1-5.7-2-2.2-.3-1.2-1.8-1.8-1.2-.1-1.1-1.1-1.1 0-1.2-1.1-5.6 0-1.2.8-2.3.3-5.3 5.3 0 1.1-1.1 1.2 0 7.9 1.1 1.1 0 1.2 5.3 5.3 2.4.3zM377.6 54.6l-.9-.9-1.3-.3-.1-1.1-1.1-1.1 0-1.2-1.1-1.1 0-1.1 1.1-1.2 0-1.1 1.4-2.5 1.1-.1 1.2-1.1 5.6.1 2.6 2.5 0 1.1 1.1 1.1 0 3.4-1.1 1.2 0 1.1-2.9 2.3-5.3.2zM458.5 60.6l3.4.3 5.7-2.2 4.1-4.1 2.2-5.7 0-2.3-.9-1.1-.2-2.3-2.2-3.4-3-2.9-6.8-2.2-6.9 2.2-4 4.1-.1 1.1-1.1 1.1-.1 2.3-1 2.3.9 3.4-1 1.1 0 2.3 1.9 1.8 2.3.4 2.2 1.9 4.2 1.5zM499.4 61l5.6 0 1.2-1 2.2-.2 5.3-5.2.1-1.2 1-1.1 0-7.9-1-1.2-.1-1.1-5.3-5.2-2.2-.3-1.2-.9-5.6 0-1.2 1.1-1.1 0-1.1 1.1-1.2.1-2.9 3-.1 1.1-1.2 1.1-.1 2.3-.9 1.1 0 3.4.9 1.2.1 2.2 1.2 1.2.1 1.1 2.9 3 3.8 1.5zM499.2 54.6l-2.4-2.3 0-1.1-1.1-1.2 0-3.4 1.1-1.1 0-1.1 2.6-2.5 5.6-.1 3.7 3.7 0 5.7-3.7 3.6-5.6 0zM543.7 60.9l1.1 0 0-25.1-4.6 1.1-1.1 1-1.1.1-3 3-2.2 5.6.2 4.6 1.9 3.4.1 1.1 3 2.9 1.1.1 1.1 1.1 2.6.4zM342.6 59.8l1.2 0 1.1-1.1 1.2-.1 2.9-2.9 1.2-3.4 1.1-1.1 0-5.7-1.2-3.4-2.9-4.1-1.1-.2-2.3-2-2.3-.1 0 24.2zM441.4 34.5l6.7-6 4.3-2.3 3.7-1.1 9.2 0 5.7 2 5.6 3.7 1.2.1 4-4.7 4.9-3.4.1-1.1-2.4-3.4-2.1-5.3-.3-7.2-28 0-2.2 3.4-1.3.2-3.5-.2-3.3-1.1-3-2.3-36.4 0-.3 4.8-1.1 4.3-2.3 4.7-2.8 3.2.5 1.2 3.4 2.9 4 5 .5.3 4.6-3.7 2.3-1.2 3.4-1.2 6.8-.9 6.8 1 2.3 1 4.5 2.6 4.3 4.4zM355.1 31.6l3.4-4.4 2.3-2.2 3.6-2.2.3-1.1-2.5-3.4-1.5-3.4-1-4.5 0-4.6-18.2 0 0 19.1 8 2.4 4.8 3.5zM527.8 31.9l1.1-.2 4.5-3.4 4.6-2.1 6.8-1 0-19.4-18.2 0-1.1 8-1.3 3.4-2.1 3.4-2.1 2.2.2 1.2 3.1 2.2 3.6 4.6zM376.7 17.3l4.6.9 4.5-.4 2.3-1.1 4.1-4.1 1.1-2.3.8-4.5-24.9 0 0 2.3 1 1.1.2 2.3 3 3.4 3.2 2.3zM499.4 17.8l4.5.4 4.5-.4 2.3-1.2 3-2.9 1.1-2.2 1.1-2.3.1-3.4-24.2 0 0 3.4 2.3 4.5 3 3 1.5.5z"/><path fill="#fcd040" stroke="#707070" stroke-width="0.35" stroke-opacity="0.27" d="M342.6 208.8l14.8 0 1.1-5.2 3-7.3-3-2.4-4.5-4.9-5.7 2.5-6.8 1.3 0 16zM369.9 208.8l24.5 0-1.2-3.4-5.1-5.2-1.2-.1-1.1-1-2.3-.1-5.6.1-4.6 2.5-2.9 3.8-1.1 3.4zM406.2 208.8l4.2 0 8.3-6.4 3.4-1.6 2.3-.3 4.6.4 5.6 1.9 2.9 2.6 2 3.4 40 0 1.3-5.7 2.8-6.8-4.9-4.5-2-2.7-7.4 2.7-6.3 1.1-6.8-.6-5.7-1.9-3.4-2.5-3.4-4.2 0-1.1 2-2.2-.1-3.4-1.6-2.2-1.4-.8-1.2 0-2.2.1-1.2.8-2.7-2.4-.1-4.5-1-2.3-1.2-2.3-4-4-3.5-1.1-5.6 0-4.6 2.2-4 5.2 0 9.1 1.1 1.1.1 1.1 4 3.7 4.5 1.6 5.7 0 1.1-1 1.2-.1 3.4-3.3 1.1 1 2.3 0 1.4 2.7 2 2.2.8 0-4.2 4-3.4 2.3-4.6 2.3-4.5 1.2-3.4.1-3.4-.7-10.3-4.8-6.3 7 3.8 6.8zM492.5 208.8l23.5 0-.1-2.3-1.1-1.1-.1-1.1-2.8-2.9-3.5-2.3-9 0-1.2 1.1-1.1 0-4 4.1-.1 1.1-1.1 1.1-.1 2.3zM528.9 208.8l3.7 0 8.8-6.7 3.4-1.4 0-7.1-4.6-.2-5.6-1.9-5.7-3.2-1.1.7-5.8 6.2 4.4 7.9 2 5.7zM380.1 182.8l4.6-.5 1.1-1 1.1-.1 4.2-4.2.1-1.1 1-1.1.1-2.3.9-1.1 0-2.3-.9-1.1-.1-2.3-1.1-1.1 0-1.2-4.2-4.1-1.1 0-1.1-1.1-9.1.1-3.4 2.1-1.9 1.9-2.3 4.5 0 6.8 1.3 3.4 4 4.1 1.1.1 1.2 1.1 4.3.4zM378.7 177l-.8-.8-1.2 0-2.3-2.3-.3-2.5-1-1.2 1-1.1.1-2.3 2.5-2.5 1.2 0 1.1-1.1 2.3 0 1.1 1 1.1.1 2.6 2.5 1.1 2.3 0 3.4-3.7 3.7-1.1.1-1.1 1-2.3 0zM502.8 182.8l4.5-.5 1.1-1.1 1.2-.2 3-2.8.1-1.2 2.2-3.4 0-6.8-1.1-1.1-1.3-3.4-1.8-1.8-4.5-2.4-8 .1-1.1 1-1.1.1-4.2 4.1-2.2 5.7.1 3.4.9 1.1.2 2.3 1.7 1.9 3.5 3.4 1.1.1 1.1 1 4.2.4zM500.3 177l-3.2-2-.3-1.4-1.1-1.1 0-4.5 3.7-3.7 1.1-.1 1.1-1 2.3.1 1.1 1 1.2 0 2.5 2.5 0 6.8-2.5 2.6-1.2 0-1.1 1.1-3.4-.1zM342.6 182.2l1.2-1.1 1.1 0 5.2-5.2 1.1-3.4 0-5.7-2.2-4.5-2.9-2.9-3.5-1.3-1.1-1 0 25.1zM456.2 181.7l3.4.6 5.7-.4 5.2-3.7 2.2-3.4.1-2.3 1-2.3-1.1-5.6-2.9-4-5.6-3.4-6.9 0-5.6 3.7-2.8 3.7-.4 3.4-.9 2.2 1 2.3-1 1.1 0 2.3 1.9 2.3 2.2.7 4.3 2.7zM541.4 182.2l3.4.1 0-24.1-3.4.1-1.2 1-1.1.1-5.1 5.2-.3 2.2-.9 1.2 0 4.5.8 1.1.4 2.3 5.1 5.2 1.6.5zM441.4 153.8l4.7-4 4.4-2.6 3.4-1.3 4.6-.8 5.7.3 4.2 1 3.7 1.4 4.6 2.9 3.9-4.3 3.1-2.2.5-1.2-2.3-4.5-.6-2.3-.7-4.5.2-4.6.9-3.4 2.1-4.5 5.3-6.9 1.2 0 2.2 2 1.2 0 .4 2.6 1.2 1.2-.1 1.1-1.1 1.1-2.2 4.6 0 6.8 2.9 4.3 3.4 3.1 1.2.1 1.1 1 6.8 0 1.1-1 1.2-.1 2.3-2.1 2.9-3.1 0-1.1 1.1-1.1 0-6.8-2.2-3.4-.2-1.2-1.6-1.7-1.2-.2-3.4-2.1-5.7-.1-3.4-3.3-.4-.5 1.1-1.1.2-3.4-2-3-3.4-.9-4.6 1.8-6-5.9-2.9-5.6-.8-5.7 1.2-6.8 3.1-6.8-7-7.9-8 2.9-6.8 1-6.8-.9-5.7-2.3-3.3-3-2.6-3.4 2.2-2.3-.1-4.5-3-3-3.4.1-1.2 1.1-2.7-2.8 0-3.4-2.3-5.6-5.2-4.1-2.3-.1-1.1-1-2.3 0-4.5 1.4-5.2 4.9-1.1 2.3-.2 3.4.2 4.5 1.1 2.3 5.2 4.8 4.5 1.5 5.7-1.1 4.6-3.4 3.4.3.4 2.4 1.8 2.1 1.3.2 0 1.1-4.7 4.2-3.4 2.1-4.5 2-4.6.9-6.8-1-9.1-4.5-5.9 6.5 0 1.1 4.7 9.1 1.9 5.7.5.9 1.1-.7 3.4-3.4 9.1-6.2 3.4-.7 3.4.2 6.8 2.1 2.5 2.1 1.6 2.3 1.9 4.5.6 3.4-.4 8 .5 1.1 2.4.8 5.7-.5 4.5.4 3.4 1.1 3.5 2 3.4 3.5 1.9 4 .7 3.4-.4 4.6-2.2 4.3-2.3 2-4.6-1-2.2 1.3-.7 1.3-.1 2.3-1.5 1.6-3.4.2-5.7-1.5-4.1-2.6-4.2-5.7-1.2-4.5 0-5.7-.7-2.7-2.3-1.2-8.1-.6-4.4-1.4-6.3-4.3-2.8-3.3-2.2-3.8-1.2-.3-4.8 8.6-4 4.5 3.2 3.1 1.7 2.6 1.8 4.5 1.2 5.7-.2 6.8-.8 4.5-1.5 4.6-2.1 3.4.1 1.1 3.2 2.9 2.2 2.9 1.2-.1 2.2-1.7 4.6-2.1 5.7-1.3 4.5-.1 8 1.6 4.5 2.4 4 3.4zM528.9 151.4l4.1-2.7 3.8-1.6 8-1.3 0-36.9-3.3-1-5.6-3.4-3.4-3.4-3.6-5.4-5.4 8.8-3.9 4.5 4.2 4.5 1.7 3.4 1.6 5.7.5 5.7-1.1 7.9-1.5 4.6-2.2 3.4.2 1.1 5.3 5.7zM354 150.3l1.1-.3 3.4-3.7 3.5-2.8-2.9-7.3-.6-4.1.2-5 2.3-6.8 3.2-4.9 3.4-3.8.1.8 1.1.9 2.6 1.4.1 1.1 1.1 1.1 0 1.2 1 1.1-2.9 3.4-.5 2.3-.8 1.1-.2 2.3 2.3 6.8 2.9 2.9 5.7 2.3 4.6-.1 4.5-2.2 2.9-2.9.1-1.2 1-1.1.8-4.5-.8-4.6-1-1.1-.1-1.1-4-4-1.2-.1-1.1-1.1-6.8-.1-3.6-3.8.9-1.1.1-1.2 1.1-1.1-1.1-1.1 0-1.2-2-1.8-1.1-.1-1.1-1.1-1.2 1.1-1.1-.1-2.3 1.6-4.7-4.1-2.7-3.4-1.7-3.3-1-3.5-.2-4.5 1.5-6.8 2.8-5.7-7.6-8-5.7 2.5-6.8 1.4 0 37.9 2.5 4.7.7 4.6-.9 4.6-2.3 3.7 0 18.9 6.8 1.8 5 2.7zM374.4 104l2.3 0 2.3-2.1 6.8-.2 1.1-1.1 1.2 0 5.1-5.2 1.2-3.4 0-5.7-1-1.1-1.3-3.4-2.9-2.9-2.3-1.2-1.1 0-1.1-1.1-5.7 0-1.1 1-2.3.4-5.2 4.9 0 1.2-1.1 1.1 0 7.9 2.1 3.4.1 4.6 2.2 2.2zM496 104.1l2.2-.1 3.4-2.2 5.7-.1 3.4-1.6 4-3.6.1-1.1 1.1-1.1.1-2.3 1-2.3 0-1.1-.8-1.1-.3-3.4-2.9-3.7-3.4-2.6-3.4-1.2-5.7.3-5.7 3.2-2.8 4-.2 2.2-1 2.3 0 2.3 1 1.1.1 2.3 2.2 3.4 0 4.5 1.2 1.1zM416.5 94.4l1.1.8 2.3-.7.5-1.4-.5-1.3-1.2-.8-1.1 0-1.3 1 0 2.3zM539.1 94.9l1.1.4 2-1 0-2.3-2-1.1-1.1.5-.9 1.7.3 1.2zM528.9 88.6l1.1.8 5.7-5.3 5.7-4 3.4-1.4 0-7.1-5.7-.4-4.5-1.7-5.7-3.2-1.1.7-5.3 5.7-.1 1.1 3.8 6.9zM377.9 61l5.6-.1 1.2-1 1.1 0 1.1-1.2 1.2-.1 4.1-5.2.3-3.4.8-1.1-1.1-5.7-1.9-2-.4-1.4-1.8-1.7-1.2-.2-1.1-1.1-1.1 0-1.2-1-5.6-.1-1.2.8-2.3.4-5.2 5.2-.1 1.1-1.1 1.2 0 7.9 1.1 1.1.1 1.2 5.2 5.2 2.5.4zM377.5 54.6l-2.2-1.2-.1-1.1-1.1-1.1 0-1.2-1-1.1 1-3.4 1.1-1.1.1-1.2 1.4-.3 1.2-1.1 5.6.1 2.6 2.5 0 1.1 1.1 1.1 0 3.4-1.1 1.2 0 1.1-2.8 2.3-5.4.3zM458.5 60.5l3.4.4 5.7-2.3 4-4 2.2-5.7 0-2.3-.8-1.1-.3-2.3-1.7-2.9-3.4-3.4-6.8-2.2-6.9 2.2-4 4.1-2.3 6.8 1 2.2-.1 1.2-.9 1.1 0 2.3 1.8 1.8 2.3.3 2.2 2 4.3 1.5zM499.4 60.9l5.6.1 1.2-1 2.2-.2 5.3-5.2 0-1.2 1.1-1.1 0-7.9-1.1-1.2 0-1.1-5.3-5.2-2.2-.3-1.2-.9-5.6 0-1.2 1.1-1.1 0-1.1 1.1-1.2.1-2.9 3-.1 1.1-1.1 1.1-.1 2.3-1 1.1 0 3.4 1 1.2.1 2.2 1.1 1.2.1 1.1 2.9 2.9 3.9 1.6zM499.1 54.6l-2.3-2.3-.1-1.1-1-1.2 0-3.4 1-1.1.1-1.1 2.6-2.5 5.6-.1 3.7 3.7 0 5.7-3.7 3.7-5.6-.1zM543.7 60.8l1.1.1 0-25.1-4.6 1.1-1.1 1.1-1.1.1-2.9 2.9-2.3 5.6.3 4.6.8 1.1 0 1.1 1.1 1.2.1 1.1 2.9 2.9 1.1.1 1.1 1 2.7.5zM342.6 59.8l3.5-1.2 2.8-2.9 1.3-3.4 1-1.1 0-6.8-4-6.3-1.1-.2-2.3-2.1-2.3-.1 0 24.2zM441.4 31.9l4.6-4 4.5-2.7 8-2.1 4.5.1 5.7 1.3 4.1 1.7 3.9 2.5 3.2-3.6 4.6-3.4-3.1-6.8-.8-5.7.1-3.4-25.4 0-.7 1.1-.5 3.4-2.4 1.3-3.4-.2-4.6-1.4-3.3-1.9-2.4-2.3-32.6 0-1.9 11.4-3.2 5.6 3.7 3.4 2.2 3 9.1-4.3 8-1.1 5.7.6 3.4 1 4.5 2.4 3.5 3zM528.9 29.5l3.4-2.4 4.5-2 8-1.3 0-18-17.2 0-1.9 11.4-3.3 5.6 5.6 5.7zM352.9 27.6l1.1.8 1.1-.4 2.6-2.9 4.5-3.4-2.2-4.5-1-3.5-.4-7.9-17.1 0 0 17.5 5.7 1.4 5.4 2.7zM376.7 17.2l1.2.6 4.5.3 3.4-.3 2.3-1.1 4-4.1 1.2-2.3.7-4.5-24.8 0 .1 2.3.9 1.1.2 2.3 3.1 3.4zM499.4 17.8l9 0 1.2-1.1 1.1-.1 2.9-2.9 1.2-2.2 1.1-2.3 0-3.4-24.1 0 .1 3.4 2.3 4.5 2.9 2.9 1.6.6z"/><path fill="#fcf400" stroke="#707070" stroke-width="0.35" stroke-opacity="0.27" d="M342.6 208.8l12.7 0 3.3-11.4-4.6-5.3-1.1-.4-11.4 2.1 0 15zM369.9 208.8l24.4 0-1.1-3.4-5.1-5.1-2.3-1.1-3.4-.2-4.5.1-4.6 2.5-2.8 3.8-.1 1.1-1.1 1.2 0 1.1zM440.3 208.5l37.2.3 3.3-11.4-5.3-5.8-12.5 2.3-12.5-1.8-3.4-1.8-4.5-5.5-1.2-.4-7.9 6.7-4.5 2.8-4.6 1.7-3.4.3-3.4-.7-10.2-4.5-4.7 4.5.1 1.9 4.6 8.7 1.1 1.2 1.1-.1 4.5-2.6 6.9-5 3.4-.7 4.6.7 5.6 2.2 3.1 2.8 2.2 3.4zM492.5 208.8l23.4 0 0-1.1-1.2-3.4-4-4-1.1-.1-1.2-1-7.9-.1-3.4 1.2-4 4-.1 1.1-1 1.1-.2 2.3zM531.2 207.1l5-2.8 5.2-4 3.4-1.5 0-2.9-5.7-.9-9.1-4.1-1.1 0-4.1 4.3-.2 1.1 5.4 10.2zM380.1 182.7l4.6-.4 1.1-1.1 1.1-.1 4.2-4.1 0-1.1 1.1-1.1.1-2.3.9-1.1 0-2.3-.9-1.1-.1-2.3-1.1-1.1-.1-1.2-4.1-4-1.1-.1-1.1-1.1-9.1.1-4.6 3.3-2.9 5.2.1 8 2.1 3.4 3 2.9 1.1.1 1.2 1.1zM378.6 177l-.7-.7-1.2-.1-2.3-2.2-.4-2.6-1-1.2 1.1-1.1 0-2.3 2.6-2.6 1.2 0 1.1-1 2.3-.1 1.1 1.1 1.1 0 2.6 2.6 1.2 2.3-.1 3.4-3.7 3.7-1.1.1-1.1 1.1-2.3-.1zM439.2 183.7l3.4.1 3-3.4-.1-3.4-1.6-2.2-1.3-.7-3.4.1-1.2.8-2.8-2.5 0-4.5-1-1.2-1.2-3.4-4-3.9-3.5-1.2-5.6 0-3.4 2.1-1.2.2-1.7 1.7-2.2 3.4 0 9.1 1 1.1.1 1.1 2.8 2.9 4.6 2.3 6.8 0 1.1-1 1.2-.1 3.4-3.3 1.1 1 2.3 0 .5 1.6 2 2.3zM502.8 182.7l4.5-.5 1.1-1 1.2-.2 2.9-2.8.2-1.2 2.1-3.4 0-6.8-2.9-5.1-4.6-3.3-9.1-.2-1.1 1.1-1.1 0-4.2 4.1-2.2 5.7.1 3.4 1 1.1.2 2.3 5.1 5.2 1.1.2 1.1 1 4.5.4zM500.3 177l-.9-.8-1.2-.1-1.4-1.3 0-1.2-1.1-1.1 0-4.5 3.7-3.8 1.1 0 1.1-1.1 2.3.1 1.1 1 1.2.1 2.5 2.5.1 6.8-2.6 2.6-1.2.1-1.1 1-3.4 0zM342.6 182.1l1.2-1 1.1-.1 5.1-5.1 1.2-3.4 0-5.7-2.3-4.5-2.8-2.8-3.5-1.3-1.1-1 0 25zM456.2 181.6l1.1.6 8-.3 3.4-2 2.8-2.9.1-1.1 1.1-1.1.1-2.3 1-2.3-1.1-5.6-2.9-4-3.4-2.3-1.1 0-1.1-1.1-6.9 0-5.6 3.8-2.8 3.6-.3 3.4-.9 2.2 1 2.3-1 1.1-.1 2.3 2 2.3 2.1.6 4.4 2.8zM541.4 182.1l3.4.1 0-23.9-3.4.1-1.2 1-1.1.1-5 5.1-.3 2.2-.9 1.2 0 4.5.8 1.1.3 2.3 5.1 5.1 1.6.6zM441.4 150.1l8-5.2 7.9-2.2 6.9.5 7.9 2.2 3.4 1.6 1.2-.9 4.1-4.2-1.8-9.1 0-5.7.8-3.4 2.2-4.5 7.1-8.9.1 1 2.5 2.2 2.4 1.2.1 2.2 1.1 1.2 0 1.1-1.1 1.1-.2 1.2-2.1 3.4.1 6.8 1 1.1.1 1.1 5.1 5.2 1.2 0 1.1 1.1 5.7 0 3.4-1.2 5.1-5.1.1-1.1 1-1.1 0-6.8-2.4-4.6-1.5-1.6-1.2-.2-3.4-2.1-5.7-.1-3.9-3.9 1.2-1.1.1-3.4-1.9-2.9-3.4-.8-2.3.6-2.2 1.9-.1 1-4.5-3.2-3.4-3.4-2.7-4.6-1.3-5.6.6-5.7 2.9-9.1-.3-1.1-4-4.6-.9-.8-9.6 2-4 .3-9.1-1.2-5.7-2.3-5.3-5.9.8-1.2 1.1 0 1.9-2.2-.1-4.5-2.9-3-3.4.1-1.2 1.2-2.8-2.9 0-3.4-1.1-2.2 0-1.2-1.1-1.1-.6-1.7-4.6-3.4-2.3-.2-1.1-.9-2.3 0-2.2 1-2.3.3-5.1 4.9-1.2 2.3 0 7.9 1.2 2.3 4 4 5.6 2.2 5.7-1 4.6-3.4 3.4.2.4 2.5 1.8 2 1.2.1 1.1 1.3 1 0-8.9 7.4-3.4 2-4.6 1.7-2.3.3-4.5-.7-10.2-4.5-1.2.7-3.9 4.4 3.9 7.9 2.3 3.3 1.1-.1 5.3-3.1 5-3.9 2.2-1 2.3-.3 6.8 1.4 3.4 1.5 3.6 3.4 3 5.7 1 5.7-.4 4.5.4 2.3 1.5.6 5.7-.6 4.5.4 4.6 1.6 3.4 2 2.3 2.1 2.6 4.1 1.2 3.4.4 4.5-1.9 5.7-3.5 4.1-2.2.7-2.3-1.7-1.2-.2-1.1.4-.6 1.2.7 3.4-.6 1.1-3.4 1.2-5.2-.4-6.8-3-4.5-4.6-1.9-3.4-1-3.4-.2-7.9-.7-1.1-1.9-.7-5.7-.1-5.7-1.5-4.5-2.6-6.8-5.1-1.2.6-5 7.1 2.8 4.1 2.5 11.8-1.1 13.6-1.3 5.7 3.3 3.2 7.9-2.5 4.6-.8 11.3.6 5 1.7 4.9 3.4zM530 147.6l3.4-1.6 4.6-1.2 6.8-.8 0-33.8-6-2.3-8.8-6.5-1.1 0-5.5 7.6 2.1 2.8 1.2 2.9 2 11.3-1.1 12.5-1.3 5.7zM352.9 146.7l1.1-.1 4.7-4.7-1.1-3.4-.9-8 .1-3.4 1.2-4.5 3.4-5.7 5.1-6.1 1.2.5.1 1.1 1 .9 1.2.2 1.5 1.2 0 1.1 1.2 1.1 0 1.2.9 1.1-2.8 3.4-.5 2.3-.9 1.1-.1 3.4 2.3 5.7 2.8 2.8 4.6 2.3 5.7 0 1.1-1 3.4-1.3 2.8-2.8.1-1.2 1.1-1.1.7-4.5-.7-4.6-1-1.1-.2-1.1-3.9-4-1.2-.1-1.1-1-6.8-.1-3.7-3.9 2.1-3.4-1-1.1-.1-1.2-1.9-1.8-1.1 0-1.1-1.1-1.2 1-1.1 0-3.4 2.6-4.1-2.9-3.9-4.1-2.6-5-.9-5.7.6-4.5 3-9.1-4.3-5.7-1.4-.7-11.4 2.2 0 34.8 2.6 3.4 2.1 6.8-.1 3.3-.7 2.4-1.6 3.1-2.3 2.7 0 14.8 5.7 1.3 5.1 1.9zM374.4 104l2.3 0 2.3-2.1 6.8-.3 1.1-1 1.2-.1 5.1-5.1 1.1-3.4 0-5.7-1-1.1-1.3-3.4-2.8-2.8-3.4-1.3-1.1-1-5.7 0-4.6 2.2-3.9 4-.1 1.2-1 1.1-.1 7.9 2.2 3.4.1 4.6 2.2 2.2zM496 104l2.2 0 3.4-2.3 5.7 0 4.6-2.3 2.8-2.9.1-1.1 1-1.1.1-2.3 1-2.3 0-1.1-.8-1.1-.3-3.4-2.8-3.6-3.4-2.7-1.2 0-2.2-1.1-4.6 0-2.2 1.1-1.2 0-3.9 2.9-.2 1.1-2.1 2.3-.1 2.2-1 2.3 0 2.3 1 1.1.1 2.3 2.2 3.4 0 4.5 1.1 1.1zM417.6 93.4l1.3-.3-1.5 0zM540.2 93.7l.6-.6-.6-.5-.5.5zM530 84.5l1.2.6 1.1-.4 4.8-2.9 4.2-3.4 3.5-1.6 0-3-4.6-.4-10.2-4.5-1.1.1-4.5 4.8 5.3 10.3zM377.9 60.9l5.6-.1 1.2-1 1.1 0 1.1-1.1 1.2-.2 4-5.1.3-3.4.8-1.1-1.1-5.7-2-2.2-.3-1.2-1.7-1.7-1.2-.1-3.4-2.2-5.6-.1-1.2.9-2.3.3-5.2 5.2 0 1.1-1.1 1.2 0 7.9 1.1 1.1 0 1.2 5.2 5.2 2.5.4zM377.5 54.6l-2.2-1.2-.1-1.1-1.1-1.1 0-1.2-1-1.1 1-3.4 1.1-1.1.4-1.5 1.1 0 1.2-1.1 5.6.1 2.3 2.1.4 1.5 1 1.1 0 3.4-1 1.2-.1 1.1-2.7 2.3-5.5.3zM458.5 60.4l3.4.4 5.7-2.2 4-4 1.1-2.3.3-2.3.8-1.1 0-2.3-.9-1.1-.2-2.3-1.7-2.8-3.4-3.4-6.8-2.2-6.9 2.2-3.9 4-.1 1.1-1.1 1.1-.1 2.3-1 2.3.9 3.4-.9 1.1-.1 2.3 1.8 1.7 2.3.3 2.2 2 4.4 1.6zM499.4 60.9l5.6 0 1.2-.9 2.2-.3 5.3-5.1 0-1.2 1-1.1 0-7.9-1-1.2 0-1.1-5.3-5.2-2.2-.2-1.2-1-5.6.1-3.4 2.1-1.2.1-2.8 3-.2 1.1-1.1 1.1-.1 2.3-1 1.1 0 3.4 1 1.2.1 2.2 1.1 1.2.2 1.1 2.8 2.9 1.2.1 1.1 1.1 1.6.4zM499.1 54.6l-2.3-2.3-.1-1.1-1.1-1.2 0-3.4 1.1-1.1.4-1.5 2.3-2.2 5.6 0 3.8 3.7 0 5.7-3.8 3.7-5.6-.1zM543.7 60.8l1.1 0 0-24.9-4.6 1.1-2.8 1.7-2.2 2.3-2.3 5.6.3 4.6 2 4.5 2.8 2.8 1.1.1 1.1 1.1 2.8.5zM342.6 59.7l1.2 0 1.1-1.1 1.2-.1 2.8-2.8 1.2-3.4 1.1-1.1 0-5.7-1.2-3.4-2.3-3.4-3.9-2.8-2.3-.1 0 24zM441.4 28.2l8-5.3 6.8-2 6.8.1 6.8 1.7 5.7 2.3 5.2-4.4-1.4-6.9-.3-7.9-14.7 0-2.4 1.9-1.1 0-2.3-1.7-1.3-.2-1.5 1.1.4 4.6-1.6 1.1-2.8.6-4.6-.5-3.5-1.2-3.3-1.8-4-3.9-29.8 0-1 10.2-1.5 5.7 3.4 3.7 7.9-2.5 6.8-.9 3.4.1 8 1.2 3.4 1.5 3.6 2.6zM530 25.6l8-2.8 6.8-.8 0-16.2-16.1 0-1.2 11.4-1.3 4.5 3.1 3.4zM351.7 24.2l2.3.4 4.6-4-1.6-8-.2-6.8-14.7 0-.6.6 0 14.8 9.7 2.8zM377.9 17.7l7.9 0 2.3-1.1 4-4 1.1-2.3.7-4.5-24.6 0 0 2.3 1 1.1.2 2.3 3.1 3.4 3.2 2.3zM499.4 17.7l9 0 2.3-1.2 2.9-2.8 1.1-2.2 1.1-2.3.1-3.4-24 0 .1 3.4 2.2 4.5 2.9 2.9 1.7.6z"/><path fill="#fcfc10" stroke="#707070" stroke-width="0.35" stroke-opacity="0.27" d="M342.6 208.8l10.2 0 3.3-10.2-3.2-4.5-4-.1-7.4.9 0 13.9zM369.9 208.8l24.4 0-1.2-3.4-5-5.1-1.2-.1-1.1-1-2.3-.1-5.6.1-4.6 2.5-2.8 3.7-1.1 3.4zM441.4 208.4l.2.4 33.4 0 3.3-10.2-2.2-3.4-1.6-1.2-11.5.9-17-.8-2.3-1.1-2.3-2.3-1.1-.1-4.1 3.4-2.9 3.4.5 1.2 5.4 5.7 1.9 3.4zM492.5 208.8l23.4 0-.1-2.3-1.1-1.1-.1-1.1-2.7-2.8-3.5-2.3-9 0-1.2 1.1-1.1.1-3.9 3.9-.1 1.1-1.1 1.1-.1 2.3zM409.6 203.9l1.2.2 3.4-1.4 1.8-1.8.7-2.3-3.6-3-4.6-2.2-1.5.6-2 2.3 1.2 3.2 2.6 3.6zM531.2 203.3l2.2.7 2.3-1 2.3-2.1.9-2.3-2.6-2.3-6.3-3-3 3 1.9 4.1 2.1 2.7zM439.2 183.6l3.4.1 2.9-3.3-.1-3.4-1.7-2.3-1.1-.6-3.4.1-1.2.9-2.8-2.6-.1-4.5-1-1.2 0-1.1-1.2-2.3-3.9-3.9-1.2 0-2.3-1.1-5.6 0-4.6 2.3-1.6 1.6-2.3 3.4 0 9.1 1.1 1.1.1 1.1 2.7 2.8 4.6 2.3 6.8 0 1.1-1 1.2-.1 3.4-3.3 1.1 1 2.3 0 .5 1.7 2.1 2.3zM342.6 182.1l1.2-1.1 1.1 0 5.1-5.1 1.1-3.4 0-5.7-2.2-4.5-2.8-2.8-4.6-2.2 0 24.8zM375.6 182.2l4.5.5 4.6-.5 3.4-2.2 2.9-3 .1-1.1 1.1-1.1 0-2.3.9-1.1.1-1.2-.1-1.1-.9-1.1-.1-2.3-1-1.1-.1-1.2-4.1-4-1.1-.1-1.1-1-9.1.1-3.4 2.1-1.8 1.8-2.3 4.5.2 8 2.1 3.4 2.9 2.8 1.6.6zM378.6 177l-.7-.7-1.2 0-2.3-2.3-.4-2.6-1-1.2 1-1.1.1-2.3 2.6-2.6 1.2 0 1.1-1.1 2.3 0 1.1 1.1 1.1 0 2.7 2.6 1.1 2.3-.1 3.4-3.7 3.8-1.1.1-1.1 1-2.3 0zM457.3 182.1l8-.3 5.1-3.6 2.2-3.4.1-2.3 1-2.3-1.1-5.6-2.8-3.9-5.6-3.4-6.9 0-5.6 3.8-2.7 3.5-1.2 5.6.9 2.3-1 1.1 0 2.3 2 2.3 2 .6 1.1 1.1 3.4 1.7zM498.2 182.2l4.6.5 4.5-.5 1.1-1.1 1.2-.2 2.9-2.7.1-1.2 2.2-3.4 0-6.8-1.1-1.1 0-1.1-1.1-1.2-.2-1.1-5.1-3.9-9.1-.2-1.1 1.1-1.8.7-3.4 3.4-.2 1.2-1 1.1-1.1 3.4 0 2.3 1.1 2.2.2 2.3 5.1 5.2 1.4.5zM500.2 177l-3.1-1.9-.4-1.5-1.1-1.1 0-4.5 3.8-3.8 1.1 0 1.1-1.1 2.3.1 1.1 1 1.2 0 2.6 2.6 0 6.8-2.6 2.7-1.2 0-1.1 1.1-3.4-.1zM541.4 182.1l3.4.1 0-23.9-3.4.1-1.2 1-1.1.1-4.9 5.1-.3 2.2-1 1.2 0 4.5.9 1.1.3 2.3 5 5.1 1.7.6zM441.4 144.7l4.4-2.8 7.5-3.4-11.9-4.5-4.5-3.6-4.4-6.7-1.2-4.5-.1-5.7-.5-1.1-1.7-.7-7.3-.4-12.1-5.5-1.7.9-1.5 2.3.7 3.4-.2 4.5.8 8-.7 11.3.8 6.8.7.8 12.5-1.7 13.7-.2 4.1 1.1 1.9 1.2zM531.2 143.8l13.6-1.7 0-30.7-4.6-1.5-7.9-4-1.1 0-1 .8-1.7 2.3.5 1.1.1 8 1 7.9-.9 7.9.1 4.6.8 4.5zM348.3 142.2l4.6.6 2-2 0-4.6-1.2-10.2.3-4.2 2.5-4.9 5.4-6.8-.5-1.1-4-3.2-2.3-2.6-2.3-4.4-1-6.8 1-5.7 3.2-9-.1-1.2-3-4.1-2.3-.2-9.1 1.1 0 32.1 2.3 2.2 2.3 3.7 1.1 2.6.7 4.6-.4 3.4-1.4 3.3-4.6 5.2 0 10.2 6 1.7zM469.8 141.9l4.6 1 2.7-2.1-1.3-15.9.8-4.6 4.6-6.8 3-3.4-7.6-7.9-2.3-5.7.1-7.9 2.9-7.9.7-4.6-1.5-2.3-2.1-1.9-10.2 1-10.3-.8-6.8.1-2.5-.6-3.2-3.1-1.1 0-5.9 5.3-.9 1.2.1 1.1 4.4 4.7 3.5 5.5 1.4 4.6.1 7.9.6 1.1 1.3.4 3.4-.5 4.5.2 3.4.9 5.7 2.7 4.6 4.3 2.4 4.5 1 3.4.1 4.5-2.4 5.4-3.4 3.9-9 7.7 1 1 13.5 3.6zM379 140.1l5.7 0 4.5-2.2 2.8-2.8.1-1.2 1-1.1.8-4.5-.8-4.6-1.6-2.8-3.4-3.3-1.2-.1-1.1-1.1-6.8 0-3.8-4 2.2-3.4-1.1-1.1-.1-1.2-1.8-1.7-1.1 0-1.1-1.1-1.2 1-1.1 0-3.3 3 0 2.2 1.2 1.2.1 1.1 3.6 2.3.1 1.1 1.1 1.1 0 1.2 1 1.1-2.2 2.3-1.1 2.2-.9 2.3-.1 3.4 2.2 5.7 2.8 2.8 3.8 1.7zM500.5 140.1l6.8 0 1.1-1 1.2-.1 2.3-2.1 2.7-3 .1-1.1 1.1-1.1 0-6.8-3.9-6.2-1.2-.2-3.4-2.1-5.7-.1-1.1-1-2.8-2.9 1.1-1.1.1-1.2 0-2.2-1.2-2.3-.6-.6-3.4-.7-2.3.5-2.1 1.9-.1 1.2.1 3.4 3.2 2.9 1.2-.1.5.6 0 2.2 1.2 1.2 0 1.1-1.2 1.1-2.2 4.6 0 6.8 1.1 1.1 0 1.1 2.1 2.3 3 2.8 1.8.6zM374.4 103.9l2.3 0 2.3-2.1 6.8-.2 1.1-1.1 1.2-.1 5-5 1.2-3.4 0-5.7-1-1.1-1.3-3.4-2.8-2.8-2.3-1.2-1.1 0-1.1-1-5.7-.1-1.1 1-3.5 1.3-3.9 3.9 0 1.2-1.1 1.1 0 7.9 2.2 3.4 0 4.6 2.3 2.2zM496 103.9l2.2 0 3.4-2.2 5.7-.1 1.1-.5 3.5-1.8 2.7-2.8.1-1.1 1.1-1.1 1.1-5.7-.8-1.1-.4-3.4-2.7-3.5-3.4-2.7-3.4-1.2-4.6 0-3.4 1.2-3.4 2.3-2.7 3.9-.1 2.2-1.1 2.3 0 2.3 1 1.1.1 2.3 2.2 3.4 0 4.5 1.2 1.1zM410.8 82.1l3.4-1.4 2.6-3.4-.4-1.2-2.2-1.7-5.8-2.8-1 .2-2.1 2-.2 1.2 1.6 3.4 3 3.4zM532.3 82.1l4.2-1.4 2.4-3.4-.3-1.2-4-2.9-4.6-1.8-2.5 2.4-.4 1.2 2.9 5.1 1.8 1.7zM440.3 62.4l1.1 0 1.2-1.2 1.1 0 1.8-2.1-.1-4.5-2.8-2.9-3.4.1-1.2 1.1-1.7-1.7-1.1-1.2 0-3.4-1.2-3.4-2.8-3.9-3.4-2.3-2.3-.1-1.1-1-2.3 0-2.2 1.1-2.3.3-5.1 4.8-1.1 2.3 0 7.9 1.1 2.3 4 3.9 5.6 2.3 2.3-.1 1.1-.9 2.3-.1 4.6-3.4 2.2 0 1.5.5.2 2.3 1.7 1.9 1.5.4zM377.9 60.9l5.6-.1 1.2-1 1.1 0 1.1-1.1 1.2-.2 4-5.1.3-3.4.8-1.1-1.1-5.7-1.8-1.9-.5-1.5-1.7-1.6-1.2-.2-1.1-1.1-1.1 0-1.2-1-5.6-.1-1.2.8-2.3.3-5.2 5.2 0 1.1-1.1 1.2 0 7.9 1.1 1.1 0 1.2 5.2 5.1 2.6.5zM377.5 54.6l-2.2-1.2-.2-1.1-1-1.1 0-1.2-1.1-1.1 0-1.1 1.1-1.2 0-1.1 1.5-2.6 1.1-.1 1.2-1.1 5.6.1 2.7 2.6 0 1.1 1.1 1.1 0 3.4-1.1 1.2 0 1.1-2.7 2.3-5.6.3zM458.5 60.3l3.4.4 5.7-2.2 3.9-3.9 2.2-5.7 0-2.3-.9-1.1-.2-2.3-1.6-2.8-3.4-3.4-6.8-2.2-2.3 1-2.3.1-1.1 1.1-1.2 0-3.9 4-2.3 6.8 1 2.2 0 1.2-1 1.1 0 2.3 1.7 1.7 2.3.3 2.2 2 4.5 1.6zM499.4 60.8l5.6.1 1.2-1 2.2-.2 5.2-5.1.1-1.2 1-1.1 0-7.9-1-1.2-.1-1.1-5.2-5.1-2.2-.3-1.2-.9-5.6 0-3.4 2.2-1.2.1-2.8 2.9-.1 1.1-1.1 1.1-.2 2.3-.9 1.1 0 3.4 1 1.2.1 2.2 1.1 1.2.1 1.1 2.8 2.9 1.2.1 1.1 1.1 1.7.4zM499.1 54.6l-2.4-2.3 0-1.1-1.1-1.2 0-3.4 1.1-1.1 0-1.1 2.7-2.6 5.6-.1 3.8 3.8 0 5.7-3.8 3.7-5.6 0zM543.7 60.7l1.1.1 0-24.9-1.1 0-1.2 1-2.3.1-1.1 1.1-1.1.1-2.8 2.8-2.3 5.6 0 3.4 2.3 5.7 2.8 2.8 5.1 1.7zM342.6 59.7l3.5-1.3 2.7-2.7.1-1.1 2.2-3.4 0-6.8-3.9-6.2-1.1-.2-2.3-2.1-2.3-.1 0 24zM440.3 21.9l1.1.8 12.4-6.7-5.5-1.2-5.7-2.2-4.6-3.1-3.2-3.7-27.1 0-.7 7.9.7 6.9.8 1 12.5-1.4 13.6-.1 3.1.5 2.3 1.1zM351.7 20.9l2.3-1 .9-1.6-.1-5.7-.9-6.8-10.1 0-2.3 2.4 0 10 9.2 2.4zM473.2 20.7l1.2.3.8-.4 1.9-2.3-1-12.5-10.3 0-10.7 10.1-1 .1 6.7 1.2 5.6 2 6.3 1.4zM531.2 21.7l13.6-1.5 0-14.4-14.8 0-.8 5.7.8 9.1zM377.9 17.7l7.9 0 1.1-1 1.2-.2 3.9-3.9 1.1-2.3.7-4.5-24.4 0 0 2.3 1 1.1.1 2.3 3.1 3.4 3.3 2.3zM499.4 17.7l9 0 1.2-1.1 1.1-.2 2.8-2.7 1.2-2.2 1.1-2.3 0-3.4-23.9 0 .1 3.4 2.3 4.5 2.8 2.8 1.7.7zM457.3 8.2l.4-.1-.5 0z"/><path fill="#fcfc30" stroke="#707070" stroke-width="0.35" stroke-opacity="0.27" d="M342.6 208.8l8.7 0 3.3-9.1.1-1.1-1.8-2.8-2.3-.9-9.1.7 0 13.2zM369.9 208.8l24.3 0-1.1-3.4-5-5-1.2-.1-1.1-1-4.5-.2-3.4.1-4.6 2.6-2.7 3.6-.1 1.1-1.1 1.2 0 1.1zM442.6 208.7l30.9.1 3.1-7.9.2-2.3-2.4-3.4-2.3-.3-9.1.8-10.2-.5-7.9 2.3-4.6-1.1-2.1 3.3 4 8zM492.5 208.8l23.3 0 0-1.1-1.2-3.4-3.9-3.9-1.1-.1-1.2-1-7.9-.1-3.4 1.2-3.9 3.9-.1 1.1-1 1.1-.1 2.3zM410.8 202.2l2.3-.1 1.2-1.2.2-1.2-1.8-2.3-4.2-2.3-1.4 1.2-.2 1.1 1.6 2.8 1.9 1.8zM533.4 202.3l2.3-.4.9-2.2-1.7-2.3-3.7-2.2-1.9 1.1-.2 1.1 2.1 3.5 1.4 1.1zM439.2 183.5l3.4.1 2.8-3.2 0-3.4-2.8-2.8-3.4.1-1.2.9-2.9-2.7 0-4.5-1-1.2-1.3-3.4-3.8-3.8-3.5-1.2-5.6 0-1.2 1-3.4 1.3-1.6 1.6-2.2 3.4 0 9.1 1 1.1.1 1.1 2.7 2.8 4.6 2.3 6.8 0 1.1-1 1.2-.1 3.4-3.3 1.1 1 2.3 0 .6.6 0 1.1 2.1 2.3zM342.6 182l1.2-1 1.1-.1 5-5 1.2-3.4 0-5.7-2.3-4.5-2.7-2.7-3.5-1.3-1.1-1 0 24.8zM375.6 182.2l4.5.4 4.6-.4 1.1-1.1 1.1 0 3-2.9 2.2-3.4.1-2.3.9-1.1 0-2.3-.9-1.1-.1-2.3-1.1-1.1 0-1.2-4.1-4-1.1 0-1.1-1.1-9.1.1-5.2 3.9-2.3 4.5.2 8 2.1 3.4 2.9 2.8 1.7.6zM378.6 177l-.7-.7-1.2 0-2.3-2.3-.4-2.6-1-1.2 1-1.1.1-2.3 2.6-2.6 1.2 0 1.1-1.1 2.3 0 1.1 1 1.1.1 2.7 2.6 1.1 2.3 0 3.4-3.8 3.8-1.1.1-1.1 1-2.3 0zM457.3 182.1l8-.4 3.4-1.9 2.7-2.8.1-1.1 1.1-1.1 1.1-5.7-.7-1.1-.5-3.4-2.7-3.9-3.4-2.3-1.1 0-1.1-1.1-6.9 0-5.6 3.8-2.6 3.5-.4 3.4-.9 2.2 1 2.3-1 1.1 0 2.3 2.7 2.8 1.2 0 1.1 1.1 3.6 1.8zM498.2 182.2l4.6.4 4.5-.4 4.6-3.4 1.7-2.9.1-1.1 1.1-1.2-.1-6.8-2.2-3.4-.1-1.1-5.1-3.8-9.1-.2-1.1 1.1-1.8.6-3.4 3.4-1.1 2.3-1.1 3.4 0 2.3.1 1.1 1 1.1.2 2.3 5 5.2 1.5.5zM500.2 177l-3.1-1.9-.4-1.5-1.1-1.1 0-4.5 3.8-3.8 1.1-.1 1.1-1 2.3 0 1.1 1.1 1.2 0 2.6 2.6 0 6.8-2.6 2.7-1.2 0-1.1 1.1-3.4-.1zM541.4 182l3.4.1 0-23.7-3.4.1-2.8 1.5-4.4 4.6-.3 2.2-.9 1.2 0 4.5.9 1.1.2 2.3 5 5 1.8.7zM409.6 142l11.4-1 8-.1 6.8-1.3 3.4.4 2.2 1.1 3.8-2.6-.4-1.2-6.8-4.6-5.3-6.7-2-4.5-.9-8-.8-.5-8-1-7.9-3.5-2.3-.5-1.3 1-1.4 9.1.6 7.9-.8 9.1.6 3.9 1.1 2.9zM532.3 142.1l12.5-1.1 0-28.7-11.4-4.3-1.8 1-1.3 9.1.5 9-.7 9.1 1.8 5.7zM350.6 140.8l1.4 0 .9-1.2.3-4.5-1.3-6.8-2.4-5.3-8 8.3 0 6.8 3.4 1.5 5.4 1.2zM473.2 140.8l1.3 0 .5-1.2.3-5.7-.9-4.6-2.3-6-1.1.1-8.8 9.4-1.6 2.3 0 1.1 4.7 2.7 7.1 1.9zM379 140.1l5.7 0 1.1-1 3.4-1.3 2.7-2.7.1-1.2 1.1-1.1.7-4.4-.7-4.7-1.6-2.7-3.4-3.4-1.2-.1-1.1-1-6.8-.1-1.8-1.7-2.1-2.3 2.2-3.4-1.1-1.1 0-1.2-4-2.8-1.2 1.1-1.1-.1-3.2 3 0 2.2 1.2 1.2.1 1.1 3.6 2.3 0 1.1 1.2 1.1 0 1.2 1 1.1-2.2 2.3-1.1 2.2-.9 2.3-.2 3.4 2.3 5.7 2.7 2.7 3.9 1.8zM500.5 140l6.8 0 1.1-1 1.2-.1 2.3-2.1 2.7-2.9.1-1.1 1-1.1 0-6.8-2.4-4.6-1.4-1.5-1.2-.2-3.4-2.1-5.7-.1-4-4 1.1-1.1.1-1.2 0-2.2-1.2-2.3-3.9-1.2-2.3.5-2 1.8 0 4.6 3.1 2.8 1.2 0 .6.6 0 2.2 1.1 1.2 0 1.1-1.1 1.1-.2 1.2-2.1 3.4.1 6.8 2.7 4.1 3.4 3.1 1.8.7zM350.6 117.6l5.4-7.5-4.3-5.5-1.5-3.5-.4-3.4.7-8 4.2-12.4-1.8-3.5-1.2-.7-3.4-.2-6.8.7 0 30.1 4.6 4.8 4.1 8.4zM472.1 117.2l1.1 0 4.9-7.1-4.3-5.6-1.8-5.7.9-10.2 4-11.3-1.8-3.5-.7-.6-2.3-.3-7.9.7-10.3-.5-9 2.4-4.6-1.1-2 2.9 0 1.1 5.1 10.2.8 3.4.4 6.8 9.3.5 5.7 2.1 4.6 2.6 2.8 2.7 2.2 3.4 2.8 6.8zM374.4 103.9l2.3-.1 2.3-2.1 6.8-.2 1.1-1 1.2-.1 5-5 1.1-3.4 0-5.7-1-1.1-1.3-3.4-2.7-2.7-3.4-1.3-1.1-1-5.7 0-4.6 2.2-3.8 3.9-.1 1.2-1 1.1-.1 7.9 2.2 3.4.1 4.6 2.2 2.2zM496 103.9l2.2-.1 3.4-2.2 5.7 0 4.6-2.3 2.7-2.8.1-1.1 1-1.1.1-2.3 1-2.3 0-1.1-.8-1.1-.3-3.4-2.7-3.4-3.4-2.8-1.2 0-2.2-1.1-4.6 0-2.2 1.1-1.2 0-3.4 2.4-.6 1.5-2.1 2.3-.1 2.2-1 2.3 0 2.3 1 1.1.1 2.3 2.2 3.4 0 4.5 1.1 1.1zM410.8 80.2l2.3-.1.8-.6.4-2.2-2.2-2.3-3.6-1.8-1.8 1.8 1.1 2.3 1.9 2.2zM532.3 79.9l1.1.4 2.3-.5.9-1.4-.1-1.1-1.9-2-3.4-2-1.5.5-.8 1.2 1.1 2.3 1.9 2.2zM440.3 62.3l1.1 0 1.2-1.2 1.1 0 1.8-2-.1-4.5-2.8-2.8-3.4 0-1.2 1.2-1.8-1.8-1.1-1.2 0-3.4-1.1-2.2 0-1.2-1.1-1.1-.5-1.6-2.3-2-2.3-1.4-2.3-.2-1.1-.9-2.3 0-4.5 1.4-5 4.7-1.2 2.3 0 7.9 1 1.1.2 1.2 3.9 3.9 5.6 2.2 2.3-.1 1.1-.8 2.3-.2 4.6-3.4 2.2 0 1.6.6.2 2.3 1.6 1.9 1.6.4zM377.9 60.9l5.6-.2 2.3-1 1.1-1.1 1.2-.2 3.9-5 .1-2.2 1-2.3-1-3.4 0-2.3-2.1-2.2-.3-1.2-1.6-1.6-1.2-.2-1.1-1.1-1.1 0-1.2-1-5.6-.1-1.2.9-2.3.3-5.1 5.1-.1 1.1-1 1.2 0 7.9 1 1.1.1 1.2 5.1 5.1 2.6.5zM377.4 54.6l-2.2-1.2-.1-1.1-1.1-1.1 0-1.2-1-1.1 1-3.4 1.1-1.1.1-1.2 1.5-.4 1.2-1.1 5.6.1 2.7 2.6 0 1.1 1.1 1.1 0 3.4-1.1 1.2 0 1.1-2.7 2.3-5.6.4zM459.6 60.7l2.3 0 5.7-2.2 3.9-3.9 1.1-2.3.3-2.3.8-1.1 0-2.3-.9-1.1-.2-2.3-1.6-2.7-3.4-3.4-6.8-2.2-6.9 2.2-3.8 3.9-.1 1.1-1.1 1.1-.1 2.3-1 2.3.9 2.2 0 1.2-.9 1.1 0 2.3 1.6 1.6 2.3.3 2.2 2 4.6 1.7zM499.4 60.8l5.6.1 1.2-1 2.2-.3 5.2-5 0-1.2 1-1.1.1-7.9-1.1-1.2 0-1.1-5.2-5.1-2.2-.2-1.2-1-5.6.1-1.2 1-1.1 0-1.1 1.1-1.2.1-2.7 2.9-.2 1.1-1.1 1.1-.1 2.3-1 1.1 0 3.4 1 1.2.1 2.2 1.1 1.2.2 1.1 2.7 2.8 1.2.1 1.1 1.1 1.7.5zM499 54.6l-2.3-2.3-.1-1.1-1-1.2 0-3.4 1-1.1.1-1.1 2.7-2.7 5.6 0 3.8 3.8 0 5.7-3.8 3.8-5.6-.1zM543.7 60.6l1.1.1 0-24.7-4.6 1.1-1.1 1.1-1.6.5-2.2 2.3-2.3 5.6 0 3.4 2.3 5.7 2.7 2.7 1.1.1 1.1 1.1 2.3.1.6.5zM342.6 59.6l1.2 0 1.1-1.1 1.2-.1 2.7-2.7 1.2-3.4 1-1.1.1-5.7-1.2-3.4-2.3-3.4-1.5-.6-2.3-2.1-2.3-.1 0 23.8zM409.6 19.8l2.3.3 8-1 6.8 0 9.1-1.5 3.4.5 2.2 1 3.2-1.9.7-1.2-7.3-5.2-4.1-5-25.3 0-.7 7.9 1.5 5.7zM532.3 20.1l12.5-1.1 0-13.2-14.1 0-.7 6.8 1.5 6.8zM348.3 18.5l3.4.4 1.1-.6.4-5.7-1.5-6.8-6.9 0-3.3 3.5 0 6.8 5.7 2.2zM469.8 18.4l4.6.5.5-.6.5-4.6-1.5-7.9-6.9 0-6.2 6.8-.3 1.1.8 1.2 8.1 3.4zM377.9 17.6l7.9 0 2.3-1.1 3.9-3.9 1.1-2.3.6-4.5-24.3 0 0 2.3 1 1.1.2 2.3 3.1 3.4 3.3 2.3zM499.4 17.6l9 0 1.2-1.1 1.1-.1 2.8-2.7 1.1-2.2 1.1-2.3.1-3.4-23.8 0 .1 3.4 2.2 4.5 2.8 2.8 1.8.7z"/><path fill="#fcfc60" stroke="#707070" stroke-width="0.35" stroke-opacity="0.27" d="M342.6 208.8l7.5 0 3-6.8.5-2.3-.8-2.3-1-1.1-3.5-.6-6.8.6 0 12.5zM369.9 208.8l24.3 0-1.2-3.4-4.9-5-1.2-.1-1.1-1-2.3-.1-5.6.1-4.6 2.5-2.7 3.6-1.1 3.4zM444.9 208.5l27.3.3 3-6.8.4-3.4-1.2-2-2.3-.7-19.3.3-4 2.4-4.9 5.7-.2 1.6.9 1.8zM492.5 208.8l23.3 0-.1-2.3-1.1-1.1-.1-1.1-2.6-2.7-3.5-2.3-9 0-1.2 1.1-1.1.1-3.8 3.8-.1 1.1-1.1 1.1-.1 2.3zM532.3 198.8l.3-.2-.5 0zM439.2 183.4l3.4.1 2.3-2.4.5-.7-.1-3.4-2.7-2.7-3.4 0-1.2 1-2.9-2.8-.1-4.5-1-1.2-.5-2-.7-1.4-3.8-3.8-1.2 0-2.3-1.1-5.6 0-4.6 2.3-1.5 1.5-2.3 3.4 0 9.1 1.1 1.1.1 1.1 2.6 2.7 4.6 2.3 6.8 0 1.1-1 1.2-.1 3.4-3.3 1.1 1 2.3 0 .7.7-.1 1.1 2.2 2.3zM342.6 182l1.2-1.1 1.1 0 5-5 1.1-3.4 0-5.7-2.3-4.5-2.6-2.7-3.5-1.2-1.1-1 0 24.6zM375.6 182.1l4.5.5 4.6-.4 3.4-2.3 2.8-2.9.1-1.1 1.1-1.1.1-2.3.9-2.3-.1-1.1-.9-1.1 0-2.3-1.1-1.1-.7-1.8-3.4-3.3-1.1-.1-1.1-1.1-9.1.2-4.6 3.2-2.8 5.1.2 8 2.6 4 2.3 2.1 1.7.7zM378.5 177l-1.8-.7-2.3-2.2-.5-2.7-1-1.2 1-1.1.1-2.3 2.7-2.7 1.2 0 1.1-1 2.3-.1 1.1 1.1 1.1 0 2.7 2.7 1.2 2.3-.1 3.4-3.8 3.8-1.1.2-1.1 1-2.3-.1zM457.3 182l8-.4 5-3.4 2.2-3.4.1-2.3 1-2.3-1.1-5.6-2.7-3.8-5.6-3.4-6.9 0-5.5 3.8-2.7 3.4-.3 3.4-.9 2.2 1 2.3-1.1 1.1 0 2.3 2.7 2.7 1.2 0 1.1 1.2 3.7 1.8zM498.2 182.2l4.6.4 4.5-.5 1.1-1.1 1.2-.2 2.8-2.6.1-1.2 2.2-3.4 0-6.8-2.8-5-4.6-3.3-9.1-.2-1.1 1.1-1.1 0-3.5 3.4-1.7 2.9-1.1 3.4 0 2.3 1.1 2.2.2 2.3 5 5.1 1.5.6zM500.2 177l-.8-.7-1.2-.1-1.5-1.4 0-1.2-1.2-1.1.1-4.5 3.8-3.9 1.1 0 1.1-1.1 2.3.1 1.1 1 1.2.1 2.6 2.6.1 6.8-2.7 2.7-1.2.1-1.1 1-3.4 0zM541.4 182l3.4.1 0-23.7-3.4.1-1.2 1.1-1.1 0-4.8 5-.3 2.2-1 1.2 0 4.5.9 1.1.3 2.3 4.9 5 1.8.7zM410.8 140.8l2.3.2 17-1.5 5.7-2.6 1.8-1.8-6.6-10.2-1.7-3.4-1.8-5.7-1.7-1.1-11.6-4.1-1.1 0-1.2 1-2.3 4.3-.4 2.2.2 9-.8 8 1 3.8 1.1 1.9zM533.4 141l11.4-1 0-26.3-5.7-2.4-3.4-.8-1.1.5-2.3 3.7-1.1 4.5.4 6.8-.8 9.1.8 3.4 1.4 2.3zM379 140l5.7 0 4.5-2.2 2.7-2.7.1-1.2 1-1.1.7-4.5-.7-4.6-1.5-2.7-3.4-3.3-1.2-.1-1.1-1-6.8-.1-3.9-4.1.9-1.1.1-1.2 1.1-1.1-1.1-1.1 0-1.2-3.9-2.7-1.2 1-1.1 0-3.1 2.9 0 2.2 1.2 1.2.1 1.1 3.6 2.3 0 1.1 1.1 1.1.1 1.2.9 1.1-3.3 4.5-1 3.4 0 2.3 2.3 5.7 2.6 2.7 3.9 1.8zM500.5 140l6.8 0 1.1-1 1.2-.1 2.3-2.1 2.6-2.9.1-1.1 1.1-1.1 0-6.8-3.8-6.1-1.2-.1-3.4-2.2-5.7 0-4.1-4.1 1.2-1.1.1-2.3 0-1.1-1.2-2.3-3.9-1.1-2.3.5-1.9 1.7 0 4.6 3 2.7 1.2 0 .6.7.1 2.2 1.1 1.2 0 1.1-1.1 1.1-.2 1.2-2.1 3.4 0 6.8 3.2 4.5 2.9 2.7 1.9.7zM347.2 138.6l3.4.3.7-1.6-.3-5.6-1.5-3.1-1.2-1.2-2.2.7-4.6 4.7 0 2.9 5.3 2.8zM469.8 138.7l2.3.3 1.1-.5.5-3.4-.5-3.4-1-2.3-1.2-1.6-1.2-.5-3.4 2.3-3.2 4.3 0 1.2 1 1.1 4.7 2.3zM344.9 103.7l1.2-1.2 1.5-4.8 1.8-9.1 4.1-10.2-.6-2.8-1.2-1.3-2-.5-8.2.5 0 28 2.4 1zM374.4 103.8l2.3 0 2.3-2.1 6.8-.2 1.1-1.1 1.2-.1 4.9-4.9 1.2-3.4 0-5.7-1.1-1.1 0-1.1-1.2-2.3-2.7-2.7-3.4-1.2-1.1-1-5.7 0-4.6 2.2-3.8 3.8 0 1.2-1.1 1.1 0 7.9 2.2 3.4 0 4.6 2.3 2.2zM466.4 103.5l1.2.1 1.1-2.5 2.9-12.5 3.8-9.1.4-2.2-.5-1.2-.9-1.5-2.6-.8-8.8.6-7.9-.5-4.1 1.1-1.6 1.1-5.8 6.8 3 8 1 4.5 18.5 7.9zM496 103.8l2.2 0 3.4-2.2 6.6-.5 3.7-1.9 2.6-2.7.1-1.1 1.1-1.1 1.1-5.7-.9-1.1-.3-3.4-2.6-3.3-3.4-2.8-3.4-1.2-4.6 0-3.4 1.2-3.4 2.4-2.6 3.7-.1 2.2-1.1 2.3 0 2.3 1 1.1.1 2.3 2.3 3.4 0 4.5 1.1 1.1zM410.8 77.4l0-.4-.2.3zM440.3 62.1l1.1.1 1.2-1.2 1.1 0 1.7-1.9-.1-4.5-2.7-2.8-3.4.1-1.2 1.1-1.8-1.8-1.1-1.2-.1-3.4-1.1-3.4-1.5-2.6-2.3-2-2.3-1.4-2.3-.2-1.1-.9-2.3-.1-4.5 1.5-5 4.6-1.1 2.3 0 7.9 1.1 2.3 3.9 3.8 2.2 1.2 4.6 1.1 2.2-1 2.3-.1 4.6-3.4 2.2 0 1.7.6.1 2.3 1.6 1.8 1.7.5zM377.9 60.8l5.6-.1 1.2-1 1.1 0 1.1-1.1 1.2-.2 3.9-5 .3-3.4.8-1.1-1.1-5.7-2-2.2-.3-1.2-1.6-1.5-1.2-.2-1.1-1.1-2.3-1-5.6-.2-1.2.9-2.3.3-5.1 5.1 0 1.1-1.1 1.2 0 7.9 1.1 1.1 0 1.2 5.1 5 2.7.6zM377.4 54.6l-2.2-1.2-.1-1.1-1.1-1.1 0-1.2-1-1.1 1-3.4 1.6-2.7 1.1 0 1.2-1.1 5.6.1 2.7 2.6.1 1.1 1 1.1 0 3.4-1 1.2-.1 1.1-2.6 2.3-5.7.4zM459.6 60.6l3.4-.3 4.6-1.9 3.8-3.8 1.1-2.3.3-2.3.8-1.1 0-2.3-.9-1.1-.2-2.3-1.5-2.7-3.4-3.4-6.8-2.2-2.3 1-2.3.1-1.1 1.1-1.2 0-1.6 1.6-2.2 2.3-.1 1.1-1 1.1-.1 2.3-1 2.3.9 3.4-1 1.1 0 2.3 1.6 1.5 2.3.3 2.2 2 2.3 1.2 2.5.6zM499.4 60.7l5.6.1 1.2-1 2.2-.2 5.1-5 .1-1.2 1-1.1 0-7.9-1-1.2-.1-1.1-5.1-5-2.2-.3-1.2-1-5.6.1-3.4 2.2-1.2.1-2.7 2.8-.2 1.1-1.1 1.1-.1 2.3-.9 1.1 0 3.4.9 1.2.1 2.2 1.1 1.2.2 1.1 2.7 2.8 1.2.1 1.1 1.1 1.8.5zM499 54.6l-2.3-2.3-.1-1.1-1.1-1.2 0-3.4 1.1-1.1.1-1.1 2.7-2.7 5.6 0 3.9 3.8 0 5.7-3.9 3.8-5.6 0zM543.7 60.6l1.1.1 0-24.7-2.3 1-2.3.1-1.1 1.1-1.1.1-2.7 2.7-2.3 5.6 0 3.4 2.3 5.7 2.7 2.6 1.1.2 1.1 1 3 .7zM342.6 59.6l3.5-1.3 2.6-2.6.1-1.1 2.2-3.4 0-6.8-3.8-6.1-1.1-.2-2.3-2.1-2.3-.1 0 23.7zM410.8 18.7l3.4.3 14.8-1.2 6.9-2.9 1.5-1.2.1-1.1-4.7-6.8-23.5 0-.7 6.8.3 2.3 1.5 3.4zM533.4 18.9l11.4-.8 0-12.3-13.4 0-.5 7.9 1.7 4.6zM377.9 17.6l7.9 0 1.1-1 1.2-.2 3.8-3.8 1.1-2.3.6-4.5-24.1 0 0 2.3 1 1.1.1 2.3 5 5 1.5.7zM499.4 17.5l9 0 2.3-1.2 2.7-2.6 2.3-4.5 0-3.4-23.6 0 0 3.4 2.3 4.5 2.7 2.7 1.1.1.7.7zM346.1 16.3l4.5.7.8-2.1-.2-4.6-2.5-4.5-2.6.3-3.5 3.2-1.1 1.7 0 2.8 3.8 2.2zM467.6 16l4.5 1 1.1-.7.4-2.6-.3-3.4-2.3-4.5-2.4 0-1 .8-3.6 3.7-1 2.3 1.2 1.6 3.3 1.8z"/><path fill="#fcfc88" stroke="#707070" stroke-width="0.35" stroke-opacity="0.27" d="M342.6 208.8l6.5 0 3.4-7.9.2-1.2-1-2.1-3.4-1.1-6.8.3 0 12zM369.9 208.8l24.2 0-1.1-3.4-1.5-1.6-3.4-3.3-3.4-1.2-6.8 0-4.6 2.6-2.6 3.5-.1 1.1-1.1 1.2 0 1.1zM450.5 208.5l20.6.3 2.9-5.7.9-3.4-1.4-2.3-2.5-.9-17.1.3-2.9 1.8-1.4 2.3-.5 2.2.9 4.6zM492.5 208.8l23.2 0 0-1.1-1.2-3.4-3.8-3.8-1.1-.1-1.2-1-7.9-.1-3.4 1.2-3.8 3.8-.1 1.1-1 1.1-.1 2.3zM439.2 183.3l3.4.1 2.7-3 0-3.4-2.7-2.7-3.4.1-1.2 1-3-2.9 0-4.5-1-1.2-1.3-3.4-3.7-3.7-3.5-1.2-5.6 0-1.2 1-3.4 1.3-1.5 1.5-2.2 3.4 0 9.1 1 1.1.1 1.1 2.6 2.7 4.6 2.3 6.8 0 1.1-1.1 1.2 0 3.4-3.4 1.1 1.1 2.3 0 .7.7 0 1.1 2.1 2.3zM342.6 181.9l1.2-1 1.1-.1 4.9-4.9 1.2-3.4 0-5.7-1-1.1-1.3-3.4-2.6-2.6-3.5-1.3-1.1-1 0 24.6zM375.6 182.1l4.5.4 4.6-.4 3.4-2.2 2.8-2.9.1-1.1 1-1.1.1-2.3.9-1.1.1-1.2-.1-1.1-.9-1.1-.1-2.3-1-1.1-.1-1.2-1.7-1.7-2.3-2.2-1.1 0-1.1-1.1-9.1.1-5.1 3.8-2.3 4.5.2 8 2.1 3.4 2.8 2.7 1.7.7zM378.5 177l-.6-.6-1.2 0-2.3-2.3-.5-2.7-1-1.2 1-1.1.1-2.3 2.7-2.7 1.2 0 1.1-1.1 2.3 0 1.1 1.1 1.1 0 2.8 2.7 1.1 2.3-.1 3.4-3.8 3.9-1.1.1-1.1 1-2.3 0zM457.3 182l7.9-.4 3.5-1.9 2.3-2.3.4-1.5 1.1-1.1 1.1-5.7-.8-1.1-.4-3.4-2-2.3-.6-1.5-3.4-2.3-1.1 0-1.1-1.1-6.9 0-1.1 1.1-1.1 0-3.2 2.7-2.7 3.4-.4 3.4-.9 2.2 1 2.3-1 1.1 0 2.3 2.6 2.7 1.2 0 1.1 1.1 3.8 1.9zM498.2 182.1l4.6.4 4.5-.4 1.1-1.1 1.2-.2 2.8-2.6.1-1.2 2.2-3.4 0-6.8-1.1-1.1 0-1.1-1.1-1.2-.2-1.1-5-3.7-9.1-.2-2.8 1.6-3.4 3.4-1.1 2.3-1.2 4.5.2 2.3.9 1.1.3 2.3 4.9 5.1 1.6.6zM500.1 177l-3-1.8-.5-1.6-1.1-1.1 0-4.5 3.9-3.9 1.1-.1 1.1-1 2.3.1 1.1 1 1.2 0 2.7 2.7 0 6.8-2.7 2.8-1.2 0-1.1 1.1-3.4-.1zM541.4 181.9l3.4.1 0-23.5-3.4.1-2.7 1.4-4.4 4.6-.3 2.2-.9 1.2 0 4.5.9 1.1.2 2.3 4.9 4.9 1.9.8zM379 140l5.7 0 1.1-1 3.4-1.3 2.6-2.6.1-1.2 1.1-1.1.6-4.5-.6-4.6-1.1-1.1-.4-1.5-3.4-3.4-1.2-.1-1.1-1-6.8-.1-.8-.7-3.2-3.4 2.2-3.4-2.3-3.4-1.6-.4-1.1-1.1-1.2 1-1.1 0-3 2.8 0 2.2 1.2 1.2.1 1.1 3.5 2.3.1 1.1 1.1 1.1 0 1.2 1 1.1-2.2 2.3-1.1 2.2-.9 2.3-.2 3.4 2.3 5.7 2.6 2.6 4 1.9zM411.9 140.1l15.9-1.1 4.6-2 2.1-3.1-.3-2.2-3.1-4.6-11.2-12.5-3.4-1.8-2.3.1-.9.6-2.2 2.3-1 2.3 0 7.9-.9 7.9.7 3.4 1.4 2.3zM500.5 139.9l6.8 0 1.1-1 1.2-.1 2.3-2.1 2.6-2.8.1-1.1 1-1.1 0-6.8-3.7-6-1.2-.2-3.4-2.1-5.7-.1-4.1-4.1 1.1-1.1.1-3.4-1.6-2.7-3.4-.5-2.3.4-1.8 1.6 0 4.6 2.9 2.7 1.2 0 .7.7 0 2.2 1.1 1.2 0 1.1-1.1 1.1-.2 1.2-2.1 3.4.1 6.8 2.6 3.9 3 2.9 2.3 1.1zM534.6 140.2l10.2-.9 0-21.7-3.4-3.7-2.3-1-2.3-.1-1.3.7-2.1 2.3-1 2.3 0 7.9-1 5.7 0 3.4 1.2 3.4 1 1.1zM346.1 136.4l2.2.7 1-.9-.1-3.4-2-2.6-2.3.5-1.7 2.1 0 1.1.8 1.2 1.7 1.1zM468.7 136.7l2.3.3.7-1.9-.9-3.4-2.1-1.7-2.3 1.2-1 1.6.7 2.3 1.7 1.1zM374.4 103.7l2.3 0 2.3-2.1 6.8-.2 1.1-1 1.2-.1 4.9-4.9 1.1-3.4 0-5.7-1-1.1-1.3-3.4-2.6-2.6-3.4-1.3-1.1-1-5.7 0-1.1 1-3.5 1.2-3.7 3.8-.1 1.2-1 1.1-.1 7.9 2.2 3.4.1 4.6 2.2 2.2zM496 103.7l2.2 0 3.4-2.2 6.5-.4 3.8-1.9 2.6-2.7 0-1.1 1.1-1.1.1-2.3 1-2.3 0-1.1-.8-1.1-.3-3.4-2.6-3.2-3.4-2.9-1.2 0-2.2-1.1-4.6 0-2.2 1.1-1.2 0-3.4 2.4-.5 1.4-2.1 2.3-.1 2.2-1 2.3 0 2.3 1 1.1.1 2.3 2.2 3.4 0 4.5 1.2 1.1zM342.6 99.9l1.2-.3 1.1-1.2 1.7-3 1.7-7 4.1-8.9.2-2.2-.5-1.2-2.6-1.4-2.3-.3-5.7.6 0 25.3zM461.9 100l1.1.3 2.3-.5 3-3.3 2.7-9.4 2.7-5.3 1.1-3.4 0-1.1-1.6-2.1-3.4-.8-5.1.6-8.5-.5-3.4.8-3 3.1-.7 3.4.4 2.3 4.6 11.3 3.2 3 4.3 1.5zM440.3 62l1.1.1 1.2-1.2 1.1 0 1.6-1.8-.1-4.5-2.6-2.7-3.4 0-1.2 1.2-1.9-1.9-1.1-1.2 0-3.4-1.1-2.2 0-1.2-1.1-1.1-.4-1.5-2.3-1.9-2.3-1.5-2.3-.1-1.1-1-2.3 0-4.5 1.4-4.9 4.6-1.2 2.3.1 7.9 1.1 2.3 3.8 3.8 5.6 2.2 2.3-.1 1.1-.9 2.3-.1 4.6-3.4 2.2 0 1.7.7.2 2.3 1.5 1.7 1.2 0 .5.6zM377.9 60.8l4.5 0 3.4-1.1 3.4-2.4.7-1.6 2.1-2.3.3-3.4.7-1.1-1-5.7-3.9-4.9-1.2-.2-1.1-1.1-1.1 0-1.2-1-5.6-.1-1.2.9-2.3.3-5.1 5 0 1.1-1.1 1.2 0 7.9 1.1 1.1 0 1.2 5.1 5 2.7.6zM377.4 54.6l-2.2-1.2-1.3-3.4-1-1.1 0-1.1 2.7-5 1.1-.1 1.2-1.1 5.6.1 2.8 2.7 0 1.1 1.1 1.1 0 3.4-1.1 1.2 0 1.1-2.8 2.4-5.6.3zM459.6 60.6l2.3 0 5.7-2.2 3.8-3.8 1.1-2.3.2-2.3.9-1.1 0-2.3-.9-1.1-.2-2.3-1.5-2.6-3.4-3.4-6.8-2.2-6.9 2.2-3.7 3.8-.1 1.1-1.1 1.1-.1 2.3-1 2.3 1 2.2 0 1.2-1 1.1 0 2.3 1.5 1.5 2.3.2 2.2 2.1 4.9 1.8zM499.4 60.7l5.6.1 1.2-1 2.2-.3 5.1-4.9.1-1.2 1-1.1 0-7.9-1-1.2-.1-1.1-5.1-5-2.2-.2-1.2-1-5.6.1-1.2 1-1.1 0-1.1 1.1-1.2.1-2.6 2.8-.2 1.1-1.1 1.1-.1 2.3-1 1.1 0 3.4 1 1.2.1 2.2 1.1 1.2.2 1.1 2.6 2.7 4.1 1.8zM498.9 54.6l-2.3-2.3 0-1.1-1.1-1.2 0-3.4 1-1.1.1-1.1 2.8-2.7 5.6-.1 3.9 3.9 0 5.7-3.9 3.8-5.6 0zM543.7 60.5l1.1.1 0-24.5-4.6 1.1-1.1 1.1-1.5.4-2.2 2.3-2.3 5.6 0 3.4 2.3 5.7 2.6 2.6 1.1.1 1.1 1.1 2.3.1.8.6zM342.6 59.5l1.2 0 1.1-1.1 1.2-.1 2.6-2.6 1.2-3.4 1-1.1.1-5.7-1.2-3.4-2.3-3.4-1.4-.5-2.3-2.1-2.3-.1 0 23.6zM377.9 17.5l7.9 0 1.1-1 1.2-.1 3.8-3.8 1.1-2.3.5-4.5-24 0 .1 2.3.9 1.1.2 2.3 4.4 4.5 2.1 1.2zM411.9 18l17.1-1.2 2.2-1 2.3-2.1.8-1.1.2-2.3-2.9-4.5-21.7 0-.7 6.8 1.8 4.6zM499.4 17.5l9 0 1.2-1.1 1.1-.1 2.6-2.6 2.3-4.5.1-3.4-23.6 0 .1 3.4 2.3 4.5 2.6 2.6 1.1.1.8.8zM533.4 17.5l2.3.7 9.1-1.1 0-11.3-12.7 0-.7 6.8 1.7 4.6zM348.3 15.2l1.1-1.5-.4-3.4-1.8-2.1-1.1 0-1.8 1-1 1.1-.2 1.2.7 1.4 3.6 2zM469.8 14.9l1.6 0 .3-2.3-1.2-3.4-1.8-1.1-2.3 1.2-.9 1-.1 1.2 1 1.9 3.2 1.5z"/><path fill="#fcfca8" stroke="#707070" stroke-width="0.35" stroke-opacity="0.27" d="M342.6 208.8l5.7 0 3.6-7.9.2-1.2-.5-1.1-3.3-1.5-6.8.3 0 11.4zM369.9 208.8l24.2 0-1.2-3.4-4.8-4.9-1.2-.1-1.1-1-2.3-.1-5.6.1-4.6 2.6-2.6 3.4-1.1 3.4zM451.7 207.8l.4 1 18.4 0 2.8-5.7.9-3.4-1-1.6-3.4-1.1-15.5.4-3 2.3-.8 2.1 0 2.6 1.1 3.3zM492.5 208.8l23.2 0-.1-2.3-1.1-1.1-.4-1.5-2.2-2.2-3.5-2.3-9 0-1.2 1.1-1.1.1-3.4 3.3-.4 1.5-1.1 1.1-.1 2.3zM439.2 183.2l3.4.1 2.6-2.9 0-3.4-2.6-2.6-3.4 0-1.2 1-3.1-2.9 0-4.5-1-1.2-1.2-3.4-3.7-3.7-1.2 0-2.3-1.1-5.6 0-1.2 1-3.4 1.3-1.4 1.4-2.3 3.4 0 9.1 1.1 1.1.1 1.1 2.5 2.6 4.6 2.3 6.8 0 1.1-1 1.2-.1 3.4-3.3 1.1 1 2.3 0 .8.8 0 1.1 2.1 2.3zM342.6 181.9l1.2-1.1 1.1 0 4.9-4.9 1.1-3.4 0-5.7-2.3-4.5-2.5-2.6-3.5-1.2-1.1-1 0 24.4zM375.6 182.1l9.1 0 1.1-1.1 1.1 0 4-4 0-1.1 1.1-1.1.1-2.3.9-2.3-.9-2.2-.1-2.3-1.1-1.1-.1-1.2-2.7-2.8-3.4-2.2-9.1.1-4.6 3.3-2.8 5 .3 8 2 3.4 2.8 2.6 1.8.8zM378.5 177l-.6-.6-1.2 0-2.3-2.3-.6-2.7-.9-1.2 1-1.1.1-2.3 2.7-2.7 1.2 0 1.1-1.1 2.3 0 1.1 1 1.1.1 2.8 2.7 1.1 2.3 0 3.4-3.9 3.9-2.2 1.1-2.3 0zM457.3 181.9l7.8-.3 3.6-2 2.6-2.6 0-1.1 1.1-1.1.1-2.3 1-2.3 0-1.1-.8-1.1-.3-3.4-2.1-2.3-.5-1.4-5.6-3.4-6.9 0-1.1 1-1.1.1-3.1 2.6-2.7 3.4-.4 3.4-.9 2.2 1 2.3-1.1 1.1 0 2.3 2.6 2.6 1.2 0 1.1 1.1 3.9 2zM498.2 182.1l4.6.3 4.5-.4 2.3-1.3 2.7-2.5.2-1.2 2.1-3.4 0-6.8-2.7-4.9-4.6-3.3-9.1-.2-1.1 1.1-1.7.5-3.4 3.4-.1 1.2-1 1.1-1.1 3.4 0 2.3 1.1 2.2.2 2.3 4.9 5.1 1.6.6zM500.1 177l-1.9-.7-1.6-1.5 0-1.2-1.1-1.1 0-4.5 3.9-3.9 1.1-.1 1.1-1 2.3 0 1.1 1.1 1.2 0 2.7 2.7 0 6.8-2.7 2.8-1.2 0-1.1 1.1-3.4-.1zM541.4 181.9l3.4.1 0-23.5-3.4.1-1.2 1.1-1.1 0-4.7 4.9-.3 2.2-1 1.2 0 4.5 1 1.1.2 2.3 4.8 4.9 1.1 0 .8.8zM379 139.9l5.7 0 1.1-1 3.4-1.3 2.6-2.5.1-1.2 1-1.1.6-4.5-.6-4.6-1-1.1-.1-1.1-3.7-3.7-1.2-.1-1.1-1-6.8-.1-4.1-4.2 2.2-3.4-1.1-1.1 0-1.2-3.8-2.6-1.2 1.1-1.1 0-2.9 2.7 0 2.2 1.2 1.2.1 1.1 1.6.6 1.9 1.7 0 1.1 1.2 1.1 0 1.2 1 1.1-3 3.8-1.2 3-.2 3.4 2.3 5.7 2.5 2.6 4.1 1.9zM500.5 139.9l6.8-.1 1.1-.9 1.2-.1 2.3-2.1 3.7-5 0-6.8-3.7-5.9-1.2-.2-3.4-2.2-5.7 0-4.2-4.2 1.2-1.1 0-3.4-1.5-2.6-3.4-.5-2.3.4-1.7 1.5 0 4.6 2.8 2.6 1.2 0 .8.8 0 2.2 1.1 1.2 0 1.1-1.1 1.1-.2 1.2-2.1 3.4 0 6.8 2.6 3.9 3.4 3.2 1.2.1.8.7zM411.9 139.2l2.3.4 13.6-1.3 3.4-1.6 2-2.8-.1-2.2-3.2-4.6-5.9-5.6-4.1-5.3-3.4-1.9-2.3.1-1.1.7-1.2 1.1-1.1 2.5-1.1 15.2.4 2.3 1.2 2.3zM534.6 139.5l10.2-.8 0-18.9-3.4-4.2-2.3-1.2-3.4.3-1.3 1.1-1.3 2.3-.2 6.8-1.1 9 1.7 4.6zM347.2 135.5l.5-.4-.1-1.2-.4-1.1-1.1-.7-1.4.7.3 1.1 1.3 1.2zM468.7 135.2l1.3-.1-.1-1.2-1.2-1.6-1.1 0-.6.5.2 1.1 1.2 1.2zM374.4 103.7l2.3 0 2.3-2.2 6.8-.1 1.1-1.1 1.2-.1 4.8-4.8.4-2.3.8-1.1 0-5.7-1.1-1.1 0-1.1-1.2-2.3-2.6-2.6-3.4-1.2-1.1-1-5.7 0-4.6 2.2-3.7 3.7 0 1.2-1.1 1.1 0 7.9 2.2 3.4.1 4.6 2.2 2.2zM496 103.7l2.2 0 3.4-2.2 6.4-.4 3.9-2 2.5-2.6.1-1.1 1.1-1.1 1.1-5.7-.9-1.1-.3-3.4-2.5-3.1-3.4-2.9-3.4-1.2-4.6 0-3.4 1.2-3.4 2.4-.4 1.3-2.1 2.3-.1 2.2-1.1 2.3 0 2.3 1 1.1.1 2.3 2.3 3.4 0 4.5 1.1 1.1zM342.1 98.8l1.9-1.1 2.1-3.3 2.2-7.6 3.4-7.3.3-2.2-1-1.2-1.5-.7-8 0 0 23.6zM460.8 98.8l2.2.2 2.3-.6 2.3-2.6 2.2-7.2 4.1-9.1.1-2.2-.8-1.2-3.4-1-13.6 0-3.3 1-1.9 2.3-.5 3.9 3.9 10.8 2.1 3.4 4.1 2.3zM440.3 61.9l1.1.1 1.2-1.2 1.1 0 1.6-1.7-.1-4.5-2.6-2.7-3.4.1-1.2 1.1-2.2-2.2-.8-.9-.1-3.4-1.1-3.4-2.6-3.7-3.4-2.2-2.3-.2-1.1-.9-2.3-.1-1.1.8-3.3.7-5 4.5-.1 1.1-1 1.2 0 7.9 1 1.1.1 1.2 3.8 3.7 5.6 2.2 2.3-.1 1.1-.8 2.3-.1 4.6-3.4 2.2-.1 1.8.8.2 2.3 1.4 1.6 1.2 0 .6.7zM377.9 60.7l5.6-.1 4.6-2.4 3.8-4.8.3-3.4.8-1.1-1.1-5.7-2-2.2-.3-1.2-3.8-2.8-1.1 0-1.2-.9-5.6-.2-1.2.9-2.3.3-5 5-.1 1.1-1 1.2 0 7.9 1.1 1.1 0 1.2 5 5 2.8.6zM377.3 54.6l-2.2-1.2-1.2-3.4-1-1.1 0-1.1 2.1-3.4.1-1.2 1.6-.5 1.2-1.1 5.6.1 2.8 2.7 0 1.1 1.1 1.1 0 3.4-1.1 1.2 0 1.1-2.6 2.3-1.3.5-4.5 0zM459.6 60.5l2.3 0 5.7-2.2 3.7-3.7 1.1-2.3.3-2.3.8-1.1 0-2.3-.9-1.1-.2-2.3-1-1.1-.4-1.5-3.4-3.4-1.2 0-1.1-1.1-2.3-.1-2.2-1-1.2.8-3.4.3-1.1 1.1-1.2.1-3.4 3.3-.4 1.5-1 1.1-.1 2.3-1 2.3.9 3.4-1 1.1 0 2.3 1.5 1.4 2.3.3 2.2 2 2.3 1.2 2.7.7zM499.4 60.6l5.6.1 1.2-1 2.2-.2 5.1-4.9 0-1.2 1-1.1 0-7.9-1-1.2 0-1.1-5.1-4.9-2.2-.3-1.2-1-5.6.1-1.2 1-1.1 0-1.1 1.1-1.2.2-2.3 2.3-.5 1.5-1.1 1.1-.1 2.3-.9 1.1 0 3.4.9 1.2.1 2.2 1.1 1.2.2 1.1 2.6 2.7 1.2.1 1.1 1.1 1.8.6zM498.9 54.6l-2.3-2.3-.1-1.1-1-1.2 0-3.4 1-1.1.1-1.1 2.8-2.8 5.6 0 3.9 3.9 0 5.7-3.9 3.9-5.6-.1zM543.7 60.5l1.1 0 0-24.4-6.8 2.3-2.6 2.6-2.3 5.6 0 3.4 2.3 5.7 2.6 2.5 1.1.2 1.1 1 2.3.2.9.6zM342.6 59.5l3.5-1.3 2.5-2.5.1-1.1 2.2-3.4 0-6.8-1.1-1.2 0-1.1-2.6-3.7-1.1-.2-2.3-2-1.2-.1-1.1 0 0 23.4zM377.9 17.5l7.9 0 1.1-1 1.2-.2 3.7-3.7 1.1-2.3.5-4.5-23.8 0 0 2.3 1 1.1.1 2.3 4.9 4.9 1.7.8zM411.9 17.2l3.4.4 13.7-1.6 3.4-2.4.9-3.3-2.9-4.5-20 0-.6 6.8.5 2.3zM499.4 17.4l9 0 2.3-1.2 2.6-2.5 1.3-3.4 1-1.1 0-3.4-23.4 0 0 3.4 2.3 4.5 2.6 2.6 1.1.1.8.8zM534.6 17.5l10.2-.8 0-10.9-12.2 0-.7 6.8.6 2.3 1.6 2.3zM469.8 13.8l-.1-2.3-.9-1.2-1.4 0-.4 1.2.7 1.1 2.1 1.1zM346.1 12.9l1.1.5.5-.8-.5-1.7-1.1-.8-1.2.6-.1.8.8 1.1z"/><path fill="#fcfcc8" stroke="#707070" stroke-width="0.35" stroke-opacity="0.60" d="M342.6 208.8l5.2 0 3.6-7.9 0-1.2-.8-1.1-3.4-1.1-5.7.3 0 11zM369.9 208.8l24.1 0-1.1-3.4-1.4-1.5-3.4-3.3-3.4-1.2-6.8.1-2.3 1.1-2.2 1.4-2.4 3.1-.3 1.4-1.1 1.2 0 1.1zM452.8 207.9l.3.9 16.8 0 3.3-6.8.4-2.3-1.5-1.5-3.4-.7-11.4 0-3.4.7-1.7 1.5-.8 2.3.1 2.3 1.2 3.4zM492.5 208.8l23.1 0 0-1.1-1.2-3.4-3.7-3.7-1.1-.1-1.2-1-7.9-.1-3.4 1.2-3.7 3.7 0 1.1-1.1 1.1-.1 2.3zM439.2 183.1l3.4.1 2.6-2.8-.1-3.4-2.5-2.5-3.4 0-1.2 1-3.1-3 0-4.5-2.5-4.9-3.4-3.3-3.5-1.2-5.6 0-1.2 1-3.4 1.3-1.4 1.4-2.2 3.4-.1 7.9 1.2 3.4 2.5 2.6 4.6 2.3 6.8-.1 1.1-1 1.2-.1 3.4-3.3 1.1 1 2.3.1.8.8 0 1.1 2.2 2.3zM342.6 181.8l1.2-1 1.1-.1 4.8-4.8 1.2-3.4 0-4.5-.1-1.2-2.2-4.5-2.5-2.5-3.5-1.3-1.1-1 0 24.4zM375.6 182l4.5.4 4.6-.3 1.1-1.1 1.1-.1 2.3-2.2 2.8-3.9 0-2.3.9-1.1.1-1.2-.1-1.1-.9-1.1 0-2.3-1.1-1.1-.1-1.2-1.6-1.6-2.3-2.2-1.1-.1-1.1-1.1-9.1.2-5 3.7-2.3 4.5.2 8 2.1 3.4 2.7 2.6 1.1.1.7.7zM378.4 177l-1.7-.6-2.8-2.8-.1-2.2-1-1.2 1-1.1.1-2.3 2.8-2.8 1.2 0 1.1-1 2.3-.1 1.1 1.1 1.1 0 2.8 2.8 1.2 2.3-.1 3.4-3.9 3.9-1.1.2-1.1 1-2.3-.1zM457.3 181.9l7.7-.3 3.7-2 2.3-2.3.3-1.4 1.1-1.1 1.1-5.7-.8-1.1-.4-3.4-2-2.3-.5-1.4-3.4-2.3-1.1 0-1.1-1.1-6.9 0-1.1 1.1-1.1 0-3 2.6-2.8 3.4-.3 3.4-1 2.2 1 2.3-1 1.1 0 2.3 2.1 2.3 1.6.3 1.1 1.1 4 2zM498.2 182.1l4.6.3 4.5-.4 1.1-1.1 1.2-.2 2.7-2.5.1-1.2 2.2-3.4 0-6.8-1.1-1.1 0-1.1-1.1-1.2-.2-1.1-4.9-3.6-9.1-.3-1.1 1.1-1.1.1-3.5 3.3-1.6 2.8-.3 2.3-.8 1.1 0 2.3 1.1 2.2.3 2.3 4.8 5 1.7.7zM500 177l-1.8-.7-1.6-1.5-.1-1.2-1.1-1.1.1-4.5 3.9-4 1.1 0 1.1-1.1 2.3.1 1.1 1 1.2.1 2.7 2.7.1 6.8-2.8 2.8-1.2.1-1.1 1-3.4 0zM541.4 181.8l3.4.1 0-23.3-3.4.1-1.2 1-1.1.1-4.6 4.8-.3 2.2-1 1.2 0 4.5.9 1.1.2 2.3 4.8 4.8 1.1.1.9.8zM379 139.9l5.7 0 1.1-1 3.4-1.3 2.5-2.5.1-1.2 1.1-1.1.5-4.5-.5-4.6-1.1-1.1-.3-1.4-3.4-3.4-1.2 0-1.1-1.1-6.8-.1-.9-.8-3.3-3.4 2.2-3.4-1.1-1.1 0-1.2-3.7-2.5-1.2 1.1-1.1-.1-2.8 2.7 0 2.2 1.2 1.2 0 1.1 1.6.5 2 1.8 0 1.1 1.1 1.1 0 1.2 1 1.1-2.2 2.3-1.1 2.2-1.1 3.4 0 2.3.9 1.1.3 2.3 1 1.1.1 1.2 2.5 2.5 4.2 2zM500.5 139.8l6.8 0 1.1-1 1.5-.3 2-1.9 2.5-2.7.1-1.1 1-1.1 0-6.8-3.6-5.9-1.2-.2-3.4-2.1-5.7-.1-3.4-3.3-.8-.9 1.1-1.1.1-3.4-1.1-1.2-.4-1.4-5.7-.1-1.6 1.5 0 4.6 2.7 2.5 1.2 0 .8.9 0 2.2 1.2 1.2 0 1.1-1.1 1.1-.2 1.2-2.1 3.4 0 6.8 1 1.1.1 1.1 2.1 2.3 2.4 2.3 1.5.3.9.8zM413.1 139.1l14.7-1.4 2.9-1.5 1.6-3.4-.8-2.3-1.4-1.9-6.4-6-3.8-4.8-3.4-2.3-2.3.1-1.1.7-1.7 2.9-1.3 14.7.5 2.3 1.5 2.3zM534.6 138.8l2.2.3 8-1 0-16.7-3.7-4.5-3.1-1.5-2.3.5-1.1 1-1.2 2.6-.1 6.5-1.1 6.8.2 2.3 1.8 3.4zM374.4 103.6l2.3 0 2.3-2.1 6.8-.2 1.1-1 1.2-.1 4.8-4.8.3-2.3.8-1.1 0-5.7-1-1.1-1.5-3.7-2.3-2.2-3.4-1.3-1.1-1-5.7 0-1.1 1-3.5 1.2-3.6 3.7-.1 1.2-1 1.1-.1 7.9 2.2 3.4.1 4.6 2.3 2.2zM496 103.6l2.2 0 3.4-2.2 6.3-.3 4-2 2.5-2.6 0-1.1 1.1-1.1.1-2.3 1-2.3 0-1.1-.9-1.1-.2-3.4-5.9-6-1.2 0-2.2-1.1-4.6 0-2.2 1.1-1.2 0-2.2 2-1.2.4-.4 1.3-2.1 2.3-.1 2.2-1 2.3 0 2.3 1 1.1.1 2.3 2.2 3.4 0 4.5 1.2 1.1zM342.3 97.7l1.6-1.2 1.4-2.2 2.2-6.8 3.7-8 0-2.2-1.7-1.3-8-.2 0 22.1zM460.8 97.9l3.6-.2 2-1.6 1.1-1.8 2.3-7.3 3.6-7.5 0-2.2-1.3-1.1-2.3-.6-13.6 0-2 .5-2.3 2.3-.5 3.4 4.1 11.3 1.8 2.9 2.7 1.7zM440.3 61.8l1.1.1 1.2-1.2 1.1 0 1.5-1.6-.1-4.5-2.5-2.6-3.4 0-1.2 1.2-2-2-1.1-1.2 0-3.4-.8-1.1-.3-2.3-2.3-3.4-3.7-2.5-2.3-.1-1.1-1-2.3 0-5.6 2.2-3.7 3.7-1.1 2.3 0 7.9 1.1 2.3 3.7 3.7 2.2 1.1 4.6 1.1 2.2-1 2.3-.1 4.6-3.4 3.4.1.7.7.1 2.3 1.4 1.5 1.2.1.7.7zM377.9 60.7l4.5 0 3.4-1.1 3.8-2.8.2-1.1 2.1-2.3.3-3.4.7-1.1-1-5.7-3.8-4.7-4.6-2.4-5.6-.1-1.2.9-2.3.2-5 5 0 1.1-1.1 1.2 0 7.9 1.1 1.1 0 1.2 5 4.9 2.8.7zM377.3 54.6l-2.2-1.2-.2-1.1-1-1.1 0-1.2-1-1.1 1-3.4 1.7-2.8 1.1 0 1.2-1.1 5.6 0 2.8 2.8.1 1.1 1 1.1 0 3.4-1 1.2-.1 1.1-2.8 2.5-5.6.3zM459.6 60.5l2.3 0 5.7-2.2 3.6-3.7 1.2-2.3.2-2.3.9-1.1 0-2.3-1-1.1-.1-2.3-1.4-2.5-3.4-3.4-6.8-2.2-6.9 2.2-3.6 3.7-.1 1.1-1.1 1.1-.3 3.4-.8 1.2 1 2.2 0 1.2-1 1.1 0 2.3 1.4 1.4 2.3.2 2.2 2.1 5.1 1.9zM499.4 60.6l5.6.1 1.2-1 2.2-.3 5-4.8.1-1.2 1-1.1 0-7.9-1-1.2-.1-1.1-5-4.9-2.2-.2-1.2-1-5.6 0-3.4 2.2-1.2.1-3.9 4.9 0 2.3-1 1.1 0 3.4 1 1.2 0 2.2 1.2 1.2.4 1.4 2.3 2.3 4.2 1.9zM498.9 54.6l-2.3-2.3-.1-1.1-1.1-1.2 0-3.4 1.1-1.1.1-1.1 2.8-2.8 5.6 0 4 3.9 0 5.7-4 3.9-5.6 0zM543.7 60.4l1.1.1 0-24.3-1.1 0-1.2 1-2.3.1-1.1 1.1-1.1.1-2.5 2.5-2.3 5.6 0 3.4 2.3 5.7 2.5 2.5 1.1.1 1.1 1.1 2.3.1 1 .7zM342.6 59.4l1.2 0 1.1-1.1 1.2-.1 2.5-2.5 1.2-3.4 1-1.1.1-5.7-1.2-3.4-2.3-3.4-1.3-.4-2.3-2.1-2.3-.1 0 23.4zM377.9 17.4l7.9 0 1.1-1 1.2-.1 3.7-3.7.1-1.1 1-1.2.4-4.5-23.7 0 .1 2.3 1 1.1.1 2.3 3.2 3.4 3.3 2.3zM499.4 17.4l9 0 1.2-1.1 1.1-.2 2.3-2.1 2.5-4.8.1-3.4-23.4 0 .1 3.4 2.3 4.5 2.5 2.5 1.1.1.9.9zM535.7 17.2l9.1-1 0-10.4-11.8 0-.8 5.7.4 2.2 1.2 2.3zM411.9 16.4l1.2.7 2.2 0 11.4-1.1 2.3-.7 2.9-2.7 0-3.4-2.6-3.4-18.4 0-.8 5.7 1.5 4.5z"/><path fill="#fcfce0" stroke="#707070" stroke-width="0.35" stroke-opacity="0.60" d="M342.6 208.8l4.6 0 3.6-7.9-.1-1.2-1.2-1-3.4-.7-4.6.2 0 10.6zM369.9 208.8l24.1 0-1.2-3.4-4.7-4.8-1.2-.1-1.1-1-2.3-.1-5.6.1-2.3 1.1-2 1.4-2.6 3.1-.3 1.4-1 1.2 0 1.1zM453.9 208.3l.2.5 15.3 0 3.3-6.8.1-2.3-1.8-1.3-2.3-.4-11.4 0-2.7.6-1.4 1.1-.9 2.3.1 2.3 1.3 3.4zM492.5 208.8l23.1 0-.1-2.3-1.1-1.1-.1-1.1-2.4-2.5-3.5-2.3-9 0-1.2 1.1-1.1.1-3.4 3.3-.3 1.4-1.1 1.1-.1 2.3zM439.2 183l3.4.1 2.5-2.7 0-3.4-2.5-2.5-3.4.1-1.2 1-3.2-3.1 0-4.5-1-1.2-1.2-3.4-3.6-3.6-1.2 0-2.3-1.1-5.6 0-1.2 1-3.4 1.3-1.3 1.3-.3 1.1-2 2.3 0 9.1 1.1 1.1.1 1.1 2.4 2.5 4.6 2.3 6.8 0 1.1-1 1.2-.1 3.4-3.4 1.1 1.1 2.3 0 .9.9.2 1.4 2 2zM342.6 181.8l1.2-1.1 1.1-.1 4.8-4.7 1.1-3.4 0-5.7-1-1.1-1.3-3.4-2.4-2.5-3.5-1.2-1.1-1 0 24.2zM375.6 182l9.1 0 3.4-2.2 2.7-2.8.1-1.1 1-1.1.1-2.3.9-2.3-.9-2.2-.1-2.3-1.1-1.1 0-1.2-1.6-1.6-2.3-2.2-1.1 0-1.1-1.1-9.1.1-5 3.7-.1 1.1-2.2 3.4.3 8 2 3.4 2.7 2.5 1.9.9zM378.4 177l-1.7-.5-2.8-2.9-.2-2.2-.9-1.2 1-1.1.1-2.3 2.8-2.8 1.2 0 1.1-1.1 2.3 0 1.1 1.1 1.1 0 2.9 2.8 1.1 2.3-.1 3.4-3.9 4-2.2 1.1-2.3 0zM457.3 181.8l7.5-.2 3.9-2.1 2.5-2.5 0-1.1 1.1-1.1.1-2.3 1-2.3 0-1.1-.8-1.1-.3-3.4-2.1-2.3-.4-1.3-5.6-3.4-6.9 0-1.1 1-1.4.3-2.6 2.3-2.8 3.4-.4 3.4-.9 2.2 1 2.3-1 1.1 0 2.3 2.4 2.5 1.2 0 1.1 1.1 4.1 2.1zM498.2 182l4.6.3 4.5-.4 4.6-3.3 1.6-3.8 1.1-1.2 0-6.8-1.1-1.1-1.6-3.7-4.6-3.3-9.1-.2-1.1 1.1-1.6.4-3.4 3.4-.1 1.2-1 1.1-.3 2.3-.8 1.1 0 2.3 1 2.2.3 2.3 4.8 5 1.7.7zM500 177l-2.9-1.7-.6-1.7-1.1-1.1 0-4.5 4-4 1.1-.1 1.1-1 2.3.1 1.1 1 1.2 0 2.8 2.8 0 6.8-2.8 2.9-1.2 0-1.1 1.1-3.4-.1zM541.4 181.8l3.4.1 0-23.3-3.4.1-1.2 1.1-1.1 0-4.6 4.8-.3 2.2-1 1.2 0 4.5 1 1.1.2 2.3 4.7 4.8 1.1 0 1 .9zM379 139.8l5.7 0 1.1-1 3.4-1.3 2.3-2.2.3-1.4 1-1.1.4-4.5-.4-4.6-1-1.1-.1-1.1-3.6-3.6-1.2-.1-1.1-1-6.8-.1-4.3-4.3 2.2-3.4-1.1-1.1 0-1.2-3.6-2.4-1.2 1-1.1 0-2.7 2.6 0 2.2 1.2 1.2 0 1.1 1.5.4 2 1.9.1 1.1 1.1 1.1 0 1.2 1 1.1-3.1 4-1.3 3.9 0 2.3 2.3 5.7 2.4 2.5 4.3 2zM500.5 139.8l6.8-.1 1.1-.9 1.2-.1 2.3-2.2 2.2-2.3.3-1.4 1-1.1.1-6.8-3.6-5.8-1.2-.2-3.4-2.2-5.7 0-4.3-4.3 1.1-1.1.1-3.4-1.1-1.2-.3-1.3-5.7-.1-1.5 1.4 0 4.6 2.6 2.5 1.2 0 .9.9 0 2.2 1.1 1.2 0 1.1-1.1 1.1-.1 1.2-2.2 3.4.1 6.8 2.4 3.7 3.4 3.3 1.2.1.9.8zM413.1 138.6l14.7-1.5 2.8-2 .7-2.3-.7-2.3-1.6-1.9-5.7-5.2-4.7-5.3-3.3-1.6-2.2 1.1-1.3 2.7-1.3 13.6.6 2.3 1.8 2.3zM535.7 138.7l9.1-1 0-15-4.6-5.1-2.2-1.1-2.3.6-1.7 3.2-1.3 13.6.7 2.6 1.8 2zM374.4 103.5l2.3 0 2.3-2.1 6.8-.1 1.1-1.1 1.2-.1 4.7-4.7.3-2.3.9-1.1 0-5.7-1.1-1.1 0-1.1-1.2-2.3-2.5-2.5-3.4-1.2-1.1-1-5.7 0-1.1 1-1.2 0-2.3 1.2-3.4 3.4-.2 1.4-1.1 1.1 0 7.9 2.2 3.4.1 4.6 2.2 2.2zM496 103.5l2.2 0 3.4-2.2 6.2-.2 4.1-2.1 2.4-2.5.1-1.1 1.1-1.1 1.1-5.7-1-1.1-.2-3.4-5.8-5.9-2.3-.4-1.1-.8-4.6 0-3.4 1.2-2.2 2-1.2.4-.3 1.2-2 2.1-.5 3.6-.8 1.1.1 2.3.9 1.1.1 2.3 2.3 3.4 0 4.5 1.2 1.1zM342.6 96.5l2-2.2 2.8-8 3.3-6.8-.1-1.8-2.3-1.4-6.8 0 0 20.7zM459.6 96.5l3.4.6 2.3-1 1.1-1.3 6.4-15.3.2-1.1-.9-1.3-3.4-1.1-11.4 0-3.4 1-1.1 1.3-.6 2.4.8 3.4 3.4 9 1.6 2.3zM440.3 61.7l3.4-1.1 1.2-1.2.2-4.8-2.5-2.5-3.4 0-1.2 1.1-3.2-3.2 0-3.4-.8-1.1-.3-2.3-2.5-3.6-3.4-2.2-2.3-.2-1.1-.9-2.3-.1-1.1.9-2.3.2-2.2 1.2-3.7 3.6-.1 1.1-1 1.2 0 7.9 1 1.1.1 1.2 3.4 3.4 2.5 1.4 4.6 1 2.2-.9 2.3-.2 4.6-3.4 3.4.1.8.8.3 2.6 3.1 2zM377.9 60.7l5.6-.2 4.6-2.4 3.7-4.7.3-3.4.8-1.1-1.1-5.7-2-2.2-.3-1.2-1.4-1.3-4.6-2.4-5.6-.1-1.2.9-2.3.3-4.5 4.4-.5 1.6-1.1 1.2.1 7.9 1 1.1.1 1.2 4.9 4.9 2.9.7zM377.3 54.6l-2.2-1.2-1.3-3.4-1-1.1 0-1.1 2.8-5.1 1.1-.1 1.2-1.1 5.6.1 2.9 2.8 0 1.1 1.1 1.1 0 3.4-1.1 1.2 0 1.1-2.9 2.5-5.6.3zM459.6 60.4l2.3 0 5.7-2.2 3.6-3.6 1.1-2.3.2-2.3.9-1.1 0-2.3-.9-1.1-.2-2.3-1-1.1-.3-1.4-3.4-3.3-1.2-.1-1.1-1.1-3.4-.3-1.1-.8-1.2.8-3.4.3-1.1 1.1-1.2.1-2.5 2.4-2.2 3.4-.3 3.4-.8 1.2 1 2.2 0 1.2-1 1.1 0 2.3 1.3 1.3 2.3.2 2.2 2.1 1.2.2 1.1 1 2.9.8zM499.4 60.6l5.6.1 1.2-1 2.2-.3 5-4.8.1-1.2.9-1.1.2-6.8-1.2-3.4-5-4.8-2.2-.3-1.2-1-5.6.1-1.2 1-1.1 0-1.1 1.1-1.2.1-3.8 4.9-.1 2.3-1 1.1 0 3.4 1 1.2.1 2.2 1.1 1.2.2 1.1 2.5 2.6 4.2 1.9zM498.8 54.6l-2.3-2.3-.1-1.1-1-1.2 0-3.4 1-1.1.1-1.1 2.9-2.8 5.6-.1 4 4 0 5.7-4 3.9-5.6 0zM543.7 60.3l1.1.1 0-24.2-6.8 2.3-2.5 2.5-2.3 5.6 0 3.4 2.3 5.7 2.3 2.3 1.3.2 1.1 1.1 2.3.1 1 .8zM342.6 59.4l3.6-1.4 2.3-2.3.1-1.1 1.1-1.2 0-1.1 1.1-1.1 0-6.8-1.1-1.2 0-1.1-2.5-3.6-1.1-.1-2.3-2.1-1.2-.1-1.1 0 0 23.2zM377.9 17.4l7.9 0 1.1-1 1.2-.2 3.6-3.6 1.1-2.3.4-4.5-23.5 0 0 2.3 1 1.1.3 2.5 4.3 4.3 2.1 1.2zM499.4 17.3l9 0 2.3-1.2 2.3-2.1 1.4-2.5.1-1.2 1-1.1 0-3.4-23.2 0 0 3.4 1 1.1 1.3 3.4 2.5 2.5 1.1.1 1 .9zM413.1 16.5l12.4-.9 2.9-.7 2.5-2.3.4-2.3-.4-1.1-2.8-3.4-16.8 0-.7 6.8 1.8 3.4zM534.6 16.1l2.2.6 8-1 0-9.9-11.4 0-.6 6.8 1.7 3.4z"/><path fill="#fcfcf0" stroke="#707070" stroke-width="0.35" stroke-opacity="0.60" d="M342.6 208.8l4.1 0 3.3-6.8.2-1.1-.7-1.3-2.3-1-5.7.1 0 10.1zM369.9 208.8l24 0-1.1-3.4-1.3-1.4-3.4-3.3-3.4-1.2-6.8.1-2.3 1.1-2.3 1.7-2.3 2.8-.2 1.3-1.1 1.2 0 1.1zM455.1 208.8l13.7 0 3.4-6.8-.1-1.8-1.1-1-2.3-.7-11.4 0-2.2.6-1.2 1-.8 1.9.2 2.3 1.7 4.5zM492.5 208.8l23 0 0-1.1-.2-1.4-1-.9 0-1.1-3.6-3.6-1.1-.1-1.2-1-7.9-.1-3.4 1.2-3.6 3.6 0 1.1-1.1 1.1-.1 2.3zM439.2 182.9l3.4.1 2.4-2.6 0-3.4-2.4-2.4-3.4 0-1.2 1.1-3.2-3.2 0-4.5-1.1-1.2 0-1.1-1.3-2.5-3.4-3.3-3.5-1.2-5.6 0-3.4 2.2-1.2.1-1.3 1.3-.2 1.1-2 2.3-.1 7.9 1.2 3.4 2.4 2.5 4.6 2.3 6.8-.1 1.1-1 1.2-.1 3.4-3.3 1.1 1 2.3 0 .9 1 0 1.1 2.3 2.3zM342.6 181.7l1.2-1 1.1-.1 4.7-4.7.4-2.3.8-1.1 0-4.5-.1-1.2-2.2-4.5-2.4-2.4-3.5-1.3-1.1-1 0 24.2zM375.6 181.9l4.5.4 4.6-.3 1.1-1.1 1.1-.1 2.3-2.2 1.6-1.6 0-1.1 1.1-1.1.1-2.3.9-2.3-.1-1.1-.9-1.1 0-2.3-1.1-1.1-.1-1.2-2.6-2.7-3.4-2.2-9.1.2-4.6 3.2-2.6 4.9.2 8 2 3.4 2.7 2.5 1.9.9zM378.3 177l-1.6-.5-2.8-2.9-.2-2.2-.9-1.2.9-1.1.2-2.3 2.8-2.8 1.2 0 1.1-1.1 2.3 0 1.1 1 1.1.1 2.9 2.8 1.1 2.3 0 3.4-4 4-2.2 1.1-2.3 0zM457.3 181.8l7.4-.2 4-2.1 2.3-2.3.2-1.3 1.1-1.1 0-2.3 1.1-3.4-.9-1.1-.3-3.4-2.1-2.3-.3-1.3-1.1-.3-2.3-2-1.1 0-1.1-1.1-6.9 0-3.7 2.4-4.2 4.8-.3 3.2-.9 2.2.9 2.3-1 1.1 0 2.3 2.2 2.3 1.4.1 1.1 1.2 4.2 2.1zM498.2 182l4.6.3 4.5-.4 4.9-3.7.1-1.2 2.2-3.4 0-6.8-1-1.1-1.4-3.4-4.8-3.5-9.1-.3-3.4 2.2-2.7 2.7-.1 1.2-1 1.1-.3 2.3-.8 1.1 0 2.3 1.1 2.2.3 2.3 4.7 5 1.1 0 .6.7zM500 177l-1.8-.6-1.7-1.6 0-1.2-1.1-1.1 0-4.5 4-4 1.1-.1 1.1-1 2.3 0 1.1 1.1 1.2 0 2.8 2.8 0 6.8-2.8 2.9-1.2 0-1.1 1.1-3.4 0zM541.4 181.7l3.4.1 0-23.1-3.4.1-1.2 1-1.1.1-4.5 4.7-.3 2.2-1 1.2 0 4.5 1 1.1.1 2.3 4.7 4.7 1.1.1 1 .9zM379 139.8l5.7 0 1.1-1.1 1.1 0 1.2-1.1 1.1-.1 2.4-2.4.1-1.2 1.1-1.1 0-9.1-1.1-1.1-.2-1.3-3.4-3.4-1.2 0-1.1-1.1-6.8-.1-1-.9-3.3-3.4 2.2-3.4-1.1-1.1 0-1.2-3.6-2.4-1.2 1.1-1.1 0-2.5 2.5-.1 2.2 1.2 1.2 0 1.1 1.4.3 2.1 2 0 1.1 1.1 1.1 0 1.2 1.1 1.1-2 2-1.4 2.5 0 1.2-1.1 2.2.1 2.3.8 1.1.3 2.3 1 1.1.1 1.2 2.4 2.4 4.4 2.1zM500.5 139.7l6.8 0 1.1-1 1.2-.1 2.3-2.1 2.4-2.6.1-1.1 1-1.1 0-6.8-3.5-5.8-1.2-.1-3.4-2.2-5.7-.1-4.4-4.3 1.2-1.1 0-3.4-1.1-1.2-.2-1.3-5.7 0-1.4 1.3 0 4.6 2.5 2.4 1.2 0 .9 1 .1 2.2 1.1 1.2 0 1.1-1.1 1.1-.2 1.2-2.1 3.4 0 6.8 2.4 3.7 3.4 3.2 1.2.1 1 .9zM413.1 137.9l2.2.3 11.4-1.4 2.9-1.7.8-2.3-1.4-3-12.5-11.9-2.3.1-1.6 2.3-1.7 12.5.3 2.3 1.3 2.2zM535.7 138.2l9.1-1 0-13.4-4.6-4.8-2.2-1.3-2.3.8-1.1 2.9-1.5 12.5 1.6 3.4zM374.4 103.5l2.3 0 2.3-2.2 6.8-.1 1.1-1 1.2-.1 4.7-4.7.2-2.3.9-1.1 0-5.7-1-1.1-1.4-3.6-2.1-2.1-2.5-1.3-1.1 0-1.1-1.1-5.7 0-1.1 1-3.5 1.2-3.5 3.6-.1 1.2-1 1.1-.1 7.9 2.2 3.4.1 4.6 2.3 2.2zM496 103.5l2.2 0 3.4-2.2 6.1-.2 3-1.9 1.2-.2 2.2-2.3.2-1.3 1.1-1.1.3-3.4.8-1.2 0-1.1-.9-1.1-.2-3.4-5.8-5.9-2.3-.3-1.1-.8-4.6 0-2.2 1.1-1.2 0-2.2 2.1-1.2.4-.2 1.1-2.1 2.1-.4 3.6-.8 1.1 0 2.3 1 1.1.1 2.3 2.2 3.4.1 4.5 1.1 1.1zM342.6 95.5l1.8-2.4 2.8-7.5 2.6-4.9.3-2.3-1.8-1.4-6.8-.3 0 19.3zM459.6 95.6l3.4.6 1.2-.3 1.7-1.6 6.4-14.8-.2-1.3-1.1-1-2.3-.6-11.4-.1-2.2.6-1.4 1.3-.6 2.3.8 3.4 3.4 9 2.1 2.3zM440.3 61.6l3.4-1.1 1.2-1.2.1-4.7-2.4-2.5-3.4.1-1.2 1.1-2.1-2.1-1.1-1.2 0-3.4-.9-1.1-.2-2.3-2.3-3.4-3.6-2.4-2.3-.1-1.1-1-2.3 0-5.6 2.2-3.6 3.6-.1 1.1-1 1.2 0 7.9 1 1.1.1 1.2 3.6 3.6 2.2 1.1 4.6 1.1 2.2-1 2.3-.1 4.6-3.4 3.4 0 .9.9 0 2.3 1.3 1.4 1.2 0 .9.9zM377.9 60.6l5.6-.2 4.6-2.3 3.7-4.7.3-3.4.8-1.1-1.1-5.7-2.1-2.2-.2-1.2-6-3.6-5.6-.2-1.2 1-2.3.2-4.9 4.9 0 1.1-1.1 1.2 0 7.9 1.1 1.1 0 1.2 4.9 4.8 2.9.8zM377.2 54.6l-2.2-1.2-1.2-3.4-1-1.1 0-1.1 1-1.2 1.2-3.4 2.9-1.7 5.6.1 2.9 2.8 0 1.1 1.1 1.1 0 3.4-1.1 1.2 0 1.1-2.9 2.6-5.6.3zM459.6 60.4l2.3 0 5.7-2.2 3.4-3.4.3-1.4 1-1.1.1-2.3 1-1.1 0-2.3-1-1.1-.1-2.3-1.1-1.1-.2-1.3-3.4-3.4-1.2-.1-1.1-1-3.4-.3-1.1-.8-1.2.8-3.4.3-1.1 1-1.2.1-3.4 3.4-.2 1.3-1.1 1.1-.2 3.4-.9 1.2 1 2.2 0 1.2-1 1.1 0 2.3 1.3 1.3 2.3.1 2.2 2.2 5.4 2zM499.4 60.5l5.6.1 1.2-1 2.2-.3 4.9-4.7.1-1.2 1-1.1 0-7.9-1-1.2 0-1.1-5-4.8-2.2-.3-1.2-1-5.6.1-3.4 2.2-1.2.1-3.8 4.8-.1 2.3-.9 1.1 0 3.4.9 1.2.1 2.2 1.5 2.5 2.3 2.4 1.2.1 1.1 1.1 1.1 0 .9.7zM498.8 54.6l-2.3-2.3-.1-1.1-1-1.2 0-3.4 1-1.1.1-1.1 2.9-2.9 5.6 0 2.2 1.7 1.8 2.3 0 5.7-4 4-5.6-.1zM543.7 60.3l1.1.1 0-24.1-1.1 0-1.2 1-2.3.1-1.1 1.1-1.1.1-2.3 2.2-2.4 5.8.1 3.9 2.2 5.2 2.4 2.4 1.1.1 1.1 1.1 2.3.1 1.1.8zM342.6 59.3l1.2 0 1.1-1.1 1.2-.1 2.4-2.4 1.2-3.4 1-1.1.1-5.7-1.3-3.6-1.9-2.1-.3-1.1-1.2-.3-2.3-2.1-2.3-.1 0 23.2zM377.9 17.3l7.9 0 1.1-1 1.2-.1 3.6-3.6.1-1.1 1-1.2.3-4.5-23.4 0 .1 2.3 1 1.1.1 2.3 4.7 4.7 1.9 1zM499.4 17.3l9 0 1.2-1.1 1.1-.2 2.3-2.1 1.4-3.6 1-1.1.1-3.4-23.2 0 .1 3.4 2.4 4.7 2.3 2.2 1.1.1 1 1zM414.2 16.3l13.6-1.9 2.1-1.8.4-1.1-.3-2.3-3.1-3.4-15.2 0-.8 5.7 1 3.2 1.3 1.3zM535.7 16.2l9.1-1 0-9.4-10.9 0-.7 6.8 2.2 3.4z"/><path fill="#fcfcfc" stroke="#707070" stroke-width="0.35" stroke-opacity="0.60" d="M342.6 208.8l3.5 0 3.4-6.8-.2-1.1-1.1-1.2-2.1-.6-4.6.1 0 9.6zM369.9 208.8l24 0-1.2-3.4-4.6-4.7-1.2 0-1.1-1.1-3.4-.1-4.5.1-1.2 1-1.1.1-4.7 4.7-1.1 3.4zM456.2 208.8l12 0 3-5.7.3-2.2-1.2-1.2-2.7-.6-10.3 0-1.8.6-1.1 1.2-.4 2.2 1.8 5.7zM492.5 208.8l22.9 0 0-2.3-1.1-1.1-.1-1.1-2.3-2.4-3.5-2.3-9 0-1.2 1.1-1.1.1-3.5 3.5-.1 1.1-1.1 1.1 0 2.3zM439.2 182.9l3.4 0 2.3-2.3.1-3.6-2.4-2.3-3.4 0-1.2 1.1-3.3-3.3 0-4.5-1-1.2-1.2-3.4-3.5-3.4-3.5-1.2-5.6 0-1.2 1-3.4 1.3-1.2 1.2-.2 1.1-2 2.2-.1 9.2 1.1 1.1.1 1.1 2.3 2.4 4.6 2.3 6.8 0 1.1-1.1 1.2 0 3.4-3.4 1.1 1.1 2.3 0 1 1 0 1.1 2.2 2.3zM342.6 181.7l1.2-1.1 1.1-.1 4.6-4.5.4-2.4.8-1.1 0-5.7-1-1.1-1.3-3.4-2.3-2.4-3.5-1.2-1.1-1 0 24zM375.6 181.9l9.1 0 3.4-2.2 2.6-2.7.1-1.1 1.1-1.1 0-2.3.9-2.3-.9-2.2 0-2.3-1.1-1.1-.1-1.2-3.4-3.4-1.5-.4-1.1-1-9.1.1-4.9 3.6-.1 1.1-2.2 3.4.3 8 2 3.4 2.6 2.5 1.1.1.8.8zM378.3 177l-1.6-.5-2.9-2.9-.1-2.2-1-1.2 1-1.1.1-2.3 2.9-2.9 1.2 0 1.1-1.1 2.3 0 1.1 1.1 1.1 0 2.9 2.9 1.2 2.3-.1 3.4-4 4-1.1.2-1.1 1-2.3-.1zM457.3 181.7l7.2-.1 4.2-2.2 2.3-2.3.1-1.2 1.1-1.1.1-2.3 1-2.3 0-1.1-.9-1.1-.2-3.4-2.1-2.3-.3-1.2-5.6-3.4-6.9 0-1.1 1-1.1.1-2.7 2.4-3 3.8-.2 3-1 2.2 1 2.3-1 1.1 0 2.3 2.3 2.4 1.2 0 1.1 1.1 4.3 2.2zM498.2 181.9l9.1 0 4.9-3.7.1-1.2 2.2-3.4 0-6.8-1.1-1.1 0-1.1-1.5-2.5-4.6-3.3-9.1-.3-1.1 1.1-1.5.4-3.4 3.4-.1 1.2-1.1 1.1-.2 2.3-.9 2.2 1.4 5.7 4.7 4.9 1.1.1.7.7zM499.9 177l-2.8-1.6-.7-1.8-1.1-1.1.1-4.5 4-4.1 1.1 0 1.1-1.1 2.3.1 1.1 1 1.2.1 2.9 2.8 0 6.8-2.9 2.9-1.2.1-1.1 1-3.4 0zM541.4 181.7l3.4.1 0-23.1-3.4.1-1.2 1.1-1.1 0-3.5 3.5-1 1.5-.2 1.9-1 1.1-.1 4.6 1 1.1.2 2.3 4.6 4.7 1.1 0 1.1 1zM379 139.7l5.7 0 1.1-1 3.4-1.3 2.3-2.3.1-1.2 1.1-1.1 0-9.1-1-1.1-.1-1.1-3.5-3.5-1.2-.1-1-1-6.9-.1-4.4-4.4 2.2-3.4-1.1-1.1 0-1.2-3.5-2.3-1.2 1.1-1.1 0-2.4 2.4 0 2.2 1.1 1.2 0 1.1 1.3.2 2.2 2.1 0 1.1 1.1 1.1 0 1.2 1.1 1.1-2.3 2.3-1 1.9-1.2 3.7 0 2.3.9 1.1.2 2.3 1.1 1.1.1 1.2 2.3 2.4 3.5 1.2.9.9zM500.5 139.7l6.8-.1 1.1-1 1.2 0 2.3-2.2 2.2-2.3.2-1.3 1-1 .1-6.9-3.5-5.7-1.2-.2-3.4-2.2-5.7 0-4.4-4.4 1.1-1.1 0-3.4-1.1-1.2-.1-1.2-5.7 0-1.3 1.2 0 4.6 2.4 2.3 1.2 0 1 1.1 0 2.2 1.1 1.2 0 1.1-1.1 1.1-.1 1.2-2.2 3.4.1 6.9 1 1 .2 1.3 2 2.1 2.5 2.4 1.2 0 1 1zM414.2 137.8l12.3-1.6 2-1.1.9-2.3-.4-1.6-1.4-1.8-10-9.4-2.3-1-1.1.6-.9 1.9-1.8 9 .2 4.6 1.6 2.2zM535.7 137.5l2.3.2 6.8-1 0-11.9-4.7-4.5-2.1-1.2-1.2.1-1 1.1-2.2 11.4.3 3.4 1.6 2.2zM374.4 103.4l2.3 0 2.3-2.2 6.8 0 1.1-1.1 1.2-.1 4.6-4.6.2-2.3 1-1.1-.1-5.8-1-1 0-1.1-1.1-1.2-.1-1.1-2.4-2.4-3.4-1.2-1.1-1-5.7 0-1.1 1-1.2 0-2.3 1.2-3.4 3.4-.1 1.3-1.1 1.1 0 7.9 2.2 3.4.1 4.6 2.3 2.2zM496 103.4l2.2 0 3.4-2.2 6-.1 3.1-2 1.2-.2 2.3-2.4.1-1.1 1.1-1.1.2-3.4.9-1.2 0-1.1-1-1.1-.2-3.5-5.7-5.7-2.3-.3-1.1-.9-4.6 0-1.1.9-2.3.3-3.4 2.6-.2.9-2.1 2.2-.3 3.5-.9 1.1.1 2.3 1 1.1 0 2.3 2.3 3.4 0 4.5 1.2 1.1zM461.9 95.4l2.3-.5 1.1-1 3.1-7.6 3-5.6.2-1.2-.5-1.1-1.3-.9-12.5-.4-2.6 1.3-.6 1.1.2 3.4 3.3 9.1 1.7 2.3 2.5 1.1zM342.6 94.5l1.2-1.5 1.9-5.5 3.8-7.7-1.2-1.9-2.2-.8-4.6.1 0 17.9zM440.3 61.5l3.4-1.1 1.3-1.3-.1-4.6-2.3-2.3-3.4 0-1.2 1.1-3.3-3.3 0-3.4-.9-1.1-.2-2.3-2.4-3.5-3.4-2.2-2.3-.1-1-1-2.5 0-1 .8-2.3.2-2.4 1.3-3.4 3.4-.1 1.1-1 1.2 0 7.9 1 1.1.1 1.2 3.4 3.4 2.4 1.2 4.6 1.1 2.2-1 2.3-.1 4.6-3.4 3.4.1 1 .9 0 2.3 1.2 1.3 1.2 0 1 1zM377.9 60.6l5.6-.2 4.6-2.4 3.6-4.6.3-3.4.8-1.1 0-1.1-.8-1.2-.2-3.4-2.1-2.2-.3-1.2-5.9-3.6-5.6-.1-1.2.9-2.3.3-4.9 4.8 0 1.1-1.1 1.2 0 7.9 1.1 1.1 0 1.2 4.9 4.8 2.3.2.7.6zM377.2 54.6l-2.2-1.2-.2-1.1-1-1.1 0-1.2-1.1-1.1 1.1-3.4 1.8-2.9 1.1 0 1.2-1.1 5.6 0 2.9 2.9.1 1.1 1 1.1 0 3.4-1 1.2-.1 1.1-2.9 2.6-5.6.3zM459.6 60.3l2.3 0 1.1-.8 2.3-.3 2.3-1.1 3.5-3.5 1.1-2.3.2-2.3.9-1.1 0-2.3-1-1.1-.1-2.3-1-1.1-.1-1.1-3.5-3.5-1.2-.1-1.1-1.1-3.4-.2-1.1-.9-1.2.9-3.4.2-1.1 1.1-1.2.1-2.4 2.3-2.2 3.4-.2 3.4-.9 1.2 1 2.2 0 1.2-1 1.1 0 2.3 1.2 1.2 2.3.1 2.2 2.2 5.5 2.1zM499.4 60.5l5.6.1 1.2-1 2.2-.3 4.9-4.7.1-1.2.9-1.1.2-6.8-1.2-3.4-4.9-4.8-2.2-.2-1.2-1-5.6.1-1.2 1-1.1 0-1.1 1.1-1.2.1-2.3 2.4-.3 1.3-1.1 1.1-.1 2.3-1 1.1 0 3.4 1 1.2.1 2.2 1.1 1.2.2 1.1 2.4 2.5 4.3 2zM498.8 54.6l-2.3-2.3-.1-1.1-1.1-1.2 0-3.4 1.1-1.1.1-1.1 2.9-2.9 5.6 0 4.1 4 0 5.7-4.1 4-5.6 0zM544.8 60.3l0-24-6.8 2.3-2.4 2.4-2.3 5.6 0 3.4.9 1.2.3 2.2 1 1.2.1 1.1 2.3 2.3 1.2.1 1.1 1.1 2.3.1 1.4.9zM342.6 59.3l3.5-1.3 2.3-2.3.1-1.1 1.1-1.2 0-1.1 1.1-1.1 0-6.8-1.1-1.2 0-1.1-2.1-2.3-.3-1.2-1.1-.1-2.3-2.1-1.2-.1-1.1 0 0 23zM377.9 17.3l7.9 0 1.1-1.1 1.2-.1 3.5-3.5.1-1.1 1-1.2.3-4.5-23.2 0 0 2.3 1 1.1.2 2.4 4.4 4.4 1.3.3.9.9zM499.4 17.2l9.1 0 3.4-2.2 1.2-1.3.1-1.1 2.2-3.4 0-3.4-23 0 0 3.4 1 1.1 1.4 3.6 2.3 2.2 1.1.1 1.1 1zM413.1 15.2l2.2.5 11.4-1.5 2.3-1.7.4-1-.4-2.4-3.2-3.3-13.5 0-.9 5.7.5 2.2.9 1.2zM535.7 15.6l9.1-1 0-8.8-10.5 0-.8 5.7 1.5 3.4z"/><path fill="#f6fcfc" stroke="#707070" stroke-width="0.35" stroke-opacity="0.60" d="M342.6 208.8l2.3 0 3.4-5.7 0-1.2-1-1-2.4-1.2-3.4 0 0 9.1zM369.9 208.8l23.9-.3-.7-.8-.4-2.3-4.6-4.6-1.2-.1-1-1-6.9-.1-1.3.1-3.6 2.3-3.1 3.3-1.2 3.5zM456.2 207.7l1.1 1.1 10.3 0 1.1-3.4 1.1-1.1.1-3.4-1.2-.2-1.1-1-10.3 0-2.2 2.3 0 2.3 1 1.1zM492.5 208.8l22.9 0 0-1.1-.1-1.2-1.1-1.1 0-1.1-3.5-3.5-1.1 0-1.1-1.1-8-.1-3.4 1.2-3.5 3.5 0 1.1-1.1 1.1-.1 2.3zM439.2 182.8l3.4 0 2.3-2.3 0-3.5-2.3-2.3-3.4 0-1.2 1.1-3.3-3.3-.1-4.5-1-1.2 0-1.1-1-1.1-.2-1.2-3.4-3.4-2.3-.4-1.2-.8-5.6 0-1.2 1.1-1.1 0-1.1 1.1-1.2.1-1.1 1.2-.2 1.1-2.1 2.3-.1 7.9.1 1.2 1.1 1.1 0 1.1 2.3 2.4 1.2.2 3.2 2 7 0 1.1-1 1.2-.1 3.4-3.4 1.1 1.1 2.3 0 1.1 1.1 0 1.2 2.2 2.2zM342.6 181.6l1.2-1 1.1-.1 4.6-4.6.2-2.3 1-1.1 0-4.5-.1-1.2-1-1.1-1.2-3.4-2.3-2.3-1.2-.2-1.1-1-1.2 0-1.1-1.1 0 24zM375.6 181.9l9.1 0 1.1-1.1 1.1 0 2.7-2.6 2.2-3.4.1-2.3.9-2.3-.9-2.2-.1-2.3-1.1-1.1 0-1.2-3.8-3.7-1.1 0-1.1-1.1-9.1.2-4.6 3.2-1.6 3.7-1 1.1.3 8 2 3.4 2.6 2.4 2 1zM378.3 177l-1.6-.4-2.9-3-.2-2.2-.9-1.2 1-1.1.1-2.3 2.9-2.9 1.2 0 1.1-1.1 2.3 0 1.1 1 1.1.1 3 2.9 1.1 2.3 0 3.4-4.1 4.1-2.2 1.1-2.3 0zM457.3 181.7l7.1-.1 3.2-2.1 1.1-.1 2.3-2.3.1-1.2 1.1-1.1.2-3.4.9-1.2 0-1.1-1-1.1-.2-3.5-2.1-2.2-.2-1.1-5.6-3.5-6.9.1-1.1 1-1.1 0-4.7 4.6-1 1.9-.4 3.8-.6 1.1.9 2.3-1.1 1.1 0 2.3 2.3 2.3 1.2 0 1.1 1.2 1.1.1 3.3 2.1zM498.2 181.9l9.1-.1 4.8-3.6 1.3-3.4 1.1-1.2-.1-6.8-1-1.1-1.4-3.4-4.7-3.4-9.1-.3-1.1 1.1-1.5.3-3.4 3.4-.1 1.2-1 1.1-.3 2.3-.8 1.1 0 2.3 1.1 2.2.3 2.3 4.6 4.9 1.1 0 .7.8zM499.9 177l-1.7-.5-1.7-1.7-.1-1.2-1.1-1.1 0-4.5 4.1-4.1 1.1-.1 1.1-1 2.3 0 1.1 1.1 1.2 0 2.9 2.9 0 6.8-2.9 3-1.2 0-1.1 1.1-3.4-.1zM541.4 181.6l3.4.1 0-22.9-3.4.1-1.2 1-1.1.1-3.5 3.4-1.2 3.4-1 1.1 0 4.6 1 1.1.1 2.3 4.6 4.6 1.1.1 1.1 1zM379 139.7l5.7 0 1.1-1.1 1.1 0 1.2-1.1 1.1-.1 2.3-2.3.1-1.2 1.1-1.1 0-9.1-1.1-1.1-.1-1.2-3.4-3.3-1.2-.1-1.1-1.1-6.8-.1-1.1-1-3.4-3.4 2.2-3.4-1.1-1.1 0-1.2-3.4-2.2-1.2 1-1.2.1-2.2 2.2 0 2.4 1.1 1.1 0 1.1 1.2.1 2.2 2.2 0 1.1 1.2 1.1 0 1.2 1 1.1-2.2 2.3-.2 1.1-1 1.1-.3 2.3-.7.9 0 2.6.9 1 .2 2.4 1 1 .1 1.2 2.3 2.3 3.5 1.3 1 .9zM500.5 139.6l6.3 0 2.8-1.1 2.3-2.2 2.3-2.4 0-1.1 1.1-1.1 0-6.9-3.6-5.6-3.3-1.3-1-1-5.8-.1-4.5-4.4 1.2-1.1 0-3.4-1.1-1.2-.1-1.1-5.7 0-1.2 1.1 0 4.6 2.3 2.3 1.2 0 1.1 1.1 0 2.3 1.1 1.1 0 1.1-1.1 1.1-.1 1.2-2.2 3.3 0 6.9 1.1 1.1 0 1.1 2.4 2.5 2.2 2.1 1.2.1zM415.3 137.3l1.2-.9 5.6-.2 1.2-.9 3.4-.2 1.1-1.1 0-2.4-10.2-10.1-2.3-.1-1.1 1.2-.2 3.4-.9 1.1-.1 2.3-1.1 2.2 0 2.4 1.1 1.1.1 1.1zM536.8 137.4l2.3-1.1 4.6-.1 1.1-.6 0-9.6-2.3-2.3-1.1-.2-2.3-2-2.3 0-.1 2.2-1 1.2-.2 3.4-.9 1.1 0 5.7 2.2 2.2zM374.4 103.4l2.3 0 2.3-2.2 6.8-.1 1.1-1.1 1.2 0 4.5-4.6.2-2.3 1-1 0-5.8-1-1.1-1.3-3.5-2.2-2.2-1.2-.1-1.2-1.1-1.1 0-1.1-1.1-5.7 0-1.1 1-3.5 1.3-3.4 3.4-.1 1.2-1 1.1 0 8 1 1.1.1 1.2 1.1 1 0 4.6 2.3 2.2zM496 103.3l2.2.1 3.4-2.2 5.9-.1.9-.9 3.5-1.4 2.2-2.3.1-1.1 1.1-1.1.2-3.4.9-1.1 0-1.2-1-1.1-.1-3.5-5.7-5.7-2.3-.2-1.1-.9-4.6 0-1.1.9-2.3.2-3.4 2.9-2.3 2.8-.2 3.5-.9 1 0 2.4 1 1.1.1 2.3 2.3 3.4 0 4.5 1.1 1.1zM461.9 94.3l1.1 0 2.3-2.3.1-1.1 1-1.2.2-2.2 1-1.1 0-1.2 2.3-3.4 0-2.3-1-1.1-12.7 0-1.1 1.1 0 2.3.8 1.1.3 2.3 1 1.1.1 2.3 1.1 1.1.1 1.7 1.1 1.7 2.1 1.2zM342.6 93.1l.1-1.1 1.1-1.1.2-2.3.9-1.1.1-1.2 1.1-1.1 0-1.1 2.2-3.4 0-1.2-1.1-1.1-5.7-.1 0 15.2zM440.3 61.4l1.2 0 3.4-2.2 0-4.7-2.3-2.2-3.5 0-1.1 1.1-2.2-2.2-1.1-1.2 0-3.4-1-1.1-.1-2.3-2.3-3.4-1.2-.3-2.3-2-2.3-.1-1.1-1-2.3 0-1.1.9-2.3.2-2.2 1.1-3.5 3.5-.1 1.1-1 1.1 0 8.1 1 1 .1 1.2 3.5 3.5 1.1.1 1.1 1 2.3.1 1.1 1 1.2 0 2.2-1 2.3-.1 4.6-3.5 3.4.1 1 1 .1 2.3 1.1 1.2 1.2 0zM377.9 60.6l4.5 0 5.7-2.6 3.6-4.6.3-3.4.8-1.1-1.1-5.7-2.1-2.2-.2-1.2-3.6-2.6-1.1 0-1.2-.9-5.6-.2-1.2 1-2.3.2-4.8 4.8-.1 1.1-1 1.2 0 7.9 1 1.1.1 1.2 4.8 4.8 2.3.2.7.6zM377.1 54.6l-2.1-1.2-1.3-3.4-1-1.1 0-1.1 1-1.2 1.2-3.4 3-1.8 5.6.1 3 2.9 0 1.1 1.1 1.1 0 3.4-1.1 1.2 0 1.1-3 2.7-5.6.2zM459.6 60.3l2.3 0 1.1-.9 2.3-.2 1.1-1 1.2-.1 3.4-3.5.2-1.2 1-1.1.1-2.3 1-1.1-.1-2.3-.9-1.1-.1-2.3-1.1-1.1-.1-1.2-3.4-3.4-1.2-.1-1-1-3.5-.2-1.1-.9-1.2.9-3.5.2-1 1-1.2.1-3.4 3.4-.1 1.2-1.1 1.1-.1 3.4-.9 1.2.8 1.1.2 2.3-1.1 1.1 0 2.3 1.2 1.1 2.3.2 2.2 2.2 1.2.1 1.1 1 2.3.2 1 .8zM499.4 60.4l5.6.1 1.2-1 2.4-.4 4.7-4.5 0-1.2 1-1.1.2-6.8-1.2-2.3 0-1.1-4.9-4.7-2.2-.3-1.2-1-5.6.1-1.2 1-1.1 0-1.1 1.1-1.2.2-3.7 4.7-.1 2.3-.9 1.1 0 3.4.9 1.2.1 2.2 1.4 2.4 2.3 2.4 1.2.1 1.1 1.1 2.1.8zM498.7 54.6l-2.3-2.3-.1-1.1-1-1.2 0-3.4 1-1.1.1-1.1 3-2.9 5.6-.1 2.3 1.8 1.8 2.3 0 5.7-4.1 4-5.6 0zM544.8 60.3l0-23.9-1.2 0-1.1 1-2.3.1-1.1 1.1-1.1.1-2.3 2.2-.1 1.2-1.1 1.1-.2 2.3-.9 1 0 3.7.9 1 .2 2.2 2.3 3.5 3.4 2.3 2.3.1 2 .9zM342.6 59.2l1.2 0 1.1-1.1 1-.1 2.4-2.3.1-1.1 2.2-3.4.1-1.2-.1-5.7-1-1.1-.1-1.2-2.1-2.2-.2-1.1-1.1-.1-2.3-2.2-1.2-.1-1.1 0 0 22.9zM377.9 17.2l8 0 1-1 1.2-.1 3.4-3.4.1-1.2 1.1-1.2.2-4.5-23.1 0 .1 2.3 1 1.1.1 2.3 4.6 4.6 1.1.1 1 1zM499.4 17.2l9.1 0 3.4-2.3 1.1-1.1 1.3-3.5 1-1 .1-3.5-23 0 .1 3.5 1 1 1.3 3.5 2.3 2.2 1.1.1 1.1 1.1zM414.2 14.9l3.5 0 1-.9 1.2-.2 5.6 0 2.3-1.9 0-2.7-3.4-3.4-11.4 0-.1 2.3-1 1.1 0 2.3zM536.8 14.9l3.5 0 1.1-1 3.4-.1 0-8-9.2 0-1 1.1 0 5.8 1.8 2.2z"/><path fill="#ecfcfc" stroke="#707070" stroke-width="0.35" stroke-opacity="0.18" d="M369.9 208.8l23.9-.1-.9-1-.3-2.2-4.5-4.7-1.2 0-1.1-1.1-4.5-.1-3.5.1-1.1 1-1.1.1-4.6 4.6zM492.5 208.8l22.8 0 0-2.3-3.4-4.5-4.1-2.3-7.9 0-4 2.3-2.2 2.4-.1 1-1.1 1.1zM342.5 181.6l1.3-1.1 1.1-.1 4.6-4.8.1-2 1-1.1 0-5.5-2.3-4.7-1.1-1.2-1.1-1.1-1.2-.1-3.4-2.1 0 23.8zM375.6 181.8l9.1.1 3.7-2.6 2.2-2.3.1-1.1 1.1-1.1 0-2.3.9-2.3-.9-2.2 0-2.3-1.1-1.1-.1-1.2-3.4-3.4-1.4-.3-1.1-1.1-9.1.2-4.8 3.5-.1 1.1-2.2 3.4.3 8 2.2 3.7 2.3 2.1 2 1zM378.2 177l-1.5-.4-2.9-3-.2-2.2-.9-1.2.9-1.1.2-2.3 2.9-2.9 1.2 0 1.1-1.1 2.3 0 1.1 1 1.1.1 3 2.9 1.1 2.3 0 3.4-4.1 4.1-2.2 1.1-2.3 0zM419.9 181.6l6.4 0 1.5-1.1 1.2-.1 3.4-3.3 3.4-.4.4-.8-1.6-2.2 0-4.6-2.2-5.7-3.8-3.4-1.9-.2-1.1-.9-5.7 0-1.2 1-1.1.1-3.4 2.5-.1.9-2.2 2.9 0 8 3.4 5 3.4 1.3 1.1 1zM457.3 181.6l6.9 0 3.4-2.2 1.1-.1 3.4-4.7.2-3.2.6-1.2-.7-2.2-.1-2.9-2.7-3.9-3-2.3-3.4-1.2-4.5 0-3.4 1.2-4.6 4.5-1.1 2.1-.6 4.7.5 2.3-.6 1.1 1 2.3 3.2 3.4 3.3 1.3zM498.2 181.9l9.1-.1 4.8-3.6.1-1.2 2.2-3.4 0-6.8-1.1-1.1 0-1.1-1.4-2.4-4.7-3.3-9-.3-1.1 1.1-1.1 0-3.5 3.4-.4 1.5-1 1.1-.2 2.3-.9 1.1 0 2.3 1.1 2.2.3 2.2 4.6 4.9 1.1.1.8.8zM499.9 177l-1.7-.5-1.8-1.7 0-1.2-1.1-1.1 0-4.5 4.1-4.1 1.1-.1 1.1-1 2.3 0 1.1 1.1 1.2 0 2.9 2.9 0 6.8-2.9 3-1.2 0-1.1 1.1-3.4 0zM542.5 181.6l2.3 0 0-22.8-2.6.1-4.2 2.2-2.3 2.3-2.3 5.5 0 2.8 1.1 1.9.4 2.3 4.2 4.5 1.1.1 1.5 1.1zM440.3 179.8l1.1.1.7-.6.1-1.1-.8-.8-1.1 0-.7.8.1 1.1zM380.1 139.6l4.1 0 2.8-1.1 3.3-2.3 2.3-3.6 0-8.9-1-1.1-.1-1.1-3.8-3.4-2.6-1.2-7.6 0-1.9-2.2-1.2-.3-.7 1.4.7 3.4-2.3 2.3-.1 1.1-1 1.1-.3 2.3-.7 1.1.1 2.3.8 1.1.1 2.3 1.1 1.1.1 1.2 2.2 2.3 1.2.1 1 1 1.3.1 1.3 1zM501.6 139.6l4.7 0 2.1-1.1 1.1 0 4.6-4.5.1-1.2 1.1-1.7 0-6.1-1.1-1.3 0-1.1-2.3-2.8-2.3-1.8-1.2 0-1.1-1.1-5.7 0-2.2-.5-2.3-2-1 .3-.3 1.1.7 2.3-.3 1.1-3.7 5.7 0 6.4 1.1 1.5.1 1.2 4.5 4.5 1.2 0 2 1.1zM371 110.3l1.2.3.8-.5.3-1.3-1.1-1-1.2.4-.4.8.3 1.1zM493.7 110.5l1.4-.4.4-1.1-.7-1-1.2-.1-.8 1.1.3 1.1zM377.9 101.1l7.6 0 1.4-1.1 1.2-.1 4.3-4.5.4-2.3 1-1.1 0-5.5-1.1-1.3 0-1.1-1.1-1.2-.1-1.1-2.3-2.3-1.1-.1-3.4-1.9-4.6-.3-5.7 2.3-3.4 3.8-1.1 2.6 0 7.2 1.1 1.2 0 1.1 3.4 4.3 1.2.9 2.2.5zM500.5 101.6l1.1-.5 5.8 0 3.3-2.2 1.2-.1 3.4-4.6.1-3.3.7-1.2-.8-5-1.1-1.8-4.7-4.5-2.2-.2-1.1-.9-1.2-.1-3.4.1-1.1.9-2.3.2-3.4 3.1-2.3 3.1-.1 2.9-.8 2.2.9 2.3 0 2.3 1.1 1.1 1.2 2.7 3.4 2.7 1.6.3zM377.9 60.5l4.5 0 3.4-1.1 3.4-2.4.4-1.3 2.1-2.3.2-3.4.8-1.1 0-1.1-.8-1.2-.2-3.4-3.6-4.5-4.6-2.4-5.6-.2-1.2 1-2.3.2-4.8 4.8 0 1.1-1.1 1.2 0 7.9 1.1 1.1 0 1.2 4.8 4.7 2.3.2.8.7zM377.1 54.6l-2.2-1.2-1.2-3.4-1-1.1 0-1.1 1-1.2 1.2-3.4 3-1.8 5.6.1 3 2.9 0 1.1 1.1 1.1 0 3.4-1.1 1.2 0 1.1-3 2.7-5.6.3zM460.8 60.2l2.2-.9 2.4-.2 1-1 1.2-.1 3.4-3.4.1-1.2 1-1.1.8-4.5-.8-4.6-2.2-3.4-2.3-2.2-1.2-.1-1.1-1.1-3.4-.1-1.1-.6-1.2.6-3.4.1-1.1 1.1-1.2.1-2.3 2.2-2.2 3.4-.1 3.4-.6 1.2.6 2.2-.4 2.3 2 3.4.8.1 2.2 2.2 1.2.1 1 1 2.4.2 2.2.9zM499.4 60.4l5.6.1 1.2-1 2.2-.3 4.8-4.6.1-1.2.9-1.1.1-7.9-1-1.2-.1-1.1-4.8-4.7-2.2-.2-1.2-1-5.6.1-2.3 1-1.1 1.1-1.2.1-3.7 4.7 0 2.3-1 1.1 0 3.4 1 1.2 0 2.2 1.4 2.3 2.3 2.4 4.4 2.1zM498.7 54.6l-2.3-2.3-.1-1.1-1-1.2 0-3.4 1-1.1.1-1.1 3-3 5.6 0 2.4 1.8 1.7 2.3 0 5.7-4.1 4.1-5.6-.1zM342.6 59.2l1.2-.1 3.4-2.4 2.3-3.2 0-1.2 1.1-1.7 0-5.5-1.1-1.9 0-1.1-2.8-3.4-3.5-2.3-1.7 0 0 22.8zM418.7 59.1l4.6.9 4.4-.9 5.8-4.4 2.6-.1 0-1.2-1.5-1.6 0-4.5-1-1.8-.1-2.3-2.5-3.4-3.2-2.2-2.3-.1-2.2-.9-4.6.9-1.1 1-1.2.2-3.4 3.4 0 1.1-1.1 1.2 0 7.9 1.1 1.1 0 1.2 3.4 3.4 1.2.1zM541.4 59.2l3.4.8 0-23.4-2.3.9-2.3.1-3.2 2.2-2.4 3.4-.2 2.3-1 1.4 0 2.9 1 1.4.2 2.3 2.2 3.2 3.5 2.4zM440.3 58l1.2 0 .8-1.2-.9-1.4-1.5.3-.3 1.1zM377.9 17.2l7.9 0 1.1-1.1 1.2-.1 3.4-3.4.1-1.1 1-1.1.2-4.6-22.9 0 1.1 3.4 0 1.8 1.1 1.6 3.5 3.4 1.1.1 1.1 1.1zM500.5 17.2l7.4 0 3.9-2.3 2.4-3.4 0-1.2 1.1-1.1 0-3.4-22.8 0 0 3.4 1.1 1.1 0 1.2 1.1 1.1.1 1.1 5 3.5z"/><path fill="#e4fcfc" stroke="#707070" stroke-width="0.35" stroke-opacity="0.18" d="M371 208.8l22.2 0-.6-2.4-2.3-3.3-3.1-2.2-3.3-1.2-4.3 0-5.2 2.3-2.2 2.2-2.1 4.6zM492.5 208.8l22.8 0 0-1.2-2.9-4.5-2.8-2.1-3.4-1.3-4.6 0-3.4 1.2-2.8 2.2-2.9 4.4zM375.6 181.8l9.1 0 1.1-1.1 1.1 0 2.6-2.5 2.2-3.4.1-2.3.9-2.3-.9-2.2-.1-2.3-1.1-1.1 0-1.2-3.7-3.6-1.1 0-1.1-1.1-9.1.2-4.8 3.4-.1 1.1-2.2 3.4.3 7.8 2 3.6 2.5 2.3 2.1 1.1zM378.2 177l-1.5-.4-3-3-.2-2.2-.9-1.2 1-1.1.1-2.3 3-3 1.2 0 1.1-1.1 2.3 0 1.1 1.1 1.1 0 3 3 1.2 2.3-.1 3.4-4.1 4.1-2.2 1.2-2.3-.1zM422.1 181.6l2.7 0 3.3-1.2 3.1-2.2 2.6-4.6.3-3.4-.6-3.9-2.3-3.7-3.3-2.6-4.3-1.1-5.5 1.1-1.8 1.2-3.1 3.4-1.3 3.2 0 5 1.2 3.1 3 3.4 5 2.3zM458.5 181.6l4.6 0 3.3-1.3 3.4-2.9 2.3-4.2 0-6.7-1.1-2.7-3.4-3.8-5.7-2-3.4.2-4.6 1.8-3.1 3.4-1.4 3.1 0 6.7 1.1 2.7 3.1 3.4 4.7 2.3zM498.2 181.8l9.3-.2 4.4-3.2.3-1.4 1.1-1.1 0-1.1 1.1-1.2 0-6.8-1.1-1.1 0-1.1-1.2-1.2-.2-1.1-4.8-3.4-8.9-.2-1.1 1-1.4.3-3.4 3.4-.1 1.2-1.1 1.1-.2 2.3-.9 2.2 1.4 5.5 4.6 5 1.1.1.8.8zM499.8 177l-2.7-1.5-1.9-3 0-4.5 4.2-4.2 1.1-.1 1.1-1 2.3.1 1.1 1 1.2 0 3 3 0 6.8-3 3-1.2.1-1.1 1-3.4 0zM543.7 181.6l1.1 0 0-22.7-4.6 1.1-3.1 2.3-2.3 3.4-.8 3.4.6 5.3 2.2 3.7 3.2 2.3 3.3 1.2zM342.6 180.9l3.5-1.8 2.2-2.5 1.2-2 .8-5.5-.8-4-1.8-2.8-2.4-2.3-3.8-1.6 0 23zM377.9 138.5l3.4.8 4.9-.8 3-2 2.3-2.5 1.1-2.5 0-6.8-2.7-4.4-2.9-2.2-3.5-1.2-3.6 0-3.2.9-3.3 2.5-2.4 3.9-.5 4.1.5 3.7 2.3 3.6 3.9 2.9zM499.4 138.5l3.4.8 5.7-.8 3.4-2.3 2.2-3.2 1.2-3.8 0-2.2-1.2-3.8-2.2-3-2.9-2.1-3.4-1.2-3.5 0-2.7.8-2.3 1.2-3.4 4.2-1.2 3.6 0 2.8 1.2 3.6 2.3 3.1 3.3 2.3zM380.1 101.1l4.6-.3 2.4-.9 3.2-2.2 2.3-3.4 1.1-4.6-1.1-5.2-1.8-2.7-2.5-2.3-2.2-1.1-3.7-.7-5 .7-3 1.7-3.4 3.9-1.1 3.4 0 4 2.3 5.2 4.5 3.6 3 .9zM502.8 101.1l3.1 0 3.4-1.2 2.6-1.8 3.4-4.9.3-3.5-.3-4-3.4-5.1-3.5-2.2-4.5-.7-4.5.7-4.6 3.3-2.3 3.9-.4 4.1.4 3.5 2.3 3.8 3.4 2.8 3.6 1.3zM377.9 60.5l5.6-.2 4.4-2.3 3.6-4.4.4-3.6.8-1.1-1.1-5.7-2-2.2-.3-1.2-3.5-2.5-1.1 0-1.1-.9-5.7-.2-1.2 1-2.3.2-4.8 4.7 0 1.1-1.1 1.2 0 7.9 1.1 1.1 0 1.2 4.8 4.7 2.3.2.8.7zM377.1 54.6l-2.2-1.2-.2-1.1-1-1.1 0-1.2-1.1-1.1 1.1-3.4 1.9-3 1.1-.1 1.2-1 5.6 0 3 3 .1 1.1 1.1 1.1 0 3.4-1.1 1.2-.1 1.1-3 2.8-5.6.2zM499.4 60.3l5.6.2 1.2-1.1 2.2-.2 4.8-4.6.1-1.2.9-1.1.2-6.8-1.2-3.4-4.8-4.6-2.2-.3-1.2-1-5.6.1-1.2 1-1.1 0-1.1 1.1-1.2.2-3.6 4.6-.1 2.3-.9 1.1 0 3.4.9 1.2.1 2.2 1.1 1.2.2 1.1 2.3 2.4 4.5 2.1zM498.7 54.6l-2.3-2.3-1.2-2.3 0-3.4 1-1.1.2-1.1 3-3 5.6 0 2.5 1.8 1.7 2.3 0 5.7-4.2 4.1-5.6 0zM342.6 59.1l2.3-1.1 3.4-3.3 1.2-2.1.9-4.8-.9-4.7-1.2-2.1-2.1-2.3-4.1-2.3-.6 0 0 22.7zM419.9 59.1l2.2.4 4.6-.4 2.3-1.1 3.5-3.4 1.1-2.3.5-4.5-.6-3.5-1.1-2.3-2.1-2.2-3.6-2.2-4.6-.4-2.9.4-2.2 1.1-2.8 2.4-2.2 4.4-.1 5.3 1.2 3 2.2 3 4 2.3zM457.3 59.1l4.6.5 2.9-.5 2.2-1.1 2.7-2.3 2.4-4.4 0-6.9-1.1-2.5-2.7-3.2-4-2.3-7.1 0-2.4 1.2-3.1 2.7-2.3 4.1 0 6.9.9 2.1 2.6 3.4 3.8 2.3zM541.4 59.1l3.4.4 0-22.4-3.5.5-3.6 2.2-2 2.2-1.6 4.6 0 3.4 1.6 4.6 3.4 3.4zM380.1 17.2l4.2 0 4.6-2.3 2.6-3 1.1-2.4.1-3.7-22.2 0 .5 4.3 2.3 3.7 1.1 1.1 4.7 2.3zM501.6 17.2l4.9 0 4.5-2.3 3.1-3.8 1.2-5.3-22.8 0 0 1.7 2.3 5.4 3.4 3.1 3.1 1.2z"/><path fill="#d8fcfc" stroke="#707070" stroke-width="0.35" stroke-opacity="0.18" d="M372.2 208.8l20.3 0-1.6-3.4-2.8-2.9-2.3-1.2-3.4-.7-3.4.3-3.4 1.5-3.1 3-1.5 3.4zM493.7 208.8l20.9 0-1.6-3.4-3.4-3.3-2.3-1-3.4-.5-3.4.5-3.7 2-2.8 3.4-.8 2.3zM375.6 181.7l9.1.1 1.1-1.1 1.1 0 3.7-3.7 0-1.1 1.1-1.1.1-2.3.9-2.3-1-2.2 0-2.3-1.1-1.1-.1-1.2-2.4-2.5-3.4-2.2-9 .2-4.7 3.2-1.5 3.6-1 1.1.3 7.7 2 3.7 2.5 2.3 2.1 1.1zM378.2 177l-1.5-.3-3-3.1-.2-2.2-.9-1.2 1-1.1.1-2.3 3-3 1.2 0 1.1-1.1 2.3 0 1.1 1 1.1.1 3.1 3 1.1 2.3 0 3.4-4.2 4.2-2.2 1.1-2.3 0zM498.2 181.8l9.1-.1 4.7-3.5.1-1.2 2.2-3.4 0-6.8-1-1.1-.1-1.1-2.5-3.5-1.1-.2-2.7-2-8.7-.2-1.1 1.1-1.4.2-3.4 3.4-.1 1.2-1 1.1-.2 2.3-.9 1.1 0 2.3 1.1 2.2.2 2 4.6 5.1 1.1 0 .9.9zM499.8 177l-1.6-.4-1.8-1.8-.1-1.2-1.1-1.1 0-4.5 4.2-4.2 1.1-.1 1.1-1 2.3 0 1.1 1.1 1.2 0 3 3 0 6.8-3 3.1-1.2 0-1.1 1.1-3.4-.1zM421 180.6l4.5-.1 3.5-1.6 2.2-2.2 1.9-4.2.2-3.4-1-3.4-3.3-4-3.8-1.7-4.4 0-3.2 1.3-3.3 3.3-1.4 3.4-.2 3.4 1.5 4.5 1.9 2.3 4.1 2.2zM458.5 180.6l3.4.2 4.5-1.6 3.3-3.3 1.8-4.5-.1-3.4-1.8-4.6-2-2.1-3.4-2-5-.4-3.4 1.1-3.9 3.4-1.4 2.9-.6 3.9 1.1 4.6 2.9 3.6 3.8 2zM542.5 180.5l2.3.3 0-21-3.4.7-3 1.8-2.6 3.4-1 3.4.2 3.4 1.8 4.1 2.3 2.3 3.3 1.5zM342.6 180.1l3.5-2.3 1.5-1.9 1.5-3.4.3-3.4-.8-3.4-1.4-2.5-3.4-3-2.3-1 0 21.2zM377.9 137.7l3.4.7 3.4-.3 4.5-2.8 2.4-3.6.7-3.4-1-4.6-2.6-3.4-2.9-1.8-3.4-.7-4.5.6-3.2 1.9-2.5 3.4-1 3.4.7 4.6 2.1 3.4 3.1 2.2zM499.4 137.4l3.4 1 4.5-.5 3.4-1.9 2.3-2.8 1.3-3.8-.1-3.4-1.4-3.4-3.5-3.4-4.3-1.4-4.5.4-3.6 2.1-2 2.3-1.3 3.4-.2 2.3.6 3.4 2.1 3.4 3.2 2.2zM380.1 100.1l4.6-.3 3.4-1.5 3.5-4 1.1-3.4-.4-4.6-1.8-3.4-2.4-2.3-4.6-1.9-4.5.2-3.4 1.6-2.7 2.4-1.9 4 0 5.3 1.5 3.2 3.1 3.1 3.7 1.4zM501.6 100l4.7-.1 3.3-1.2 3.5-3.3 1.8-4.5-.2-3.4-1.7-4.2-3.4-3.2-3.4-1.3-3.4-.2-4.6 1.5-3.4 3.2-1.8 4.2-.1 3.4 1.9 4.7 3.4 3.1 3.2 1.2zM377.9 60.4l4.5.1 2.3-1.2 1.1 0 3.4-2.4.3-1.2 2.1-2.3.2-3.4.8-1.1 0-1.1-.8-1.2-.2-3.4-2.1-2.2-.2-1.2-3.5-2.5-1.1 0-1.2-.9-5.6-.2-1.2 1-2.3.2-4.7 4.7 0 1.1-1.1 1.2 0 7.9 1.1 1.1 0 1.2 4.7 4.6 2.3.2.9.8zM377 54.6l-2.2-1.2-1.2-3.4-1-1.1 0-1.1 1-1.2 1.2-3.4 3.1-1.9 5.6.1 3.1 3 0 1.1 1.1 1.1 0 3.4-1.1 1.2 0 1.1-3.1 2.8-5.6.2zM499.4 60.3l5.6.1 1.2-1 2.3-.3 4.6-4.5.1-1.2 1-1.1.2-6.8-1.2-2.3 0-1.1-4.8-4.6-2.2-.2-1.2-1.1-5.6.1-1.2 1-1.1 0-1.1 1.1-1.2.2-3.6 4.6-.1 2.3-.9 1.1 0 3.4.9 1.2.1 2.2 1.3 2.1 2.3 2.5 4.5 2.2zM498.6 54.6l-2.3-2.3-.1-1.1-1-1.2 0-3.4 1-1.1.1-1.1 3.1-3 5.6-.1 2.3 1.7 1.9 2.5 0 5.7-4.2 4.1-5.6 0zM342.6 58l2.3-1.2 2.3-2.3 1.7-3.3.5-3.4-.5-3.4-1.7-3.2-2.3-2.3-3.4-1.6 0 21.1zM419.9 58.3l3.4.6 4.5-1.2 3.5-3.1 1.7-3.4.2-4.6-1.2-3.4-3-3.4-3.5-1.7-3.4-.3-4.5 1.5-3 2.8-1.6 3.4-.4 3.4.8 3.4 1.9 3.1 3.6 2.6zM457.3 58.3l4.6.6 3.4-1 4-3.3 1.7-3.4.6-3.4-1-4.6-3-3.9-3.4-1.9-4.6-.6-3.4 1-2.9 2-2.4 3.4-1 4.6.9 4.5 2 3.1 3.6 2.6zM541.4 58.1l3.4.8 0-21.1-2.3.3-3.4 1.7-3.1 3.4-.9 2.3-.3 3.4.9 3.7 2.1 3.1 3.3 2.3zM379 16.1l4.5.2 4.6-1.9 1.8-1.8 1.6-2.7.8-4.1-21.1 0 .5 3.4 1.8 3.4 2.7 2.3 2.6 1.1zM501.6 16.2l4.6 0 3.4-1.4 3.3-3.3 1.1-2.3.4-3.4-21 0 .4 3.4 1.1 2.3 3.4 3.4 2.7 1.1z"/><path fill="#c8fcfc" stroke="#707070" stroke-width="0.35" stroke-opacity="0.18" d="M372.2 208.8l19.2 0-1.6-3.4-1.7-1.8-2.3-1.5-3.4-.9-2.3.2-4.5 1.9-2.1 2.1-1.4 3.4zM494.8 208.8l18.9 0-.9-2.3-3.3-3.4-1.1-.8-4.5-1.2-4.5 1.2-1.1.8-3.3 3.4-1 2.3zM375.6 181.7l9.1.1 3.6-2.5 2.2-2.3.1-1.1 1.1-1.1 0-2.3.9-2.3-.9-2.2 0-2.3-1.1-1.1-.1-1.2-3.4-3.4-1.3-.2-1.1-1-8.8.1-5 3.4-.1 1.1-2.2 3.4.2 7.6 2.1 3.8 4.5 3.4zM378.1 177l-1.4-.3-3-3.1-.2-2.2-1-1.2 1-1.1.2-2.3 3-3 1.2 0 1.1-1.1 2.3 0 1.1 1 1.1.1 3.1 3 1.1 2.3 0 3.4-4.2 4.2-2.2 1.1-2.3 0zM498.2 181.8l9.1-.1 4.7-3.5.1-1.2 2.2-3.4 0-6.8-1.1-1.1 0-1.1-2.5-3.4-3.9-2.3-8.6-.2-1.1 1.1-1.3.2-3.3 3.2-.2 1.4-1.1 1.1-.1 2.3-.9 1.1-.1 1.1 1.3 5.2 3.4 4.1 3.2 2.1zM499.7 177l-1.5-.4-1.9-1.8 0-1.2-1.1-1.1 0-4.5 4.2-4.2 1.1-.1 1.1-1 2.3 0 1.1 1.1 1.2 0 3 3 0 6.8-3 3.1-1.2 0-1.1 1.1-3.4 0zM341.6 179.3l1-.1 3.5-2.7 1.9-2.9.5-4.5-.3-2.3-2-3.4-2.4-2.2-2.3-1.1 0 19.2zM421 179.7l2.3.3 3.4-.8 2.3-1.4 3-4.2.4-3.4-.5-3.4-1.8-2.8-3.4-2.7-3.4-.6-3.4.5-2.3 1.2-3.2 3.3-1.2 4.5 1.2 4.6 3.3 3.4 2.3 1.1zM458.5 179.6l3.4.3 3.4-1.1 3.4-2.9 1.8-3.4.3-4.5-1.5-3.4-1.7-2.2-3.4-2.2-3.4-.4-3.5.4-4.3 3.2-1.8 3.4-.5 4.6 1.3 3.4 3.1 3.3 2.6 1.2zM542.5 179.5l2.3.5 0-19.3-3.4.6-2.3 1.6-1.6 1.7-1.7 3.4.2 5.6 3.1 4.2 3 1.5zM380.1 137.4l4.6-.1 2.2-1.2 3.3-3.3 1.2-3.4-.1-3.4-1.8-3.4-3.7-3.2-3.4-.9-4.5.8-2.3 1.5-1.7 1.8-1.6 3.4 0 4.5 1.1 2.3 3.3 3.4 3.3 1.1zM502.8 137.5l4.5-.3 2.3-1.4 3.3-4.1.5-2.3.1-2.3-1.7-4.5-2.2-2.2-4.6-1.8-3.4.3-3.4 1.5-2.9 3.3-1 3.4.6 4.6 1.3 2.2 2 2 2.3 1.3 1.7.1zM379 98.9l3.4.5 3.4-.8 3.4-2.6 2-2.9.6-3.4-.9-4.5-2.8-3.4-3.4-2.1-5.7-.1-3.7 2.2-2.9 3.4-.8 3.4.7 4.5 3.3 4.2 3.2 1.5zM501.6 99l3.4.3 3.4-1 4.4-4 .9-2.3.2-4.5-.9-2.3-2.3-3.2-3.4-2.2-5.7-.2-3.4 1.5-2.1 1.8-2.3 4.6 0 3.4 1.2 3.4 3.2 3.3 2.8 1.2zM377.9 60.4l4.5 0 3.4-1.1 3.4-2.5.3-1.1 2-2.2.3-3.5.7-1.1-.9-5.7-2.1-2.2-.3-1.2-3.4-2.4-1.1 0-1.3-1-5.5-.1-1.2 1-2.3.2-4.7 4.6 0 1.1-1.1 1.2 0 7.9 1.1 1.1 0 1.2 4.7 4.6 2.3.2.9.8zM377 54.6l-2.2-1.2-1.2-3.4-1-1.1 0-1.1 1-1.2 1.2-3.4 3.1-1.9 5.6.1 3.1 3 0 1.1 1.1 1.1 0 3.4-1.1 1.2 0 1.1-3.1 2.9-5.6.2zM499.4 60.2l5.6.2 1.2-1 2.1-.3 4.8-4.5.1-1.2.9-1.2.2-6.7-1.2-3.4-4.7-4.5-2.2-.3-1.2-1-5.7.1-3.3 2.1-1.2.1-3.5 4.6-.1 2.3-1 1.1.1 3.5.9 1.1.1 2.2 1.2 2 2.3 2.6zM498.6 54.6l-2.3-2.3-.1-1.1-1-1.2 0-3.4 1-1.1.1-1.1 3.1-3.1 5.6 0 2.3 1.6 1.9 2.6 0 5.7-4.2 4.2-5.6-.1zM342.6 56.9l1.2-.3 3.2-3.2 1.2-2.2.3-3.4-.4-3.4-1.2-2.3-3.1-2.9-2.3-1 0 19.4zM419.9 57.5l4.5.4 3.4-1.2 3.3-3.3 1.1-2.2 0-5.7-1.1-2.3-3.3-3.2-2.3-1.1-4.5-.1-3.4 1.6-2.7 2.8-1.5 3.4-.2 2.3 1.1 3.4 1.4 2.3 3.1 2.2zM457.3 57.3l2.3.6 3.4-.1 4.6-2.6 2.2-2.9.9-2.3 0-4.5-2.7-4.5-2.7-2.2-3.4-1.1-3.4.3-3.6 1.8-3.1 3.4-1.1 3.4.2 3.4 2.5 4.6 3.1 2.2zM541.4 57.1l3.4.8 0-19.2-2.3.2-2.3 1.1-3.2 3.2-1.1 2.3 0 5.7 2.1 3.4 2.9 2.2zM379 15.3l4.5.4 4.6-2.4 3.2-5.2.1-2.3-19.2 0 0 2.3 1.5 3.4 1.9 2.1 2.6 1.3zM500.5 14.9l3.4 1 4.5-1.2 4.1-4.4 1-4.5-19.3 0 .6 3.4 1.2 2.3 3.4 3.2 1 .2z"/><path fill="#a0f8f8" stroke="#707070" stroke-width="0.35" stroke-opacity="0.18" d="M373.3 208.8l17.9 0-1.1-2.3-4.3-4.1-4.5-.9-3.4.8-2.3 1.5-3 3.9-.2 1.1zM494.8 208.8l18.2-.1-.6-2.2-2.8-3.1-2.3-1.2-3.4-.7-3.4.7-2.3 1.2-2.9 3.1-.7 2.3zM375.6 181.7l9.1 0 1.1-1.1 1.1 0 2.5-2.4 2.2-3.4.8-4.6-.8-4.5-1.1-1.1 0-1.2-1.3-1.3-2.3-2.2-1.1 0-1.1-1.1-8.7.1-5 3.3-.2 1.2-2.2 3.4.2 7.4 2.1 4 4.6 3.4zM378.1 177l-1.4-.3-3.1-3.1-.2-2.2-.9-1.2 1-1.1.1-2.3 3.1-3.1 1.2 0 1.1-1.1 2.3 0 1.1 1.1 1.1 0 3.1 3.1 1.2 2.3-.1 3.4-4.2 4.2-2.2 1.2-2.3 0zM498.2 181.7l9.2-.1 4.5-3.4.1-1.2 2.3-3.4 0-6.8-1.1-1.1-.2-1.3-2.5-3.2-4.3-2.5-8 .1-1.1 1.1-1.3.1-3.4 3.4-.1 1.2-1 1.1-.2 2.3-.9 1.1 0 2.3 1.2 3.9 3.4 4.2 3.3 2.1zM499.7 177l-1.5-.3-1.9-1.9-.1-1.2-1.1-1.1 0-4.5 4.3-4.3 1.1-.1 1.1-1 2.3.1 1.1 1 1.2 0 3.1 3.1 0 6.8-3.1 3.1-1.2.1-1.1 1-3.4 0zM342.6 178.8l4.4-4 1-2.3.1-4.5-1.2-3.4-3.1-3.1-2.3-1.1 0 18.7zM418.7 178.5l3.4.8 4.6-.4 4.3-4.1 1-2.3 0-4.5-1-2.3-4.3-3.9-2.3-.5-4.5.1-2.3 1.3-2.7 3-1.3 3.4 0 2.3 1.2 3.4 3.5 3.4zM457.3 179l6.9 0 2.2-1.2 2.8-3 1.3-3.4 0-3.4-.9-2.3-2-2.8-3.4-2.3-2.3-.4-4.6.4-3.4 2.4-2 2.7-1 3.4.2 2.3 2.1 4.5 1.9 1.9 1.2.4zM541.4 178.9l3.4.4 0-18-2.3.1-2.3 1.1-3.1 3.2-1.1 2.3.4 5.6 4.1 4.6zM377.9 136.4l1.1.7 5.7-.1 3.1-1.9 2-2.3 1.3-3.4-.3-3.4-.8-2.3-4.2-3.9-4.5-.7-3.4.5-4.4 4.1-1 2.3.1 4.5 1 2.3 3.1 3.1.9.3zM500.5 136.9l4.5.3 2.3-.4 3.4-2.7 1.9-2.4.1-6.8-2-3-3.4-2.4-3.4-.4-3.4.4-2.3 1.3-1.8 1.8-1.3 2.3.1 6.8 1.9 2.6 2.6 1.9zM377.9 98.4l4.5.4 3.4-.5 4.3-4 1.1-2.3.1-4.5-1.3-3.4-1.9-2.1-3.4-2.1-5.7 0-2.3 1.1-2.3 2.1-2 3.2.2 6.8 4.4 4.6zM500.5 98.5l6.8 0 2.3-1.2 2.7-3 1.4-3.4.1-2.3-1.1-3.4-1.5-2.3-3.9-2.7-3.4-.5-3.4.5-3.4 2.2-2 2.8-1.1 3.4.1 2.3 2.1 4.5 2 1.9 1.2.4zM377.9 60.4l4.5 0 3.4-1.1 3.4-2.7.2-.9 2.1-2.2.2-3.5.6-1.1-.8-5.7-2.1-2.2-.3-1.2-3.3-2.4-1.1 0-1.5-1-5.3-.1-1.2 1-2.3.2-4.6 4.6-.1 1.1-1 1.2 0 7.9 1 1.1.1 1.2 4.6 4.6 2.3.1 1 .9zM377 54.6l-2.2-1.2-.2-1.1-1-1.1 0-1.2-1.1-1.1 1.1-3.4 2-3.1 1.1-.1 1.2-1 5.6 0 3.1 3.1.1 1.1 1.1 1.1 0 3.4-1.1 1.2-.1 1.1-3.1 2.9-5.6.2zM500.5 60.4l4.5 0 1.2-1.1 1.9-.2 5-4.5 1.2-3.4 0-5.7-1.2-3.4-3.5-3.6-1.4-.9-2-.2-1.2-1.1-5.6.1-1.2 1-1.1 0-1.1 1.1-1.2.2-3.5 4.5-.1 2.3-.9 1.1 0 3.3.9 1.3.2 2.4 3.5 4.4 1.1.1 1.1 1.2 1.1 0 1.4.9zM498.6 54.6l-2.3-2.3-1.2-2.3 0-3.4.9-.9.3-1.3 3.1-3.1 5.6 0 2.3 1.5 2 2.7 0 5.7-4.3 4.2-5.6 0zM341.7 56.8l2.1-.8 2.3-1.9 1.8-2.9.3-3.4-.4-3.4-1.4-2.3-1.5-1.7-2.3-1.5-1.1-.1 0 18.1zM421 57.5l3.4.1 4.6-2.2 1.7-2 1.4-3.4 0-3.4-1.4-3.4-2.9-2.8-3.4-1.4-3.4.1-2.3 1-3.3 3.1-1.6 3.4-.2 2.3.9 3.4 4.2 4.3 1.2.2zM458.5 57.4l3.4.3 3.4-1.1 4.2-4.3 1.1-3.4-.3-3.4-.9-2.3-4.1-4.1-3.4-1.1-2.3 0-3.4 1.2-4.1 4-1.2 4.6 1.1 4.5 4.2 4.2 1.4.3zM542.5 57.3l2.3.4 0-18.7-2.3.4-3.4 1.9-1.8 1.9-1.3 3.4.2 4.6 1.1 2.2 2.9 2.9 1.7.5zM380.1 15.4l2.3.1 3.4-.9 2.3-2 2-2.3 1-4.5-18.7 0 .1 2.3 2.6 4.5 2.8 2 1.4.3zM502.8 15.5l2.2 0 4.6-2 1.9-2 1.2-2.3.2-3.4-18 0 .2 3.4 1.2 2.3 3.1 2.8 2.3.6z"/><path fill="#80f8f8" stroke="#707070" stroke-width="0.35" stroke-opacity="0.18" d="M373.3 208.8l17.7 0-1.1-2.3-3.5-3.4-5.1-1.2-3.4.6-2.3 1.7-3 4.6zM496 208.8l16.8 0-.9-2.5-2.3-2.6-2.3-1.2-3.4-.6-3.4.6-2.3 1.1-2.5 2.9-.7 2.3zM375.6 181.6l9.1.1 3.5-2.4 2.3-2.3 0-1.1 1.1-1.1.6-4.6-.6-4.5-1.1-1.1-.1-1.2-2.3-2.4-3.4-2.2-8.5.1-5.2 3.4-.1 1.1-2.2 3.4.1 7.3 2.1 4.1 4.6 3.4zM378 177l-1.3-.2-3.1-3.2-.2-2.2-.9-1.2.9-1.1.2-2.3 3.1-3.1 1.2 0 1.1-1.1 2.3 0 1.1 1 1.1.1 3.2 3.1 1.1 2.3 0 3.4-4.3 4.3-2.2 1.1-2.3 0zM498.2 181.7l9.1-.1 4.6-3.4.1-1.2 2.2-3.4 0-6.8-1.1-1.1-.1-1.3-2.7-3.2-3.7-2.3-8.4-.1-3.4 2.2-2.4 2.4 0 1.2-1.1 1.1-.1 2.3-1 1.1 0 2.3 1.1 2.2.1 1.6 1.1 2 3.5 3.4 1.1 0 1 1zM499.7 177l-1.5-.3-1.9-1.9-.1-1.2-1.1-1.1 0-4.5 4.3-4.3 1.1-.1 1.1-1 2.3 0 1.1 1.1 1.2 0 3.1 3.1 0 6.8-3.1 3.2-1.2 0-1.1 1.1-3.4 0zM342.6 178.4l4.1-3.6 1.1-2.3.1-4.5-.1-1.2-2.2-3.4-4.1-2.7 0 18.2zM419.9 178.9l6.8-.3 4.1-3.8 1-2.3-.1-4.5-1-2.3-2.9-3-2.3-1.1-5.6.1-2.8 1.7-2.5 3.4-.8 3.4.8 3.4 1.2 2.3 3 2.3zM457.3 178.8l6.9 0 3.9-2.9 2.1-4.5.2-2.3-1-3.4-1.8-2.4-4.6-2.8-3.4-.1-2.3.6-3.3 2.4-1.8 2.3-1 3.4.9 4.5 1.8 2.8 2.6 1.8zM541.4 178.6l3.4.5 0-17.6-2.3.1-2.3 1.1-2.9 3-1.1 2.3 0 4.5 1.1 2.3 3.6 3.4zM379 136.9l5.7-.1 2.2-1.2 2.5-2.8 1.3-3.4.1-2.3-1.1-3.4-2.8-2.9-2.2-1.2-6.8.3-4.1 3.8-1 2.3-.2 3.4 1.3 3.4 2.8 2.9 1.4.5zM500.5 136.6l4.5.4 2.3-.5 2-1.4 3-3.4.1-6.8-2.5-3.4-2.6-1.8-6.8 0-2.3 1.4-2.9 3.8.2 6.8 2.9 3.4 1.7 1.1zM377.9 98.1l4.5.4 3.4-.6 4.1-3.6 1.1-2.3 0-4.5-1.3-3.4-1.6-1.8-3.4-2.1-5.7-.1-2.3 1.1-2.3 2.1-1.8 3-.1 4.6.5 2.2 4.3 4.6zM500.5 98.3l6.8 0 2.3-1.3 2.3-2.7 1.4-3.4.2-2.3-1-3.4-1.8-2.3-4.5-2.9-4.6 0-1.1.5-3.5 2.4-1.7 2.3-1 3.4.1 2.3 2.1 4.5 3.2 2.3zM377.9 60.3l4.5.1 2.3-1.2 1.1 0 3.4-2.8 2.3-3.1.7-4.4-.7-5.6-2.6-3.5-3.1-2.4-1.1 0-1.7-1-5.1-.1-1.2 1.1-2.3.1-4.6 4.6 0 1.1-1.1 1.2 0 7.9 1.1 1.1 0 1.2 4.6 4.5 2.3.2 1 .9zM376.9 54.6l-1.3-.3-.9-.9-1.2-3.4-1-1.1 0-1.1 1-1.2 1.2-3.4 3.2-2 5.6.1 3.2 3.1 0 1.1 1.1 1.1 0 3.4-1.1 1.2 0 1.1-3.2 3-5.6.1zM500.5 60.4l4.5-.1 1.2-1 1.7-.2 1.7-1 3.4-3.5 1.1-2.8.1-6.3-1.2-3.4-3.4-3.5-1.6-1-1.8-.2-1.2-1.1-5.4.1-1.4 1-1.1 0-1.1 1.2-1 .1-1.4 1.1-2.3 3.4 0 2.3-1 1.6-.1 1.8 1.1 2.3 0 2.2 2.3 3.4 3.5 2.4 1.1 0 1.6 1zM498.5 54.6l-2.3-2.3-.1-1.1-1-1.2 0-3.4 1-1.1.1-1.1 3.2-3.1 5.6-.1 2.8 2 1.5 2.3 0 5.7-2 2.5-2.3 1.7-5.6 0zM421 57.2l3.4.2 4.6-2.3 2.9-5.1 0-3.4-1.6-3.4-2.5-2.4-3.4-1.5-2.3-.1-3.4 1.1-4 4.1-.8 3.4.8 4.5 4 4.1 1.7.4zM458.5 57.1l3.4.3 3.4-1.1 4-4 1-3.4 0-2.3-1.1-3.4-3.9-3.8-3.4-1.1-2.3.1-4.5 1.9-2.6 2.9-1.2 3.4 0 2.3 1 3.4 3.9 4 1.9.5zM542.5 56.8l2.3.7 0-18.3-5.7 2.3-1.5 1.7-1.4 3.4 0 3.4 1.4 3.4 2.6 2.5zM342.6 56.4l2.7-1.8 2.3-3.4.3-4.6-.4-2.2-1.4-2.2-3.5-3-1.1-.2 0 17.6zM380.1 15l2.3.2 3.4-.9 1.1-.9 2.9-3.1 1.1-4.5-18.3 0 .2 2.3 1.6 3.1 3.5 3.2 2.1.5zM502.8 15.1l4.5-.6 2.3-1.3 2.9-4 .2-3.4-17.6 0 .2 3.4 1.2 2.3 1.7 1.7 4.1 1.7z"/><path fill="#60f4f4" stroke="#707070" stroke-width="0.35" stroke-opacity="0.18" d="M373.3 208.8l17.5 0-1.1-2.3-3.9-3.6-3.4-.6-5 .8-3 2.7-1.6 3zM496 208.8l16.5 0-.6-2.1-2.3-2.8-2.3-1.2-3.4-.5-3.4.5-2.3 1.2-1.5 1.5-1.5 3.4zM375.6 181.6l9.1 0 3.4-2.2 2.3-2.4.1-1.1 1.1-1.1.5-4.6-.5-4.5-1.2-1.1 0-1.2-2.3-2.3-3.4-2.2-8.3 0-5.4 3.4-.1 1.1-1.1 1.2 0 1.1-1.1 1.1.1 7.1 2.2 4.3zM378 177l-1.3-.2-3.1-3.2-.3-2.3-.9-1.1 1-1.1.2-2.3 3.1-3.1 1.2-.1 1.1-1 2.3 0 3.4 2.1 2.8 3.3.3 4.5-4.3 4.3-2.2 1.1-2.3 0zM498.2 181.7l8.8-.1 4.9-3.6.1-1 1.1-1.1 0-1.1 1.1-1.2 0-6.8-1.1-1.1 0-1.1-3-3.4-3.9-2.4-8 0-1.1 1.1-1.2.1-3.4 3.4-.1 1.2-1.1 1.1-.1 2.3-.9 1.1-.1 1.1 1.1 4.6 1.2 2.3 3.5 3.4 1.1.1 1 1zM499.6 177l-1.4-.3-2-1.9 0-1.2-1.1-1.1 0-4.5 4.3-4.3 1.1-.1 1.1-1 2.3 0 1.1 1.1 1.2 0 3.1 3.1 0 6.8-3.1 3.2-1.2 0-1.1 1.1-3.4 0zM342.5 178.2l4-3.4 1.1-2.3.1-4.5-1.6-3.8-2.3-2.2-2.3-1.1 0 17.7zM419.9 178.6l4.5.2 2.4-.6 3.8-3.4.9-2.3.2-3.4-1.2-3.4-2.7-2.7-2.3-1.2-5.6.1-2.5 1.5-2.5 3.4-.8 3.4.7 3.4 1.3 2.3 3.1 2.3zM457.3 178.6l6.9 0 3.7-2.7 2.1-4.5.1-2.3-1-3.4-3.1-3.4-3-1.6-4.5 0-2.3 1.1-3.8 3.9-.9 3.4.8 4.5 1.6 2.5 2.9 2.1zM541.4 178.3l3.4.5 0-17.1-2.3.1-2.3 1.1-2.7 2.8-1 2.3-.1 4.5 1.1 2.3 3.7 3.4zM379 136.6l5.7 0 3.4-2.3 1.6-2.6.9-3.4-1.2-4.6-2.5-2.7-2.2-1.1-4.6-.2-2.3.6-3.4 2.9-1.3 2.8-.2 3.4 1.3 3.4 2.5 2.7 1.7.7zM500.5 136.2l1.1.5 4.6 0 2.9-1.6 2.8-3.3.6-3.5-.3-3.4-1.6-2.3-3.3-2.7-6.8 0-2.3 1.6-2.6 3.4-.3 3.4.5 3.4 2.9 3.4zM377.9 97.8l4.5.5 3.2-.6 4.1-3.4 1-2.3-.1-5.7-2.5-3.8-3.4-2-4.6-.3-3.4 1.2-2.7 2.7-1.1 2.2-.1 5.7 1.1 2.3 3.8 3.4zM500.5 98.1l6.8 0 3.7-2.7 1.3-2.3 1-3.4-1-4.5-3.9-3.9-2.2-1.1-4.6 0-4.2 2.7-1.9 2.3-1 3.4.2 2.3 2.1 4.5 3.1 2.3zM377.9 60.3l4.5 0 1.1-.8 2.3-.3 3.4-3 2.3-3.2.5-4.1-.5-5.3-4.2-4.9-1.5-1.2-2.3-.4-.7-.7-5 0-1.1 1-2.3.3-4.6 4.4 0 1.1-1.1 1.2 0 7.9 1.1 1.1 0 1.2 4.6 4.3 2.3.3 1.1 1zM376.9 54.6l-1.3-.3-.9-.9-1.2-3.4-1.1-1.1 0-1.1 1.1-1.2 1.2-3.4.9-.8 1.1-.1 1.2-1.1 5.6 0 3.2 3.2 0 1.1 1.1 1.1 0 3.4-1.1 1.2 0 1.1-3.2 3-5.6.2zM500.5 60.3l4.5 0 1.2-1.1 1.5-.1 1.9-1 3.4-3.5 1.2-3.4 0-5.7-1.2-3.4-3.4-3.5-3.4-1.2-1.1-1-5.2 0-1.7 1.1-1.1 0-3.4 2.3-2.3 3.4-.1 2.3-1.1 2.3 1.1 3.4.1 2.3 2.3 3.3 3.4 2.4 1.1 0 1.8 1zM498.5 54.6l-2.3-2.3-.1-1.1-1-1.2 0-3.4.9-1 .2-1.2 3.2-3.2 5.6 0 2.9 2 1.4 2.3 0 5.7-1.6 2.2-2.7 2.1-5.6-.1zM421 56.9l3.4.2 3.1-1.4 1.6-1.1 2.6-4.6 0-3.4-1.6-3.2-1.1-1.5-4.6-2.4-2.3-.1-3.4 1.1-3.4 3.4-1.1 3.8.8 4.6 3.7 3.9 2.2.6zM459.6 57.2l2.3 0 3.4-1.1 1.7-1.5 2-2.3 1.2-4.5-1.3-4.6-1.3-1.6-2.3-1.9-4.5-1.2-3.5.8-3.4 2.3-1.6 2.8-.9 3.4 1.2 4.5.8 1.1 2.8 2.6 2.5.8zM543.7 57.1l1.1.2 0-17.9-3.4 1-2.3 1.4-2.7 4.8 0 3.4 1.6 3.4.8 1.2 4.3 2.2zM342.6 56.2l2.4-1.6 2.3-3.4.4-4.6-1.6-4.1-2.9-2.7-1.7-.5 0 17.1zM381.3 15l4.5-.9 2.3-2 1.5-1.8 1-4.5-17.8 0 .2 2.3 2.6 4.2 2.3 1.9 3 .7zM503.9 15l3.4-.8 2.3-1.2 2.7-3.8.2-3.4-17.2 0 .2 3.4 1.3 2.3 1.4 1.5 5 1.9z"/><path fill="#40f4f4" stroke="#707070" stroke-width="0.35" stroke-opacity="0.18" d="M373.3 208.8l17.3 0-1.1-2.3-2.6-2.5-2.2-1.2-2.3-.2-4.7.5-3.3 3-1.4 2.7zM496 208.8l16.2 0-1.3-3.4-1.3-1.2-2.3-1.3-3.4-.3-3.4.3-2.3 1.2-1.3 1.3-1.4 3.4zM376.7 181.6l8 0 1.1-1.1 1.1 0 2.4-2.3 2.2-3.4.4-4.6-.4-4.5-1.1-1.1 0-1.2-2.3-2.3-3.8-2.2-7.8 0-4.3 2.6-3.5 5.3 0 6.8 1 1.2.2 1.3 2.2 3.2 3.9 2.3zM378 177l-1.3-.2-3.2-3.2-.2-2.2-.9-1.2 1-1.1.1-2.3 3.2-3.2 1.2 0 1.1-1.1 2.3 0 1.1 1.1 1.1 0 4 4.4.3 4.5-4.3 4.3-2.2 1.2-2.3 0zM498.2 181.6l8.4 0 4.1-2.6 3.5-5.4-.1-6.8-1-1.1-.1-1.2-4.5-4.5-1.2-.2-1-.9-8.1 0-1.1 1.1-1.2 0-3.4 3.4 0 1.2-1.1 1-.1 2.4-1 2.2.9 2.3.2 2.4.9 1 .2 1.2 2.3 2.3zM499.6 177l-1.4-.2-2-2-.2-1.4-1-.9 0-4.5 4.4-4.4 1.1-.1 1.1-1 2.3 0 1.1 1.1 1.2 0 3.2 3.2 0 6.8-3.2 3.2-1.2.1-1.1 1-3.4 0zM342.1 178.2l1.7-.9 2.5-2.5 1.1-2.3.1-3.4-.2-2.3-1.2-2.3-2.3-2.2-2.3-1.1 0 17.2zM419.9 178.4l6.3-.2 4.1-3.4 1-2.3.2-3.4-1.2-3.4-2.2-2.3-2.6-1.3-5.6.1-3.4 2.4-1.4 2.2-.6 3.4.8 4 1.2 1.9 3 2.1zM457.3 178.3l6.9.1 3.4-2.5 1.4-2.3.9-4.5-1-3.4-3.2-3.4-2.7-1.4-4.5 0-2.3 1.1-3.6 3.7-.8 4.5.8 3.4 1.3 2.1 3.2 2.5zM542.5 178.4l2.3.2 0-16.7-2.3.2-2.3 1.1-2.5 2.5-1 2.3 0 4.5 1 2.3 4 3.4zM379 136.4l5.7-.1 3.4-2.3 1.4-2.3.9-3.4-1.2-4.3-2.3-2.8-2.2-1.1-6.4.2-4.1 3.4-1.1 3.4.2 2.9 2 3.9 1.4 1.4 2 .9zM501.6 136.5l4.6 0 2.2-1.1 3.5-4.1 0-6.5-1.7-2.2-2.9-2.4-6.8-.1-2.3 1.8-2.4 3-.2 4.5.5 2.3 2.9 3.4 2 1.1zM379 97.9l6.2-.2 3.2-2.3 2.1-3.4.1-4.5-1.4-3.2-1.1-1.5-4.6-2.4-4.5.2-2.3 1.1-2.3 2.1-1.3 2.5.2 6.3 1.1 2 3.8 3.1zM500.5 97.9l6.8-.1 3.3-2.4 1.5-2.3.9-3.3-.9-4.6-3.3-3.4-2.6-1.4-4.6 0-2.6 1.4-3.3 3.4-1 4.5 1 3.4 1.4 2.3 3.1 2.3zM377.9 60.3l4.5 0 1.1-.9 2.3-.3 3.4-3.1 2.3-3.3 0-8.7-2.3-3.4-3.4-3.1-2.3-.3-.9-.8-4.8 0-1.1 1.1-1.7.1-5.1 4.5-.1 1.1-1 1.3-.1 6.7 1.2 3.4 3.4 3.4 1.8 1.1 1.6.1 1.1 1zM376.9 54.6l-1.3-.3-.9-.9-.2-1.1-1-1.1 0-1.2-1.1-1.1 1.1-3.4 2.1-3.2 1.1-.1 1.2-1 5.6 0 3.2 3.2.2 1.3 1 .9 0 3.4-1 1-.2 1.3-3.2 3.1-5.6.1zM500.5 60.3l4.5-.1 1.2-1 1.1 0 2.3-1.2 3.4-3.9.3-1.8.9-1.1 0-5.7-1.2-3-3.4-3.8-2-1.1-1.4-.1-1.2-1.1-4.8 0-.8.7-2.3.4-3.1 2.3-2.6 3.4-.1 2.3-.9 2.3 1 5.6 2.3 3.1 3.3 2.6 2.4.4.9.7zM498.5 54.6l-2.3-2.3-.2-1.2-1-1.1 0-3.4 1-1.1.2-1.1 3.2-3.2 5.6 0 2.3 1.4 2.1 2.9 0 5.7-2.1 2.7-2.3 1.6-5.6 0zM422.1 57l4.6-1 2-1.4 1.7-2.3 1.1-3.4-.1-2.3-2.4-4.3-2.3-1.6-3.4-1.1-4.6 1.1-1.5 1.4-2 2.3-.6 3.4.7 4.7 3.4 3.4 2.9.9zM459.6 56.9l2.3.1 3.4-1.2 3.5-3.5 1.1-3.4-.1-2.3-1.1-3.1-2.3-2.8-2.2-1.2-3.4-.6-4.1.9-3 2.3-1.2 2.3-.8 3.4 1.1 4.3 3.4 3.7 3.1 1zM543.7 56.8l1.1.3 0-17.5-3.4 1.1-2.3 1.4-2.5 4.5 0 3.4 1.4 3 1.1 1.6 4.5 2.2zM342.6 56l2.3-1.8 2.3-3.4.3-4.2-1.4-3.7-3.2-3.1-1.4-.3 0 16.6zM377.9 14l4.5.6 3.4-.8 3.4-3.3 1.2-4.7-17.3 0 .2 2.3 1.1 2.6 3.2 3zM500.5 14l3.4.6 3.4-.6 2.3-1.3 2.5-3.5.1-3.4-16.6 0 .1 3.4 2.5 3.6 1.8.9z"/><path fill="#30e4ec" stroke="#707070" stroke-width="0.35" stroke-opacity="0.18" d="M373.3 208.8l17 0-1.1-2.3-2.3-2.3-2.1-1.1-2.4-.2-3.8.2-1.9 1.1-2.3 2.2zM496 208.8l16 0-.1-1.2-1.2-1.7-3.4-2.8-3.4-.2-3.4.2-2.3 1.6-2.3 3-.1 1.1zM376.7 181.6l8 0 3.4-2.3 2.2-2.3.1-1.1 1.1-1.1 0-9.1-3.4-4.5-4.4-2.3-7 0-1.1 1-1.2.1-3.4 3.2-1.1 1.4 0 1.1-1.1 1.1 0 6.9 1 1.1.1 1.1 2.5 3.4 4.2 2.3zM377.9 177l-1.2-.1-3.2-3.3-.2-2-.9-1.4.9-1.1.2-2.3 3.2-3.2 1.2 0 1.1-1.1 2.3 0 1.1 1 1.1.1 4.1 4.4.3 4.5-4.4 4.4-2.2 1.1-2.3 0zM498.2 181.6l8.1 0 2.1-1.1 3.5-3.2 2.1-3.7.1-5.9-1.1-2 0-1.1-4.5-4.6-1.2-.1-1.1-1-7.2 0-2.5 1.1-4 3.4 0 1.2-1.1 1.1-.6 4.5.6 4.6 1.1 1.1 0 1.1 3.5 3.4 1.1.1zM499.6 177l-1.4-.2-2-2-.1-1.2-1.1-1.1 0-4.5 4.4-4.4 1.1-.1 1.1-1 2.3 0 1.1 1.1 1.2 0 3.2 3.2 0 6.8-3.2 3.3-1.2 0-1.1 1.1-3.4 0zM341.6 178.2l1-.9 1.2-.2 2.3-2.3.1-1.2 1-1.1.1-3.4-.1-1.4-2.3-4.3-3.4-1.5 0 16.3zM419.9 178.2l5.8 0 2.1-1.1 2.3-2.3 1.2-3.4 0-2.3-1.3-3.4-1-1.2-3.4-2.2-5.1 0-2.1 1.1-3.1 3.4-.4 3.4.4 3.5 1.4 2.2 3.1 2.3zM458.5 178.2l5.4 0 3-2.3 1.8-2.2.7-3.5-.7-4.5-3.4-3.4-2.3-1.1-4.5 0-2.3 1.1-3.4 3.6-.4 3.2.4 4.6 3.2 3.3 1.9 1.2zM542.5 178.2l2.3.1 0-16.1-2.3.1-2.3 1.1-2.2 2.3-1.2 3.1 0 3.2 1.1 2.8 2.3 2.3 2.2 1.1zM380.1 136.3l4.6-.4 2.9-2 1.7-2.2.6-3.4-.6-3.4-1.2-2.3-3.4-2.3-5.9 0-2.1 1.1-2.3 2.3-1.1 3.4 0 2.3 2.3 4.6 3.5 2.2zM501.6 136.2l4.6 0 2.3-1.1 2.3-2.3 1.1-2.1 0-5-2.1-3.1-2.9-2.3-6.2 0-3.6 3.2-1.1 2.1-.1 4.9 1.1 2.3 2.3 2.3zM379 97.7l5.7 0 1.1-1 1.2-.2 2.2-2.2 1.1-2.9.1-3.9-1.2-2.5-1.5-2.1-4.2-2.3-3.4 0-2.7 1.2-3 2.4-.1 1-1 1.1 0 5.8 2.2 3.3 3.4 2.3zM501.6 97.7l5.3 0 5-4.5.5-3.5-.5-4.4-3.4-3.5-2.3-1.1-4.6 0-2.3 1.1-3.4 3.4-.6 4.5.6 3.4 4.8 4.6zM379 60.2l3.4 0 1.1-.9 2.3-.2 4.6-4.5.2-1.2.9-1 0-8.1-1.1-2.2-4.6-4.5-2.3-.2-1.1-1-3.7 0-5.4 2.3-3.3 3.4-1.2 3.2 0 6 1.3 3.3 3.2 3.4 5.5 2.2zM376.8 54.6l-1.2-.2-1-1-1.2-3.4-1-1.1 0-1.1 1-1.2 1.2-3.4 3.3-2.1 5.6.1 3.3 3.2 0 1.1 1.1 1.1 0 3.4-1.1 1.2 0 1.1-3.3 3.1-5.6.1zM500.5 60.2l3.5 0 5.6-2.2 2.3-2.3 2.2-4.5 0-5.7-2.2-4.5-2.3-2.3-5.5-2.3-3.6 0-1.1.9-2.3.3-2.6 2.2-3.1 4.2-.6 3.8.6 4.9 1.1 1.9 4.6 4.5 2.3.2zM498.4 54.6l-2.3-2.3-.1-1.1-1-1.2 0-3.4 1-1.1.1-1.1 3.3-3.2 5.6-.1 2.3 1.4 2.1 3 0 5.7-2.1 2.8-2.3 1.5-5.6 0zM342.6 55.7l3.5-3.3 1.1-2.3.1-3.5-1.2-3.4-3.5-3.4-1.1-.1 0 16.1zM418.7 55.7l4.6 1.1 3.4-1 3.5-3.5 1-2.3 0-3.4-1.1-2.4-3.4-3.3-3.5-1.1-4.5 1.2-3.4 3.9-.4 2.9.4 3.9zM457.3 55.8l3.5 1 3.9-1.1 2.9-2.2 1.1-2 .7-3.7-.6-3.4-1.2-2.3-3.3-2.3-3.5-.4-3.6.4-3.3 2.3-1.1 2.2-.5 3.5.4 3.4 1.2 2.3 3.1 2.2zM541.4 55.8l3.4 1 0-17-3.4 1.1-1.6 1.2-3 4.5 0 3.5 2.3 3.8 2.2 1.8zM377.9 13.8l4.5.4 2.7-.5 1.8-1 2.3-2.9.6-4-16.5 0 1.1 4.6 3.4 3.3zM500.5 13.8l3.4.4 3.4-.4 2.3-1.7 2.2-2.9.2-3.4-16.2 0 .2 3.4 2.2 3 2.2 1.5z"/><path fill="#20dce8" stroke="#707070" stroke-width="0.35" stroke-opacity="0.18" d="M374.4 208.8l14.6 0-2.1-3.2-2.2-1.4-2.3-.6-2.3.1-2.2.9-2.2 1.9zM497.1 208.8l14.1 0-1.6-2.7-1.2-1-2.2-1.2-2.3-.3-2.3.3-2.7 1.5-2.3 3.4zM375.6 180.5l3.4 1 5.7-.8 3.4-2.3 2.6-3.6.8-5.7-.9-3.4-2.4-3.4-3.3-2.3-3.6-.9-2.3 0-3.3.9-3.5 2.5-2.3 3.6-.8 3 .4 4.5 2.7 4.5 3.3 2.3zM377.9 177l-1.2-.1-3.2-3.3-.2-1.8-1-1.6 1-1.3.2-2.1 3.2-3.2 1.2-.1 1.1-1 2.3 0 3.4 2.1 3 3.4.2 4.5-1.9 2.3-3.6 2.8-3.4.4zM498.2 180.8l3.4.7 4.6-.6 4.3-2.7 2.3-3.4.9-4.6-1-4.5-2.3-3.4-4.2-2.7-4.6-.5-3.7.9-3.1 2-2.6 3.7-.9 4.5.8 4.6 2.3 3.4 3.2 2.2zM499.5 177l-1.3-.1-2.1-2.1 0-1.2-1.1-1.1 0-4.5 1.7-2.3 2.7-2.1 1.1-.1 1.1-1 2.3 0 1.1 1.1 1.2 0 3.2 3.2 0 6.8-3.2 3.3-1.2.1-1.1 1-3.4 0zM419.9 177.4l2.2.6 3.4-.4 2.7-1.7 1.7-2.3.8-3.4-.5-2.2-1.2-2.4-2.3-2-2.3-.9-3.4.1-2.3 1-2.7 3-.7 2.7.2 3 1.2 2.3 2.6 2.2zM458.5 177.2l2.3.4 3.4-.8 2.5-2 1.7-3.4.1-2.3-.9-2.9-2.5-2.8-2.1-1-3.4-.2-2.3.7-2.2 1.8-1.4 2.1-.6 2.3.4 3.4 2.5 3.4 2.1 1.1zM542.5 177.6l2.3.4 0-15.4-2.3.4-2.3 1.3-2 2.5-.8 2.3 0 2.3.7 2.2 1.7 2.3 1.6 1.1zM342.6 176.4l1.9-1.6 1.4-2.3.4-3.4-1.1-3.4-1.4-1.6-2.3-1.4 0 14.3zM379 135.3l2.3.6 2.2-.2 2.3-1 2.8-3 .7-3.4-.6-3.4-1.8-2.4-2.2-1.5-2.3-.5-3.4.4-2.3 1.4-2 2.6-.7 3.4.4 2.2 1.2 2.3 2.9 2.3zM501.6 135.5l2.3.4 3.4-.9 2.3-1.7 1.6-2.8.4-3.4-1.4-3.4-4-2.9-3.4-.3-2.7 1-2.5 2.2-1.1 2.3 0 4.5 1.7 2.9 2.4 1.7zM379 96.5l2.3.5 3.4-.5 3-2.2 1.3-2.3.4-3.4-.6-2.3-1.9-2.7-2.2-1.4-3.4-.6-2.3.5-2.9 2-1.7 2.7-.4 1.8.4 3.3 2.3 3.3zM501.6 96.7l2.3.4 3.4-.9 2.5-1.9 1.3-2.3.5-3.4-.6-2.3-1.4-2.1-2.3-1.8-3.4-.8-3.4.8-2.3 1.7-1.4 2.2-.6 2.3.4 3.4 1.6 2.6 3 1.9zM377.9 59.3l3.4.3 4.5-1.4 3.9-3.6 1.5-3.4.2-4.6-1.7-4.5-2.8-2.9-4.5-2-3.4-.1-4.6 1.6-3.4 3.2-1.6 3.6 0 5.7 1.6 3.5 2.3 2.5 3.9 1.9zM376.8 54.6l-1.2-.2-1-1-1.2-3.4-1.1-1.1 0-1.1 1.1-1.2 1.2-3.4 1-.9 1.1-.1 1.2-1.1 5.6 0 3.3 3.3.1 1.2 1 1 0 3.4-1.1 1.2 0 1.1-3.3 3.2-5.6.1zM499.4 59.1l4.5.4 4.3-1.5 2.8-2.3 2.4-4.5.2-4.6-1.7-4.4-3.5-3.4-4.5-1.7-3.4.1-2.3.7-3.1 1.9-2.6 3.2-1.1 3.3 0 4 1.7 4.3 2.9 2.9 3.3 1.6zM498.4 54.6l-2.3-2.3-1.1-2.3 0-3.4 1.1-2.2 3.3-3.3 5.6 0 3.1 2.1 1.3 2.3 0 5.7-1.4 2.2-3 2.2-5.6-.1zM421 55.7l2.3.3 3.4-.9 2.3-2 1.1-2.1.5-3.2-1.1-3.4-1.7-2-2.3-1.3-2.2-.5-3.4.6-2.7 2-1.5 2.3-.4 2 .4 3.7 1.9 2.7 3.3 1.8zM543.7 55.8l1.1.2 0-15.4-4.6 1.7-2.7 4.3-.1 2.3 1.1 3.4 2.1 2.3 2.5 1.1zM342.4 54.6l3.2-3.4.8-3.4-.4-2.3-1.2-2.3-3.3-2.5 0 14.3zM457.3 54.8l3.5.8 3.4-.8 1.9-1.4 1.7-2.2.7-3.4-.4-2.3-1.1-2.3-2.8-2.3-3.4-.8-2.3.4-2.3 1.1-2.3 2.7-.7 2.3.2 3.4 1.1 2.3 2.5 2.3zM381.3 13.8l3.4-.5 2.6-1.8 1.9-3.4.1-2.3-15.3 0 .6 3.4 1.5 2.3 2.9 1.9 1.7.3zM502.8 13.8l3.4-.3 3.2-2 2-3.4.2-2.3-15.4 0 .2 2.3 1.8 3.3 2.3 1.7 2.3.6z"/><path fill="#18d4e4" stroke="#707070" stroke-width="0.35" stroke-opacity="0.18" d="M376.7 208.8l11.2 0-2.1-2.7-3.4-1.4-2.3.2-2.2 1.1-2.3 2.8zM498.2 208.8l11.8 0-2.7-3.2-3.4-1-3.4 1-2.7 3.2zM377.9 180.5l3.4.2 4.4-1.4 2.4-2 2.2-3.7.4-4.5-1.6-4.5-3.3-3.3-3.4-1.3-4 0-4 1.6-2.1 1.8-2.3 4.6 0 4.5 1.4 3.4 3 3.1 3.3 1.4zM377.9 177l-1.2-.1-3.3-3.3-.1-1.6-1-1.8 1-1.5.1-1.9 3.3-3.3 1.2 0 1.1-1.1 2.3 0 1.1 1.1 1.1 0 4.3 4.5.1 4.5-2.1 2.7-3.4 2.5-3.4.4zM500.5 180.6l3.4.1 3.9-1.4 2.9-2.5 2.1-4.3 0-4.5-.9-2.3-2.6-3.4-3.1-1.9-3.4-.6-4.6.9-3.6 2.7-2.1 3.5-.6 3.3 1 4.6 2.7 3.4 4.3 2.2zM499.5 177l-1.3-.1-2.1-2.1-.1-1.3-1.1-1 0-4.5 1.7-2.3 2.8-2.2 1-.1 1.2-1 2.3 0 1.1 1.1 1.2 0 3.3 3.3 0 6.8-3.3 3.3-1.2.1-1.1 1.1-3.4-.1zM421 177.1l2.3.3 3.4-1.1 1.7-1.5 1.3-2.3 0-4.5-1.4-2.3-2.8-2-3.4-.5-2.2.7-2.3 1.8-1.4 2.3-.4 3.4.8 2.2 2.1 2.4 2.1 1zM543.7 177.3l1.1.1 0-14.2-2.3.5-2.3 1.4-1.3 1.7-.8 2.3.2 3.4.8 1.6 2.3 2.3 1.6.6zM458.5 176l2.3.5 3.4-1 2.6-3 .5-1.1-.1-3.4-1.3-2.3-1.7-1.6-3.4-.9-2.3.4-2.9 2.1-1.2 2.3-.1 3.4.5 1.1 1.4 2.1 2.2 1.3zM342.6 175l2.1-2.5.5-3.4-1.4-3.3-2.3-1.9 0 11.9zM381.3 135.2l3.4-.5 1.1-.8 2.1-2.2 1-3.4-.4-2.3-1.2-2.3-2.6-2-2.3-.7-2.3.2-2.8 1.4-1.9 2.3-.7 2.2 0 2.3.9 2.3 2.3 2.4 2.6 1zM502.8 135.1l2.4 0 2.1-.7 2.3-2 1.3-3 0-2.3-1.5-3.4-2.1-1.8-2.3-.8-2.2 0-3.3 1.5-1.2 1.1-1.5 3.4.1 2.3 1.3 3 2.3 2 2.1.7zM380.1 95.7l2.3.2 2.3-.7 1.4-.9 1.7-2.3.5-3.4-.7-2.3-2.9-2.9-2.3-.6-3.4.5-3.2 3-.7 2.3.6 3.4 1.7 2.3 1.9 1.1zM501.6 95.5l2.3.5 3.4-1 2-1.9 1.1-2.2.1-2.3-.9-2.5-3.4-3-4.6 0-2.9 2.1-1.2 2.3.3 4.5 1.7 2.3 1.9 1.1zM376.7 58.2l3.4.7 4.6-1 3.4-2.5 2-3.1.7-3.4-.7-4.5-2-3.1-3.4-2.5-3.4-1-4.6.7-3.4 2-2.3 2.9-1.1 3.2.2 4.6 2.8 4.5 3.4 2.3zM376.8 54.6l-1.2-.2-1-1-1.3-3.4-1-1.1 0-1.1 1-1.1.6-2.3 1.7-2.2 1.1-.1 1.2-1 5.6 0 3.3 3.3.1 1.2 1.1 1 0 3.4-1.1 1.1-.1 1.2-3.3 3.2-5.6.1zM499.4 58.3l3.4.6 4.5-1.2 3.6-3.1 1.7-3.4.3-4.6-1.2-3.4-3.1-3.4-3.6-1.7-3.4-.3-4.5 1.5-2.3 1.8-2.3 3.9-.5 3.9.7 3.4 2.1 3.2 3.6 2.5zM498.4 54.6l-2.3-2.3-1.2-2.3 0-3.4 1.2-2.2 3.3-3.3 5.6 0 1.2 1.1 1.1.2 2.2 3.1 0 5.7-2.2 3-2.3 1.4-5.6 0zM419.9 54.7l3.4.8 2.2-.6 2.3-1.5 1.7-2.2.5-2.3-.5-3.4-1.7-2.3-2.3-1.5-2.2-.5-2.3.2-3 1.8-1.6 2.3-.6 2.3.2 2.2 1 2.3 2.6 2.3zM542.5 55l2.3.5 0-14.3-2.3.5-2.3 1.5-2 3.4.3 4.6 1.7 2.3 1.6 1.1zM342.1 53.4l2.3-2.2.8-3.4-1-3.4-2.7-2.5 0 11.9zM458.5 54.1l2.3.4 2.2-.4 2.3-1.4 1.8-2.7-.1-4.5-2.8-3.3-2.3-.9-2.3 0-2.3.9-2.1 2.2-1 2.2 0 2.3.9 2.3 2.3 2.2zM379 12.7l3.4.6 3.4-1.3 2.3-2.7.8-3.5-14.3 0 .2 2.3.8 1.6 1.4 1.8 1.8 1.1zM501.6 12.9l3.4.3 3.6-1.7 1.7-2.3.7-3.4-14.2 0 .6 3.4 1.8 2.3 1.8 1.1z"/><path fill="#10b0e8" stroke="#707070" stroke-width="0.35" stroke-opacity="0.18" d="M376.7 208.8l10.3 0-2.3-2.6-2.3-.7-3.4.5-2.7 2.8zM499.4 208.8l9.8 0-1.9-2.3-3.4-1.1-2.3.4-3.1 3zM376.7 179.6l2.3.6 4.5-.4 2.9-1.6 2.2-2.3 1.2-2.3.4-3.4-.5-3.4-2.2-3.4-2.8-2-3.4-1.1-3.4.3-3.4 1.7-3.1 3.4-1.1 3.4.2 3.4 2.5 4.5 3.2 2.3zM377.6 177l-.9 0-3.3-3.4-1.1-3.4 1-1.8.1-1.6 3.3-3.3 1.2 0 1.1-1.1 2.3 0 1.2 1 1 .1 4.4 4.5.1 4.5-3.3 4-1.5.5-.8.9-3.4.2-1.1-.8zM499.4 179.8l4.5.4 3.4-1.2 3.3-3.1 1.6-3.4.2-3.4-1-3.4-3.1-3.4-3.3-1.7-3.4-.3-3.4 1-3.4 2.6-1.7 2.9-.5 3.4.4 3.4 1.8 3 3.6 2.7zM499.4 177l-1.2-.1-2.2-2.1 0-1.2-1.1-1.1 0-4.5 3.3-3.9 3.4-1.7 2.3 0 1.1 1.1 1.2 0 3.3 3.3.6 3.4-.6 3.4-3.3 3.4-1.2 0-1.1 1.1-3.4 0zM419.9 176.3l2.2.6 3.4-.4 3.2-2.9.9-2.2 0-2.3-1-2.3-1.9-2-3.4-1.2-2.3.3-2.3 1.2-1.5 1.7-1 3.4.4 2.3 2.7 3.4zM542.5 176.5l2.3.4 0-13.3-2.3.5-2.2 1.6-1.9 3.4.3 3.4 2.8 3.4zM341.8 174.8l2.1-2.3.7-2.3-.9-3.4-2.2-2.1 0 10.3zM458.5 175.3l4.5.1 3.1-2.9.6-2.3-.3-2.2-1.1-2-2.3-1.7-3.4-.3-2.3 1-1.6 1.8-.8 2.3.2 2.3 1.1 2.1 1.5 1.3zM379 134.3l4.5.3 2.3-1.1 1.6-1.8.9-2.3-.2-3.1-1.4-2.6-2-1.6-3.4-.6-2.3.5-3.1 2.9-.8 2.2 0 2.3.9 2.3 2.5 2.2zM501.6 134.5l4.6 0 2.2-1.5 1.8-2.5.1-4.5-1.4-2.3-2.7-1.8-4.6-.1-2.7 1.9-1.4 2.3-.3 2.3.4 2.2 1.5 2.3 1.6 1.1zM379 94.6l2.3.6 2.2-.2 2.8-1.9 1.2-2.2.1-2.3-.8-2.3-2.1-2.1-2.3-.8-2.3.2-2.6 1.6-.8 1.1-.9 2.3.2 2.3 2.5 3.4zM501.6 94.9l4.6-.1 3-2.8.6-2.3-.3-2.2-2.2-3-2.3-1-2.2 0-2.3 1-1.7 1.8-.8 2.3.2 2.3 2.5 3.4zM379 58.2l4.5-.5 2.3-1.1 3.1-3.2 1.2-3.4 0-3.4-1.2-3.4-4.2-3.9-3.4-.9-4.6.6-2.3 1.3-2.7 2.9-1.3 3.4 0 3.4 2.1 4.6 1.9 1.8 4 1.6zM376.7 54.6l-1.1-.1-1.1-1.1-1.2-3.4-1-1.1 1.4-4.5 1.9-2.2 1-.1 1.3-1.1 5.6.1 3.4 3.3 0 1.1 1.1 1.1 0 3.4-1.1 1.2 0 1.1-3.4 3.3-5.6 0zM501.6 58.3l4.6-.7 3.4-2.3 2-3 .9-3.4-.1-2.3-2.1-4.5-4.1-3.1-3.4-.7-4.6.9-2.2 1.7-2.1 2.3-1.2 3.4.2 4.6 1 2.2 3.2 3.3 3.4 1.3zM498.3 54.6l-2.3-2.3-1.1-2.3 0-3.4 1.1-2.2 3.4-3.3 5.6-.1 1.1 1.1 1.2.2 2.2 3.2.5 2.3-.5 3.4-1.3 2.2-3.2 2.2-5.6 0zM421 54.7l2.3.4 3.4-1.2 1.6-1.6 1.1-2.3 0-3.4-1.1-2.2-1.6-1.6-2.3-1-2.3-.2-2.2.8-3.1 3.1-.5 2.3.5 3.4 1.9 2.3 2 1.1zM543.7 54.9l1.1.2 0-13.5-3.4 1.1-1.2 1-1.8 4.1.2 2.2 1.1 2.3 3.2 2.3zM459.6 53.7l2.3 0 2.3-1 2.1-2.7.4-2.2-.5-2.3-2-2.5-1.2-.6-2.2-.5-2.3.5-1.3.8-1.8 2.3-.5 2.3.4 2.2 2 2.7 1.8.7zM342.4 52.3l1.8-2.3.3-3.4-1.1-2.2-1.9-1.7 0 10.3zM381.3 12.9l2.2-.3 2.2-1.1 2-2.3.7-3.4-13.4 0 .3 2.3 1.2 2.2 1.2 1.2 2.4 1.1zM502.8 12.7l3.4-.3 2.2-1.3 1.9-3 .2-2.3-13.3 0 .2 2.3 1.2 2.2 1.9 1.7 1.9.6z"/><path fill="#1a88e8" stroke="#707070" stroke-width="0.35" stroke-opacity="0.18" d="M377.9 208.8l8.7 0-1.9-2.1-2.3-.8-3.4.7-2.2 2.2zM499.4 208.8l9.3 0-2.3-2.3-2.5-.7-2.5.7-2.3 2.3zM377.9 179.6l4.5.1 3.2-1.5 2.5-2.4 1.5-3.3 0-4.5-1.5-3.2-3.4-3-2.3-.9-3.4-.1-3.9 1.5-3.2 3.4-.9 2.4-.2 3.3 1 3.4 3.2 3.4 2.3 1.1zM377.3 177l-.6 0-3.3-3.4-1.2-3.4 1.1-2 .1-1.4 3.3-3.3 1.2-.1 1.1-1 2.3-.1 5.1 3.4 1.5 2.3.1 4.5-3.3 4.2-1.3.3-1 1-3.4.1-1.1-.5zM499.4 179.3l4.5.5 3.4-1.2 2.9-2.7 1.7-4.1 0-3-1.2-3.3-3.4-3.5-2.3-.9-3.4-.4-3.4 1.1-2.4 1.6-2.3 3.4-.4 2.3.4 4.5 2.5 3.7 3.3 2zM499.4 177l-1.2 0-2.2-2.2 0-1.2-1.1-1.1 0-4.5 1.1-1.1.2-1.2 2-1.9 3.4-1.5 2.3.1 1.1 1.1 1.2 0 3.3 3.3.1 2 .7 1.4-.8 3.4-3.3 3.4-2.3 1.1-3.4 0zM421 176.4l2.3.2 3.4-1.2 1.6-1.8.9-2.2 0-2.3-1-2.3-1.5-1.6-2.3-1.1-2.3-.1-2.2.7-1.2.8-1.7 2.5-.4 2.2.4 2.3 1.4 2.3 1.7 1.1zM542.5 176.1l2.3.5 0-12.6-2.3.5-2.3 1.7-1.4 2.9 0 2.3.9 2.2 2.5 2.3zM459.6 175.2l2.3 0 2.3-1.1 1.8-2.7.3-2.3-.4-1.1-.6-1.2-2.3-2-2.2-.4-2.3.5-1.2.7-1.6 2.4-.2 3.4 1.4 2.2 1.7 1.2zM342.5 173.6l1.3-2.1.2-2.4-.8-2.3-1.7-1.6 0 9.2zM380.1 134.3l2.3.2 2.3-.7 2.3-2.1.9-2.3 0-2.3-.7-2.2-1.4-1.6-2.3-1.2-4.5.3-1.8 1.3-1.4 2.3-.3 3.4.9 2.3 2.9 2.2zM501.6 134.1l2.3.4 2.3-.4 1.9-1.3 1.7-2.3.4-2.2-.3-2.3-1.5-2.3-2.2-1.5-4.6 0-2.2 1.5-1.5 2.3-.3 2.3.6 2.7 3.2 2.9zM380.1 94.5l2.3.3 2.3-.9 2.2-3 .2-2.3-.9-2.3-2.7-2.1-2.2-.3-2.3.7-2.4 2.9-.3 2.2.6 2.3 2.6 2.3zM502.8 94.7l2.2 0 2.3-1.2 1.3-1.5.8-2.3-1-3.4-1.1-1.2-2.3-1.1-2.2 0-2.3 1.1-2.1 3.5.7 3.4 2.5 2.3zM376.7 57.2l4.6.5 3.4-.9 2.8-2.2 2-3.4 0-5.7-2-3.4-2.9-2.3-4.5-.9-3.4.5-3.4 2.4-1.7 2.6-.9 3.4.9 4.5 1.5 2.3 3 2.2zM376.3 54.6l-.7-.1-2-2.2-.3-1.8-1.1-1.6 1.4-4.5 2-2.2 2.3-1.2 5.6 0 3.4 3.4 0 .8 1.1 1.4 0 3.4-1.1 1.4 0 .9-3.4 3.3-5.6.1-1.2-.7zM498.2 56.9l3.4.8 4.6-.5 3.4-2.5 1.6-2.4.8-3.4-.8-4.5-1.6-2.4-3.4-2.5-3.4-.6-4.7.9-2.8 2.3-2 3.4 0 5.7 2 3.4 2.9 2.2zM498.3 54.6l-3.1-3.4 0-5.7 4.2-4.5 5.6 0 1.2 1.1 1.1.1 1.7 2.2 1.3 3.4-1.3 4.5-1.7 2.1-1.1.2-1.2 1.1-5.6 0zM422.1 54.6l2.3-.1 2.3-1.1 1.8-2.2.8-2.3-.3-2.4-1.2-2.1-2.3-1.8-2.2-.6-2.3.3-2.3 1.3-1.5 1.9-.6 2.3 1 3.9 2.3 2.2zM544.8 54.7l0-12.7-2.3.6-2.3 1.7-1.5 3.5.3 2.2 1.2 2.4 2.3 1.7 1.9.5zM341.7 52.3l2-2.3.4-2.2-.5-2.3-2.1-2.2 0 9.2zM458.5 52.8l3.4.5 2.3-1.2 1.6-2.1.4-3.4-1.2-2.2-1.4-1.2-2.8-.9-1.2.2-2.3 1.2-1.1 1.3-.9 3.9 2.4 3.4zM379 11.9l3.4.6 2.8-1 2.1-2.3.7-3.4-12.6 0 .8 3.4 2.1 2.3zM500.5 11.5l3.4 1 3.4-1 1.4-1.2 1.3-2.2.2-2.3-12.6 0 .7 3.4z"/><path fill="#1060e8" stroke="#707070" stroke-width="0.35" stroke-opacity="0.18" d="M377.9 208.8l8.2 0-1.4-1.9-3.4-.7-2.3.7-1.9 1.9zM500.5 208.8l7.8 0-2.1-2-2.3-.6-2.3.6-2.1 2zM379 179.4l3.1-.1 2.8-1.1 3.2-3.1 1.3-3.7-.2-3.4-1.1-2.5-3.4-3.3-3.4-1.1-2.1.1-4.8 2.1-2.2 2.9-.9 4 .9 4.2.9 1.5 2.4 2.3 3 1.1zM376.9 177l-1.3-.7-2.3-2.7-1-2.2 0-2.3 1-1.3 0-1 3.4-3.4 2.3-1.1 3.4.2.9.9 1.4.3 2 2 .2 1.2 1.1 1.1.1 4.5-1.2 1.1-.1 1.2-2.1 2.1-1.2.1-1.1 1.1-4.5-.1zM501.6 179.4l2.3 0 3.2-1.2 2.5-2.1 1.3-2.5.4-3.4-.4-3.4-2.3-3.4-5.8-2.3-4.8 1.2-3.2 3.1-1.2 2.6-.1 4.5 1.3 2.7 3.1 3 2.6 1.1zM499.4 177l-1.2 0-2.2-2.2-1.2-2.3 0-4.5 1.2-1.3 0-1 2.2-2.1 1.3-.2 1-1 3.4-.1 2.3 1.1 3.4 3.4.9 4.6-.9.9 0 1.3-4.6 4.3-4.5.3zM421 176l2.3.2 2.2-.5 1.4-.9 1.6-2.3.4-2.3-.4-2.2-1.7-2.3-1.3-.8-2.2-.6-3.4.7-1.9 1.8-1.1 2.3 0 2.3 1 2.2 2.9 2.3zM543.7 176.1l1.1.1 0-11.9-3.6 1.4-1.7 2.3-.4 1.7 1.1 4.1 2.8 2.1zM460.8 174.9l3.4-1.3 1.8-3.4-1-3.4-2-1.8-4.5.3-1.9 1.5-1 2.3-.1 1.1 1 2.3 2 1.9 1.6.4zM341.9 173.6l1.6-2.2.1-2.3-.9-2.3-1.2-1.1 0 8.3zM380.1 134l4.6-.5 1.9-1.8 1-2.3.1-2.3-.9-2.2-1-1.2-2.3-1.3-4.5.4-3 3.2-.3 2.3 1.1 3.4 2.2 1.9 1.1.3zM502.8 134.1l3.4-.4 2.5-2 .9-1.8-.1-3.9-1.7-2.3-1.6-1.1-4.6 0-2.2 1.7-1.2 1.8-.3 2.2.5 2.2 2.1 2.6 1.9.8zM381.3 94.4l3.4-1 1.9-2.5-.1-3.4-3-3-3.4-.1-2.2 1.7-.9 1.4-.3 2.2.5 2.3 1.8 1.8 1.9.5zM503.9 94.4l2.3-.5 1-.8 1.9-3.4-1-3.4-3.1-1.9-2.2 0-2.3 1.1-1.8 3.1.9 3.4 2 1.9 1.4.4zM377.9 57l5.6-.1 2.3-1.2 1.3-1.1 2.1-4.1.1-3.9-1.2-3-2.3-2.7-2-1.1-7 0-2.4 1.8-2.4 2.8-.6 3.4.6 4.5 1.9 2.3 3 2.2zM380.1 55.7l-3.4-.2-3.3-3.2-.1-1.4-.9-.9-.2-1.1.2-2.3.9-.9.1-1.3 3.3-3.2 6.8-.2 4.3 4.5.3 4.5-.3 1.2-4.3 4.5zM499.4 57l6.4-.2 1.9-1.1 3.1-3.4.4-3.4-.4-4.5-1.9-2.3-3.1-2.3-6.8 0-3.2 2.3-2.1 3.4-.2 4.5 1.3 3.5 2.3 2.3 2 1zM498.2 54.6l-3.3-3.4 0-5.7 4.5-4.5 5.6 0 2.3 1.1 2.1 2.3.2 1.8 1 1.6-1.2 4.5-2.1 2.2-2.3 1.2-5.6 0zM419.9 53.5l2.2.8 2.3-.1 3.1-1.9 1.2-2.3.2-2.2-.2-1.2-2-3-2.3-1.1-3.4.1-1.3.6-2.1 2.3-.7 3.4.7 2.3 2.2 2.2zM542.5 53.7l2.3.6 0-11.9-3.4 1.1-2.1 3.1 0 3.4 1.2 2.3 1.6 1.1zM458.5 52.3l1.1.7 2.3 0 2.3-1.4 1.8-2.7 0-2.3-1.8-2.5-1.5-.9-1.9-.6-1.2.3-2.3 1.3-1.1 1.6-.6 3.1 1.4 2.3zM342.5 51.2l.9-1.2.1-3.4-.2-1.1-1.8-1.9 0 8.4zM379 11.5l1.1.6 2.3.1 2.3-.8 2.2-2.2.8-3.4-12 0 1 3.6 2.2 2.1zM501.6 11.7l2.3.5 3.4-1 1.9-2 .6-3.4-11.8 0 .6 3.4 2.6 2.3z"/><path fill="#0000e6" d="M377.9 208.8l7.7 0-.9-1.6-3.4-.5-2.3.5-1.6 1.6zM500.5 208.8l7.4 0-1.7-1.7-2.3-.4-2.3.4-1.7 1.7zM419.9 175.2l2.2.6 2.3-.2 2-.8 1.4-1.5.7-3.1-.3-2.2-1.9-2.3-1.9-.8-2.3-.1-2.2.5-1.6 1.5-1.1 2.3 0 2.3 2.1 3.4zM542.5 175.3l2.3.5 0-11-3.1.9-1.9 2.3 0 4.5 1.9 2.3zM458.5 174.1l4.5 0 1.7-1.6 1-3.4-1.1-2.3-1.6-1.5-3.4-.1-2.7 1.6-1.1 3.4 1 2.3 1.1 1.1zM342.4 172.5l.7-1.1 0-3.4-1.6-1.8 0 7.3zM379 133.3l4.5.2 1.2-.3 1.6-1.5 1.1-2.3 0-2.3-1-2.2-1.7-1.7-3.4-.6-1.2.3-1.9.8-1.5 1.6-.5 4.1 1 2.3 1.1 1.1zM501.6 133.4l4.6-.1 2.8-2.8.4-2.2-.3-2.3-2.9-3-2.3-.4-2.3.4-2.9 3-.3 2.3.4 2.2 1.9 2.3zM379 93.5l4.5.2 2.3-2 .5-.8-.1-3.4-2-2.3-4.1-.5-2.8 2.8.1 4.5 1.1 1.1zM501.6 93.6l4.6 0 1.6-1.6 1.1-2.3-1.6-3.9-2.3-1.1-2.2 0-2.8 1.6-1.1 3.4 1 2.3 1.1 1.1zM421 53.8l3.4.1 2.8-1.6 1.1-2.3.2-2.2-1.8-3.9-2.3-1.1-2.3-.1-1.9.5-1.5 1.4-1.5 3.2 0 1.1 1.5 3.2 1.6 1.3zM543.7 53.9l1.1.1 0-11.3-3.4 1.2-1.7 2.7 0 3.4 1.2 2.3 1.8 1.1zM459.6 52.7l3-.4 1.6-1.2 1.5-2.2 0-2.3-1.5-2-3.4-1.8-3.5 1.9-1.5 3.1.4 1.7 2.7 2.8zM342.1 51.2l1-1.2.1-3.4-.1-1.1-1.6-1.6 0 7.8zM380.1 11.9l2.3 0 3.4-1.8 1.6-3.2 0-1.1-11.3 0 .6 3.1 2.7 2.6zM502.8 11.9l2.2 0 2.9-1.6 1-1.1.5-3.4-11 0 .5 3.4 3 2.3z"/><path fill="none" stroke="#303030" stroke-width="0.5" stroke-opacity="0.7" d="M369.8 208.8l1.2-3.5 2.3-2.5 2.3-2 3.4-1.2 6.8.1 1.1 1 1.2.1 4.5 4.6.4 2.3.8 1.1zM492.4 208.8l.1-2.3 1.1-1.1.1-1.2 3.4-3.4 1.1 0 1.2-1.1 2.2-.1 6.9.1 1.1 1.1 1.1.1 3.4 3.3.1 1.2 1.1 1.1.1 2.3zM544.8 181.7l-3.4-.1-1.2-1.1-1.1 0-4.5-4.6-.2-2.3-1-1.1 0-4.5 1-1.2 1.2-3.4 3.5-3.4 1.1-.1 1.4-1 3.2-.1zM341.5 157.7l1.1 1.1 1.2 0 1.1 1 1.2.2 2.3 2.3 1.2 3.4 1 1.1.1 1.2-.1 4.6-.9 1-.2 2.3-4.6 4.6-1.1 0-1.1 1.1-1.2 0zM544.8 60.3l-2.3-1.1-2.3-.1-3.4-2.2-2.3-3.5-.2-2.2-.9-1.1 0-3.6.9-1 .2-2.3 1.1-1.1.1-1.1 4.5-3.5 2.3-.1 2.3-1zM341.5 36.3l2.2.1 2.4 2.2 1.1.2 3.4 5.6.1 2.2-.1 4.6-2.2 3.4-.1 1.1-4.5 3.4-2.3.1zM392.9 5.8l-.2 4.5-1.1 1.2-.1 1.2-3.4 3.4-1.2 0-1 1.1-2.4.1-5.7-.1-1.1-1-1.1-.1-4.6-4.6-.1-2.3-1-1.3 0-2.1zM515.4 5.8l-.1 3.5-2.2 3.3-.1 1.2-4.5 3.4-3.5.1-5.7-.1-3.4-2.3-1.1-1.1-1.3-3.5-1-1-.1-3.5zM439.2 182.7l-2.3-2.2 0-1.2-1.1-1.1-2.3 0-1.1-1.1-3.4 3.4-1.2.1-1.1 1-7 0-3.2-2.1-1.2-.2-2.2-2.3-1.3-3.4.1-7.9 2.1-2.3.2-1.1 1.1-1.2 1.2-.1 3.3-2.1 5.7-.1 1.2.9 2.3.3 3.4 3.4.2 1.2 1 1.1 0 1.1 1 1.2.1 4.5 3.3 3.4 1.1-1.1 3.5-.1 2.3 2.3 0 3.5-2.3 2.2zM375.6 181.8l-2.3-1.2-2.6-2.4-2-3.4-.3-8 1-1.1 1.6-3.7 4.6-3.2 9.1-.2 3.4 2.2 2.5 2.6.1 1.2 1.1 1.1.1 2.3.9 2.2-.9 2.3-.1 2.3-1.1 1.1 0 1.1-3.8 3.8-1.1 0-1.1 1.1-8 0zM457.3 181.6l-4.5-2.3-1.1-1.1-1.2 0-2.3-2.3.1-2.3 1-1.1-.8-2.3.8-2.2 0-2.3 1.2-2.4 4.5-4.4 1.2-.1 1.1-1 6.9 0 1.1 1 1.1 0 2.3 2.2 1.1.2.2 1.1 2.1 2.3.2 3.4.9 1.1-1.1 5.7-1 1.1-.1 1.1-2.3 2.3-4.4 2.3zM498.2 181.9l-1.1-1.1-1.1 0-4.6-4.9-.3-2.3-1.1-2.2 0-2.3.8-1.1.3-2.3 1-1.1.1-1.2 3.4-3.4 1.5-.3 1.1-1.1 9.1.3 4.7 3.4 1.4 3.4 1 1.1 0 6.8-2.2 3.4-.1 1.2-4.8 3.6-7.9.1zM379 177.7l2.3 0 2.2-1.1 4.1-4.1 0-3.4-1.1-2.3-3-2.9-1.1-.1-1.1-1-2.3 0-1.1 1.1-1.2 0-2.9 2.9-.1 2.3-1 1.1.9 1.2.2 2.2 2.9 3 1.6.4zM500.5 177.6l3.4.1 1.1-1.1 1.2 0 2.9-3 0-6.8-2.9-2.9-1.2 0-1.1-1.1-2.3 0-1.1 1-1.1.1-4.1 4.1 0 4.5 1.1 1.1.1 1.2 1.7 1.7 1.7.5zM379 139.6l-1.1-1-1.2 0-1.1-1.1-1.2-.1-2.3-2.3-.1-1.2-1-1-.2-2.4-.9-1 0-2.5.7-1 .4-2.4 1.1-2.1 2.2-2.3-1-1.1 0-1.2-1.1-1.1-.1-1.1-2.2-2.3-1.2 0 0-1.1-1.1-1.1 0-2.4 2.3-2.2 1.1 0 1.2-.8 1.1.8 1.2 0 1.1 1.1 0 1.2.8 1.1-.8 1.1 0 1.2-1.1 1.1 4.5 4.5 6.8 0 3.4 2.2 2.3 2.3.1 1.2 1.1 1.1-.1 9.1-1 1.1-.1 1.1-2.3 2.4-3.4 1.2-1.1 1-4.6.1zM501.6 139.7l-3.4-1.2-4.6-4.6 0-1.1-1.1-1.1 0-6.9 3.4-5.6 0-1.1-1.1-1.1 0-2.3-1.1-1.1-1.2 0-2.3-2.3.1-4.6 1.1-1.1 5.7 0 0 1.1 1.2 1.2-.1 3.4-1.1 1.1 4.5 4.5 5.8 0 1 1 1.2.1 1.9 1.2 3.8 5.6 0 6.9-2.2 3.4-3.5 3.4-3.4 1.2zM374.4 103.3l-2.2-2.2-.1-4.6-1.1-1-.1-1.2-1-1.1 0-8 1-1.1.1-1.2 3.4-3.4 2.3-1.2 1.2 0 1.1-1.1 5.7 0 1.1 1.1 1.1 0 1.2 1.1 1.1.1 2.3 2.2.1 1.2 1.1 1.2 0 1.1 1.1 1.1 0 5.8-1 1-.2 2.3-4.5 4.6-1.2 0-1.1 1.1-6.8.1-2.3 2.1zM497.1 103.3l-1 0-1.3-1.1 0-4.5-2.3-3.4-.1-2.3-.9-1.1-.1-2.3.9-1.1.2-3.4 2.3-2.8 3.4-2.9 2.3-.3 1.1-.9 4.6 0 1.1 1 2.3.2 5.7 5.8.1 3.3 1 1.1 0 1.1-.9 1.2-.2 3.4-1.1 1.1-.1 1.1-2.2 2.3-3.5 1.3-1 1-5.8.1-3.4 2.1zM441.4 61.4l-2.2-1.1-1.2 0-1.1-1.2 0-2.3-1.1-1-3.4-.1-4.5 3.4-2.4.1-2.2 1.1-1.2-.1-1.1-.9-2.3-.1-1.1-1-1.2-.2-3.4-3.4-.1-1.2-1-1 0-8.1 1-1.1.1-1.1 3.5-3.5 2.2-1.1 2.3-.1 1.1-1 5.7 1.1 2.3 2 1.1.3 2.3 3.4.2 2.3 1 1.1 0 3.4 1.1 1.2 2.2 2.2 1.2-1.1 3.4 0 2.3 2.3 0 4.5zM377.9 60.5l-1.2-.9-2.3-.2-4.8-4.8 0-1.2-1.1-1.1 0-7.9 1.1-1.2 0-1.1 4.8-4.8 2.3-.2 1.2-1 4.5 0 3.4 1.1 3.6 2.6.2 1.2 2.1 2.2 1 5.7-.8 1.1-.2 3.4-3.6 4.6-4.6 2.3-4.5.3zM459.6 60.3l-1.1-.9-2.3-.2-1.1-1-1.2-.2-2.2-2.2-2.3-.1-1.1-1.1-.1-2.3 1.1-1.1-.1-2.3-.8-1.1.8-1.2.2-3.4 1-1.1.1-1.2 2.2-2.2 3.5-2.3 3.4-.2 1.2-.8 1.1.8 3.5.2 1 1.1 1.2 0 3.4 3.4.1 1.2 1.1 1.1 0 2.3 1 1.9 0 1.5-.9 1.1-.1 2.3-1.1 1.1-.1 1.2-3.4 3.4-1.2.2-1.1 1-2.3.2-1.1.9-1.1 0zM499.4 60.4l-2.3-1-1.1-1.1-1.2-.1-2.3-2.4-1.4-2.4-.1-2.2-.9-1.2 0-3.4.9-1.1.1-2.3 3.7-4.7 1.2-.2 1.1-1.1 1.1 0 1.2-1 5.6-.1 1.2 1 2.2.3 4.9 4.7 0 1.1 1.2 2.3-.2 6.8-1 1.1 0 1.2-4.7 4.5-2.4.4-1.2 1-4.5.1zM377.9 55.2l5.6-.2 3-2.7 0-1.1 1.1-1.2 0-3.4-1.1-1.1 0-1.1-3-2.9-5.6-.1-3 1.8-1.2 3.4-1 1.2 0 1.1 1 1.1 1.2 3.4 2.2 1.2zM499.4 55.2l5.6 0 4.1-4 0-5.7-1.8-2.3-2.3-1.8-5.6.1-3 2.9-.1 1.1-1 1.1 0 3.4 1 1.2.1 1.1 2.3 2.3z"/></g>
<line x1="64" y1="165.5" x2="200.6" y2="144.8" stroke="#1a1a1a" stroke-width="0.7"/>
<line x1="390.5" y1="166.6" x2="511" y2="138.3" stroke="#1a1a1a" stroke-width="0.7"/>
<rect x="45.1" y="39.7" width="17.7" height="9.6" fill="#fff"/><text transform="translate(54.0 49.4) scale(0.96 1)" class="al">Ca</text><rect x="91.9" y="38.9" width="11.3" height="10.3" fill="#fff"/><text transform="translate(97.6 48.9) scale(0.96 1)" class="al">O</text><rect x="131.7" y="38.9" width="11.3" height="10.3" fill="#fff"/><text transform="translate(137.3 48.9) scale(0.96 1)" class="al">O</text><rect x="170.8" y="39.7" width="17.7" height="9.6" fill="#fff"/><text transform="translate(179.6 49.4) scale(0.96 1)" class="al">Ca</text><rect x="49.4" y="81.5" width="11.3" height="10.3" fill="#fff"/><text transform="translate(55.0 91.6) scale(0.96 1)" class="al">O</text><rect x="50.4" y="121.6" width="11.3" height="10.3" fill="#fff"/><text transform="translate(56.0 131.7) scale(0.96 1)" class="al">O</text><rect x="45.5" y="165.0" width="17.7" height="9.6" fill="#fff"/><text transform="translate(54.4 174.7) scale(0.96 1)" class="al">Ca</text><rect x="92.0" y="163.8" width="11.3" height="10.3" fill="#fff"/><text transform="translate(97.7 173.8) scale(0.96 1)" class="al">O</text><rect x="131.8" y="163.8" width="11.3" height="10.3" fill="#fff"/><text transform="translate(137.4 173.8) scale(0.96 1)" class="al">O</text><rect x="170.8" y="165.0" width="17.7" height="9.6" fill="#fff"/><text transform="translate(179.6 174.7) scale(0.96 1)" class="al">Ca</text><rect x="174.9" y="81.5" width="11.3" height="10.3" fill="#fff"/><text transform="translate(180.6 91.6) scale(0.96 1)" class="al">O</text><rect x="175.9" y="121.6" width="11.3" height="10.3" fill="#fff"/><text transform="translate(181.6 131.7) scale(0.96 1)" class="al">O</text><rect x="370.8" y="43.5" width="17.7" height="9.6" fill="#fff"/><text transform="translate(379.7 53.2) scale(0.96 1)" class="al">Ca</text><rect x="416.5" y="43.1" width="11.3" height="10.3" fill="#fff"/><text transform="translate(422.1 53.2) scale(0.96 1)" class="al">O</text><rect x="454.7" y="42.5" width="11.3" height="10.3" fill="#fff"/><text transform="translate(460.3 52.5) scale(0.96 1)" class="al">O</text><rect x="493.6" y="43.5" width="17.7" height="9.6" fill="#fff"/><text transform="translate(502.5 53.2) scale(0.96 1)" class="al">Ca</text><rect x="376.2" y="84.5" width="11.3" height="10.3" fill="#fff"/><text transform="translate(381.9 94.6) scale(0.96 1)" class="al">O</text><rect x="376.2" y="122.9" width="11.3" height="10.3" fill="#fff"/><text transform="translate(381.9 133.0) scale(0.96 1)" class="al">O</text><rect x="371.6" y="165.3" width="17.7" height="9.6" fill="#fff"/><text transform="translate(380.5 175.0) scale(0.96 1)" class="al">Ca</text><rect x="417.2" y="164.8" width="11.3" height="10.3" fill="#fff"/><text transform="translate(422.9 174.8) scale(0.96 1)" class="al">O</text><rect x="454.9" y="164.8" width="11.3" height="10.3" fill="#fff"/><text transform="translate(460.5 174.8) scale(0.96 1)" class="al">O</text><rect x="493.6" y="165.3" width="17.7" height="9.6" fill="#fff"/><text transform="translate(502.5 175.0) scale(0.96 1)" class="al">Ca</text><rect x="498.4" y="84.5" width="11.3" height="10.3" fill="#fff"/><text transform="translate(504.0 94.6) scale(0.96 1)" class="al">O</text><rect x="498.4" y="122.9" width="11.3" height="10.3" fill="#fff"/><text transform="translate(504.0 133.0) scale(0.96 1)" class="al">O</text>
<rect x="179.9" y="7" width="37.6" height="13.6" fill="#fff"/>
<text transform="translate(181 19.3) scale(0.88 1)" class="ti">0 GPa</text>
<rect x="504.5" y="9.6" width="36.5" height="12" fill="#fff"/>
<text transform="translate(505.3 21.4) scale(0.88 1)" class="ti">6 GPa</text>
<text x="37.7" y="156.5" class="lc">LCmax</text>
<text x="171.5" y="159" class="lc" style="font-size:9.5px">LCmin</text>
<text x="367.1" y="157.8" class="lc" style="font-size:9.5px">LCmax</text>
<text x="498.8" y="153.2" class="lc" style="font-size:9.2px">LCmin</text>
<text x="34.2" y="217.9" class="tk" text-anchor="middle">-2</text><text x="15.5" y="193.9" class="tk" text-anchor="end">-2</text><text x="53.6" y="217.9" class="tk" text-anchor="middle">0</text><text x="15.5" y="174.5" class="tk" text-anchor="end">0</text><text x="73.0" y="217.9" class="tk" text-anchor="middle">2</text><text x="15.5" y="155.1" class="tk" text-anchor="end">2</text><text x="92.4" y="217.9" class="tk" text-anchor="middle">4</text><text x="15.5" y="135.7" class="tk" text-anchor="end">4</text><text x="111.8" y="217.9" class="tk" text-anchor="middle">6</text><text x="15.5" y="116.3" class="tk" text-anchor="end">6</text><text x="131.2" y="217.9" class="tk" text-anchor="middle">8</text><text x="15.5" y="96.9" class="tk" text-anchor="end">8</text><text x="150.6" y="217.9" class="tk" text-anchor="middle">10</text><text x="15.5" y="77.5" class="tk" text-anchor="end">10</text><text x="170.0" y="217.9" class="tk" text-anchor="middle">12</text><text x="15.5" y="58.1" class="tk" text-anchor="end">12</text><text x="189.4" y="217.9" class="tk" text-anchor="middle">14</text><text x="15.5" y="38.7" class="tk" text-anchor="end">14</text><text x="208.8" y="217.9" class="tk" text-anchor="middle">16</text><text x="15.5" y="19.3" class="tk" text-anchor="end">16</text><text x="361.4" y="216.8" class="tk" text-anchor="middle">-2</text><text x="342.8" y="192.5" class="tk" text-anchor="end">-2</text><text x="380.3" y="216.8" class="tk" text-anchor="middle">0</text><text x="342.8" y="173.6" class="tk" text-anchor="end">0</text><text x="399.2" y="216.8" class="tk" text-anchor="middle">2</text><text x="342.8" y="154.7" class="tk" text-anchor="end">2</text><text x="418.2" y="216.8" class="tk" text-anchor="middle">4</text><text x="342.8" y="135.7" class="tk" text-anchor="end">4</text><text x="437.1" y="216.8" class="tk" text-anchor="middle">6</text><text x="342.8" y="116.8" class="tk" text-anchor="end">6</text><text x="456.1" y="216.8" class="tk" text-anchor="middle">8</text><text x="342.8" y="97.8" class="tk" text-anchor="end">8</text><text x="475.0" y="216.8" class="tk" text-anchor="middle">10</text><text x="342.8" y="78.9" class="tk" text-anchor="end">10</text><text x="493.9" y="216.8" class="tk" text-anchor="middle">12</text><text x="342.8" y="60.0" class="tk" text-anchor="end">12</text><text x="512.9" y="216.8" class="tk" text-anchor="middle">14</text><text x="342.8" y="41.0" class="tk" text-anchor="end">14</text><text x="531.8" y="216.8" class="tk" text-anchor="middle">16</text><text x="342.8" y="22.1" class="tk" text-anchor="end">16</text><rect x="221" y="34.1" width="11.8" height="4.85" fill="#0000e6"/><rect x="221" y="38.9" width="11.8" height="3.95" fill="#1a5ef0"/><rect x="221" y="42.8" width="11.8" height="4.05" fill="#1e8cf0"/><rect x="221" y="46.8" width="11.8" height="4.15" fill="#10b4f0"/><rect x="221" y="50.9" width="11.8" height="4.95" fill="#00e8f0"/><rect x="221" y="55.8" width="11.8" height="3.65" fill="#00f0f0"/><rect x="221" y="59.4" width="11.8" height="3.85" fill="#10f0f0"/><rect x="221" y="63.2" width="11.8" height="3.85" fill="#40f4f4"/><rect x="221" y="67" width="11.8" height="4.05" fill="#60f4f4"/><rect x="221" y="71" width="11.8" height="4.05" fill="#80f8f8"/><rect x="221" y="75" width="11.8" height="4.05" fill="#a0f8f8"/><rect x="221" y="79" width="11.8" height="4.55" fill="#c8fcfc"/><rect x="221" y="83.5" width="11.8" height="4.05" fill="#d8fcfc"/><rect x="221" y="87.5" width="11.8" height="3.55" fill="#e4fcfc"/><rect x="221" y="91" width="11.8" height="3.55" fill="#ecfcfc"/><rect x="221" y="94.5" width="11.8" height="3.05" fill="#f6fcfc"/><rect x="221" y="97.5" width="11.8" height="3.55" fill="#fcfcfc"/><rect x="221" y="101" width="11.8" height="3.55" fill="#fcfcf0"/><rect x="221" y="104.5" width="11.8" height="3.55" fill="#fcfce0"/><rect x="221" y="108" width="11.8" height="3.55" fill="#fcfcc8"/><rect x="221" y="111.5" width="11.8" height="4.05" fill="#fcfca8"/><rect x="221" y="115.5" width="11.8" height="3.55" fill="#fcfc88"/><rect x="221" y="119" width="11.8" height="4.05" fill="#fcfc60"/><rect x="221" y="123" width="11.8" height="4.05" fill="#fcfc30"/><rect x="221" y="127" width="11.8" height="3.85" fill="#fcfc10"/><rect x="221" y="130.8" width="11.8" height="3.95" fill="#fcf400"/><rect x="221" y="134.7" width="11.8" height="4.15" fill="#fcd040"/><rect x="221" y="138.8" width="11.8" height="4.25" fill="#fcb060"/><rect x="221" y="143" width="11.8" height="4.05" fill="#fca050"/><rect x="221" y="147" width="11.8" height="3.55" fill="#fc9838"/><rect x="221" y="150.5" width="11.8" height="4.05" fill="#fc9020"/><rect x="221" y="154.5" width="11.8" height="4.05" fill="#fc8810"/><rect x="221" y="158.5" width="11.8" height="3.05" fill="#fc7c20"/><rect x="221" y="161.5" width="11.8" height="2.65" fill="#fc6840"/><rect x="221" y="164.1" width="11.8" height="4.25" fill="#fc5060"/><rect x="221" y="168.3" width="11.8" height="4.25" fill="#fc0010"/><rect x="221" y="172.5" width="11.8" height="4.35" fill="#fc4880"/><rect x="221" y="176.8" width="11.8" height="4.05" fill="#fc00a0"/><rect x="221" y="180.8" width="11.8" height="4.05" fill="#fc00d0"/><rect x="221" y="184.8" width="11.8" height="4.05" fill="#fc00f0"/><rect x="221" y="188.8" width="11.8" height="4.05" fill="#f000f0"/><rect x="221" y="192.8" width="11.8" height="4.05" fill="#d000c8"/><rect x="221" y="196.8" width="11.8" height="4.05" fill="#a00090"/><rect x="221" y="200.8" width="11.8" height="5.05" fill="#a00070"/><path stroke="#000" stroke-opacity="0.1" stroke-width="0.4" d="M221 38.9h11.8M221 42.8h11.8M221 46.8h11.8M221 50.9h11.8M221 55.8h11.8M221 59.4h11.8M221 63.2h11.8M221 67h11.8M221 71h11.8M221 75h11.8M221 79h11.8M221 83.5h11.8M221 87.5h11.8M221 91h11.8M221 94.5h11.8M221 97.5h11.8M221 101h11.8M221 104.5h11.8M221 108h11.8M221 111.5h11.8M221 115.5h11.8M221 119h11.8M221 123h11.8M221 127h11.8M221 130.8h11.8M221 134.7h11.8M221 138.8h11.8M221 143h11.8M221 147h11.8M221 150.5h11.8M221 154.5h11.8M221 158.5h11.8M221 161.5h11.8M221 164.1h11.8M221 168.3h11.8M221 172.5h11.8M221 176.8h11.8M221 180.8h11.8M221 184.8h11.8M221 188.8h11.8M221 192.8h11.8M221 196.8h11.8M221 200.8h11.8"/><text transform="translate(239.6 42.30) scale(0.93 1)" class="cl">2.00</text><text transform="translate(239.6 53.81) scale(0.93 1)" class="cl">1.00</text><text transform="translate(239.6 65.32) scale(0.93 1)" class="cl">0.20</text><text transform="translate(239.6 76.83) scale(0.93 1)" class="cl">0.08</text><text transform="translate(239.6 88.34) scale(0.93 1)" class="cl">0.04</text><text transform="translate(239.6 99.85) scale(0.93 1)" class="cl">0.00</text><text transform="translate(234.6 111.36) scale(0.93 1)" class="cl">−0.1×10<tspan class="sup" dy="-3">−2</tspan></text><text transform="translate(234.6 122.87) scale(0.93 1)" class="cl">−0.2×10<tspan class="sup" dy="-3">−2</tspan></text><text transform="translate(234.6 134.38) scale(0.93 1)" class="cl">−0.4×10<tspan class="sup" dy="-3">−2</tspan></text><text transform="translate(234.6 145.89) scale(0.93 1)" class="cl">−0.8×10<tspan class="sup" dy="-3">−2</tspan></text><text transform="translate(234.6 157.40) scale(0.93 1)" class="cl">−0.02</text><text transform="translate(234.6 168.91) scale(0.93 1)" class="cl">−0.04</text><text transform="translate(234.6 180.42) scale(0.93 1)" class="cl">−0.08</text><text transform="translate(234.6 191.93) scale(0.93 1)" class="cl">−0.20</text><text transform="translate(234.6 203.44) scale(0.93 1)" class="cl">−1.00</text>
<text x="140.3" y="235.4" class="pl" text-anchor="middle">(<tspan font-weight="bold">a</tspan>)</text>
<text x="437.7" y="235.4" class="pl" text-anchor="middle">(<tspan font-weight="bold">b</tspan>)</text>
</svg>
</body></html>
